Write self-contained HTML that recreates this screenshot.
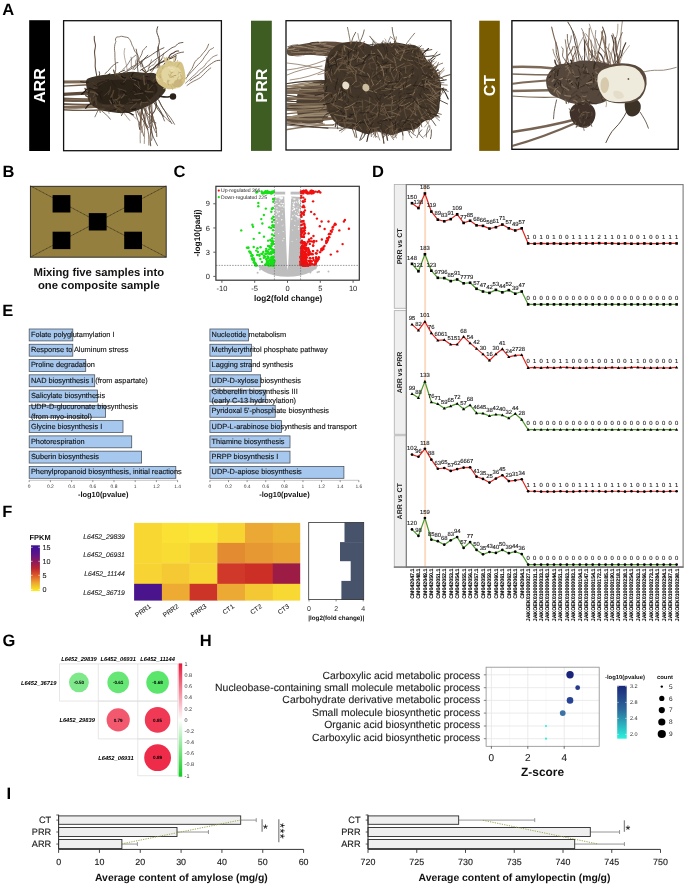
<!DOCTYPE html>
<html><head><meta charset="utf-8"><title>Figure</title>
<style>html,body{margin:0;padding:0;background:#fff;}svg{display:block;}</style></head><body>
<svg width="685" height="884" viewBox="0 0 685 884" font-family="'Liberation Sans', Arial, Helvetica, sans-serif" text-rendering="geometricPrecision">
<rect width="685" height="884" fill="#fff"/>
<text x="2.2" y="14.7" font-size="16.5" font-weight="bold">A</text>
<rect x="29.2" y="20.2" width="20.8" height="130.8" fill="#000"/>
<text x="45.4" y="85.6" font-size="16" font-weight="bold" text-anchor="middle" fill="#fff" transform="rotate(-90 45.4 85.6)">ARR</text>
<rect x="251" y="20.7" width="20.8" height="130.2" fill="#3e5d23"/>
<text x="267.2" y="85.6" font-size="16" font-weight="bold" text-anchor="middle" fill="#fff" transform="rotate(-90 267.2 85.6)">PRR</text>
<rect x="479.2" y="20.7" width="20.6" height="130.2" fill="#7a5c00"/>
<text x="495.3" y="85.6" font-size="16" font-weight="bold" text-anchor="middle" fill="#fff" transform="rotate(-90 495.3 85.6)">CT</text>
<defs><clipPath id="ca"><rect x="64" y="21" width="157" height="129"/></clipPath><clipPath id="cp"><rect x="286.5" y="21" width="164" height="128.5"/></clipPath><clipPath id="cc"><rect x="512.5" y="21" width="165" height="127.5"/></clipPath><filter id="pb" x="-5%" y="-5%" width="110%" height="110%"><feGaussianBlur stdDeviation="0.35"/></filter></defs>
<g clip-path="url(#ca)"><g filter="url(#pb)"><path d="M96.71 75.56Q95.74 70.71 95.39 68.16Q95.05 65.61 95.25 62.92Q95.45 60.23 95.08 57.73Q94.71 55.23 94.58 52.99Q94.45 50.74 95.12 48.51Q95.78 46.27 95.32 44.36Q94.86 42.46 94.55 41.14Q94.24 39.81 94.27 38.03L94.3 36.25" fill="none" stroke="#5e4a3a" stroke-width="1.06" stroke-linecap="round" stroke-linejoin="round"/>
<path d="M115.07 73.76Q116.03 68.56 115.68 65.87Q115.32 63.18 115.1 60.32Q114.89 57.47 114.91 54.9Q114.92 52.34 114.63 50.66Q114.34 48.98 114.58 46.54Q114.81 44.1 115.51 42.63Q116.2 41.17 115.69 40.84Q115.17 40.52 115.6 38.79Q116.03 37.06 117.08 36.97Q118.13 36.88 118.67 36.9Q119.22 36.92 120.17 36.47Q121.13 36.03 123.09 36.56Q125.04 37.09 126.61 37.27Q128.19 37.44 128.97 38.43Q129.75 39.42 130.46 40.78Q131.17 42.13 131.62 43.74Q132.06 45.35 132.87 46.49Q133.67 47.62 134.02 49.39Q134.36 51.15 135.94 52.54Q137.51 53.94 137.96 55.48Q138.41 57.02 138.67 58.83Q138.93 60.64 139.65 61.68Q140.36 62.71 140.69 64.84L141.02 66.97" fill="none" stroke="#6b5646" stroke-width="0.82" stroke-linecap="round" stroke-linejoin="round"/>
<path d="M157.77 67.79Q159.31 61.67 159.35 59.98Q159.4 58.28 159.29 55.64Q159.19 53 158.53 49.85Q157.87 46.71 158.77 44.79Q159.66 42.87 159.16 39.98Q158.65 37.08 157.97 35.65Q157.29 34.22 156.91 32.55Q156.52 30.89 157.09 28.83L157.66 26.77" fill="none" stroke="#4f3c2e" stroke-width="0.93" stroke-linecap="round" stroke-linejoin="round"/>
<path d="M140.17 70.49Q144.2 67.74 146.05 66.83Q147.91 65.92 149.94 64.03Q151.97 62.15 154.68 60.09Q157.4 58.03 159.02 57.09Q160.64 56.15 163.64 53.82Q166.64 51.5 167.34 50.99Q168.05 50.48 170.13 48.94Q172.21 47.39 173.56 47.08Q174.9 46.76 175.89 45.8Q176.87 44.84 177.71 43.96Q178.54 43.08 180.73 42.78L182.93 42.48" fill="none" stroke="#4f3c2e" stroke-width="0.83" stroke-linecap="round" stroke-linejoin="round"/>
<path d="M145.84 72.81Q149.98 69.37 152.42 68.5Q154.86 67.62 156.06 65.79Q157.25 63.96 159.78 62.93Q162.31 61.9 163.73 60.33Q165.15 58.76 167.99 58.13Q170.83 57.5 172.32 56.33Q173.8 55.16 176.32 53.96Q178.83 52.76 181.2 52.41L183.56 52.06" fill="none" stroke="#6b5646" stroke-width="0.92" stroke-linecap="round" stroke-linejoin="round"/>
<path d="M123.28 72.9Q127 71.13 128.85 70.18Q130.71 69.23 132.45 68.04Q134.18 66.85 136.4 64.95Q138.62 63.05 140.79 61.39Q142.96 59.73 145.58 58.44Q148.2 57.15 150.33 55.72Q152.47 54.29 155.2 52.38Q157.94 50.48 160.92 49.11L163.91 47.74" fill="none" stroke="#4f3c2e" stroke-width="0.83" stroke-linecap="round" stroke-linejoin="round"/>
<path d="M150.47 70.41Q153.92 68.16 155.15 66.6Q156.37 65.04 158.59 63.89Q160.8 62.74 162.98 61.66Q165.17 60.58 168.28 59.36Q171.39 58.15 173.82 56.96L176.25 55.76" fill="none" stroke="#4f3c2e" stroke-width="1.07" stroke-linecap="round" stroke-linejoin="round"/>
<path d="M127.14 70.18Q129.9 68.18 131.53 67.09Q133.17 65.99 135.02 65.19Q136.87 64.39 137.39 62.49Q137.92 60.59 139 58.98Q140.08 57.37 141.06 55.5Q142.03 53.62 142.27 52Q142.51 50.38 144.05 49.14Q145.58 47.89 146.07 47.11L146.56 46.32" fill="none" stroke="#6b5646" stroke-width="0.8" stroke-linecap="round" stroke-linejoin="round"/>
<path d="M105.02 73.6Q108.36 70.74 108.85 70.11Q109.34 69.48 110.83 67.68Q112.32 65.88 113.55 65.1Q114.78 64.32 115.56 63.53Q116.33 62.73 117.1 62.67L117.86 62.61" fill="none" stroke="#5e4a3a" stroke-width="0.88" stroke-linecap="round" stroke-linejoin="round"/>
<path d="M161.77 70.17Q162.97 65.94 163.81 64.97Q164.66 64.01 165.68 62.21Q166.7 60.42 167.8 58.99Q168.9 57.55 169.12 56.73Q169.34 55.9 170.44 54.66Q171.55 53.43 172.69 53.17Q173.83 52.92 174.91 51.94Q175.99 50.96 177.33 50.96L178.68 50.96" fill="none" stroke="#4f3c2e" stroke-width="1.06" stroke-linecap="round" stroke-linejoin="round"/>
<path d="M143.19 66.25Q142.8 65.09 142.15 64.07Q141.5 63.05 140.32 62.66Q139.14 62.27 138.59 61.45L138.04 60.64" fill="none" stroke="#5a4636" stroke-width="0.7" stroke-linecap="round" stroke-linejoin="round"/>
<path d="M160.99 74.97Q160 66.62 159.4 63.33Q158.8 60.04 157.9 57.12Q157 54.21 157.49 50.59L157.99 46.97" fill="none" stroke="#3e3024" stroke-width="0.7" stroke-linecap="round" stroke-linejoin="round"/>
<path d="M134.26 69.6Q138.93 64.49 140.28 63.49Q141.62 62.49 143.28 60.15Q144.95 57.82 146.41 56.54L147.87 55.26" fill="none" stroke="#3e3024" stroke-width="0.8" stroke-linecap="round" stroke-linejoin="round"/>
<path d="M122.69 69.69Q125.92 67.07 127.36 64.91Q128.8 62.74 129.82 60.92Q130.84 59.09 133.3 57.14L135.75 55.19" fill="none" stroke="#4a3a2c" stroke-width="0.64" stroke-linecap="round" stroke-linejoin="round"/>
<path d="M146.77 72.18Q148.64 70.03 148.93 67.67Q149.23 65.31 149.99 63.88Q150.74 62.46 151.1 61.11L151.46 59.77" fill="none" stroke="#5a4636" stroke-width="0.6" stroke-linecap="round" stroke-linejoin="round"/>
<path d="M138.12 72.73Q137.42 67.23 137.33 64.01Q137.24 60.79 137.19 57.5Q137.15 54.21 136.65 51.69L136.16 49.17" fill="none" stroke="#3e3024" stroke-width="0.77" stroke-linecap="round" stroke-linejoin="round"/>
<path d="M148.67 68.14Q152.01 64.91 153 64.98Q153.99 65.04 154.65 63.71Q155.31 62.39 155.97 61.5L156.63 60.6" fill="none" stroke="#4a3a2c" stroke-width="0.59" stroke-linecap="round" stroke-linejoin="round"/>
<path d="M146.26 72.02Q143.94 67.53 143.34 67.37Q142.74 67.21 142.44 66.03Q142.14 64.85 141.89 63.07L141.65 61.28" fill="none" stroke="#3e3024" stroke-width="0.78" stroke-linecap="round" stroke-linejoin="round"/>
<path d="M132.88 69.75Q133.57 66.99 134.82 66.66Q136.06 66.32 135.7 64.15Q135.34 61.97 135.75 60.93L136.16 59.9" fill="none" stroke="#7a634f" stroke-width="0.66" stroke-linecap="round" stroke-linejoin="round"/>
<path d="M156.76 67.36Q158 64.54 159.28 62.61Q160.56 60.68 161.53 59.12Q162.5 57.56 163.19 55.42L163.88 53.29" fill="none" stroke="#3e3024" stroke-width="0.54" stroke-linecap="round" stroke-linejoin="round"/>
<path d="M151.43 72.1Q154.82 67.87 155.38 66.74Q155.95 65.61 157.91 63.69Q159.86 61.76 160.83 60.32L161.8 58.89" fill="none" stroke="#3e3024" stroke-width="0.68" stroke-linecap="round" stroke-linejoin="round"/>
<path d="M127.45 72.92Q126.77 65.79 126.02 63.25Q125.27 60.71 124.52 56.91Q123.78 53.12 124.29 50.76L124.8 48.4" fill="none" stroke="#7a634f" stroke-width="0.53" stroke-linecap="round" stroke-linejoin="round"/>
<path d="M169.28 67.65Q170.48 63.58 171.83 63.19Q173.19 62.8 174.38 61.54Q175.57 60.28 175.73 58.75L175.9 57.21" fill="none" stroke="#3e3024" stroke-width="0.8" stroke-linecap="round" stroke-linejoin="round"/>
<path d="M131.36 67.17Q131.4 64.22 131.28 63.14Q131.16 62.05 131.36 60.84Q131.56 59.63 131.3 58.44L131.04 57.25" fill="none" stroke="#3e3024" stroke-width="0.52" stroke-linecap="round" stroke-linejoin="round"/>
<path d="M185.91 78.48Q189.81 73.39 191.57 71.71Q193.33 70.03 194.68 68.41Q196.03 66.79 198.32 64.6Q200.6 62.41 201.91 60.83Q203.22 59.26 204.02 57.73Q204.81 56.2 205.91 55.08Q207.01 53.97 208.31 51.74Q209.61 49.52 210.72 49.25Q211.82 48.99 212.69 48.31L213.56 47.63" fill="none" stroke="#5e4a3a" stroke-width="0.75" stroke-linecap="round" stroke-linejoin="round"/>
<path d="M185.66 83.08Q189.24 79.86 190.8 78.14Q192.36 76.41 194.12 75.25Q195.87 74.09 197.74 71.65Q199.6 69.2 201.69 68.34Q203.78 67.48 205.29 64.79Q206.81 62.1 207.68 61.76Q208.55 61.42 210.07 59.43Q211.6 57.43 213.2 56.65Q214.81 55.86 215.98 55.45L217.15 55.03" fill="none" stroke="#7a634f" stroke-width="0.74" stroke-linecap="round" stroke-linejoin="round"/>
<path d="M187.4 75.52Q190.46 70.55 191.35 69.51Q192.23 68.48 192.87 66.64Q193.51 64.8 194.31 63.1Q195.1 61.39 196.68 59.79Q198.25 58.2 199.38 57.5Q200.5 56.81 201.55 55.16Q202.6 53.52 203.77 52.33Q204.93 51.14 205.96 49.71Q206.99 48.28 207.8 46.21L208.62 44.15" fill="none" stroke="#7a634f" stroke-width="0.89" stroke-linecap="round" stroke-linejoin="round"/>
<path d="M189.91 80.77Q194.38 77.27 196.66 75.99Q198.94 74.71 200.51 72.95Q202.08 71.19 203.97 69.59Q205.86 67.99 207.71 66.39Q209.57 64.8 211.6 63.43Q213.62 62.06 215.05 61.3Q216.47 60.54 218.16 60.43L219.86 60.33" fill="none" stroke="#6b5646" stroke-width="0.9" stroke-linecap="round" stroke-linejoin="round"/>
<path d="M187.03 85.49Q191.09 82.31 193.8 81.05Q196.51 79.78 198.65 78.64Q200.8 77.5 201.95 76.24Q203.1 74.98 205.49 72.56Q207.89 70.15 209.35 69L210.81 67.86" fill="none" stroke="#6b5646" stroke-width="0.79" stroke-linecap="round" stroke-linejoin="round"/>
<path d="M146.84 106.97Q145.51 111.32 144.78 113.92Q144.05 116.51 144.5 119.38Q144.95 122.25 143.55 124.75Q142.16 127.24 141.87 129.82L141.58 132.39" fill="none" stroke="#7a634f" stroke-width="0.67" stroke-linecap="round" stroke-linejoin="round"/>
<path d="M149.58 104.28Q148.99 110.99 150.77 112.87Q152.54 114.75 152.56 116.49Q152.58 118.23 153.8 121.01Q155.02 123.79 155.58 126.2L156.13 128.62" fill="none" stroke="#6b5646" stroke-width="1.08" stroke-linecap="round" stroke-linejoin="round"/>
<path d="M151.62 100.11Q151.86 110.06 152.17 113.94Q152.48 117.81 152.1 122.16Q151.71 126.5 150.73 131.86Q149.75 137.21 150.24 141.53L150.73 145.85" fill="none" stroke="#6b5646" stroke-width="1.04" stroke-linecap="round" stroke-linejoin="round"/>
<path d="M141.09 102.61Q142.77 108.98 142.36 110.71Q141.96 112.43 141.08 114.88Q140.19 117.33 140.47 119.89Q140.75 122.45 140.16 125.82L139.57 129.19" fill="none" stroke="#6b5646" stroke-width="1.02" stroke-linecap="round" stroke-linejoin="round"/>
<path d="M141.37 104.27Q142.23 112.41 143.25 116.39Q144.26 120.36 145.71 124.14Q147.17 127.91 148.02 131.12Q148.88 134.33 148.9 139.72L148.92 145.1" fill="none" stroke="#7a634f" stroke-width="0.93" stroke-linecap="round" stroke-linejoin="round"/>
<path d="M147.76 105.11Q150.2 111.9 149.52 115.83Q148.83 119.76 149.85 123.48Q150.86 127.2 151.74 130.58Q152.62 133.95 152.11 137.16L151.59 140.37" fill="none" stroke="#4a3a2c" stroke-width="0.74" stroke-linecap="round" stroke-linejoin="round"/>
<path d="M141.58 101.02Q141.26 111.14 141.53 115.55Q141.8 119.96 141.19 123.56Q140.59 127.17 140.32 131.65Q140.06 136.14 140.18 139.5L140.29 142.86" fill="none" stroke="#6b5646" stroke-width="0.64" stroke-linecap="round" stroke-linejoin="round"/>
<path d="M144.94 108.33Q147.18 111.28 147.22 112.61Q147.27 113.93 149.42 114.93Q151.56 115.92 151.42 118.7Q151.27 121.48 153.57 122.17L155.86 122.87" fill="none" stroke="#5a4636" stroke-width="0.87" stroke-linecap="round" stroke-linejoin="round"/>
<path d="M149.72 102.46Q150.92 108.02 151.78 112.08Q152.64 116.14 153.45 118.57Q154.27 121 155.35 125.57Q156.44 130.14 156.62 133.35L156.79 136.55" fill="none" stroke="#6b5646" stroke-width="0.96" stroke-linecap="round" stroke-linejoin="round"/>
<path d="M134.36 107.3Q137.5 110.85 138.17 113.13Q138.85 115.42 140.66 117.13Q142.47 118.84 143.23 120.57Q143.99 122.3 145.87 125.82L147.75 129.35" fill="none" stroke="#5a4636" stroke-width="1" stroke-linecap="round" stroke-linejoin="round"/>
<path d="M143.75 101.25Q142.55 106.42 141.28 110.27Q140.01 114.11 140.87 116.7Q141.73 119.29 139.95 121.71Q138.17 124.13 139.07 126.71L139.97 129.3" fill="none" stroke="#4a3a2c" stroke-width="0.74" stroke-linecap="round" stroke-linejoin="round"/>
<path d="M136.65 101.87Q137.82 108.21 139.08 111.63Q140.33 115.04 140.49 119.04Q140.65 123.05 141.04 125.35Q141.42 127.65 142.57 131.89L143.72 136.13" fill="none" stroke="#7a634f" stroke-width="0.9" stroke-linecap="round" stroke-linejoin="round"/>
<path d="M140.67 103.21Q145.14 111.33 146.44 113.72Q147.74 116.11 149.04 117.68Q150.33 119.24 151.86 123.29Q153.38 127.34 154.6 130.08L155.83 132.81" fill="none" stroke="#6b5646" stroke-width="0.8" stroke-linecap="round" stroke-linejoin="round"/>
<path d="M144.03 101.2Q146.04 110.13 145.79 114.94Q145.55 119.76 145.08 123.08Q144.62 126.4 144.56 130.83Q144.5 135.26 144.39 139.39L144.28 143.52" fill="none" stroke="#7a634f" stroke-width="0.68" stroke-linecap="round" stroke-linejoin="round"/>
<path d="M156.31 105.24Q155.25 110.51 154.24 111.57Q153.24 112.63 152.11 114.81Q150.98 116.98 151.15 119.82Q151.33 122.66 150.32 123.37L149.32 124.08" fill="none" stroke="#5a4636" stroke-width="1.04" stroke-linecap="round" stroke-linejoin="round"/>
<path d="M142.21 103.33Q146.03 112.85 147.14 116.91Q148.25 120.97 149.13 124.6Q150 128.24 151.85 133.26Q153.71 138.28 155.58 141.88L157.45 145.48" fill="none" stroke="#4a3a2c" stroke-width="0.76" stroke-linecap="round" stroke-linejoin="round"/>
<path d="M130.78 104.59Q134.83 106.41 135.3 108.7Q135.77 111 136.14 113.56Q136.52 116.12 137.16 117.96Q137.8 119.8 138.71 122.49L139.62 125.18" fill="none" stroke="#5a4636" stroke-width="0.83" stroke-linecap="round" stroke-linejoin="round"/>
<path d="M139.9 101.06Q141.84 105.42 141.56 107.99Q141.27 110.55 142.94 114.1Q144.6 117.64 144.62 119.71Q144.63 121.79 146.49 124.65L148.35 127.52" fill="none" stroke="#4a3a2c" stroke-width="0.88" stroke-linecap="round" stroke-linejoin="round"/>
<path d="M150.7 100.14Q154.92 102.71 155.46 104.83Q156 106.96 157.99 109.47Q159.98 111.98 161.67 114.26L163.35 116.54" fill="none" stroke="#4a3a2c" stroke-width="0.91" stroke-linecap="round" stroke-linejoin="round"/>
<path d="M158.98 100.52Q161.45 106.6 163.4 108.97Q165.36 111.34 166.6 114.47Q167.84 117.61 169.9 120.64L171.96 123.67" fill="none" stroke="#5a4636" stroke-width="0.86" stroke-linecap="round" stroke-linejoin="round"/>
<path d="M157.34 98.09Q161.88 106.39 163.66 109.2Q165.44 112.01 167.84 114.52Q170.24 117.03 172.39 120.68L174.54 124.34" fill="none" stroke="#5a4636" stroke-width="0.74" stroke-linecap="round" stroke-linejoin="round"/>
<path d="M153.4 98.17Q155.28 103.16 157.38 105.96Q159.49 108.76 160.9 112.03Q162.31 115.3 163.39 118.11L164.48 120.91" fill="none" stroke="#4a3a2c" stroke-width="0.73" stroke-linecap="round" stroke-linejoin="round"/>
<path d="M153.95 102.95Q158.61 107.76 160.46 110.94Q162.32 114.11 164.09 116.23Q165.87 118.36 167.98 120.21L170.09 122.05" fill="none" stroke="#5a4636" stroke-width="0.65" stroke-linecap="round" stroke-linejoin="round"/>
<path d="M101.56 110.76Q106.43 114.53 108.37 116.87L110.31 119.22" fill="none" stroke="#4a3a2c" stroke-width="0.7" stroke-linecap="round" stroke-linejoin="round"/>
<path d="M100.4 105.69Q97.54 111.31 96.23 114.09L94.92 116.88" fill="none" stroke="#5a4636" stroke-width="0.7" stroke-linecap="round" stroke-linejoin="round"/>
<path d="M116.42 104.15Q118.33 109.13 119.85 111.6L121.37 114.07" fill="none" stroke="#7a634f" stroke-width="0.7" stroke-linecap="round" stroke-linejoin="round"/>
<path d="M119.59 106.76Q124.92 114.62 127.35 117.53L129.78 120.44" fill="none" stroke="#8a735f" stroke-width="0.7" stroke-linecap="round" stroke-linejoin="round"/>
<path d="M109.54 109.27Q108.53 110.56 108.81 112.01L109.09 113.47" fill="none" stroke="#8a735f" stroke-width="0.7" stroke-linecap="round" stroke-linejoin="round"/>
<path d="M125.08 105.41Q126.75 110.93 129.16 112.86L131.56 114.8" fill="none" stroke="#7a634f" stroke-width="0.7" stroke-linecap="round" stroke-linejoin="round"/>
<path d="M125.71 109.39Q131.18 113.49 133.78 116.3L136.38 119.12" fill="none" stroke="#8a735f" stroke-width="0.7" stroke-linecap="round" stroke-linejoin="round"/>
<path d="M99.23 104.32Q99.72 109.41 99.97 110.96L100.22 112.51" fill="none" stroke="#3e3024" stroke-width="0.7" stroke-linecap="round" stroke-linejoin="round"/>
<path d="M63 81.94Q83.69 81.44 105 81.8" fill="none" stroke="#7b6752" stroke-width="3" stroke-linecap="round"/>
<path d="M63 86.09Q83.86 84.58 105 84.18" fill="none" stroke="#6e5a48" stroke-width="1.4" stroke-linecap="round"/>
<path d="M63 94.32Q85.14 92.81 105 93.07" fill="none" stroke="#5e4c3c" stroke-width="3.2" stroke-linecap="round"/>
<path d="M63 98.36Q83.09 99.58 105 98.77" fill="none" stroke="#6e5a48" stroke-width="1.5" stroke-linecap="round"/>
<path d="M63 100.35Q84.41 100.97 105 100.39" fill="none" stroke="#6e5a48" stroke-width="2.6" stroke-linecap="round"/>
<path d="M63 104.06Q83.07 105.24 105 104.13" fill="none" stroke="#6e5a48" stroke-width="2" stroke-linecap="round"/>
<path d="M63 107.05Q84.95 107.87 105 105.92" fill="none" stroke="#7b6752" stroke-width="2.8" stroke-linecap="round"/>
<path d="M63 109.77Q83.5 111.1 105 109.68" fill="none" stroke="#6e5a48" stroke-width="1.4" stroke-linecap="round"/>
<path d="M86.38 86.29Q85 79.69 87.91 78.5Q90.81 77.3 96.72 75.99Q102.63 74.69 109.9 74.24Q117.17 73.79 124.59 72.53Q132.01 71.26 138.59 72.18Q145.18 73.09 150.64 72.86Q156.09 72.62 159.07 77.17Q162.06 81.72 164.74 85.28Q167.42 88.85 164.22 92.76Q161.01 96.68 157.81 99.77Q154.6 102.87 147.54 106.18Q140.47 109.5 133.47 111.48Q126.47 113.47 118.35 112.89Q110.23 112.31 104.18 111.02Q98.13 109.72 93.19 106.26Q88.25 102.79 88 97.84Q87.76 92.88 86.38 86.29Z" fill="#3e3126" />
<path d="M95.17 89.79Q94.85 82.84 101.57 81.44Q108.3 80.05 116.52 79.74Q124.74 79.43 133.59 79.47Q142.44 79.5 148.37 80.85Q154.31 82.21 156.86 86.31Q159.41 90.42 153.92 95.71Q148.43 101 141.95 102.68Q135.47 104.35 124.71 104.33Q113.94 104.32 106.59 104.25Q99.25 104.18 97.37 100.46Q95.49 96.74 95.17 89.79Z" fill="#2b2119" />
<path d="M145.04 93.27Q140.7 90.95 138.7 89.02" fill="none" stroke="#1e1712" stroke-width="1" stroke-linecap="round"/>
<path d="M147.39 103.46Q147.92 100.49 148.52 99.19" fill="none" stroke="#3a2d23" stroke-width="1.14" stroke-linecap="round"/>
<path d="M105.43 80.1Q106.9 80.94 108.69 79.49" fill="none" stroke="#261d16" stroke-width="0.74" stroke-linecap="round"/>
<path d="M119.64 89.67Q118.04 94.77 119.01 97.43" fill="none" stroke="#3a2d23" stroke-width="1.18" stroke-linecap="round"/>
<path d="M131.52 100.89Q130.11 100.31 129.14 98.56" fill="none" stroke="#3a2d23" stroke-width="1.26" stroke-linecap="round"/>
<path d="M148.02 102.61Q144.6 102.28 141.12 102.68" fill="none" stroke="#614f3d" stroke-width="0.74" stroke-linecap="round"/>
<path d="M140.63 105.24Q140.75 103.19 141.4 101.96" fill="none" stroke="#614f3d" stroke-width="1.23" stroke-linecap="round"/>
<path d="M145.94 96.03Q148.49 100.28 150.9 101.62" fill="none" stroke="#54432f" stroke-width="0.82" stroke-linecap="round"/>
<path d="M156.99 77.66Q154.89 77.88 153.24 80.65" fill="none" stroke="#54432f" stroke-width="1.21" stroke-linecap="round"/>
<path d="M134.22 83.83Q136.96 85.35 140.19 89.35" fill="none" stroke="#614f3d" stroke-width="0.93" stroke-linecap="round"/>
<path d="M111.64 111.25Q110.11 110.66 109.15 109.17" fill="none" stroke="#54432f" stroke-width="1.26" stroke-linecap="round"/>
<path d="M130.53 108.48Q132.75 106.72 136.91 102.81" fill="none" stroke="#614f3d" stroke-width="0.94" stroke-linecap="round"/>
<path d="M148.07 80.62Q147.04 81.29 145.71 83.97" fill="none" stroke="#614f3d" stroke-width="0.96" stroke-linecap="round"/>
<path d="M132.7 102.38Q130.15 101.94 126.85 103.4" fill="none" stroke="#4a3b2e" stroke-width="0.78" stroke-linecap="round"/>
<path d="M115.4 74.91Q113.79 71.05 113.54 70.08" fill="none" stroke="#614f3d" stroke-width="1.27" stroke-linecap="round"/>
<path d="M125.99 94.69Q123.53 91.63 123.45 91.22" fill="none" stroke="#1e1712" stroke-width="1.44" stroke-linecap="round"/>
<path d="M113.5 102.63Q111.36 97.93 112.1 94.3" fill="none" stroke="#4a3b2e" stroke-width="1" stroke-linecap="round"/>
<path d="M154.07 87.25Q154.42 90.79 153.75 95.52" fill="none" stroke="#3a2d23" stroke-width="0.81" stroke-linecap="round"/>
<path d="M132.82 73.27Q131.9 74.74 130.71 78.4" fill="none" stroke="#1e1712" stroke-width="1.09" stroke-linecap="round"/>
<path d="M109.74 90.07Q107.78 93.06 103.81 95.85" fill="none" stroke="#4a3b2e" stroke-width="0.96" stroke-linecap="round"/>
<path d="M115.69 106.64Q115.58 108.14 116.41 111.34" fill="none" stroke="#54432f" stroke-width="1.36" stroke-linecap="round"/>
<path d="M145.26 91.31Q149.77 92.06 152.81 91.85" fill="none" stroke="#54432f" stroke-width="1.43" stroke-linecap="round"/>
<path d="M101.73 99.57Q100.65 94.99 97.36 92.01" fill="none" stroke="#1e1712" stroke-width="0.83" stroke-linecap="round"/>
<path d="M149.56 76.79Q147.89 76.28 143.63 77.06" fill="none" stroke="#1e1712" stroke-width="0.85" stroke-linecap="round"/>
<path d="M97 88.1Q95.52 87.63 93.05 88.72" fill="none" stroke="#54432f" stroke-width="1.27" stroke-linecap="round"/>
<path d="M123.22 82.28Q125.93 81.55 126.14 78.41" fill="none" stroke="#54432f" stroke-width="0.93" stroke-linecap="round"/>
<path d="M89.16 88.17Q92.23 89.09 94.79 90.18" fill="none" stroke="#261d16" stroke-width="1.4" stroke-linecap="round"/>
<path d="M110.53 86.93Q110.54 91.13 108.22 94.48" fill="none" stroke="#4a3b2e" stroke-width="1.15" stroke-linecap="round"/>
<path d="M162.28 86.51Q159.26 84.89 154.6 82.52" fill="none" stroke="#3a2d23" stroke-width="1.09" stroke-linecap="round"/>
<path d="M134.25 74.55Q136.73 77.15 139.51 76.95" fill="none" stroke="#4a3b2e" stroke-width="0.63" stroke-linecap="round"/>
<path d="M95.14 92.28Q95.64 93.64 93.28 97.1" fill="none" stroke="#614f3d" stroke-width="0.84" stroke-linecap="round"/>
<path d="M105.17 80.8Q102.36 78.76 96.68 79.7" fill="none" stroke="#3a2d23" stroke-width="1.04" stroke-linecap="round"/>
<path d="M137.31 93.93Q136.05 93.09 132.8 89.44" fill="none" stroke="#261d16" stroke-width="0.84" stroke-linecap="round"/>
<path d="M150.06 80.32Q147.57 80.5 146.93 82.71" fill="none" stroke="#261d16" stroke-width="1.16" stroke-linecap="round"/>
<path d="M124.23 94.55Q123.37 96.38 121.02 98" fill="none" stroke="#614f3d" stroke-width="1.18" stroke-linecap="round"/>
<path d="M113.7 100.25Q118.06 99.87 120.15 96.57" fill="none" stroke="#54432f" stroke-width="1.4" stroke-linecap="round"/>
<path d="M109.43 105.96Q104.53 106.05 102.38 105.41" fill="none" stroke="#4a3b2e" stroke-width="1.38" stroke-linecap="round"/>
<path d="M88.38 82.16Q84.17 82.62 80.61 81.79" fill="none" stroke="#261d16" stroke-width="0.93" stroke-linecap="round"/>
<path d="M139.99 79.34Q141.49 76.57 142.61 76.02" fill="none" stroke="#4a3b2e" stroke-width="1.18" stroke-linecap="round"/>
<path d="M94.3 101.61Q93.16 103.94 93.83 105.55" fill="none" stroke="#261d16" stroke-width="0.81" stroke-linecap="round"/>
<path d="M132.01 109.64Q134.44 109.05 135.75 108.94" fill="none" stroke="#1e1712" stroke-width="1.2" stroke-linecap="round"/>
<path d="M115.71 99.17Q118.47 101.79 118.24 102.19" fill="none" stroke="#614f3d" stroke-width="0.86" stroke-linecap="round"/>
<path d="M93.85 85.2Q96.89 85.34 100.02 86.24" fill="none" stroke="#261d16" stroke-width="0.99" stroke-linecap="round"/>
<path d="M155.32 97.98Q155.65 100.53 156.53 105.21" fill="none" stroke="#3a2d23" stroke-width="0.95" stroke-linecap="round"/>
<path d="M140.91 93.84Q140.54 90.81 142.12 90.15" fill="none" stroke="#261d16" stroke-width="1.39" stroke-linecap="round"/>
<path d="M119.48 78.07Q121.41 75.86 122.93 75.01" fill="none" stroke="#4a3b2e" stroke-width="0.85" stroke-linecap="round"/>
<path d="M102.66 91.29Q99.8 91.68 99.63 94.69" fill="none" stroke="#261d16" stroke-width="1.2" stroke-linecap="round"/>
<path d="M95.46 103.56Q96.78 102.97 100.9 103.28" fill="none" stroke="#3a2d23" stroke-width="0.96" stroke-linecap="round"/>
<path d="M88.73 94.02Q86.2 92.53 85.01 88.4" fill="none" stroke="#614f3d" stroke-width="1.49" stroke-linecap="round"/>
<path d="M120.34 105.35Q118.61 102.35 119.71 101.34" fill="none" stroke="#54432f" stroke-width="1.21" stroke-linecap="round"/>
<path d="M129.57 74.52Q124.2 75 121.44 76.29" fill="none" stroke="#3a2d23" stroke-width="0.84" stroke-linecap="round"/>
<path d="M104.09 108.98Q101.77 109.55 99.25 109.13" fill="none" stroke="#54432f" stroke-width="1.44" stroke-linecap="round"/>
<path d="M123.53 105.6Q120.38 106.41 116.49 110.16" fill="none" stroke="#614f3d" stroke-width="0.8" stroke-linecap="round"/>
<path d="M115.85 86.77Q113.27 83.91 111.51 80.21" fill="none" stroke="#261d16" stroke-width="0.88" stroke-linecap="round"/>
<path d="M89.47 98.13Q86.7 95.89 85.66 95.57" fill="none" stroke="#54432f" stroke-width="1.27" stroke-linecap="round"/>
<path d="M128.79 99.21Q128.52 100.39 130.39 102.47" fill="none" stroke="#4a3b2e" stroke-width="0.62" stroke-linecap="round"/>
<path d="M116.78 74.09Q121.4 77.31 123.98 78.97" fill="none" stroke="#54432f" stroke-width="1.39" stroke-linecap="round"/>
<path d="M110.31 102.17Q113.57 106.36 117.25 107.78" fill="none" stroke="#614f3d" stroke-width="1.05" stroke-linecap="round"/>
<path d="M150.63 74.8Q148.49 78.35 144.06 80.23" fill="none" stroke="#3a2d23" stroke-width="1.49" stroke-linecap="round"/>
<path d="M96.15 97.39Q92.81 100.12 91.2 102.15" fill="none" stroke="#4a3b2e" stroke-width="1.37" stroke-linecap="round"/>
<path d="M135.55 92.19Q134.88 92 132.19 90.67" fill="none" stroke="#4a3b2e" stroke-width="0.99" stroke-linecap="round"/>
<path d="M122.31 105.46Q119.81 104.07 117.06 105.41" fill="none" stroke="#54432f" stroke-width="1.08" stroke-linecap="round"/>
<path d="M121.04 83.37Q122.11 83.95 124.23 84.32" fill="none" stroke="#261d16" stroke-width="1.49" stroke-linecap="round"/>
<path d="M144.52 84.52Q143.85 81.17 143.77 75.61" fill="none" stroke="#614f3d" stroke-width="1.28" stroke-linecap="round"/>
<path d="M157.58 76.44Q160.1 79.31 160.88 84.32" fill="none" stroke="#54432f" stroke-width="1.32" stroke-linecap="round"/>
<path d="M125.95 111.75Q130.36 112.63 133.5 115" fill="none" stroke="#261d16" stroke-width="1.01" stroke-linecap="round"/>
<path d="M127.98 106.62Q129.19 107.55 129.54 111.03" fill="none" stroke="#3a2d23" stroke-width="1" stroke-linecap="round"/>
<path d="M89.92 91.87Q95.19 91.98 97.63 94.7" fill="none" stroke="#614f3d" stroke-width="1.33" stroke-linecap="round"/>
<path d="M98.64 85.35Q101.74 82.83 106.51 81.58" fill="none" stroke="#4a3b2e" stroke-width="0.76" stroke-linecap="round"/>
<path d="M115.87 105.97Q111.47 104.61 109.63 100.32" fill="none" stroke="#614f3d" stroke-width="1.08" stroke-linecap="round"/>
<path d="M109.95 110.28Q114.55 109.32 116.19 109.1" fill="none" stroke="#261d16" stroke-width="1.23" stroke-linecap="round"/>
<path d="M137.98 80.34Q137.95 84.26 139.89 87.7" fill="none" stroke="#54432f" stroke-width="0.72" stroke-linecap="round"/>
<path d="M134.02 86.3Q136.09 91.24 137 94.76" fill="none" stroke="#261d16" stroke-width="1.38" stroke-linecap="round"/>
<path d="M147.12 80.01Q148.82 81.34 151.26 82" fill="none" stroke="#261d16" stroke-width="1.01" stroke-linecap="round"/>
<path d="M125.53 109.67Q122.68 112.87 121.42 115.6" fill="none" stroke="#261d16" stroke-width="0.71" stroke-linecap="round"/>
<path d="M90.41 97.93Q89.95 100.57 91.3 103.73" fill="none" stroke="#614f3d" stroke-width="1" stroke-linecap="round"/>
<path d="M89.26 88.76Q90.08 90.91 88.16 94.3" fill="none" stroke="#1e1712" stroke-width="0.61" stroke-linecap="round"/>
<path d="M134.07 72.61Q132.85 74.59 129.44 77.25" fill="none" stroke="#261d16" stroke-width="0.91" stroke-linecap="round"/>
<path d="M132.44 93.84Q134.6 95.88 139.23 98.74" fill="none" stroke="#261d16" stroke-width="0.63" stroke-linecap="round"/>
<path d="M132.4 99.89Q137.46 100.15 140.28 99.39" fill="none" stroke="#614f3d" stroke-width="1.02" stroke-linecap="round"/>
<path d="M113.66 90.59Q112.56 95.22 110.83 97.02" fill="none" stroke="#54432f" stroke-width="1.49" stroke-linecap="round"/>
<path d="M116.4 105.15Q115.78 100.93 112.16 99.32" fill="none" stroke="#4a3b2e" stroke-width="1.19" stroke-linecap="round"/>
<path d="M126.46 95.37Q122.52 94.23 118.48 95.5" fill="none" stroke="#54432f" stroke-width="0.6" stroke-linecap="round"/>
<path d="M122.85 107.36Q120.66 107.76 119.26 108.97" fill="none" stroke="#54432f" stroke-width="0.7" stroke-linecap="round"/>
<path d="M117.86 94.44Q120.42 95.33 125.42 93.22" fill="none" stroke="#3a2d23" stroke-width="0.71" stroke-linecap="round"/>
<path d="M130.57 77.19Q132.53 79.62 135.73 80.39" fill="none" stroke="#614f3d" stroke-width="1.13" stroke-linecap="round"/>
<path d="M122.24 111.59Q119.35 109.44 118.83 109.46" fill="none" stroke="#54432f" stroke-width="1.33" stroke-linecap="round"/>
<path d="M125.31 77.76Q123.8 78.35 121.59 76.17" fill="none" stroke="#1e1712" stroke-width="1.47" stroke-linecap="round"/>
<path d="M96.61 104.74Q95.22 101.21 95.9 97.5" fill="none" stroke="#54432f" stroke-width="0.96" stroke-linecap="round"/>
<path d="M124.46 108.48Q121.64 107.14 117.16 106.45" fill="none" stroke="#261d16" stroke-width="0.67" stroke-linecap="round"/>
<path d="M105.39 76.47Q107.52 75.72 109.73 74.04" fill="none" stroke="#3a2d23" stroke-width="1.45" stroke-linecap="round"/>
<path d="M130.57 92.04Q132.18 91.23 134.99 88.99" fill="none" stroke="#261d16" stroke-width="0.8" stroke-linecap="round"/>
<path d="M90.93 103.67Q87.85 104.8 85.77 108.24" fill="none" stroke="#261d16" stroke-width="1.35" stroke-linecap="round"/>
<path d="M89.06 93.11Q85.65 91.12 83.9 91.53" fill="none" stroke="#261d16" stroke-width="0.63" stroke-linecap="round"/>
<path d="M113.49 110.04Q111.13 109.28 107.37 109.27" fill="none" stroke="#3a2d23" stroke-width="1.47" stroke-linecap="round"/>
<path d="M162.79 86.63Q160.06 85.45 158.53 83.61" fill="none" stroke="#3a2d23" stroke-width="0.65" stroke-linecap="round"/>
<path d="M99.06 76.72Q100.27 73.33 99.33 71.66" fill="none" stroke="#3a2d23" stroke-width="0.84" stroke-linecap="round"/>
<path d="M149.24 89.02Q150.33 87.48 152.7 84.85" fill="none" stroke="#54432f" stroke-width="0.96" stroke-linecap="round"/>
<path d="M102.47 82.01Q103.35 81.76 106.29 82.8" fill="none" stroke="#261d16" stroke-width="0.65" stroke-linecap="round"/>
<path d="M146.61 73.92Q145.66 72.11 142.14 69.46" fill="none" stroke="#54432f" stroke-width="1.16" stroke-linecap="round"/>
<path d="M139.99 80.46Q136.13 78.81 132.39 78.16" fill="none" stroke="#1e1712" stroke-width="1.49" stroke-linecap="round"/>
<path d="M148.07 89.62Q147.94 86.8 148.13 84.35" fill="none" stroke="#54432f" stroke-width="1" stroke-linecap="round"/>
<path d="M113.19 105.27Q112.02 102.33 111.48 98.25" fill="none" stroke="#1e1712" stroke-width="1.1" stroke-linecap="round"/>
<path d="M159.63 80.45Q157.97 80.9 154.28 83.62" fill="none" stroke="#261d16" stroke-width="1.03" stroke-linecap="round"/>
<path d="M86.57 89.28Q85.33 91.71 81.51 94.18" fill="none" stroke="#1e1712" stroke-width="1.32" stroke-linecap="round"/>
<path d="M125.94 91.27Q122.89 89.5 118.21 88.78" fill="none" stroke="#54432f" stroke-width="0.91" stroke-linecap="round"/>
<path d="M97.44 85.99Q94.53 84.55 92.3 82.67" fill="none" stroke="#4a3b2e" stroke-width="0.92" stroke-linecap="round"/>
<path d="M131.87 91.22Q134.93 90.12 136.8 90.62" fill="none" stroke="#261d16" stroke-width="0.92" stroke-linecap="round"/>
<path d="M117.69 73.8Q120.4 71.19 124.58 70.11" fill="none" stroke="#614f3d" stroke-width="0.99" stroke-linecap="round"/>
<path d="M134.65 94.38Q138.69 93.7 143.01 93.1" fill="none" stroke="#614f3d" stroke-width="0.77" stroke-linecap="round"/>
<path d="M155.83 75.39Q156.19 72.29 158.1 68.86Q160 65.44 163.4 64.6Q166.79 63.76 168.12 61.87Q169.46 59.98 172.22 61.45Q174.98 62.91 177.87 61.84Q180.75 60.77 182.22 63.18Q183.68 65.6 184.57 70.19Q185.45 74.78 185.51 78.58Q185.58 82.38 182.66 84.92Q179.75 87.46 175.63 88.47Q171.5 89.47 168.15 89.13Q164.79 88.79 161.26 86.08Q157.72 83.37 156.59 80.93Q155.46 78.49 155.83 75.39Z" fill="#d5c386" />
<path d="M161.44 74.49Q161.17 70.53 164.47 67.95Q167.77 65.38 171.27 65.43Q174.77 65.48 178.2 67.87Q181.62 70.27 181.64 74.18Q181.66 78.1 178.64 80.71Q175.62 83.32 170.93 83.9Q166.25 84.47 163.98 81.46Q161.71 78.44 161.44 74.49Z" fill="#e2d5a0" />
<path d="M173.55 83.71Q173.89 80.32 177.47 79.48Q181.04 78.63 182.32 81.47Q183.59 84.3 181.13 86.28Q178.66 88.25 175.93 87.67Q173.2 87.09 173.55 83.71Z" fill="#c9b47e" />
<path d="M174.79 69.19Q173.3 70.28 170.9 71.11" fill="none" stroke="#efe4b8" stroke-width="0.73" stroke-linecap="round"/>
<path d="M166.48 81.88Q168.33 80.81 169.78 80.66" fill="none" stroke="#c2ad72" stroke-width="0.54" stroke-linecap="round"/>
<path d="M172.05 77.25Q173.35 74.81 175.83 75.36" fill="none" stroke="#b89f68" stroke-width="0.98" stroke-linecap="round"/>
<path d="M161.05 71.02Q161.67 72.48 159.59 72.95" fill="none" stroke="#c2ad72" stroke-width="0.51" stroke-linecap="round"/>
<path d="M172.7 89.48Q172.65 87.45 170.89 85.29" fill="none" stroke="#c2ad72" stroke-width="0.72" stroke-linecap="round"/>
<path d="M176.06 62.58Q176.68 61.92 174.75 58.97" fill="none" stroke="#c2ad72" stroke-width="0.71" stroke-linecap="round"/>
<path d="M170.06 62.36Q169.65 62.7 166.4 62.66" fill="none" stroke="#c2ad72" stroke-width="0.95" stroke-linecap="round"/>
<path d="M162.94 66.58Q162.89 68.91 162.59 69.01" fill="none" stroke="#c2ad72" stroke-width="0.93" stroke-linecap="round"/>
<path d="M170.18 77.72Q169.77 77.25 168.67 74.19" fill="none" stroke="#c2ad72" stroke-width="0.88" stroke-linecap="round"/>
<path d="M158.38 68.94Q157.35 70.24 156.83 73.65" fill="none" stroke="#c2ad72" stroke-width="0.84" stroke-linecap="round"/>
<path d="M171.11 77.4Q169.72 73.9 171.32 72.98" fill="none" stroke="#c2ad72" stroke-width="0.99" stroke-linecap="round"/>
<path d="M180.83 72.23Q178.6 74.35 179.28 74.84" fill="none" stroke="#efe4b8" stroke-width="0.52" stroke-linecap="round"/>
<path d="M166.46 81.69Q165.4 82.78 163.43 81.28" fill="none" stroke="#efe4b8" stroke-width="0.59" stroke-linecap="round"/>
<path d="M159.65 67.6Q156.99 67.1 155.34 68.18" fill="none" stroke="#b89f68" stroke-width="0.81" stroke-linecap="round"/>
<path d="M173.46 77.23Q171.97 75.47 171.61 76.31" fill="none" stroke="#b89f68" stroke-width="0.66" stroke-linecap="round"/>
<path d="M177.52 80.22Q176.71 79.26 178.43 76.72" fill="none" stroke="#c2ad72" stroke-width="0.72" stroke-linecap="round"/>
<path d="M156.39 76.71Q156.4 76.96 158.99 79.77" fill="none" stroke="#efe4b8" stroke-width="1" stroke-linecap="round"/>
<path d="M167.99 80.11Q167.39 83.81 168.54 85.06" fill="none" stroke="#b89f68" stroke-width="0.8" stroke-linecap="round"/>
<path d="M177.99 74.28Q178.41 72.99 178.84 72.42" fill="none" stroke="#c2ad72" stroke-width="0.71" stroke-linecap="round"/>
<path d="M159.96 74.78Q159.09 75.15 160.4 77.71" fill="none" stroke="#b89f68" stroke-width="0.66" stroke-linecap="round"/>
<path d="M176.75 67.11Q178.61 64.82 179.47 63.33" fill="none" stroke="#b89f68" stroke-width="0.56" stroke-linecap="round"/>
<path d="M163.46 88.17Q164.16 87.37 165.76 89.28" fill="none" stroke="#efe4b8" stroke-width="0.66" stroke-linecap="round"/>
<path d="M173.06 68.22Q170.68 68.82 168.65 67.6" fill="none" stroke="#efe4b8" stroke-width="0.97" stroke-linecap="round"/>
<path d="M178.58 87.73Q176.83 87.9 176.1 87.67" fill="none" stroke="#efe4b8" stroke-width="0.74" stroke-linecap="round"/>
<path d="M182.69 77.93Q181.18 78.56 179.75 81.96" fill="none" stroke="#c2ad72" stroke-width="0.97" stroke-linecap="round"/>
<path d="M178.64 72.02Q178.84 73.12 181 72.81" fill="none" stroke="#c2ad72" stroke-width="0.98" stroke-linecap="round"/>
<path d="M184.81 78.37Q185.29 77.77 186.72 79.17" fill="none" stroke="#c2ad72" stroke-width="0.67" stroke-linecap="round"/>
<path d="M181.29 76.86Q181.49 74.58 180.24 74.31" fill="none" stroke="#c2ad72" stroke-width="0.94" stroke-linecap="round"/>
<path d="M173.01 72.51Q170.87 73.33 169.74 71.67" fill="none" stroke="#c2ad72" stroke-width="0.84" stroke-linecap="round"/>
<path d="M174.28 86.73Q173.53 86.56 172.42 83.88" fill="none" stroke="#c2ad72" stroke-width="0.97" stroke-linecap="round"/>
<path d="M165.52 66Q166.09 62.19 165.85 59.02" fill="none" stroke="#d8c790" stroke-width="1.2" stroke-linecap="round"/>
<path d="M173.33 66Q173.69 60.73 174.14 57.02" fill="none" stroke="#d8c790" stroke-width="1.2" stroke-linecap="round"/>
<path d="M175.89 66Q177.16 63.45 177.69 60.25" fill="none" stroke="#d8c790" stroke-width="1.2" stroke-linecap="round"/>
<path d="M167.62 66Q167.75 62.73 167.61 61.23" fill="none" stroke="#d8c790" stroke-width="1.2" stroke-linecap="round"/>
<path d="M165.67 66Q165.37 60.71 166.5 57.31" fill="none" stroke="#d8c790" stroke-width="1.2" stroke-linecap="round"/>
<path d="M170.92 66Q168.68 62.37 168.23 58.4" fill="none" stroke="#d8c790" stroke-width="1.2" stroke-linecap="round"/>
<path d="M167.57 66Q166.46 61.19 164.82 57.97" fill="none" stroke="#d8c790" stroke-width="1.2" stroke-linecap="round"/>
<path d="M166.47 66Q165.87 60.98 163.82 57.36" fill="none" stroke="#d8c790" stroke-width="1.2" stroke-linecap="round"/>
<circle cx="173" cy="96.5" r="3.2" fill="#2a211a" />
<path d="M159.82 96.17Q166 97.43 169.07 96.81L172.15 96.19" fill="none" stroke="#2a211a" stroke-width="1.6" stroke-linecap="round" stroke-linejoin="round"/></g></g>
<g clip-path="url(#cp)"><g filter="url(#pb)"><path d="M286.67 51.78Q286.73 46.42 292.99 45.61Q299.24 44.8 308.37 43.1Q317.49 41.39 326.87 41.57Q336.24 41.75 343.43 42.66Q350.62 43.57 351.68 47.64Q352.74 51.71 346.45 54.7Q340.16 57.69 331.23 56.68Q322.3 55.68 313.31 54.98Q304.33 54.28 295.47 55.71Q286.61 57.14 286.67 51.78Z" fill="#5e4d3d" />
<path d="M306.5 44.85Q313.64 46.7 318.15 46.91" fill="none" stroke="#8a7660" stroke-width="1.02" stroke-linecap="round"/>
<path d="M326.41 45.88Q331.7 48.27 335.3 47.94" fill="none" stroke="#4a3b2f" stroke-width="0.77" stroke-linecap="round"/>
<path d="M303.86 52.38Q309.77 51.98 313.28 52.06" fill="none" stroke="#9c8870" stroke-width="0.9" stroke-linecap="round"/>
<path d="M320.14 48.14Q327.12 48.37 335.26 49.36" fill="none" stroke="#8a7660" stroke-width="0.78" stroke-linecap="round"/>
<path d="M325.31 50.15Q331.76 48.7 338.04 49.72" fill="none" stroke="#5c4a3a" stroke-width="0.81" stroke-linecap="round"/>
<path d="M314.5 48.04Q322.11 49.4 329.66 51.35" fill="none" stroke="#8a7660" stroke-width="0.88" stroke-linecap="round"/>
<path d="M310.83 44.68Q316.68 44.62 322.87 47.18" fill="none" stroke="#4a3b2f" stroke-width="1.08" stroke-linecap="round"/>
<path d="M328.71 45.02Q331.68 46.32 335.2 45.65" fill="none" stroke="#5c4a3a" stroke-width="0.63" stroke-linecap="round"/>
<path d="M293.92 52.61Q298.82 52.89 302.62 51.01" fill="none" stroke="#5c4a3a" stroke-width="1.04" stroke-linecap="round"/>
<path d="M328.46 47.31Q335.81 49.64 342.51 49.32" fill="none" stroke="#8a7660" stroke-width="0.71" stroke-linecap="round"/>
<path d="M292.42 51.44Q297.94 50.48 305.4 52.06" fill="none" stroke="#4a3b2f" stroke-width="0.81" stroke-linecap="round"/>
<path d="M302.83 54.99Q305.94 54.21 311.48 53.6" fill="none" stroke="#4a3b2f" stroke-width="0.84" stroke-linecap="round"/>
<path d="M293.76 55.62Q296.87 56.69 301.56 55.72" fill="none" stroke="#8a7660" stroke-width="0.72" stroke-linecap="round"/>
<path d="M335.75 51.53Q341.79 49.35 348.31 48.64" fill="none" stroke="#4a3b2f" stroke-width="0.67" stroke-linecap="round"/>
<path d="M323.36 44.67Q326.42 44.7 332.31 46.78" fill="none" stroke="#9c8870" stroke-width="0.63" stroke-linecap="round"/>
<path d="M318.12 42.45Q321.51 44.31 324.11 43.25" fill="none" stroke="#4a3b2f" stroke-width="0.87" stroke-linecap="round"/>
<path d="M314.37 47.33Q322.73 46.99 329.96 45.44" fill="none" stroke="#8a7660" stroke-width="0.71" stroke-linecap="round"/>
<path d="M338.97 55.4Q344.83 55.56 348.59 55.64" fill="none" stroke="#4a3b2f" stroke-width="0.76" stroke-linecap="round"/>
<path d="M320.68 47.22Q326.1 46.93 331.52 48.82" fill="none" stroke="#4a3b2f" stroke-width="0.9" stroke-linecap="round"/>
<path d="M291.12 51.99Q296.41 53.34 304.19 52.16" fill="none" stroke="#9c8870" stroke-width="0.74" stroke-linecap="round"/>
<path d="M296.09 50.37Q302.06 52.26 307.87 52.54" fill="none" stroke="#8a7660" stroke-width="0.67" stroke-linecap="round"/>
<path d="M319.44 42.77Q322.97 44.26 326.08 43.21" fill="none" stroke="#9c8870" stroke-width="0.9" stroke-linecap="round"/>
<path d="M313.19 51.34Q319.23 53.22 322.45 52.45" fill="none" stroke="#8a7660" stroke-width="1.14" stroke-linecap="round"/>
<path d="M338.85 51.78Q342.46 50.06 347.63 51" fill="none" stroke="#9c8870" stroke-width="0.78" stroke-linecap="round"/>
<path d="M287.58 46.74Q292.2 44.74 297.82 44.68" fill="none" stroke="#5c4a3a" stroke-width="0.77" stroke-linecap="round"/>
<path d="M312.01 44.1Q315.36 44.26 320.35 43.69" fill="none" stroke="#9c8870" stroke-width="1.14" stroke-linecap="round"/>
<path d="M316.64 46.2Q321.07 47.03 323.57 46.35" fill="none" stroke="#4a3b2f" stroke-width="0.87" stroke-linecap="round"/>
<path d="M302.97 45.66Q308.16 43.66 314.39 43.66" fill="none" stroke="#5c4a3a" stroke-width="0.64" stroke-linecap="round"/>
<path d="M308.42 47.71Q314.08 49.32 319.99 50.14" fill="none" stroke="#8a7660" stroke-width="0.84" stroke-linecap="round"/>
<path d="M316.29 54.79Q320.89 55.97 324.37 54.55" fill="none" stroke="#8a7660" stroke-width="0.69" stroke-linecap="round"/>
<path d="M315.92 53.67Q321.63 53.31 326.53 52.16" fill="none" stroke="#8a7660" stroke-width="1.06" stroke-linecap="round"/>
<path d="M296.66 53.82Q301.69 54.81 308.52 54.04" fill="none" stroke="#5c4a3a" stroke-width="0.87" stroke-linecap="round"/>
<path d="M333.26 53.64Q339.4 53.85 343.74 54.52" fill="none" stroke="#4a3b2f" stroke-width="1.07" stroke-linecap="round"/>
<path d="M300.88 49.95Q307.02 49.7 312.56 51.02" fill="none" stroke="#4a3b2f" stroke-width="0.81" stroke-linecap="round"/>
<path d="M338.67 47.59Q343.58 48.74 350.13 50.39" fill="none" stroke="#4a3b2f" stroke-width="1.18" stroke-linecap="round"/>
<path d="M295.12 50.26Q300.2 51.19 307.63 50.28" fill="none" stroke="#4a3b2f" stroke-width="0.84" stroke-linecap="round"/>
<path d="M292.74 49.58Q294.78 51.43 298.82 50.31" fill="none" stroke="#9c8870" stroke-width="0.69" stroke-linecap="round"/>
<path d="M348.09 49.62Q351.15 48.96 354.99 48.44" fill="none" stroke="#4a3b2f" stroke-width="1.03" stroke-linecap="round"/>
<path d="M331.87 52.03Q337.02 53.41 343.2 53.09" fill="none" stroke="#9c8870" stroke-width="0.74" stroke-linecap="round"/>
<path d="M297.86 54.88Q300.09 55.05 304.91 53.27" fill="none" stroke="#5c4a3a" stroke-width="0.98" stroke-linecap="round"/>
<path d="M308.14 48.46Q313.17 48.66 316.39 49.42" fill="none" stroke="#8a7660" stroke-width="0.94" stroke-linecap="round"/>
<path d="M326.53 46.1Q330.84 45.41 335.75 47.14" fill="none" stroke="#8a7660" stroke-width="1.01" stroke-linecap="round"/>
<path d="M321.51 44.37Q328.77 45.73 336.32 47.78" fill="none" stroke="#8a7660" stroke-width="0.82" stroke-linecap="round"/>
<path d="M287.82 49.21Q291.52 49.91 294.85 48.2" fill="none" stroke="#9c8870" stroke-width="1.2" stroke-linecap="round"/>
<path d="M293.24 48.96Q297.25 47.43 303.16 47.47" fill="none" stroke="#8a7660" stroke-width="0.61" stroke-linecap="round"/>
<path d="M293.48 45.9Q300.78 46.22 307.3 47.7" fill="none" stroke="#9c8870" stroke-width="1.04" stroke-linecap="round"/>
<path d="M310.25 43.22Q313.42 42.83 318.46 43.1" fill="none" stroke="#8a7660" stroke-width="1.09" stroke-linecap="round"/>
<path d="M337.09 53.32Q345.59 54.05 352.23 52.27" fill="none" stroke="#5c4a3a" stroke-width="0.92" stroke-linecap="round"/>
<path d="M344.36 49.18Q347.44 49.37 351.65 47.41" fill="none" stroke="#5c4a3a" stroke-width="0.67" stroke-linecap="round"/>
<path d="M309.09 43.67Q313.55 41.98 318.53 42.38" fill="none" stroke="#4a3b2f" stroke-width="1.07" stroke-linecap="round"/>
<path d="M287 63Q309.62 65.19 330 72" fill="none" stroke="#8b7762" stroke-width="0.8" stroke-linecap="round"/>
<path d="M287 75Q302.32 68.31 322 66" fill="none" stroke="#8b7762" stroke-width="0.8" stroke-linecap="round"/>
<path d="M290 80Q310.32 77.48 325 70" fill="none" stroke="#8b7762" stroke-width="0.8" stroke-linecap="round"/>
<path d="M287 70Q305.59 67.96 326 60" fill="none" stroke="#8b7762" stroke-width="0.8" stroke-linecap="round"/>
<path d="M297.91 92.79Q300.23 86.34 309.29 83.22Q318.35 80.11 323.9 80.19Q329.45 80.27 331.36 89.95Q333.27 99.64 331.27 109.39Q329.26 119.14 320.81 121.99Q312.35 124.84 305.26 123.75Q298.17 122.67 296.88 110.95Q295.59 99.24 297.91 92.79Z" fill="#4e4032" />
<path d="M286 89.21Q314.11 85.94 342.66 82.45" fill="none" stroke="#9a8870" stroke-width="1.38" stroke-linecap="round"/>
<path d="M286 89.23Q306.94 89.89 332.85 87.48" fill="none" stroke="#7a6650" stroke-width="1.18" stroke-linecap="round"/>
<path d="M286 104.37Q311.95 106.03 340.05 102" fill="none" stroke="#8c7a62" stroke-width="1.13" stroke-linecap="round"/>
<path d="M286 86.81Q301.43 83.13 321.6 80.39" fill="none" stroke="#9a8870" stroke-width="1.25" stroke-linecap="round"/>
<path d="M286 120.81Q302.71 122.69 322.45 121.35" fill="none" stroke="#5e4c3c" stroke-width="1.27" stroke-linecap="round"/>
<path d="M286 88.73Q305.29 88.96 327.39 90.83" fill="none" stroke="#4a3c30" stroke-width="1.19" stroke-linecap="round"/>
<path d="M286 90.66Q305.09 91.09 326.82 93.38" fill="none" stroke="#5e4c3c" stroke-width="1.79" stroke-linecap="round"/>
<path d="M286 98.61Q309.59 98.06 327.19 94.14" fill="none" stroke="#7a6650" stroke-width="1.39" stroke-linecap="round"/>
<path d="M286 93.17Q311.22 92.58 330.77 92.56" fill="none" stroke="#4a3c30" stroke-width="1.33" stroke-linecap="round"/>
<path d="M286 119.22Q316.75 118.75 343.89 117.75" fill="none" stroke="#5e4c3c" stroke-width="1.92" stroke-linecap="round"/>
<path d="M286 117.41Q309.17 114.87 333.46 115.43" fill="none" stroke="#9a8870" stroke-width="1.95" stroke-linecap="round"/>
<path d="M286 104.4Q309.64 103.77 332.44 104.74" fill="none" stroke="#5e4c3c" stroke-width="1.65" stroke-linecap="round"/>
<path d="M286 85.83Q313.96 87.65 336.54 86.06" fill="none" stroke="#7a6650" stroke-width="1.38" stroke-linecap="round"/>
<path d="M286 83.86Q304.38 80.53 326.23 80.62" fill="none" stroke="#4a3c30" stroke-width="1.02" stroke-linecap="round"/>
<path d="M286 106.4Q305.09 104.74 321.19 102.9" fill="none" stroke="#4a3c30" stroke-width="1.96" stroke-linecap="round"/>
<path d="M286 88.52Q313.04 83.88 339.6 84.77" fill="none" stroke="#9a8870" stroke-width="0.95" stroke-linecap="round"/>
<path d="M286 100.36Q307.27 96.59 324.74 96.45" fill="none" stroke="#7a6650" stroke-width="1.98" stroke-linecap="round"/>
<path d="M286 108.62Q308.5 104.94 333.62 104.03" fill="none" stroke="#9a8870" stroke-width="1" stroke-linecap="round"/>
<path d="M286 99.09Q303.01 96.81 321.23 97.28" fill="none" stroke="#5e4c3c" stroke-width="1.23" stroke-linecap="round"/>
<path d="M286 97.48Q308.38 99.26 325.68 99.04" fill="none" stroke="#8c7a62" stroke-width="1.55" stroke-linecap="round"/>
<path d="M286 90.08Q308.64 88.52 330.09 91.45" fill="none" stroke="#9a8870" stroke-width="1.42" stroke-linecap="round"/>
<path d="M286 129.75Q311.14 125.02 333.28 124.96" fill="none" stroke="#8c7a62" stroke-width="1.4" stroke-linecap="round"/>
<path d="M286 108.3Q309.81 109.03 334.92 104.37" fill="none" stroke="#7a6650" stroke-width="1.71" stroke-linecap="round"/>
<path d="M286 95.05Q304.73 98.53 322.72 97.93" fill="none" stroke="#5e4c3c" stroke-width="1.33" stroke-linecap="round"/>
<path d="M286 100.97Q302.22 102.59 323.9 99.69" fill="none" stroke="#4a3c30" stroke-width="1.16" stroke-linecap="round"/>
<path d="M286 109.24Q314.88 105.05 342.11 103.21" fill="none" stroke="#5e4c3c" stroke-width="1.71" stroke-linecap="round"/>
<path d="M286 106.47Q313.37 108.04 335.78 103.9" fill="none" stroke="#9a8870" stroke-width="1.64" stroke-linecap="round"/>
<path d="M286 91.82Q311.12 95.85 331.99 97.5" fill="none" stroke="#7a6650" stroke-width="1.51" stroke-linecap="round"/>
<path d="M286 123.67Q306.68 126.66 328 128.08" fill="none" stroke="#4a3c30" stroke-width="1.16" stroke-linecap="round"/>
<path d="M286 110.03Q314.68 112.24 340.02 112.14" fill="none" stroke="#8c7a62" stroke-width="1.67" stroke-linecap="round"/>
<path d="M286 103.98Q306.59 104.43 325.83 105.92" fill="none" stroke="#9a8870" stroke-width="0.84" stroke-linecap="round"/>
<path d="M286 120.66Q306.32 119.82 322.58 123.18" fill="none" stroke="#5e4c3c" stroke-width="1.42" stroke-linecap="round"/>
<path d="M286 123.28Q307.1 121.35 330.71 119.25" fill="none" stroke="#5e4c3c" stroke-width="1.34" stroke-linecap="round"/>
<path d="M286 125.05Q314.84 128.39 342.08 128.21" fill="none" stroke="#5e4c3c" stroke-width="0.85" stroke-linecap="round"/>
<path d="M286 86.59Q307.01 82.95 329.44 85.08" fill="none" stroke="#9a8870" stroke-width="1.92" stroke-linecap="round"/>
<path d="M286 103.42Q312.38 104.86 338.7 101.88" fill="none" stroke="#7a6650" stroke-width="1.3" stroke-linecap="round"/>
<path d="M286 122.76Q306 124.39 324.42 124.27" fill="none" stroke="#9a8870" stroke-width="1.44" stroke-linecap="round"/>
<path d="M286 116.65Q315.03 120.53 342.34 118.62" fill="none" stroke="#7a6650" stroke-width="1.34" stroke-linecap="round"/>
<path d="M286 108.24Q302.68 110.91 324.78 108.44" fill="none" stroke="#4a3c30" stroke-width="1.41" stroke-linecap="round"/>
<path d="M286 88.64Q307.2 87.51 334.07 84.18" fill="none" stroke="#5e4c3c" stroke-width="0.82" stroke-linecap="round"/>
<path d="M286 117.75Q305.11 120.48 321.26 118.9" fill="none" stroke="#8c7a62" stroke-width="1.81" stroke-linecap="round"/>
<path d="M286 92.24Q315.53 92.33 339.86 88.06" fill="none" stroke="#7a6650" stroke-width="1.62" stroke-linecap="round"/>
<path d="M286 110.11Q308.59 110.94 325.94 108.05" fill="none" stroke="#8c7a62" stroke-width="1.54" stroke-linecap="round"/>
<path d="M286 118.22Q307.25 112.83 328.08 113.34" fill="none" stroke="#9a8870" stroke-width="1.78" stroke-linecap="round"/>
<path d="M286 113.82Q309.98 110.78 332.49 110.56" fill="none" stroke="#7a6650" stroke-width="1.23" stroke-linecap="round"/>
<path d="M286 106.79Q310.49 105.61 335.83 104.59" fill="none" stroke="#7a6650" stroke-width="1.04" stroke-linecap="round"/>
<path d="M324.65 68.19Q325.12 60.72 328.43 54.24Q331.74 47.76 337.51 44.95Q343.29 42.15 352.53 41.61Q361.77 41.06 367.09 44.03Q372.42 47 374.37 44.89Q376.33 42.78 384.38 43.25Q392.43 43.71 394.18 42.79Q395.92 41.87 400.93 43.34Q405.95 44.81 410.56 44.71Q415.16 44.6 418.29 47.11Q421.42 49.61 424.27 55.57Q427.12 61.53 429.65 62.99Q432.19 64.45 435.83 70.72Q439.48 76.99 440.5 82.38Q441.53 87.77 440.52 95.62Q439.51 103.46 439.44 107.5Q439.38 111.53 436.18 115.51Q432.98 119.49 427.88 120.26Q422.79 121.04 420.27 125.17Q417.75 129.3 409.73 130.21Q401.71 131.12 396.55 133.72Q391.38 136.32 384.35 133.23Q377.32 130.14 372.04 132.81Q366.75 135.48 360.47 132.11Q354.2 128.73 347.67 128.42Q341.15 128.11 336.72 124.1Q332.29 120.1 330.3 115.29Q328.31 110.49 325.73 103.54Q323.14 96.59 324.19 90.48Q325.24 84.36 324.71 80.01Q324.17 75.66 324.65 68.19Z" fill="#433629" />
<path d="M410.43 48.4Q408.04 48.01 405.49 46.56" fill="none" stroke="#5e4c3a" stroke-width="0.55" stroke-linecap="round"/>
<path d="M419.01 94.08Q421.39 98.8 425.17 101.15" fill="none" stroke="#2b231c" stroke-width="1" stroke-linecap="round"/>
<path d="M382.94 86.57Q385.54 80.34 386.5 76.18" fill="none" stroke="#76624b" stroke-width="0.68" stroke-linecap="round"/>
<path d="M408.15 93.29Q412.66 94.2 415.19 92.22" fill="none" stroke="#2b231c" stroke-width="0.96" stroke-linecap="round"/>
<path d="M374.74 44.13Q369.22 44.58 365.3 45.51" fill="none" stroke="#2b231c" stroke-width="0.72" stroke-linecap="round"/>
<path d="M373.99 69.46Q370.77 68.19 368.24 67.22" fill="none" stroke="#5e4c3a" stroke-width="0.52" stroke-linecap="round"/>
<path d="M358.04 54.74Q355.32 49.88 355.49 43.31" fill="none" stroke="#2b231c" stroke-width="0.83" stroke-linecap="round"/>
<path d="M397.64 83.47Q395.03 79.5 394.39 76.59" fill="none" stroke="#3a2f25" stroke-width="0.88" stroke-linecap="round"/>
<path d="M388.04 82.45Q386.14 84.36 383.89 83.62" fill="none" stroke="#76624b" stroke-width="0.89" stroke-linecap="round"/>
<path d="M339.44 96.18Q340.31 94.54 338.51 90.32" fill="none" stroke="#2b231c" stroke-width="0.89" stroke-linecap="round"/>
<path d="M404.95 49.49Q402.32 55.2 400.17 60.55" fill="none" stroke="#857058" stroke-width="1.07" stroke-linecap="round"/>
<path d="M379.88 102.96Q379.22 99.69 381.19 95.94" fill="none" stroke="#2b231c" stroke-width="0.77" stroke-linecap="round"/>
<path d="M431.13 81.15Q433.71 75.03 437.64 69.3" fill="none" stroke="#3a2f25" stroke-width="0.59" stroke-linecap="round"/>
<path d="M389.72 117.81Q386.23 112.66 380.86 108.21" fill="none" stroke="#76624b" stroke-width="0.61" stroke-linecap="round"/>
<path d="M355.27 124.76Q355.08 130.49 356.82 137.74" fill="none" stroke="#76624b" stroke-width="1.02" stroke-linecap="round"/>
<path d="M421.21 113.11Q419.35 109.94 418.51 108.09" fill="none" stroke="#6a5743" stroke-width="0.56" stroke-linecap="round"/>
<path d="M337.57 50.55Q342.4 51.98 344.5 51.82" fill="none" stroke="#2b231c" stroke-width="0.85" stroke-linecap="round"/>
<path d="M375.87 109.35Q378.63 106.12 380.58 104.94" fill="none" stroke="#2b231c" stroke-width="0.5" stroke-linecap="round"/>
<path d="M372.48 104.52Q378.1 105.7 384.16 106.9" fill="none" stroke="#5e4c3a" stroke-width="0.82" stroke-linecap="round"/>
<path d="M340.35 66.03Q343.98 64.25 349.93 63.34" fill="none" stroke="#4a3b2d" stroke-width="0.56" stroke-linecap="round"/>
<path d="M401.34 125.19Q403.44 128.22 407.18 130.73" fill="none" stroke="#3a2f25" stroke-width="0.75" stroke-linecap="round"/>
<path d="M356.1 103.75Q357.26 103.31 360.46 102.12" fill="none" stroke="#2b231c" stroke-width="0.8" stroke-linecap="round"/>
<path d="M400.37 85.82Q395.64 88.92 390.36 93.88" fill="none" stroke="#6a5743" stroke-width="0.56" stroke-linecap="round"/>
<path d="M412.8 95.48Q414.66 92.19 415.04 89.23" fill="none" stroke="#6a5743" stroke-width="1.02" stroke-linecap="round"/>
<path d="M388.33 108.33Q384.1 109.1 379.07 109.09" fill="none" stroke="#4a3b2d" stroke-width="0.95" stroke-linecap="round"/>
<path d="M399.01 87.67Q405.08 89.57 412.18 89.29" fill="none" stroke="#2b231c" stroke-width="0.79" stroke-linecap="round"/>
<path d="M409.64 108.36Q412.1 113.27 416.85 115.36" fill="none" stroke="#6a5743" stroke-width="1.06" stroke-linecap="round"/>
<path d="M406.2 80.83Q410.54 75.33 414 72.67" fill="none" stroke="#857058" stroke-width="0.56" stroke-linecap="round"/>
<path d="M326.01 72.52Q327.07 75.54 328.22 78.54" fill="none" stroke="#6a5743" stroke-width="0.92" stroke-linecap="round"/>
<path d="M427.94 81.05Q432.75 84.51 434.58 89.95" fill="none" stroke="#3a2f25" stroke-width="0.67" stroke-linecap="round"/>
<path d="M369.79 97.78Q370.32 103.78 368.69 110.48" fill="none" stroke="#6a5743" stroke-width="0.84" stroke-linecap="round"/>
<path d="M368.57 126.69Q370.29 128.26 371.31 131.45" fill="none" stroke="#6a5743" stroke-width="0.56" stroke-linecap="round"/>
<path d="M353.73 87.91Q356.96 88.92 360.4 88.9" fill="none" stroke="#3a2f25" stroke-width="0.72" stroke-linecap="round"/>
<path d="M408.09 59.02Q407.25 61.63 406.96 63.71" fill="none" stroke="#5e4c3a" stroke-width="0.5" stroke-linecap="round"/>
<path d="M435.64 85.6Q441.33 83.98 447.25 85.08" fill="none" stroke="#76624b" stroke-width="0.78" stroke-linecap="round"/>
<path d="M425.33 62.54Q422.18 62.63 417.85 64.45" fill="none" stroke="#5e4c3a" stroke-width="1.02" stroke-linecap="round"/>
<path d="M350.91 79.48Q351.44 75.53 354.71 71.85" fill="none" stroke="#4a3b2d" stroke-width="1.04" stroke-linecap="round"/>
<path d="M325.73 70.94Q327.6 71.55 331.44 71.78" fill="none" stroke="#3a2f25" stroke-width="1.05" stroke-linecap="round"/>
<path d="M337.63 123.67Q342.17 123.11 345.95 119.88" fill="none" stroke="#4a3b2d" stroke-width="1" stroke-linecap="round"/>
<path d="M427.92 108.99Q423.1 107.68 416.35 104.47" fill="none" stroke="#2b231c" stroke-width="0.55" stroke-linecap="round"/>
<path d="M398.95 106.16Q405.58 105.59 409.83 102.54" fill="none" stroke="#857058" stroke-width="0.9" stroke-linecap="round"/>
<path d="M379.5 109.82Q385.37 114.37 391.37 117.1" fill="none" stroke="#6a5743" stroke-width="0.66" stroke-linecap="round"/>
<path d="M342.39 91.37Q337.17 93.62 332.99 95.73" fill="none" stroke="#76624b" stroke-width="1.05" stroke-linecap="round"/>
<path d="M326.11 76.95Q325.38 81.2 323.65 88.44" fill="none" stroke="#2b231c" stroke-width="0.74" stroke-linecap="round"/>
<path d="M340.64 50.19Q342.31 52.21 346.49 53" fill="none" stroke="#4a3b2d" stroke-width="0.56" stroke-linecap="round"/>
<path d="M405.47 99.03Q400.36 103.36 396.59 108.95" fill="none" stroke="#6a5743" stroke-width="1.01" stroke-linecap="round"/>
<path d="M440.02 98.57Q439.26 101.96 438.92 102.42" fill="none" stroke="#2b231c" stroke-width="0.93" stroke-linecap="round"/>
<path d="M347.25 59.86Q350.95 62.43 351.93 66.75" fill="none" stroke="#3a2f25" stroke-width="0.66" stroke-linecap="round"/>
<path d="M378.44 46Q373.58 42.53 369.78 36.25" fill="none" stroke="#6a5743" stroke-width="0.92" stroke-linecap="round"/>
<path d="M413.46 69.09Q411.91 72.24 411.86 75.94" fill="none" stroke="#2b231c" stroke-width="0.6" stroke-linecap="round"/>
<path d="M337.58 58.7Q341.84 63.25 343.75 67.21" fill="none" stroke="#2b231c" stroke-width="0.54" stroke-linecap="round"/>
<path d="M413.48 119.21Q408.59 119.37 401.08 120.99" fill="none" stroke="#6a5743" stroke-width="0.83" stroke-linecap="round"/>
<path d="M431.49 96.46Q432.03 91.41 433.28 87.74" fill="none" stroke="#5e4c3a" stroke-width="0.94" stroke-linecap="round"/>
<path d="M345.64 65.64Q347.5 67.46 351.07 67.88" fill="none" stroke="#2b231c" stroke-width="0.74" stroke-linecap="round"/>
<path d="M366.48 89.46Q370.28 90.88 376.41 92.51" fill="none" stroke="#857058" stroke-width="0.9" stroke-linecap="round"/>
<path d="M379.6 63.32Q378.46 62.78 376.41 60.21" fill="none" stroke="#76624b" stroke-width="0.96" stroke-linecap="round"/>
<path d="M417.75 61.84Q417.36 55.71 414.44 51.9" fill="none" stroke="#3a2f25" stroke-width="1.04" stroke-linecap="round"/>
<path d="M422.18 76.32Q425.47 73.27 426.81 72.7" fill="none" stroke="#857058" stroke-width="0.77" stroke-linecap="round"/>
<path d="M399.01 128.34Q395.95 130.69 394.48 131.16" fill="none" stroke="#6a5743" stroke-width="0.78" stroke-linecap="round"/>
<path d="M398.56 47.45Q395.5 49.72 391.5 51.88" fill="none" stroke="#4a3b2d" stroke-width="0.88" stroke-linecap="round"/>
<path d="M425.15 118.75Q427.71 114.5 430.79 108.7" fill="none" stroke="#3a2f25" stroke-width="0.81" stroke-linecap="round"/>
<path d="M394.21 121.99Q397.24 115.9 400.23 109.81" fill="none" stroke="#5e4c3a" stroke-width="1.04" stroke-linecap="round"/>
<path d="M360.05 97.32Q356.63 97.41 355.25 96.82" fill="none" stroke="#3a2f25" stroke-width="0.86" stroke-linecap="round"/>
<path d="M379.94 53.69Q375.5 52.81 370.35 51.52" fill="none" stroke="#4a3b2d" stroke-width="0.73" stroke-linecap="round"/>
<path d="M343.87 116.27Q344.6 121.82 345.57 127.35" fill="none" stroke="#76624b" stroke-width="0.66" stroke-linecap="round"/>
<path d="M400.07 59.86Q395.05 58.01 391.53 53.76" fill="none" stroke="#6a5743" stroke-width="0.66" stroke-linecap="round"/>
<path d="M350.37 109.42Q348.98 106.35 344.86 100.98" fill="none" stroke="#6a5743" stroke-width="0.56" stroke-linecap="round"/>
<path d="M413.92 126.38Q408.47 123.8 403.87 122.51" fill="none" stroke="#2b231c" stroke-width="0.91" stroke-linecap="round"/>
<path d="M414.99 108.32Q412.96 112.5 410.73 116.95" fill="none" stroke="#76624b" stroke-width="0.85" stroke-linecap="round"/>
<path d="M401.87 98.45Q402 100.11 405.11 102.86" fill="none" stroke="#2b231c" stroke-width="0.61" stroke-linecap="round"/>
<path d="M385.99 115.55Q387.83 112.13 388.05 109.97" fill="none" stroke="#2b231c" stroke-width="1.06" stroke-linecap="round"/>
<path d="M391.11 126.06Q392.12 120.28 391.21 113.01" fill="none" stroke="#76624b" stroke-width="0.6" stroke-linecap="round"/>
<path d="M381.46 128.91Q378.96 123.09 376.96 119.78" fill="none" stroke="#3a2f25" stroke-width="0.99" stroke-linecap="round"/>
<path d="M387.93 119.33Q384.5 118.74 382.26 120.99" fill="none" stroke="#2b231c" stroke-width="0.98" stroke-linecap="round"/>
<path d="M328.45 84.07Q334.77 83.38 339.09 79.86" fill="none" stroke="#4a3b2d" stroke-width="0.94" stroke-linecap="round"/>
<path d="M326.84 86.32Q327.12 88.9 325.14 91.76" fill="none" stroke="#2b231c" stroke-width="0.94" stroke-linecap="round"/>
<path d="M417.41 124.23Q412.43 121.95 405.77 119.92" fill="none" stroke="#2b231c" stroke-width="1.08" stroke-linecap="round"/>
<path d="M418.06 68.56Q413.7 64.8 408.83 62.72" fill="none" stroke="#6a5743" stroke-width="0.58" stroke-linecap="round"/>
<path d="M358.3 67.75Q364.25 67.99 370.01 66.31" fill="none" stroke="#4a3b2d" stroke-width="0.58" stroke-linecap="round"/>
<path d="M382.23 69.32Q381.66 66.08 382.72 60.06" fill="none" stroke="#3a2f25" stroke-width="0.64" stroke-linecap="round"/>
<path d="M409.68 66.51Q415.5 67.23 423.32 65.96" fill="none" stroke="#4a3b2d" stroke-width="0.59" stroke-linecap="round"/>
<path d="M413.16 75.83Q408.42 76.61 406.43 74.48" fill="none" stroke="#2b231c" stroke-width="0.88" stroke-linecap="round"/>
<path d="M428.47 62.52Q431.77 58.45 437.05 51.91" fill="none" stroke="#5e4c3a" stroke-width="0.85" stroke-linecap="round"/>
<path d="M342.72 79.21Q337.64 80.69 334.03 83.88" fill="none" stroke="#3a2f25" stroke-width="0.8" stroke-linecap="round"/>
<path d="M346.57 58.68Q343.96 55.26 343.43 53.12" fill="none" stroke="#3a2f25" stroke-width="0.54" stroke-linecap="round"/>
<path d="M382.16 120.57Q387.29 117.06 394.55 116.27" fill="none" stroke="#76624b" stroke-width="0.88" stroke-linecap="round"/>
<path d="M345.64 55.14Q347.94 57.07 347.92 59.59" fill="none" stroke="#6a5743" stroke-width="0.76" stroke-linecap="round"/>
<path d="M331.42 81.88Q329.99 76.1 326.65 71.5" fill="none" stroke="#76624b" stroke-width="0.87" stroke-linecap="round"/>
<path d="M356.34 81.55Q354.89 76.09 356.17 70.65" fill="none" stroke="#76624b" stroke-width="1.05" stroke-linecap="round"/>
<path d="M326.97 100.64Q324.63 107.21 319.61 111.44" fill="none" stroke="#5e4c3a" stroke-width="0.96" stroke-linecap="round"/>
<path d="M357.66 68.27Q353.55 64.03 347.12 59.84" fill="none" stroke="#4a3b2d" stroke-width="0.93" stroke-linecap="round"/>
<path d="M394.68 89.61Q389.36 89.06 384.13 88.27" fill="none" stroke="#857058" stroke-width="0.69" stroke-linecap="round"/>
<path d="M392.8 119.64Q392.98 125.94 392.32 130.28" fill="none" stroke="#5e4c3a" stroke-width="1.02" stroke-linecap="round"/>
<path d="M423.9 59.32Q429.45 62.85 434.1 66.04" fill="none" stroke="#76624b" stroke-width="0.92" stroke-linecap="round"/>
<path d="M433.54 90.55Q434.52 87.05 437.69 85.15" fill="none" stroke="#3a2f25" stroke-width="0.54" stroke-linecap="round"/>
<path d="M400.32 44.17Q405.56 45.9 408.94 49.02" fill="none" stroke="#857058" stroke-width="0.55" stroke-linecap="round"/>
<path d="M370.75 115.08Q373.2 117.43 373.22 120.7" fill="none" stroke="#2b231c" stroke-width="0.79" stroke-linecap="round"/>
<path d="M376.97 64.7Q376.53 68.2 376.29 74.19" fill="none" stroke="#6a5743" stroke-width="0.99" stroke-linecap="round"/>
<path d="M345.48 73.4Q343.87 75.09 344.9 79.77" fill="none" stroke="#3a2f25" stroke-width="0.56" stroke-linecap="round"/>
<path d="M346.77 72.78Q346.91 70.37 348.69 66.87" fill="none" stroke="#5e4c3a" stroke-width="0.5" stroke-linecap="round"/>
<path d="M418.7 104.14Q415.71 107.97 415.38 112.16" fill="none" stroke="#5e4c3a" stroke-width="0.63" stroke-linecap="round"/>
<path d="M363.6 57.98Q368.59 55.4 372.68 52.99" fill="none" stroke="#2b231c" stroke-width="0.85" stroke-linecap="round"/>
<path d="M416.29 51.93Q418.84 58.14 420.07 64.81" fill="none" stroke="#5e4c3a" stroke-width="0.85" stroke-linecap="round"/>
<path d="M440.92 82.92Q439.98 89.69 439 94.97" fill="none" stroke="#2b231c" stroke-width="0.79" stroke-linecap="round"/>
<path d="M434.32 80.95Q433.41 79.11 429.72 74.54" fill="none" stroke="#76624b" stroke-width="0.72" stroke-linecap="round"/>
<path d="M422.75 59.91Q417.54 57.34 410.62 55.68" fill="none" stroke="#76624b" stroke-width="1.03" stroke-linecap="round"/>
<path d="M420.3 82.72Q419.86 83.72 417.1 86.97" fill="none" stroke="#76624b" stroke-width="0.79" stroke-linecap="round"/>
<path d="M414.8 85.24Q417.16 81.56 418.25 75.24" fill="none" stroke="#3a2f25" stroke-width="1.02" stroke-linecap="round"/>
<path d="M423.13 65.42Q417.22 61.87 413.27 61.1" fill="none" stroke="#5e4c3a" stroke-width="0.86" stroke-linecap="round"/>
<path d="M358.49 96.73Q357.35 100.77 356.86 103.75" fill="none" stroke="#2b231c" stroke-width="0.87" stroke-linecap="round"/>
<path d="M392.92 130.85Q390.13 134.57 388.24 135.69" fill="none" stroke="#5e4c3a" stroke-width="0.92" stroke-linecap="round"/>
<path d="M431.04 109.35Q433.32 111.58 437.66 115.71" fill="none" stroke="#5e4c3a" stroke-width="0.73" stroke-linecap="round"/>
<path d="M358.82 95.6Q362.45 91.94 368.26 87.73" fill="none" stroke="#3a2f25" stroke-width="0.8" stroke-linecap="round"/>
<path d="M329.36 104.03Q324.4 100.29 321.22 98.25" fill="none" stroke="#4a3b2d" stroke-width="0.74" stroke-linecap="round"/>
<path d="M353.74 44.66Q351.12 51.3 348.39 56.84" fill="none" stroke="#3a2f25" stroke-width="0.57" stroke-linecap="round"/>
<path d="M392.47 119.68Q385.48 119.76 378.77 121.58" fill="none" stroke="#2b231c" stroke-width="1.01" stroke-linecap="round"/>
<path d="M354.7 52.76Q353.5 51.08 354.83 46.4" fill="none" stroke="#2b231c" stroke-width="0.68" stroke-linecap="round"/>
<path d="M347.75 86Q351.02 86.29 353.07 87.3" fill="none" stroke="#3a2f25" stroke-width="0.7" stroke-linecap="round"/>
<path d="M395.82 83.14Q390.45 82.31 384.71 79.9" fill="none" stroke="#76624b" stroke-width="1.09" stroke-linecap="round"/>
<path d="M388.6 97.95Q389.92 93.17 391.25 89.24" fill="none" stroke="#2b231c" stroke-width="0.74" stroke-linecap="round"/>
<path d="M401.02 94.35Q400.87 96.87 399.06 100.35" fill="none" stroke="#2b231c" stroke-width="0.57" stroke-linecap="round"/>
<path d="M327.91 61.28Q328.41 63.85 328.53 66.7" fill="none" stroke="#2b231c" stroke-width="0.92" stroke-linecap="round"/>
<path d="M327.06 83.05Q325.68 86.24 322.08 87.22" fill="none" stroke="#5e4c3a" stroke-width="0.58" stroke-linecap="round"/>
<path d="M413.43 68.65Q411.96 69.97 410.15 71.12" fill="none" stroke="#2b231c" stroke-width="0.8" stroke-linecap="round"/>
<path d="M365.76 132.27Q364.37 137.68 360.56 140.2" fill="none" stroke="#3a2f25" stroke-width="0.95" stroke-linecap="round"/>
<path d="M393.85 64.74Q394.68 60.66 396.91 56.74" fill="none" stroke="#5e4c3a" stroke-width="0.64" stroke-linecap="round"/>
<path d="M379.53 44.54Q377.73 47.94 376 48.91" fill="none" stroke="#4a3b2d" stroke-width="0.85" stroke-linecap="round"/>
<path d="M362.28 106.73Q355.5 107.2 349.24 106.84" fill="none" stroke="#857058" stroke-width="0.51" stroke-linecap="round"/>
<path d="M415.54 115.11Q414.08 108.73 415.04 103.58" fill="none" stroke="#857058" stroke-width="0.65" stroke-linecap="round"/>
<path d="M344.14 109.2Q345.59 110.4 348.63 109.16" fill="none" stroke="#857058" stroke-width="0.66" stroke-linecap="round"/>
<path d="M377.91 71.38Q378.97 72.23 381.92 70.09" fill="none" stroke="#857058" stroke-width="0.85" stroke-linecap="round"/>
<path d="M422.28 79.52Q425.17 79.57 428.93 76.67" fill="none" stroke="#857058" stroke-width="0.58" stroke-linecap="round"/>
<path d="M431.62 86.24Q429.81 87.26 426.91 90.08" fill="none" stroke="#2b231c" stroke-width="0.58" stroke-linecap="round"/>
<path d="M438 77.96Q439.9 73.83 444.31 69.96" fill="none" stroke="#5e4c3a" stroke-width="0.55" stroke-linecap="round"/>
<path d="M401.11 66.85Q400.24 70.61 398.92 75.59" fill="none" stroke="#2b231c" stroke-width="0.84" stroke-linecap="round"/>
<path d="M381.86 76.17Q379.8 72.72 377.8 70.86" fill="none" stroke="#2b231c" stroke-width="0.72" stroke-linecap="round"/>
<path d="M328.07 60.37Q330.24 55.74 334.89 52.21" fill="none" stroke="#3a2f25" stroke-width="1.1" stroke-linecap="round"/>
<path d="M380 64.73Q378.04 63.43 375.79 63.45" fill="none" stroke="#2b231c" stroke-width="0.64" stroke-linecap="round"/>
<path d="M372.25 127.86Q374.08 123.03 374.83 116.88" fill="none" stroke="#4a3b2d" stroke-width="1" stroke-linecap="round"/>
<path d="M405.66 81.97Q407.63 79.23 409.4 78.74" fill="none" stroke="#6a5743" stroke-width="0.68" stroke-linecap="round"/>
<path d="M423.86 83.15Q423.89 85.78 426.17 88.42" fill="none" stroke="#2b231c" stroke-width="1.05" stroke-linecap="round"/>
<path d="M414.34 48.52Q411.07 44.9 410.04 43.63" fill="none" stroke="#3a2f25" stroke-width="0.54" stroke-linecap="round"/>
<path d="M427.99 71.29Q422.47 75.73 418.88 80.63" fill="none" stroke="#4a3b2d" stroke-width="0.88" stroke-linecap="round"/>
<path d="M352.64 50.29Q356.09 44.69 356.87 41" fill="none" stroke="#6a5743" stroke-width="0.89" stroke-linecap="round"/>
<path d="M397.09 67.18Q393.39 66.18 392.18 63.47" fill="none" stroke="#3a2f25" stroke-width="0.69" stroke-linecap="round"/>
<path d="M398.05 106.13Q398.85 106.77 399.19 110.12" fill="none" stroke="#2b231c" stroke-width="1.04" stroke-linecap="round"/>
<path d="M373.48 59.97Q371.19 55.67 371.2 50.75" fill="none" stroke="#76624b" stroke-width="0.86" stroke-linecap="round"/>
<path d="M326.96 91.66Q321.62 94.33 314.99 95.7" fill="none" stroke="#2b231c" stroke-width="0.73" stroke-linecap="round"/>
<path d="M406.33 107.34Q406.98 105.05 409.21 103.11" fill="none" stroke="#4a3b2d" stroke-width="0.57" stroke-linecap="round"/>
<path d="M365.82 63.42Q362.1 69.09 360.72 75.59" fill="none" stroke="#5e4c3a" stroke-width="0.95" stroke-linecap="round"/>
<path d="M397.33 47.05Q401.95 46.3 409.27 47.14" fill="none" stroke="#2b231c" stroke-width="0.72" stroke-linecap="round"/>
<path d="M400.51 111.69Q399.03 106.44 399.56 103.52" fill="none" stroke="#5e4c3a" stroke-width="0.91" stroke-linecap="round"/>
<path d="M359.23 96.81Q356.92 103.4 357.23 109.36" fill="none" stroke="#4a3b2d" stroke-width="0.64" stroke-linecap="round"/>
<path d="M432.67 74.37Q435.81 69.22 438.49 62.6" fill="none" stroke="#857058" stroke-width="0.88" stroke-linecap="round"/>
<path d="M410.41 95.41Q411.62 96.37 410.27 99.61" fill="none" stroke="#3a2f25" stroke-width="0.84" stroke-linecap="round"/>
<path d="M376.79 68.15Q381.53 67.8 384.33 65.15" fill="none" stroke="#6a5743" stroke-width="0.67" stroke-linecap="round"/>
<path d="M425.44 75.15Q423.51 72.4 421.23 67.61" fill="none" stroke="#6a5743" stroke-width="0.8" stroke-linecap="round"/>
<path d="M428.52 80.87Q427.36 84.3 423.67 86.62" fill="none" stroke="#857058" stroke-width="0.94" stroke-linecap="round"/>
<path d="M379.95 113.73Q377.86 115.24 377.63 117.56" fill="none" stroke="#3a2f25" stroke-width="0.53" stroke-linecap="round"/>
<path d="M335.11 61.39Q332.99 63.08 328.1 62.41" fill="none" stroke="#2b231c" stroke-width="0.56" stroke-linecap="round"/>
<path d="M378.76 99.9Q376.51 94.68 371.98 89.54" fill="none" stroke="#2b231c" stroke-width="0.68" stroke-linecap="round"/>
<path d="M376.26 113.92Q371.36 116.45 365.02 120.24" fill="none" stroke="#2b231c" stroke-width="0.57" stroke-linecap="round"/>
<path d="M348.82 70.57Q350.7 77.64 354.37 82.64" fill="none" stroke="#4a3b2d" stroke-width="0.98" stroke-linecap="round"/>
<path d="M415.56 100.29Q409.97 105.36 405.49 108.08" fill="none" stroke="#76624b" stroke-width="1.04" stroke-linecap="round"/>
<path d="M381.52 89.06Q381.72 84.94 383.7 81.24" fill="none" stroke="#3a2f25" stroke-width="0.65" stroke-linecap="round"/>
<path d="M363.71 115.01Q366.17 112.01 367.81 109.6" fill="none" stroke="#857058" stroke-width="0.71" stroke-linecap="round"/>
<path d="M397.44 121.54Q392.65 126.13 386.42 129.26" fill="none" stroke="#76624b" stroke-width="0.79" stroke-linecap="round"/>
<path d="M393.89 119.81Q390.6 116.61 387.12 113.39" fill="none" stroke="#3a2f25" stroke-width="0.75" stroke-linecap="round"/>
<path d="M355.36 76.71Q349.41 77.08 346.14 78.08" fill="none" stroke="#5e4c3a" stroke-width="0.75" stroke-linecap="round"/>
<path d="M415.56 100.38Q419.06 99.62 424.95 98.47" fill="none" stroke="#857058" stroke-width="1.08" stroke-linecap="round"/>
<path d="M402.38 75.28Q401.78 74.19 399.43 71.37" fill="none" stroke="#857058" stroke-width="0.61" stroke-linecap="round"/>
<path d="M375.17 129.74Q381.36 132.11 384.62 134.67" fill="none" stroke="#5e4c3a" stroke-width="0.77" stroke-linecap="round"/>
<path d="M360.27 84.78Q364.51 86.37 367.61 89.22" fill="none" stroke="#4a3b2d" stroke-width="1.04" stroke-linecap="round"/>
<path d="M436.38 94.6Q437.06 91.55 439.77 90.82" fill="none" stroke="#857058" stroke-width="0.95" stroke-linecap="round"/>
<path d="M425.86 109.57Q428.71 115.12 431.31 119.56" fill="none" stroke="#857058" stroke-width="0.91" stroke-linecap="round"/>
<path d="M342.49 65.51Q339.93 68.45 335.43 71.48" fill="none" stroke="#3a2f25" stroke-width="1.05" stroke-linecap="round"/>
<path d="M367.66 60.28Q365.48 59.47 363.78 61.46" fill="none" stroke="#4a3b2d" stroke-width="0.53" stroke-linecap="round"/>
<path d="M385.14 73.1Q388.53 76.7 389.08 78.75" fill="none" stroke="#5e4c3a" stroke-width="0.87" stroke-linecap="round"/>
<path d="M438.67 92.93Q434.67 95.03 432.5 98.75" fill="none" stroke="#6a5743" stroke-width="0.69" stroke-linecap="round"/>
<path d="M390.1 71.48Q390.37 67.42 390.62 62.91" fill="none" stroke="#76624b" stroke-width="1.05" stroke-linecap="round"/>
<path d="M387 64.09Q385.54 67.65 386.75 72.66" fill="none" stroke="#2b231c" stroke-width="0.85" stroke-linecap="round"/>
<path d="M397.5 80.3Q399.2 76.34 398.21 71.8" fill="none" stroke="#76624b" stroke-width="0.59" stroke-linecap="round"/>
<path d="M411.31 60.78Q406.05 61.28 403.61 59.94" fill="none" stroke="#2b231c" stroke-width="0.69" stroke-linecap="round"/>
<path d="M395.08 122.12Q398.72 125.82 400.36 126.55" fill="none" stroke="#2b231c" stroke-width="0.69" stroke-linecap="round"/>
<path d="M356.57 56.37Q358.82 58.68 361.15 59.9" fill="none" stroke="#5e4c3a" stroke-width="0.77" stroke-linecap="round"/>
<path d="M380.77 130.34Q381.4 134.47 382.78 137.63" fill="none" stroke="#857058" stroke-width="0.73" stroke-linecap="round"/>
<path d="M382.22 130.73Q383.34 138.22 383.83 143.27" fill="none" stroke="#3a2f25" stroke-width="1.06" stroke-linecap="round"/>
<path d="M399.69 100.82Q396.41 100.18 392.13 101.72" fill="none" stroke="#2b231c" stroke-width="0.92" stroke-linecap="round"/>
<path d="M431.36 112.28Q435.33 117.8 439.48 120.66" fill="none" stroke="#76624b" stroke-width="0.73" stroke-linecap="round"/>
<path d="M430.51 90.08Q428.69 92.01 425.99 96.37" fill="none" stroke="#4a3b2d" stroke-width="0.87" stroke-linecap="round"/>
<path d="M411.71 89.48Q406.07 92.18 399.28 92.25" fill="none" stroke="#3a2f25" stroke-width="0.98" stroke-linecap="round"/>
<path d="M341.01 60.45Q337.42 56.5 335.6 51.22" fill="none" stroke="#4a3b2d" stroke-width="0.94" stroke-linecap="round"/>
<path d="M359.04 43.1Q363.08 44.62 366.47 45.66" fill="none" stroke="#5e4c3a" stroke-width="0.85" stroke-linecap="round"/>
<path d="M422.12 63.88Q423.55 59.98 422.33 55.87" fill="none" stroke="#4a3b2d" stroke-width="0.59" stroke-linecap="round"/>
<path d="M428.75 67.33Q427.79 63.05 429.38 60.92" fill="none" stroke="#2b231c" stroke-width="0.83" stroke-linecap="round"/>
<path d="M382.79 77.75Q388.64 79.22 395.02 81.38" fill="none" stroke="#5e4c3a" stroke-width="0.66" stroke-linecap="round"/>
<path d="M370.39 85.92Q365.64 83.86 363.5 80.79" fill="none" stroke="#4a3b2d" stroke-width="0.82" stroke-linecap="round"/>
<path d="M336.54 94.38Q335.61 99.15 332.84 106.19" fill="none" stroke="#857058" stroke-width="0.75" stroke-linecap="round"/>
<path d="M337 120.71Q335.77 123.91 335.1 126.28" fill="none" stroke="#6a5743" stroke-width="1.1" stroke-linecap="round"/>
<path d="M398.81 72.49Q402.14 69.35 406.75 69.18" fill="none" stroke="#2b231c" stroke-width="0.58" stroke-linecap="round"/>
<path d="M394.97 95.45Q391.83 97.15 387.87 98.67" fill="none" stroke="#857058" stroke-width="0.55" stroke-linecap="round"/>
<path d="M378.64 67.92Q382.72 65.9 387.82 61.27" fill="none" stroke="#2b231c" stroke-width="0.69" stroke-linecap="round"/>
<path d="M385.37 115.01Q381.64 115.11 379.19 113.41" fill="none" stroke="#76624b" stroke-width="0.65" stroke-linecap="round"/>
<path d="M331.86 104.14Q336.55 105.28 341.93 107.48" fill="none" stroke="#6a5743" stroke-width="1.02" stroke-linecap="round"/>
<path d="M437.79 77.78Q439.69 76.9 439.3 73.22" fill="none" stroke="#5e4c3a" stroke-width="0.99" stroke-linecap="round"/>
<path d="M425.63 80.55Q427.45 82.83 431.94 85.07" fill="none" stroke="#2b231c" stroke-width="0.99" stroke-linecap="round"/>
<path d="M342.8 105.49Q346.29 102.15 349.12 101.32" fill="none" stroke="#2b231c" stroke-width="0.58" stroke-linecap="round"/>
<path d="M330.98 109.27Q334.98 105.49 337.91 101.88" fill="none" stroke="#4a3b2d" stroke-width="1.09" stroke-linecap="round"/>
<path d="M389.12 44.22Q397.13 43.23 402.57 45.02" fill="none" stroke="#76624b" stroke-width="0.57" stroke-linecap="round"/>
<path d="M429.26 88.69Q433.06 95.28 436.7 99.29" fill="none" stroke="#6a5743" stroke-width="0.85" stroke-linecap="round"/>
<path d="M394.94 45.87Q394.63 44.87 394.46 41.4" fill="none" stroke="#5e4c3a" stroke-width="0.95" stroke-linecap="round"/>
<path d="M409.91 75.33Q407.59 78.08 403.61 77.92" fill="none" stroke="#857058" stroke-width="0.92" stroke-linecap="round"/>
<path d="M366.51 93.4Q363.17 88.81 360.02 82.09" fill="none" stroke="#5e4c3a" stroke-width="0.87" stroke-linecap="round"/>
<path d="M412.19 99.8Q415.93 103.18 420.37 108.62" fill="none" stroke="#76624b" stroke-width="0.56" stroke-linecap="round"/>
<path d="M387.27 44.12Q388.57 41.34 390.19 37.41" fill="none" stroke="#2b231c" stroke-width="0.53" stroke-linecap="round"/>
<path d="M396.05 75.55Q393.93 81.98 390.69 87" fill="none" stroke="#6a5743" stroke-width="0.54" stroke-linecap="round"/>
<path d="M391.98 103.04Q397.11 101.57 403.22 97.38" fill="none" stroke="#6a5743" stroke-width="0.92" stroke-linecap="round"/>
<path d="M408.68 114.75Q413.17 113.57 416.43 110.75" fill="none" stroke="#4a3b2d" stroke-width="0.63" stroke-linecap="round"/>
<path d="M348.8 109.59Q346.3 114.42 344.72 122.04" fill="none" stroke="#4a3b2d" stroke-width="0.74" stroke-linecap="round"/>
<path d="M394.97 48.86Q396.48 51.86 398.4 53.31" fill="none" stroke="#857058" stroke-width="1.08" stroke-linecap="round"/>
<path d="M409.15 115.64Q405.62 120.62 405.06 123.24" fill="none" stroke="#2b231c" stroke-width="0.93" stroke-linecap="round"/>
<path d="M364.79 73.22Q361.5 70.46 358.35 69.52" fill="none" stroke="#76624b" stroke-width="1.04" stroke-linecap="round"/>
<path d="M435.77 87.23Q440.9 88 446.41 89.63" fill="none" stroke="#6a5743" stroke-width="1.1" stroke-linecap="round"/>
<path d="M329.6 60.4Q333.55 56.41 338.61 52.59" fill="none" stroke="#857058" stroke-width="0.97" stroke-linecap="round"/>
<path d="M342.29 63.12Q338 67.44 334.19 73.98" fill="none" stroke="#6a5743" stroke-width="1.09" stroke-linecap="round"/>
<path d="M385.64 97.12Q384.58 96.63 383.79 93.45" fill="none" stroke="#2b231c" stroke-width="0.65" stroke-linecap="round"/>
<path d="M353.69 71.34Q350.39 71 346.97 72.69" fill="none" stroke="#76624b" stroke-width="0.8" stroke-linecap="round"/>
<path d="M406.75 107.14Q402.11 109.32 398.95 114.18" fill="none" stroke="#5e4c3a" stroke-width="0.55" stroke-linecap="round"/>
<path d="M379.95 124.12Q386.34 125.18 390.54 126.69" fill="none" stroke="#6a5743" stroke-width="0.85" stroke-linecap="round"/>
<path d="M404.61 92.5Q403.81 90.08 404.95 84.92" fill="none" stroke="#5e4c3a" stroke-width="0.57" stroke-linecap="round"/>
<path d="M344.49 117.88Q343.19 113.04 340.9 110.9" fill="none" stroke="#2b231c" stroke-width="1.06" stroke-linecap="round"/>
<path d="M425.43 99.48Q418.82 101.54 414.7 105.79" fill="none" stroke="#6a5743" stroke-width="0.94" stroke-linecap="round"/>
<path d="M344.03 45.48Q349.08 48.89 354 50.52" fill="none" stroke="#857058" stroke-width="0.93" stroke-linecap="round"/>
<path d="M388.11 69.14Q383.92 67.24 378.56 63.5" fill="none" stroke="#4a3b2d" stroke-width="0.76" stroke-linecap="round"/>
<path d="M385.01 58.43Q386.15 54.1 387.89 52.56" fill="none" stroke="#6a5743" stroke-width="1.01" stroke-linecap="round"/>
<path d="M386.53 63.55Q380.9 63.49 376.55 66.17" fill="none" stroke="#2b231c" stroke-width="0.94" stroke-linecap="round"/>
<path d="M432.77 114.38Q426.04 116.08 419.52 118.31" fill="none" stroke="#2b231c" stroke-width="0.6" stroke-linecap="round"/>
<path d="M410.79 84.45Q404.98 87.86 400.5 89.55" fill="none" stroke="#857058" stroke-width="1.1" stroke-linecap="round"/>
<path d="M345.8 93.94Q342.14 96.66 340.93 98.51" fill="none" stroke="#857058" stroke-width="0.85" stroke-linecap="round"/>
<path d="M346.16 66.99Q347.82 67.67 351.87 69.39" fill="none" stroke="#76624b" stroke-width="0.98" stroke-linecap="round"/>
<path d="M390.34 84.7Q383.39 82.8 378.12 83.12" fill="none" stroke="#5e4c3a" stroke-width="0.92" stroke-linecap="round"/>
<path d="M342.78 121.53Q338.81 117.68 336.3 116.71" fill="none" stroke="#3a2f25" stroke-width="0.71" stroke-linecap="round"/>
<path d="M333.88 85.98Q334.9 89.06 337.99 94.02" fill="none" stroke="#3a2f25" stroke-width="0.86" stroke-linecap="round"/>
<path d="M337.64 85.2Q338.09 80.58 336.43 74.54" fill="none" stroke="#3a2f25" stroke-width="0.62" stroke-linecap="round"/>
<path d="M378.1 89.72Q379.37 89.41 382.47 90.25" fill="none" stroke="#2b231c" stroke-width="0.54" stroke-linecap="round"/>
<path d="M436.79 94.93Q433.02 89.2 428.9 84.7" fill="none" stroke="#857058" stroke-width="1.01" stroke-linecap="round"/>
<path d="M396.28 44.75Q399.21 47.98 401.39 48.95" fill="none" stroke="#6a5743" stroke-width="0.89" stroke-linecap="round"/>
<path d="M423.09 102.84Q426.11 107.03 429.4 109.5" fill="none" stroke="#3a2f25" stroke-width="0.81" stroke-linecap="round"/>
<path d="M361.57 83.73Q365.59 86.17 370.67 86.18" fill="none" stroke="#5e4c3a" stroke-width="0.56" stroke-linecap="round"/>
<path d="M396.64 70.4Q396.48 63.26 393.7 57.48" fill="none" stroke="#857058" stroke-width="1.01" stroke-linecap="round"/>
<path d="M344.1 88.94Q339.37 85.27 333.34 80.8" fill="none" stroke="#3a2f25" stroke-width="0.89" stroke-linecap="round"/>
<path d="M399.93 81.57Q399.42 77.91 399.58 73.09" fill="none" stroke="#2b231c" stroke-width="0.87" stroke-linecap="round"/>
<path d="M328.67 93.91Q322.77 97.92 319.57 101.7" fill="none" stroke="#857058" stroke-width="0.94" stroke-linecap="round"/>
<path d="M411.56 97.04Q405.56 99.41 399.16 99.34" fill="none" stroke="#2b231c" stroke-width="0.99" stroke-linecap="round"/>
<path d="M436.63 85.9Q435.03 88.78 435.27 91.74" fill="none" stroke="#5e4c3a" stroke-width="0.51" stroke-linecap="round"/>
<path d="M383.43 83.37Q384.48 86.42 388.13 87.87" fill="none" stroke="#2b231c" stroke-width="0.67" stroke-linecap="round"/>
<path d="M422.7 56.17Q427.66 56.98 433.46 55.71" fill="none" stroke="#3a2f25" stroke-width="0.96" stroke-linecap="round"/>
<path d="M422.67 109.5Q426.84 115.51 431.21 119.72" fill="none" stroke="#6a5743" stroke-width="0.75" stroke-linecap="round"/>
<path d="M328.86 70.59Q324.84 73.98 317.88 74.67" fill="none" stroke="#857058" stroke-width="0.71" stroke-linecap="round"/>
<path d="M397.51 108.01Q397.97 106.85 398.86 102.97" fill="none" stroke="#5e4c3a" stroke-width="1.01" stroke-linecap="round"/>
<path d="M404.87 88.38Q406.28 84.25 407.33 77.51" fill="none" stroke="#2b231c" stroke-width="0.93" stroke-linecap="round"/>
<path d="M331.37 93.22Q326.13 92.9 318.16 90.46" fill="none" stroke="#6a5743" stroke-width="0.93" stroke-linecap="round"/>
<path d="M422.43 66.54Q420.55 65.2 418.75 64.01" fill="none" stroke="#2b231c" stroke-width="0.72" stroke-linecap="round"/>
<path d="M343.26 63.57Q348.74 59.85 353.46 58.47" fill="none" stroke="#857058" stroke-width="0.62" stroke-linecap="round"/>
<path d="M397.22 47.27Q399.41 50.18 403.05 52.81" fill="none" stroke="#3a2f25" stroke-width="0.56" stroke-linecap="round"/>
<path d="M404.95 64.85Q405.51 70.16 406.29 73.75" fill="none" stroke="#5e4c3a" stroke-width="0.74" stroke-linecap="round"/>
<path d="M352.99 123.82Q355.49 123.03 359.28 122.66" fill="none" stroke="#2b231c" stroke-width="1.06" stroke-linecap="round"/>
<path d="M366.29 129.27Q369.22 130.5 371.19 132.78" fill="none" stroke="#5e4c3a" stroke-width="0.69" stroke-linecap="round"/>
<path d="M416.96 97.93Q419.18 104.33 418.94 108.29" fill="none" stroke="#857058" stroke-width="0.69" stroke-linecap="round"/>
<path d="M421.59 67.35Q426.31 63.55 433.94 61.19" fill="none" stroke="#76624b" stroke-width="0.69" stroke-linecap="round"/>
<path d="M393.46 124.31Q396.06 122 401.04 119.98" fill="none" stroke="#2b231c" stroke-width="0.78" stroke-linecap="round"/>
<path d="M360.13 42.67Q358.37 39.21 357.82 33.52" fill="none" stroke="#4a3b2d" stroke-width="0.51" stroke-linecap="round"/>
<path d="M388.43 120.54Q385.05 114.33 382.19 108.3" fill="none" stroke="#5e4c3a" stroke-width="0.85" stroke-linecap="round"/>
<path d="M436.89 91.08Q437.38 92.66 438.85 96.84" fill="none" stroke="#5e4c3a" stroke-width="0.62" stroke-linecap="round"/>
<path d="M402.73 75.8Q403.52 78.88 401.73 80.04" fill="none" stroke="#2b231c" stroke-width="0.55" stroke-linecap="round"/>
<path d="M351.89 91.52Q348.99 90.97 348.39 88.53" fill="none" stroke="#3a2f25" stroke-width="0.57" stroke-linecap="round"/>
<path d="M363.16 120.84Q360.31 124.83 355.63 126.64" fill="none" stroke="#2b231c" stroke-width="0.88" stroke-linecap="round"/>
<path d="M386.09 67.3Q380.48 62.93 375.64 59.03" fill="none" stroke="#4a3b2d" stroke-width="0.95" stroke-linecap="round"/>
<path d="M387.45 54.38Q387.17 48.81 385.67 44.63" fill="none" stroke="#2b231c" stroke-width="0.93" stroke-linecap="round"/>
<path d="M349.11 63.4Q352.44 67.67 356.64 72.01" fill="none" stroke="#76624b" stroke-width="0.94" stroke-linecap="round"/>
<path d="M378.7 115.75Q375.51 112.95 369.69 111.79" fill="none" stroke="#5e4c3a" stroke-width="1.06" stroke-linecap="round"/>
<path d="M348.02 68.87Q347.06 64.82 344.13 60.2" fill="none" stroke="#6a5743" stroke-width="0.96" stroke-linecap="round"/>
<path d="M360.03 79.2Q358 75.59 357.88 72.57" fill="none" stroke="#4a3b2d" stroke-width="0.78" stroke-linecap="round"/>
<path d="M381.15 131.28Q382.15 127.25 381.48 122.6" fill="none" stroke="#3a2f25" stroke-width="1.06" stroke-linecap="round"/>
<path d="M334.37 63.49Q335.27 64.19 336.82 66.69" fill="none" stroke="#2b231c" stroke-width="0.75" stroke-linecap="round"/>
<path d="M417.22 89.49Q415.33 87.56 413.63 87.01" fill="none" stroke="#6a5743" stroke-width="0.63" stroke-linecap="round"/>
<path d="M373.34 84.34Q371.28 87.47 371.03 88.04" fill="none" stroke="#76624b" stroke-width="0.87" stroke-linecap="round"/>
<path d="M345.94 117.78Q341.59 119.98 335.26 121.91" fill="none" stroke="#76624b" stroke-width="0.51" stroke-linecap="round"/>
<path d="M387.14 126.13Q380.97 123.36 377.32 122.56" fill="none" stroke="#2b231c" stroke-width="0.77" stroke-linecap="round"/>
<path d="M343.05 71.69Q349.11 74.2 353.68 77.36" fill="none" stroke="#3a2f25" stroke-width="1.02" stroke-linecap="round"/>
<path d="M413.68 89.3Q413.45 84.33 416.06 81.28" fill="none" stroke="#2b231c" stroke-width="0.75" stroke-linecap="round"/>
<path d="M431.73 116.92Q428.9 122.01 424.55 127.07" fill="none" stroke="#857058" stroke-width="0.6" stroke-linecap="round"/>
<path d="M378.81 58.35Q376.19 56.55 375.99 54.56" fill="none" stroke="#6a5743" stroke-width="0.84" stroke-linecap="round"/>
<path d="M336.07 101.36Q329.17 103.69 323.12 104.77" fill="none" stroke="#2b231c" stroke-width="0.99" stroke-linecap="round"/>
<path d="M416.8 48.44Q410.45 49.15 403.13 49.8" fill="none" stroke="#5e4c3a" stroke-width="0.75" stroke-linecap="round"/>
<path d="M341.53 58.78Q342.53 53.79 342.27 49" fill="none" stroke="#5e4c3a" stroke-width="0.94" stroke-linecap="round"/>
<path d="M394.25 124.92Q391.65 121.03 389.75 119.24" fill="none" stroke="#2b231c" stroke-width="0.82" stroke-linecap="round"/>
<path d="M348.28 50.91Q348.55 56.53 348.76 64.61" fill="none" stroke="#2b231c" stroke-width="1.05" stroke-linecap="round"/>
<path d="M381.61 90.62Q384.7 91.06 390.73 89.02" fill="none" stroke="#76624b" stroke-width="0.61" stroke-linecap="round"/>
<path d="M430.04 113.03Q423.31 109.76 418.18 108.99" fill="none" stroke="#4a3b2d" stroke-width="0.9" stroke-linecap="round"/>
<path d="M348.59 91.92Q348.68 95.71 348.21 102.36" fill="none" stroke="#2b231c" stroke-width="0.51" stroke-linecap="round"/>
<path d="M345.79 54.05Q342.7 58.31 341.16 64.33" fill="none" stroke="#5e4c3a" stroke-width="0.91" stroke-linecap="round"/>
<path d="M419.91 50.67Q425.87 51.4 431.83 49.45" fill="none" stroke="#76624b" stroke-width="1.05" stroke-linecap="round"/>
<path d="M400.57 106.94Q403.35 107.99 405.5 107.83" fill="none" stroke="#3a2f25" stroke-width="1.07" stroke-linecap="round"/>
<path d="M395.21 72.62Q397.77 74.43 400.14 73.65" fill="none" stroke="#4a3b2d" stroke-width="0.91" stroke-linecap="round"/>
<path d="M387.65 45.74Q384.88 46.13 379.34 46.22" fill="none" stroke="#3a2f25" stroke-width="0.94" stroke-linecap="round"/>
<path d="M378.25 75.37Q380.69 81.1 381.27 88.75" fill="none" stroke="#5e4c3a" stroke-width="0.5" stroke-linecap="round"/>
<path d="M395.56 56.67Q394.96 54.4 392.23 52.89" fill="none" stroke="#2b231c" stroke-width="0.51" stroke-linecap="round"/>
<path d="M390.34 93.36Q387.39 97.08 384.58 97.8" fill="none" stroke="#857058" stroke-width="0.67" stroke-linecap="round"/>
<path d="M384.47 75.05Q386.84 74.69 390.13 74.82" fill="none" stroke="#3a2f25" stroke-width="1.08" stroke-linecap="round"/>
<path d="M358.04 51.92Q357.76 54.87 358.02 56.77" fill="none" stroke="#857058" stroke-width="0.99" stroke-linecap="round"/>
<path d="M393.43 67.7Q388.69 67.01 381.51 67.14" fill="none" stroke="#76624b" stroke-width="0.96" stroke-linecap="round"/>
<path d="M331.26 55.59Q335.99 55.7 341.96 58.03" fill="none" stroke="#2b231c" stroke-width="0.76" stroke-linecap="round"/>
<path d="M372.64 55.22Q370.61 57.31 368.09 60.2" fill="none" stroke="#4a3b2d" stroke-width="0.91" stroke-linecap="round"/>
<path d="M362.02 130.01Q360.9 129.02 359.55 126.77" fill="none" stroke="#76624b" stroke-width="0.86" stroke-linecap="round"/>
<path d="M352.38 124.77Q354.56 125.99 358.65 125.59" fill="none" stroke="#2b231c" stroke-width="0.93" stroke-linecap="round"/>
<path d="M364.68 64.24Q363.49 68.18 359.87 73.7" fill="none" stroke="#6a5743" stroke-width="0.98" stroke-linecap="round"/>
<path d="M357 101.3Q359.67 100.76 362.35 101.83" fill="none" stroke="#76624b" stroke-width="0.57" stroke-linecap="round"/>
<path d="M409.47 104.59Q413.09 108.45 414.4 110.74" fill="none" stroke="#3a2f25" stroke-width="1" stroke-linecap="round"/>
<path d="M414.9 92.21Q412.39 94.79 410.09 94.45" fill="none" stroke="#857058" stroke-width="0.94" stroke-linecap="round"/>
<path d="M379.95 83.81Q376.59 78.4 374.96 73.32" fill="none" stroke="#2b231c" stroke-width="0.59" stroke-linecap="round"/>
<path d="M396.32 66.12Q392.93 68.26 391.71 71" fill="none" stroke="#2b231c" stroke-width="0.76" stroke-linecap="round"/>
<path d="M377.35 118.6Q376.27 113.94 377.97 111.61" fill="none" stroke="#76624b" stroke-width="0.9" stroke-linecap="round"/>
<path d="M389.91 63.31Q392.76 63.67 394.84 61.16" fill="none" stroke="#4a3b2d" stroke-width="0.94" stroke-linecap="round"/>
<path d="M424.2 90.31Q423.74 86.45 422.57 80.56" fill="none" stroke="#2b231c" stroke-width="1.04" stroke-linecap="round"/>
<path d="M329.68 69.6Q330.66 63.72 329.62 57.82" fill="none" stroke="#5e4c3a" stroke-width="0.84" stroke-linecap="round"/>
<path d="M430.84 70.71Q431.03 67.09 430.92 62.98" fill="none" stroke="#2b231c" stroke-width="0.79" stroke-linecap="round"/>
<path d="M390.76 85.98Q385.49 84.21 379.91 84.14" fill="none" stroke="#4a3b2d" stroke-width="0.51" stroke-linecap="round"/>
<path d="M376.57 119.73Q380.04 118.41 382.22 118.03" fill="none" stroke="#4a3b2d" stroke-width="0.85" stroke-linecap="round"/>
<path d="M358.53 99.04Q354.39 98.59 349.03 100.8" fill="none" stroke="#4a3b2d" stroke-width="0.67" stroke-linecap="round"/>
<path d="M341.93 122.09Q338.89 121.99 333.23 124.59" fill="none" stroke="#2b231c" stroke-width="0.54" stroke-linecap="round"/>
<path d="M400.88 82.63Q403.5 90.57 403.87 95.7" fill="none" stroke="#6a5743" stroke-width="0.66" stroke-linecap="round"/>
<path d="M374.79 53.2Q372.86 54.47 369.28 53.92" fill="none" stroke="#76624b" stroke-width="1.09" stroke-linecap="round"/>
<path d="M432.52 73.84Q433.69 78.64 437.62 81.18" fill="none" stroke="#2b231c" stroke-width="0.79" stroke-linecap="round"/>
<path d="M413.61 68.3Q411.73 62.28 409.78 59.22" fill="none" stroke="#3a2f25" stroke-width="0.54" stroke-linecap="round"/>
<path d="M424.71 85.4Q426.37 83.64 425.21 79.68" fill="none" stroke="#2b231c" stroke-width="1.06" stroke-linecap="round"/>
<path d="M339.76 109.56Q334.83 105.52 330.51 103.02" fill="none" stroke="#6a5743" stroke-width="1.05" stroke-linecap="round"/>
<path d="M398.52 109.77Q399.07 106.49 397.48 102.82" fill="none" stroke="#2b231c" stroke-width="0.57" stroke-linecap="round"/>
<path d="M402.87 77.03Q399.52 81.62 394.11 87.58" fill="none" stroke="#5e4c3a" stroke-width="1.04" stroke-linecap="round"/>
<path d="M352.71 70.31Q349.69 73.64 346.65 74.4" fill="none" stroke="#5e4c3a" stroke-width="1" stroke-linecap="round"/>
<path d="M430.09 93.85Q431.68 96.08 430.59 100.67" fill="none" stroke="#5e4c3a" stroke-width="0.7" stroke-linecap="round"/>
<path d="M351.29 124Q346.19 122.58 339.22 122.62" fill="none" stroke="#6a5743" stroke-width="0.92" stroke-linecap="round"/>
<path d="M381.16 79.98Q379.67 81.25 376.35 84.91" fill="none" stroke="#857058" stroke-width="0.88" stroke-linecap="round"/>
<path d="M337.24 119.36Q336.44 122.34 335.48 126.9" fill="none" stroke="#4a3b2d" stroke-width="0.84" stroke-linecap="round"/>
<path d="M351.2 107.18Q349.02 105.14 345.58 105.51" fill="none" stroke="#2b231c" stroke-width="0.67" stroke-linecap="round"/>
<path d="M339.29 62.97Q342.83 62.53 345.15 64.1" fill="none" stroke="#6a5743" stroke-width="1.09" stroke-linecap="round"/>
<path d="M353.3 49.18Q348.11 52.86 344.78 59.1" fill="none" stroke="#2b231c" stroke-width="0.95" stroke-linecap="round"/>
<path d="M346.4 122.48Q349.64 122.35 355.8 123.63" fill="none" stroke="#6a5743" stroke-width="1.04" stroke-linecap="round"/>
<path d="M328.38 100.03Q330.72 98.07 332.01 97.73" fill="none" stroke="#6a5743" stroke-width="0.85" stroke-linecap="round"/>
<path d="M392.09 103.76Q393.2 100.1 391.52 95.7" fill="none" stroke="#76624b" stroke-width="1.05" stroke-linecap="round"/>
<path d="M331.46 69.81Q330.69 72.38 332.02 75.11" fill="none" stroke="#857058" stroke-width="0.86" stroke-linecap="round"/>
<path d="M365.98 109.79Q366.35 116.23 366.71 120.3" fill="none" stroke="#5e4c3a" stroke-width="1.09" stroke-linecap="round"/>
<path d="M421.5 107.7Q416.76 103.13 413.62 98.16" fill="none" stroke="#2b231c" stroke-width="0.84" stroke-linecap="round"/>
<path d="M399.07 92.24Q399.53 96.75 399.27 103.74" fill="none" stroke="#2b231c" stroke-width="0.59" stroke-linecap="round"/>
<path d="M376.63 61.28Q376.35 56.8 376.74 54.32" fill="none" stroke="#2b231c" stroke-width="0.75" stroke-linecap="round"/>
<path d="M400.01 85.72Q405.76 82.96 410.77 79.09" fill="none" stroke="#6a5743" stroke-width="0.54" stroke-linecap="round"/>
<path d="M379.72 98.67Q376.71 97.37 372.94 98.92" fill="none" stroke="#2b231c" stroke-width="0.51" stroke-linecap="round"/>
<path d="M391.24 72.76Q391.91 75.27 394.18 79.52" fill="none" stroke="#76624b" stroke-width="0.79" stroke-linecap="round"/>
<path d="M345.69 94.6Q345.98 96.59 344.84 99.5" fill="none" stroke="#2b231c" stroke-width="0.64" stroke-linecap="round"/>
<path d="M366.01 56.46Q368.06 55.4 370.91 52.51" fill="none" stroke="#4a3b2d" stroke-width="1.03" stroke-linecap="round"/>
<path d="M372.7 87.31Q370.34 87.65 365.99 86.59" fill="none" stroke="#3a2f25" stroke-width="0.7" stroke-linecap="round"/>
<path d="M363.69 46.05Q363.67 48.82 362.78 50.5" fill="none" stroke="#2b231c" stroke-width="0.67" stroke-linecap="round"/>
<path d="M432.2 77.18Q434.51 72.59 434.1 70.69" fill="none" stroke="#857058" stroke-width="0.71" stroke-linecap="round"/>
<path d="M385.37 105.09Q390.83 104.39 395.56 104.84" fill="none" stroke="#6a5743" stroke-width="0.86" stroke-linecap="round"/>
<path d="M339.43 60.79Q344.2 61.8 351.79 59.93" fill="none" stroke="#5e4c3a" stroke-width="0.68" stroke-linecap="round"/>
<path d="M407.08 60.16Q410.75 61.08 414.2 60.62" fill="none" stroke="#76624b" stroke-width="0.9" stroke-linecap="round"/>
<path d="M394.65 77.4Q397.44 73.47 397.95 71.11" fill="none" stroke="#6a5743" stroke-width="0.63" stroke-linecap="round"/>
<path d="M345.46 113.81Q342.11 112.59 338.28 109.38" fill="none" stroke="#2b231c" stroke-width="0.93" stroke-linecap="round"/>
<path d="M420.05 85.67Q425.76 83.46 431.08 84.01" fill="none" stroke="#857058" stroke-width="0.94" stroke-linecap="round"/>
<path d="M438.45 94.78Q433.97 92.92 431.13 90.68" fill="none" stroke="#76624b" stroke-width="0.55" stroke-linecap="round"/>
<path d="M365.77 55.47Q365.68 57.63 362.6 57.94" fill="none" stroke="#857058" stroke-width="0.99" stroke-linecap="round"/>
<path d="M424.84 81.72Q422.06 88.17 419.92 94.69" fill="none" stroke="#3a2f25" stroke-width="1.07" stroke-linecap="round"/>
<path d="M392.11 85.46Q393.71 89.72 392.35 92.11" fill="none" stroke="#2b231c" stroke-width="0.67" stroke-linecap="round"/>
<path d="M379.71 94.45Q386.18 95.92 392.71 95.76" fill="none" stroke="#2b231c" stroke-width="0.5" stroke-linecap="round"/>
<path d="M435.54 78.32Q435.4 79.83 432.91 83.87" fill="none" stroke="#5e4c3a" stroke-width="0.81" stroke-linecap="round"/>
<path d="M436.27 105.68Q430.7 101.54 427.42 99.33" fill="none" stroke="#76624b" stroke-width="1.08" stroke-linecap="round"/>
<path d="M381.47 55.82Q378.77 55.5 378.09 58.08" fill="none" stroke="#2b231c" stroke-width="0.5" stroke-linecap="round"/>
<path d="M397.9 128.96Q404.26 128.58 411.26 128.56" fill="none" stroke="#2b231c" stroke-width="0.61" stroke-linecap="round"/>
<path d="M349.53 60.29Q354.43 58.35 360.91 58.28" fill="none" stroke="#6a5743" stroke-width="0.79" stroke-linecap="round"/>
<path d="M394.35 124.8Q397.68 123.11 398.7 120.98" fill="none" stroke="#76624b" stroke-width="0.62" stroke-linecap="round"/>
<path d="M397.57 130.1Q401.1 129.18 404.5 129.18" fill="none" stroke="#2b231c" stroke-width="0.56" stroke-linecap="round"/>
<path d="M341.05 86.42Q343.11 91.13 343.17 97.79" fill="none" stroke="#2b231c" stroke-width="0.96" stroke-linecap="round"/>
<path d="M417.33 124.79Q423.21 120.41 427.29 118.95" fill="none" stroke="#2b231c" stroke-width="0.9" stroke-linecap="round"/>
<path d="M377.45 115.68Q371.77 118.62 365.16 119.9" fill="none" stroke="#5e4c3a" stroke-width="0.79" stroke-linecap="round"/>
<path d="M347.93 56.17Q341.07 55.97 336.78 53.4" fill="none" stroke="#6a5743" stroke-width="0.61" stroke-linecap="round"/>
<path d="M390.38 118.53Q391.27 116.91 392.61 113.57" fill="none" stroke="#76624b" stroke-width="0.69" stroke-linecap="round"/>
<path d="M358.61 106.47Q354.61 105.2 350 106.91" fill="none" stroke="#3a2f25" stroke-width="0.95" stroke-linecap="round"/>
<path d="M363.95 48.85Q364.62 47.37 364.44 43.91" fill="none" stroke="#4a3b2d" stroke-width="1.05" stroke-linecap="round"/>
<path d="M389.84 54.63Q389.43 49.47 390.3 42.1" fill="none" stroke="#4a3b2d" stroke-width="1" stroke-linecap="round"/>
<path d="M368.25 125.01Q371.89 119.91 375.92 117.43" fill="none" stroke="#6a5743" stroke-width="0.62" stroke-linecap="round"/>
<path d="M354.23 74.58Q351.24 71.28 348.44 65.3" fill="none" stroke="#76624b" stroke-width="0.71" stroke-linecap="round"/>
<path d="M371.63 77.18Q371.55 74.69 374.02 70.49" fill="none" stroke="#5e4c3a" stroke-width="0.8" stroke-linecap="round"/>
<path d="M342.05 81.29Q343.81 81.1 345.71 78.1" fill="none" stroke="#6a5743" stroke-width="0.84" stroke-linecap="round"/>
<path d="M343.96 118.66Q344.75 120.51 348.54 122.28" fill="none" stroke="#5e4c3a" stroke-width="1.01" stroke-linecap="round"/>
<path d="M376.9 55.08Q374.08 56.25 368.87 59.28" fill="none" stroke="#6a5743" stroke-width="1" stroke-linecap="round"/>
<path d="M358.47 118.91Q360.02 121.32 358.76 125.29" fill="none" stroke="#4a3b2d" stroke-width="0.52" stroke-linecap="round"/>
<path d="M395.16 122.02Q395.15 126.94 396.48 130.24" fill="none" stroke="#2b231c" stroke-width="1" stroke-linecap="round"/>
<path d="M413.93 46.62Q413.57 50.28 414.63 51.32" fill="none" stroke="#2b231c" stroke-width="0.59" stroke-linecap="round"/>
<path d="M415.47 48.62Q417.61 46.1 419.38 45.79" fill="none" stroke="#857058" stroke-width="0.54" stroke-linecap="round"/>
<path d="M426.63 76.97Q424.97 82.06 424.95 87.8" fill="none" stroke="#76624b" stroke-width="1" stroke-linecap="round"/>
<path d="M369.5 105.13Q372.66 106.29 378.1 104.48" fill="none" stroke="#4a3b2d" stroke-width="0.92" stroke-linecap="round"/>
<path d="M357.03 112.45Q358.55 111.46 359.87 109.31" fill="none" stroke="#76624b" stroke-width="0.56" stroke-linecap="round"/>
<path d="M411.14 66.81Q407.75 70.65 406.91 76.25" fill="none" stroke="#4a3b2d" stroke-width="1.05" stroke-linecap="round"/>
<path d="M421.76 95.99Q423.34 101.57 426.57 106.76" fill="none" stroke="#6a5743" stroke-width="0.6" stroke-linecap="round"/>
<path d="M434.2 69.28Q433.87 69.45 430.77 72.44" fill="none" stroke="#2b231c" stroke-width="0.83" stroke-linecap="round"/>
<path d="M413.51 56.14Q414.35 53.84 415.9 52.29" fill="none" stroke="#4a3b2d" stroke-width="0.54" stroke-linecap="round"/>
<path d="M409.54 77.14Q410.66 75.05 411.58 73.54" fill="none" stroke="#857058" stroke-width="0.69" stroke-linecap="round"/>
<path d="M373.65 84.98Q370.71 78.11 367.65 73.55" fill="none" stroke="#857058" stroke-width="0.95" stroke-linecap="round"/>
<path d="M344.91 46.37Q344.03 48.45 345.14 51.08" fill="none" stroke="#857058" stroke-width="1.04" stroke-linecap="round"/>
<path d="M402.08 126.26Q407.11 123.33 412.68 119.2" fill="none" stroke="#5e4c3a" stroke-width="0.69" stroke-linecap="round"/>
<path d="M404.68 82.24Q401.32 85.21 397.16 88.17" fill="none" stroke="#76624b" stroke-width="0.99" stroke-linecap="round"/>
<path d="M427.28 112.13Q433.39 114.98 438.35 115.99" fill="none" stroke="#2b231c" stroke-width="0.96" stroke-linecap="round"/>
<path d="M335.43 64.26Q331.18 65.65 327.61 67.28" fill="none" stroke="#2b231c" stroke-width="1.01" stroke-linecap="round"/>
<path d="M355.39 54.89Q359.23 59.62 365.63 61.78" fill="none" stroke="#857058" stroke-width="0.59" stroke-linecap="round"/>
<path d="M438.2 81.37Q436.36 82.77 432.31 84.86" fill="none" stroke="#5e4c3a" stroke-width="0.63" stroke-linecap="round"/>
<path d="M412.53 50.96Q410.33 51.46 406.18 53.68" fill="none" stroke="#2b231c" stroke-width="0.5" stroke-linecap="round"/>
<path d="M369.19 86.47Q368.79 81.2 369.09 78.42" fill="none" stroke="#5e4c3a" stroke-width="0.92" stroke-linecap="round"/>
<path d="M365.6 85.29Q365.5 80.7 367.29 77.23" fill="none" stroke="#4a3b2d" stroke-width="0.79" stroke-linecap="round"/>
<path d="M368.15 87.41Q364.46 88.66 363.73 88.17" fill="none" stroke="#2b231c" stroke-width="0.93" stroke-linecap="round"/>
<path d="M377.69 67.91Q375.15 63.54 372.48 57.56" fill="none" stroke="#6a5743" stroke-width="0.7" stroke-linecap="round"/>
<path d="M392.91 44.64Q387.28 44.44 384.32 42.13" fill="none" stroke="#2b231c" stroke-width="0.52" stroke-linecap="round"/>
<path d="M334.3 76.53Q329.21 71.43 325.79 68.07" fill="none" stroke="#2b231c" stroke-width="0.6" stroke-linecap="round"/>
<path d="M405.89 67.14Q405.47 70.81 405.57 72.73" fill="none" stroke="#6a5743" stroke-width="0.8" stroke-linecap="round"/>
<path d="M381.38 69.53Q377.01 72.3 371.49 77.69" fill="none" stroke="#5e4c3a" stroke-width="0.9" stroke-linecap="round"/>
<path d="M329.21 102.56Q327.86 102.3 324.49 101.83" fill="none" stroke="#5e4c3a" stroke-width="0.96" stroke-linecap="round"/>
<path d="M359.44 61.17Q362.85 61.5 364.01 60.72" fill="none" stroke="#76624b" stroke-width="0.74" stroke-linecap="round"/>
<path d="M416.48 126.25Q414.81 128.8 413.61 131.96" fill="none" stroke="#6a5743" stroke-width="0.79" stroke-linecap="round"/>
<path d="M428.1 60.84Q432.79 56.65 439.99 54.18" fill="none" stroke="#3a2f25" stroke-width="0.89" stroke-linecap="round"/>
<path d="M388.7 65.44Q392.48 64.06 398.95 63.16" fill="none" stroke="#4a3b2d" stroke-width="0.98" stroke-linecap="round"/>
<path d="M404.77 107.95Q406.91 109.18 409.41 109.34" fill="none" stroke="#6a5743" stroke-width="0.72" stroke-linecap="round"/>
<path d="M412.29 64.58Q406.28 65.72 400.75 67.65" fill="none" stroke="#6a5743" stroke-width="0.8" stroke-linecap="round"/>
<path d="M376.31 76.88Q377.35 78.76 381.07 79.55" fill="none" stroke="#3a2f25" stroke-width="1.1" stroke-linecap="round"/>
<path d="M365.44 59.39Q367.51 55.57 366.82 54.73" fill="none" stroke="#5e4c3a" stroke-width="1.01" stroke-linecap="round"/>
<path d="M369.48 62.93Q369.95 67.07 371.01 71.87" fill="none" stroke="#6a5743" stroke-width="0.56" stroke-linecap="round"/>
<path d="M394.25 87.21Q397.23 87.69 400.69 87.21" fill="none" stroke="#76624b" stroke-width="0.97" stroke-linecap="round"/>
<path d="M402.12 126.55Q401.28 130.57 402.88 135.2" fill="none" stroke="#2b231c" stroke-width="0.84" stroke-linecap="round"/>
<path d="M330.98 65.69Q332.44 70.21 333.26 72.96" fill="none" stroke="#2b231c" stroke-width="0.79" stroke-linecap="round"/>
<path d="M423.75 80.23Q428.93 78.05 434.25 73.42" fill="none" stroke="#2b231c" stroke-width="0.65" stroke-linecap="round"/>
<path d="M370.21 123.27Q368.23 121.25 367.77 118.14" fill="none" stroke="#76624b" stroke-width="0.66" stroke-linecap="round"/>
<path d="M411.85 122.07Q410.16 117.54 407.33 114.23" fill="none" stroke="#4a3b2d" stroke-width="0.81" stroke-linecap="round"/>
<path d="M353.35 128.63Q355.66 125 360.17 120.79" fill="none" stroke="#76624b" stroke-width="0.79" stroke-linecap="round"/>
<path d="M396.98 88.19Q401.32 85.71 403.38 84.35" fill="none" stroke="#5e4c3a" stroke-width="0.82" stroke-linecap="round"/>
<path d="M356.84 57.59Q353.95 56.8 352.44 54.1" fill="none" stroke="#76624b" stroke-width="0.95" stroke-linecap="round"/>
<path d="M349.79 113.95Q352.56 115.4 354.81 114.23" fill="none" stroke="#2b231c" stroke-width="1.01" stroke-linecap="round"/>
<path d="M362.78 111.44Q362.96 106.92 362.34 100.06" fill="none" stroke="#6a5743" stroke-width="0.68" stroke-linecap="round"/>
<path d="M383.16 103.28Q380.65 105.56 380.31 109.53" fill="none" stroke="#6a5743" stroke-width="1.02" stroke-linecap="round"/>
<path d="M347.28 67.27Q353.92 66.3 359.64 68.32" fill="none" stroke="#76624b" stroke-width="0.67" stroke-linecap="round"/>
<path d="M359.89 77.05Q362.23 80.34 366.72 84.12" fill="none" stroke="#6a5743" stroke-width="0.67" stroke-linecap="round"/>
<path d="M336.83 94.36Q340.54 90.89 345.85 85.04" fill="none" stroke="#3a2f25" stroke-width="1.1" stroke-linecap="round"/>
<path d="M346.71 107.84Q350.55 106.89 355.94 106.67" fill="none" stroke="#5e4c3a" stroke-width="0.51" stroke-linecap="round"/>
<path d="M330.66 94.12Q334.28 95.66 336.5 98.96" fill="none" stroke="#3a2f25" stroke-width="0.68" stroke-linecap="round"/>
<path d="M429.63 98.42Q432.59 96.67 437.17 92.54" fill="none" stroke="#857058" stroke-width="0.74" stroke-linecap="round"/>
<path d="M397.41 49.46Q396.36 52.31 395.57 54.6" fill="none" stroke="#857058" stroke-width="0.64" stroke-linecap="round"/>
<path d="M336.31 62.14Q338.71 67.4 339.18 71.3" fill="none" stroke="#6a5743" stroke-width="1.02" stroke-linecap="round"/>
<path d="M439.37 97.68Q442.37 93.93 443.68 87.5" fill="none" stroke="#2b231c" stroke-width="0.51" stroke-linecap="round"/>
<path d="M431.86 105.05Q428.2 103.64 426.03 103.26" fill="none" stroke="#5e4c3a" stroke-width="0.61" stroke-linecap="round"/>
<path d="M410.17 48.21Q415.63 49.39 423.61 49.01" fill="none" stroke="#5e4c3a" stroke-width="0.88" stroke-linecap="round"/>
<path d="M352.52 106.14Q354.13 110.99 355.41 116.96" fill="none" stroke="#857058" stroke-width="0.8" stroke-linecap="round"/>
<path d="M332.7 62.13Q329.76 61.59 326.85 63.71" fill="none" stroke="#76624b" stroke-width="0.65" stroke-linecap="round"/>
<path d="M331.21 71.15Q328.08 65.2 327.19 59.84" fill="none" stroke="#2b231c" stroke-width="1.04" stroke-linecap="round"/>
<path d="M342.06 90.02Q347.38 93.36 353.29 97.32" fill="none" stroke="#2b231c" stroke-width="0.79" stroke-linecap="round"/>
<path d="M401.98 77.53Q397.79 77.78 396.32 80.08" fill="none" stroke="#3a2f25" stroke-width="0.97" stroke-linecap="round"/>
<path d="M426.85 67.07Q430.13 61.12 435.14 58" fill="none" stroke="#4a3b2d" stroke-width="0.89" stroke-linecap="round"/>
<path d="M341.56 119.88Q345.83 118.32 350.49 115.87" fill="none" stroke="#2b231c" stroke-width="0.99" stroke-linecap="round"/>
<path d="M417.66 120.98Q421.21 117.74 427.48 114.93" fill="none" stroke="#76624b" stroke-width="0.55" stroke-linecap="round"/>
<path d="M431.49 96.42Q427.76 97.98 421.86 98.89" fill="none" stroke="#2b231c" stroke-width="0.74" stroke-linecap="round"/>
<path d="M410.92 124.32Q411.9 128.21 412.75 130.81" fill="none" stroke="#4a3b2d" stroke-width="1.04" stroke-linecap="round"/>
<path d="M391.85 115.21Q389.42 115.59 387.06 114.91" fill="none" stroke="#2b231c" stroke-width="0.92" stroke-linecap="round"/>
<path d="M429.12 93.71Q426.13 99.5 423.98 103.4" fill="none" stroke="#4a3b2d" stroke-width="0.99" stroke-linecap="round"/>
<path d="M380.69 45.42Q375 42.54 372.21 39.07" fill="none" stroke="#4a3b2d" stroke-width="0.52" stroke-linecap="round"/>
<path d="M332.24 63.96Q335.66 62.32 337.58 63.58" fill="none" stroke="#6a5743" stroke-width="0.69" stroke-linecap="round"/>
<path d="M348.39 70.06Q342.63 69.39 336.25 69.26" fill="none" stroke="#6a5743" stroke-width="1.03" stroke-linecap="round"/>
<path d="M399.37 110.35Q398.53 105.03 396.23 100.45" fill="none" stroke="#3a2f25" stroke-width="0.63" stroke-linecap="round"/>
<path d="M413.94 107.71Q417.4 105.64 421.06 103.69" fill="none" stroke="#6a5743" stroke-width="0.77" stroke-linecap="round"/>
<path d="M353.13 113.79Q349.4 116.59 347.26 121.26" fill="none" stroke="#2b231c" stroke-width="0.95" stroke-linecap="round"/>
<path d="M358.45 46.84Q362.5 44.15 364.45 41.66" fill="none" stroke="#857058" stroke-width="1.02" stroke-linecap="round"/>
<path d="M441.85 88.54Q441.84 91.7 443.35 93.05" fill="none" stroke="#76624b" stroke-width="0.94" stroke-linecap="round"/>
<path d="M343.43 116.12Q349.06 118.61 353.64 119.6" fill="none" stroke="#5e4c3a" stroke-width="0.73" stroke-linecap="round"/>
<path d="M432.4 81.53Q438.09 81.44 446.27 79.73" fill="none" stroke="#3a2f25" stroke-width="1.02" stroke-linecap="round"/>
<path d="M403.34 85.17Q404.47 91.13 403.94 95.17" fill="none" stroke="#2b231c" stroke-width="0.95" stroke-linecap="round"/>
<path d="M392.81 67.76Q393.65 62.04 393.34 57.9" fill="none" stroke="#4a3b2d" stroke-width="0.5" stroke-linecap="round"/>
<path d="M368.71 104.47Q370.95 103.16 372.64 103.66" fill="none" stroke="#2b231c" stroke-width="0.96" stroke-linecap="round"/>
<path d="M357.47 61.84Q357.74 58.99 357.08 57.27" fill="none" stroke="#76624b" stroke-width="0.62" stroke-linecap="round"/>
<path d="M380.28 55.92Q375.5 54.14 368.55 54.77" fill="none" stroke="#2b231c" stroke-width="0.96" stroke-linecap="round"/>
<path d="M400.19 106.56Q396.18 109.66 391.22 112.25" fill="none" stroke="#2b231c" stroke-width="1.07" stroke-linecap="round"/>
<path d="M336.99 111.28Q332.7 110.32 327.63 111.38" fill="none" stroke="#3a2f25" stroke-width="0.92" stroke-linecap="round"/>
<path d="M366.77 108.01Q361.96 110.4 358.67 114.2" fill="none" stroke="#3a2f25" stroke-width="0.95" stroke-linecap="round"/>
<path d="M393.07 62Q388.57 59.3 385.31 56.42" fill="none" stroke="#6a5743" stroke-width="1.08" stroke-linecap="round"/>
<path d="M339.99 88.22Q339.4 90.2 338.31 94.3" fill="none" stroke="#76624b" stroke-width="0.93" stroke-linecap="round"/>
<path d="M329.39 112.62Q325.32 114.32 323.69 116.6" fill="none" stroke="#2b231c" stroke-width="0.78" stroke-linecap="round"/>
<path d="M383.33 58.92Q381.8 54.12 377.62 49.73" fill="none" stroke="#857058" stroke-width="1.09" stroke-linecap="round"/>
<path d="M348.54 73.89Q344.44 77.2 343.13 79.45" fill="none" stroke="#5e4c3a" stroke-width="0.5" stroke-linecap="round"/>
<path d="M330.77 65.66Q327.43 61.71 326.06 57.33" fill="none" stroke="#2b231c" stroke-width="0.73" stroke-linecap="round"/>
<path d="M330.44 63.71Q335.85 59.5 342.47 57.72" fill="none" stroke="#857058" stroke-width="0.81" stroke-linecap="round"/>
<path d="M406.02 58.29Q407.53 61.89 408.43 64.25" fill="none" stroke="#4a3b2d" stroke-width="0.82" stroke-linecap="round"/>
<path d="M428.12 89.25Q423.69 86.09 419.21 85.51" fill="none" stroke="#2b231c" stroke-width="0.87" stroke-linecap="round"/>
<path d="M396.48 42.08Q392.95 38.58 390.44 36.53" fill="none" stroke="#857058" stroke-width="0.75" stroke-linecap="round"/>
<path d="M383.77 108.55Q380.87 111.71 376.41 113.9" fill="none" stroke="#76624b" stroke-width="0.62" stroke-linecap="round"/>
<path d="M339.68 122.96Q335.86 118.64 331.55 113.04" fill="none" stroke="#4a3b2d" stroke-width="0.84" stroke-linecap="round"/>
<path d="M411.48 116.14Q417.57 117.55 422.3 121.29" fill="none" stroke="#3a2f25" stroke-width="0.65" stroke-linecap="round"/>
<path d="M355.66 81.16Q354.68 82.68 351.62 85.36" fill="none" stroke="#857058" stroke-width="0.71" stroke-linecap="round"/>
<path d="M339.01 110.53Q335.83 113.28 329.86 113.5" fill="none" stroke="#6a5743" stroke-width="0.99" stroke-linecap="round"/>
<path d="M384.66 72.16Q379.54 70.31 371.94 70.78" fill="none" stroke="#3a2f25" stroke-width="1" stroke-linecap="round"/>
<path d="M366.64 79.47Q371.42 80 378.92 81.57" fill="none" stroke="#5e4c3a" stroke-width="0.63" stroke-linecap="round"/>
<path d="M397.8 51.29Q404.22 49.77 409.76 50.73" fill="none" stroke="#76624b" stroke-width="0.92" stroke-linecap="round"/>
<path d="M329.32 97.5Q330.33 102.5 331.42 107.9" fill="none" stroke="#4a3b2d" stroke-width="0.8" stroke-linecap="round"/>
<path d="M419.1 59Q420.69 56.67 419.8 52.87" fill="none" stroke="#6a5743" stroke-width="0.8" stroke-linecap="round"/>
<path d="M410.45 55.7Q413.55 60.95 418.11 66.32" fill="none" stroke="#3a2f25" stroke-width="1.09" stroke-linecap="round"/>
<path d="M375.32 81.08Q379.2 83.08 383.23 83.34" fill="none" stroke="#4a3b2d" stroke-width="0.75" stroke-linecap="round"/>
<path d="M394.08 84.23Q388.07 83.52 383.1 85.38" fill="none" stroke="#6a5743" stroke-width="0.62" stroke-linecap="round"/>
<path d="M381 67.39Q387.42 65.23 390.96 64.45" fill="none" stroke="#857058" stroke-width="0.68" stroke-linecap="round"/>
<path d="M405.66 50.9Q409.76 50.61 414.47 50.09" fill="none" stroke="#2b231c" stroke-width="1.09" stroke-linecap="round"/>
<path d="M368.34 121.8Q362.92 122.33 359 122.84" fill="none" stroke="#2b231c" stroke-width="1.05" stroke-linecap="round"/>
<path d="M346.44 116.48Q341.95 116.23 334.66 114.47" fill="none" stroke="#857058" stroke-width="0.8" stroke-linecap="round"/>
<path d="M431.36 77.21Q435.28 81.1 440.41 82.41" fill="none" stroke="#857058" stroke-width="0.98" stroke-linecap="round"/>
<path d="M398.96 124.73Q395.65 121.52 394.86 120.59" fill="none" stroke="#2b231c" stroke-width="0.51" stroke-linecap="round"/>
<path d="M411.29 67.76Q409.56 72.4 407.62 78.38" fill="none" stroke="#4a3b2d" stroke-width="0.66" stroke-linecap="round"/>
<path d="M333.91 118.32Q336.36 121.1 339.22 122.35" fill="none" stroke="#6a5743" stroke-width="0.62" stroke-linecap="round"/>
<path d="M355.01 87.7Q351.11 84.62 348.86 83.21" fill="none" stroke="#2b231c" stroke-width="0.77" stroke-linecap="round"/>
<path d="M377.96 110.01Q377.55 108.48 377.67 104.34" fill="none" stroke="#76624b" stroke-width="0.53" stroke-linecap="round"/>
<path d="M336.29 59.32Q336.98 53.94 340.19 48.93" fill="none" stroke="#2b231c" stroke-width="0.89" stroke-linecap="round"/>
<path d="M404.24 45.64Q399.35 44.38 394.77 43.93" fill="none" stroke="#5e4c3a" stroke-width="0.86" stroke-linecap="round"/>
<path d="M421.6 115.14Q422.58 115.03 425.45 111.98" fill="none" stroke="#76624b" stroke-width="0.52" stroke-linecap="round"/>
<path d="M334.28 116.68Q337.82 122.1 338.86 124.73" fill="none" stroke="#76624b" stroke-width="0.89" stroke-linecap="round"/>
<path d="M383.79 75.96Q383.39 69.08 380.25 65.04" fill="none" stroke="#857058" stroke-width="1.08" stroke-linecap="round"/>
<path d="M394.62 128.74Q396.75 130.05 399.65 130.47" fill="none" stroke="#3a2f25" stroke-width="0.83" stroke-linecap="round"/>
<path d="M369.2 123.04Q365.43 118.6 363.48 113.51" fill="none" stroke="#3a2f25" stroke-width="0.6" stroke-linecap="round"/>
<path d="M439.14 103.49Q438.55 100.05 436.89 94.29" fill="none" stroke="#6a5743" stroke-width="0.6" stroke-linecap="round"/>
<path d="M334.44 57.54Q336.43 62.05 337.16 66.59" fill="none" stroke="#2b231c" stroke-width="1.05" stroke-linecap="round"/>
<path d="M348.93 126.18Q345.53 127.75 339.43 130.78" fill="none" stroke="#4a3b2d" stroke-width="0.98" stroke-linecap="round"/>
<path d="M438.26 79.09Q444.54 75.43 450.54 74.4" fill="none" stroke="#6a5743" stroke-width="1.04" stroke-linecap="round"/>
<path d="M368.78 112.66Q365.16 112.83 359.71 112.95" fill="none" stroke="#2b231c" stroke-width="0.86" stroke-linecap="round"/>
<path d="M393.57 105.7Q387.88 105.21 381.27 106.27" fill="none" stroke="#76624b" stroke-width="0.66" stroke-linecap="round"/>
<path d="M392.68 111.75Q390.61 110.3 391.41 106.8" fill="none" stroke="#76624b" stroke-width="0.61" stroke-linecap="round"/>
<path d="M356.48 121.69Q356.18 117.21 356.19 110.94" fill="none" stroke="#6a5743" stroke-width="0.66" stroke-linecap="round"/>
<path d="M388.14 99.55Q395.06 99.21 401.66 98.97" fill="none" stroke="#4a3b2d" stroke-width="0.92" stroke-linecap="round"/>
<path d="M338.52 99.28Q340.88 99.63 342.6 100.17" fill="none" stroke="#76624b" stroke-width="1.02" stroke-linecap="round"/>
<path d="M430.69 68.49Q432.35 67.73 435.51 67.2" fill="none" stroke="#857058" stroke-width="1.08" stroke-linecap="round"/>
<path d="M344.7 107.93Q350.17 106.55 354.99 102.93" fill="none" stroke="#857058" stroke-width="0.96" stroke-linecap="round"/>
<path d="M337.52 121.72Q336.82 125.14 337.73 128.79" fill="none" stroke="#2b231c" stroke-width="0.64" stroke-linecap="round"/>
<path d="M435.17 97.61Q431.99 94.72 427.07 94.48" fill="none" stroke="#76624b" stroke-width="0.97" stroke-linecap="round"/>
<path d="M405.98 79.08Q412.02 79.36 415.18 76.97" fill="none" stroke="#3a2f25" stroke-width="0.97" stroke-linecap="round"/>
<path d="M416.92 105.93Q420.53 113.03 422.96 117.69" fill="none" stroke="#76624b" stroke-width="0.8" stroke-linecap="round"/>
<path d="M419.07 56Q415.49 53.49 414.71 53.37" fill="none" stroke="#6a5743" stroke-width="0.63" stroke-linecap="round"/>
<path d="M329.34 95.86Q323.19 99.36 318.79 102.48" fill="none" stroke="#3a2f25" stroke-width="0.5" stroke-linecap="round"/>
<path d="M373.75 127.04Q367.57 125.81 363.27 122.92" fill="none" stroke="#2b231c" stroke-width="0.66" stroke-linecap="round"/>
<path d="M380.28 106.48Q379.42 114.37 377.15 119.34" fill="none" stroke="#2b231c" stroke-width="0.79" stroke-linecap="round"/>
<path d="M370.78 112.11Q375.97 105.73 379.06 101.39" fill="none" stroke="#6a5743" stroke-width="0.91" stroke-linecap="round"/>
<path d="M333.12 79.5Q334.68 79.44 338.49 81.01" fill="none" stroke="#5e4c3a" stroke-width="0.76" stroke-linecap="round"/>
<path d="M370.78 51.29Q372.29 46.81 373.25 41.51" fill="none" stroke="#3a2f25" stroke-width="0.68" stroke-linecap="round"/>
<path d="M333.76 102.86Q335.35 98 336.78 94.27" fill="none" stroke="#5e4c3a" stroke-width="0.69" stroke-linecap="round"/>
<path d="M388.85 121.77Q394.04 119.55 400.98 115.52" fill="none" stroke="#3a2f25" stroke-width="0.58" stroke-linecap="round"/>
<path d="M350.97 92.93Q349.92 88.76 349.46 83.61" fill="none" stroke="#6a5743" stroke-width="0.89" stroke-linecap="round"/>
<path d="M408.14 51.34Q402.35 54.13 396.65 55.88" fill="none" stroke="#5e4c3a" stroke-width="0.9" stroke-linecap="round"/>
<path d="M373.96 90.68Q379.21 88.26 385.03 84.61" fill="none" stroke="#6a5743" stroke-width="0.92" stroke-linecap="round"/>
<path d="M426.17 66.01Q423.78 66.06 422.34 64.02" fill="none" stroke="#76624b" stroke-width="0.62" stroke-linecap="round"/>
<path d="M350.01 80.76Q347.72 85.71 343.37 88.87" fill="none" stroke="#4a3b2d" stroke-width="0.85" stroke-linecap="round"/>
<path d="M405.81 59.8Q401.88 56.94 400.92 56.41" fill="none" stroke="#6a5743" stroke-width="1.03" stroke-linecap="round"/>
<path d="M339.87 66.33Q344.58 61.34 350.07 57.98" fill="none" stroke="#5e4c3a" stroke-width="0.83" stroke-linecap="round"/>
<path d="M334.29 56.88Q336.36 53.37 337.27 51.1" fill="none" stroke="#76624b" stroke-width="1.02" stroke-linecap="round"/>
<path d="M370.55 129.5Q368.03 134.16 366.87 141.47" fill="none" stroke="#2b231c" stroke-width="1.08" stroke-linecap="round"/>
<path d="M379.15 130.75Q381.6 131.52 385 134.33" fill="none" stroke="#4a3b2d" stroke-width="0.82" stroke-linecap="round"/>
<path d="M394.52 56.82Q390 62.13 385.89 65.28" fill="none" stroke="#5e4c3a" stroke-width="0.58" stroke-linecap="round"/>
<path d="M408.23 53.32Q410.53 53.67 412.29 54.41" fill="none" stroke="#4a3b2d" stroke-width="0.61" stroke-linecap="round"/>
<path d="M351.14 124.84Q347.05 127.42 341.11 132.41" fill="none" stroke="#76624b" stroke-width="0.53" stroke-linecap="round"/>
<path d="M357.27 113.61Q353.89 112.96 349.15 110.35" fill="none" stroke="#4a3b2d" stroke-width="0.72" stroke-linecap="round"/>
<path d="M381.55 42.31Q385.06 47.72 385.75 53.91" fill="none" stroke="#2b231c" stroke-width="0.5" stroke-linecap="round"/>
<path d="M412.17 93.18Q408.34 94.63 406.14 93.28" fill="none" stroke="#2b231c" stroke-width="0.7" stroke-linecap="round"/>
<path d="M338.91 56.73Q334.81 60.3 328.7 64.54" fill="none" stroke="#3a2f25" stroke-width="0.79" stroke-linecap="round"/>
<path d="M332.43 106.89Q332.44 104.88 330.38 102.51" fill="none" stroke="#4a3b2d" stroke-width="0.57" stroke-linecap="round"/>
<path d="M423.85 86.88Q430.28 88.29 434.95 90.49" fill="none" stroke="#6a5743" stroke-width="0.68" stroke-linecap="round"/>
<path d="M359.13 47.86Q353.56 47.85 349.38 49.25" fill="none" stroke="#4a3b2d" stroke-width="0.94" stroke-linecap="round"/>
<path d="M414.87 99.19Q414.06 99.63 412.69 102.9" fill="none" stroke="#2b231c" stroke-width="0.99" stroke-linecap="round"/>
<path d="M398.43 81.85Q393.88 82.09 387.01 83.02" fill="none" stroke="#2b231c" stroke-width="1.02" stroke-linecap="round"/>
<path d="M406.88 95.71Q402.03 100.24 397.15 104.09" fill="none" stroke="#6a5743" stroke-width="0.75" stroke-linecap="round"/>
<path d="M375.79 105.38Q371.71 102.95 364.86 100.1" fill="none" stroke="#76624b" stroke-width="0.59" stroke-linecap="round"/>
<path d="M396.12 108.77Q393.06 111.64 387.29 111.74" fill="none" stroke="#6a5743" stroke-width="1.08" stroke-linecap="round"/>
<path d="M436.35 98.41Q433.23 100.14 432.11 98.9" fill="none" stroke="#857058" stroke-width="0.75" stroke-linecap="round"/>
<path d="M432.24 81.07Q427.37 79.24 424.45 78.9" fill="none" stroke="#6a5743" stroke-width="0.55" stroke-linecap="round"/>
<path d="M424.03 87.14Q418.11 85.23 413 85.53" fill="none" stroke="#2b231c" stroke-width="0.93" stroke-linecap="round"/>
<path d="M442.19 88.28Q445.63 92.47 448.26 99.02" fill="none" stroke="#2b231c" stroke-width="1.01" stroke-linecap="round"/>
<path d="M335.23 89.29Q335.73 84.63 337.66 78.87" fill="none" stroke="#2b231c" stroke-width="1.05" stroke-linecap="round"/>
<path d="M398.93 124.45Q401.37 120.51 402.44 117.56" fill="none" stroke="#3a2f25" stroke-width="0.94" stroke-linecap="round"/>
<path d="M415 49.73Q415.23 54.19 413.66 60.16" fill="none" stroke="#3a2f25" stroke-width="0.88" stroke-linecap="round"/>
<path d="M419.74 110.36Q415.97 109.11 410.88 107.44" fill="none" stroke="#5e4c3a" stroke-width="0.81" stroke-linecap="round"/>
<path d="M349.88 66.54Q350.14 62.07 352.76 55.38" fill="none" stroke="#857058" stroke-width="0.6" stroke-linecap="round"/>
<path d="M331.09 94.31Q331.29 97.82 334.14 100.03" fill="none" stroke="#2b231c" stroke-width="0.94" stroke-linecap="round"/>
<path d="M381.85 61.46Q387.75 63.53 393.94 64.14" fill="none" stroke="#2b231c" stroke-width="0.67" stroke-linecap="round"/>
<path d="M420.48 94.83Q422.75 94.53 424.98 92.37" fill="none" stroke="#3a2f25" stroke-width="0.98" stroke-linecap="round"/>
<path d="M391.4 80.68Q387.72 84.89 383.6 89.34" fill="none" stroke="#2b231c" stroke-width="0.73" stroke-linecap="round"/>
<path d="M405.04 121.82Q401.67 127.14 400.01 130.58" fill="none" stroke="#2b231c" stroke-width="0.83" stroke-linecap="round"/>
<path d="M354.43 66.21Q360.23 63.81 364.2 63.56" fill="none" stroke="#2b231c" stroke-width="0.77" stroke-linecap="round"/>
<path d="M377.66 102.87Q374.94 100.8 373.52 98.16" fill="none" stroke="#76624b" stroke-width="0.59" stroke-linecap="round"/>
<path d="M433.86 69.74Q434.44 74.84 436.56 77.5" fill="none" stroke="#6a5743" stroke-width="0.83" stroke-linecap="round"/>
<path d="M348.73 98.16Q347.57 91.21 346.74 87.21" fill="none" stroke="#5e4c3a" stroke-width="0.77" stroke-linecap="round"/>
<path d="M335.4 56.77Q339.22 52.8 340.4 46.57" fill="none" stroke="#4a3b2d" stroke-width="0.83" stroke-linecap="round"/>
<path d="M372.11 128.39Q374.72 128.47 378.93 127.17" fill="none" stroke="#6a5743" stroke-width="1.1" stroke-linecap="round"/>
<path d="M436.38 73.62Q440.63 77.04 443.89 80.04" fill="none" stroke="#2b231c" stroke-width="0.53" stroke-linecap="round"/>
<path d="M362.59 63.7Q365.37 57.61 369.78 53.96" fill="none" stroke="#2b231c" stroke-width="1.08" stroke-linecap="round"/>
<path d="M401.8 108.15Q407.51 104.32 410.34 102.96" fill="none" stroke="#3a2f25" stroke-width="0.76" stroke-linecap="round"/>
<path d="M399.81 115.22Q394.82 113.1 391.53 112.27" fill="none" stroke="#76624b" stroke-width="1.04" stroke-linecap="round"/>
<path d="M368.74 108.48Q370.94 112.61 372.48 114.46" fill="none" stroke="#5e4c3a" stroke-width="0.55" stroke-linecap="round"/>
<path d="M330.01 101.71Q333.44 98.29 335.58 93.93" fill="none" stroke="#76624b" stroke-width="0.71" stroke-linecap="round"/>
<path d="M431.36 114.8Q434.48 116.89 439.63 117.22" fill="none" stroke="#6a5743" stroke-width="0.8" stroke-linecap="round"/>
<path d="M344.75 104.6Q342.62 103.29 339.58 100.9" fill="none" stroke="#3a2f25" stroke-width="0.57" stroke-linecap="round"/>
<path d="M354.45 60.49Q357.17 58.86 358.83 55.03" fill="none" stroke="#2b231c" stroke-width="0.81" stroke-linecap="round"/>
<path d="M369.24 128.91Q371.27 124.27 373.11 122.43" fill="none" stroke="#2b231c" stroke-width="0.89" stroke-linecap="round"/>
<path d="M338.18 109.43Q332.81 111.65 326.43 114.15" fill="none" stroke="#3a2f25" stroke-width="0.53" stroke-linecap="round"/>
<path d="M365.94 107.76Q367.56 106.14 369.75 106.49" fill="none" stroke="#5e4c3a" stroke-width="1.07" stroke-linecap="round"/>
<path d="M382.13 57.14Q380.11 55.96 378.7 53.54" fill="none" stroke="#4a3b2d" stroke-width="0.87" stroke-linecap="round"/>
<path d="M431.61 91.46Q430.44 88.36 431.1 85.43" fill="none" stroke="#4a3b2d" stroke-width="0.93" stroke-linecap="round"/>
<path d="M412.68 100.68Q420.1 99.94 426.31 98.2" fill="none" stroke="#3a2f25" stroke-width="0.72" stroke-linecap="round"/>
<path d="M388.78 116.27Q385.38 111.79 384.28 107.17" fill="none" stroke="#76624b" stroke-width="0.81" stroke-linecap="round"/>
<path d="M423.93 93.22Q427.88 98.23 434.25 101.96" fill="none" stroke="#76624b" stroke-width="0.96" stroke-linecap="round"/>
<path d="M440.59 87.55Q434.02 86.1 428.42 82.2" fill="none" stroke="#857058" stroke-width="0.89" stroke-linecap="round"/>
<path d="M346.54 118.84Q351.21 119.76 353.02 118.26" fill="none" stroke="#857058" stroke-width="0.72" stroke-linecap="round"/>
<path d="M434.59 79.66Q429.04 76.33 422.21 73.76" fill="none" stroke="#2b231c" stroke-width="0.89" stroke-linecap="round"/>
<path d="M419.42 57.95Q424.16 51.8 428.56 48.5" fill="none" stroke="#2b231c" stroke-width="1.08" stroke-linecap="round"/>
<path d="M405.89 88.3Q403.69 93.17 399.56 95.23" fill="none" stroke="#4a3b2d" stroke-width="0.93" stroke-linecap="round"/>
<path d="M396.39 68.8Q395.57 62.61 393.9 57.65" fill="none" stroke="#5e4c3a" stroke-width="0.52" stroke-linecap="round"/>
<path d="M413.89 56.12Q407.19 55.56 400.58 53.83" fill="none" stroke="#4a3b2d" stroke-width="0.65" stroke-linecap="round"/>
<path d="M436.53 80.11Q435.78 82.52 432.65 85.84" fill="none" stroke="#5e4c3a" stroke-width="1" stroke-linecap="round"/>
<path d="M350.96 43.71Q352.6 36.8 355.62 32.31" fill="none" stroke="#76624b" stroke-width="0.97" stroke-linecap="round"/>
<path d="M382.18 79.99Q383.76 80.96 388.21 80.99" fill="none" stroke="#3a2f25" stroke-width="0.65" stroke-linecap="round"/>
<path d="M338.56 113.44Q334.27 111.89 327.01 110.07" fill="none" stroke="#3a2f25" stroke-width="0.81" stroke-linecap="round"/>
<path d="M404.29 63.31Q397.24 66.55 393.12 70.53" fill="none" stroke="#76624b" stroke-width="0.87" stroke-linecap="round"/>
<path d="M326.84 81.65Q323.79 82.07 320.24 84.56" fill="none" stroke="#3a2f25" stroke-width="0.74" stroke-linecap="round"/>
<path d="M376.25 119.83Q381.79 123.68 388 125.45" fill="none" stroke="#4a3b2d" stroke-width="0.61" stroke-linecap="round"/>
<path d="M364.28 54.07Q361.66 50.17 358.1 44.87" fill="none" stroke="#5e4c3a" stroke-width="0.81" stroke-linecap="round"/>
<path d="M360.06 85.67Q357.62 87.22 353.68 86.94" fill="none" stroke="#76624b" stroke-width="0.52" stroke-linecap="round"/>
<path d="M364.24 119.33Q366.38 125.05 369.79 130.08" fill="none" stroke="#857058" stroke-width="0.73" stroke-linecap="round"/>
<path d="M399.43 51.33Q404.48 48.19 408.78 44.72" fill="none" stroke="#5e4c3a" stroke-width="1.07" stroke-linecap="round"/>
<path d="M342.87 118.11Q345.02 123.38 344.35 127.14" fill="none" stroke="#6a5743" stroke-width="0.59" stroke-linecap="round"/>
<path d="M406.56 118.07Q404.34 113.03 404 105.27" fill="none" stroke="#5e4c3a" stroke-width="1.06" stroke-linecap="round"/>
<path d="M427.37 115.51Q432.59 119.81 435.78 125.48" fill="none" stroke="#4a3b2d" stroke-width="0.85" stroke-linecap="round"/>
<path d="M437.59 99.17Q443.79 102.22 447.55 103.96" fill="none" stroke="#4a3b2d" stroke-width="0.89" stroke-linecap="round"/>
<path d="M345.81 110.44Q346.41 114.33 345.97 119.01" fill="none" stroke="#857058" stroke-width="0.73" stroke-linecap="round"/>
<path d="M394.49 67.68Q396.6 69.23 400.71 69.73" fill="none" stroke="#4a3b2d" stroke-width="0.73" stroke-linecap="round"/>
<path d="M379.54 73.57Q375.48 74.68 372.62 78.27" fill="none" stroke="#2b231c" stroke-width="0.53" stroke-linecap="round"/>
<path d="M352.41 100.62Q348.38 97.09 343.32 93.52" fill="none" stroke="#5e4c3a" stroke-width="0.57" stroke-linecap="round"/>
<path d="M369.95 80.77Q371.82 73.94 370.95 68.92" fill="none" stroke="#3a2f25" stroke-width="0.86" stroke-linecap="round"/>
<path d="M344.27 110.42Q341.48 114.05 338.7 115.58" fill="none" stroke="#4a3b2d" stroke-width="0.71" stroke-linecap="round"/>
<path d="M367.78 64.48Q369.83 62.36 373.94 62.4" fill="none" stroke="#5e4c3a" stroke-width="0.86" stroke-linecap="round"/>
<path d="M379.21 103.03Q373.13 97.92 368.59 95.27" fill="none" stroke="#2b231c" stroke-width="0.56" stroke-linecap="round"/>
<path d="M359.59 113.78Q361.36 116.12 360.33 118.53" fill="none" stroke="#4a3b2d" stroke-width="0.69" stroke-linecap="round"/>
<path d="M384.26 72.28Q385.7 69.39 389.87 67.29" fill="none" stroke="#2b231c" stroke-width="0.67" stroke-linecap="round"/>
<path d="M356.15 94.41Q359.25 95.64 365.04 99.06" fill="none" stroke="#3a2f25" stroke-width="0.7" stroke-linecap="round"/>
<path d="M368.35 76.97Q362.99 76.35 356.68 74.59" fill="none" stroke="#2b231c" stroke-width="0.86" stroke-linecap="round"/>
<path d="M343.72 45.66Q342.14 50.84 342.75 53.74" fill="none" stroke="#6a5743" stroke-width="0.82" stroke-linecap="round"/>
<path d="M402.05 127.69Q403.51 133.04 402.9 139.79" fill="none" stroke="#6a5743" stroke-width="0.57" stroke-linecap="round"/>
<path d="M432.3 72.05Q437.63 69.07 439.38 71.08" fill="none" stroke="#3b3027" stroke-width="0.67" stroke-linecap="round"/>
<path d="M434 75.86Q434.84 75.94 441.24 70.98" fill="none" stroke="#5a4837" stroke-width="0.71" stroke-linecap="round"/>
<path d="M435.42 95.41Q437.78 91.76 441.08 93.47" fill="none" stroke="#3b3027" stroke-width="0.54" stroke-linecap="round"/>
<path d="M417.73 56.07Q417.07 57.24 417.82 53" fill="none" stroke="#5a4837" stroke-width="0.68" stroke-linecap="round"/>
<path d="M434.47 98.82Q438.57 104.15 437.66 103.72" fill="none" stroke="#5a4837" stroke-width="0.8" stroke-linecap="round"/>
<path d="M385.46 129.78Q386.4 133.69 387.25 140.17" fill="none" stroke="#6e5a44" stroke-width="0.73" stroke-linecap="round"/>
<path d="M414.79 54.23Q415.38 50.82 421.3 45.68" fill="none" stroke="#3b3027" stroke-width="0.77" stroke-linecap="round"/>
<path d="M431.91 71.32Q433.62 71.85 439.85 73.05" fill="none" stroke="#7c6850" stroke-width="0.69" stroke-linecap="round"/>
<path d="M385.12 46.21Q387.28 40.39 384.91 38.72" fill="none" stroke="#6e5a44" stroke-width="0.51" stroke-linecap="round"/>
<path d="M374.81 129.15Q373.9 134.03 375.68 137.7" fill="none" stroke="#7c6850" stroke-width="0.65" stroke-linecap="round"/>
<path d="M410.06 51.77Q413.2 49.61 410.89 45.95" fill="none" stroke="#5a4837" stroke-width="0.79" stroke-linecap="round"/>
<path d="M434.71 77.94Q439.32 77.17 442.87 78.72" fill="none" stroke="#5a4837" stroke-width="0.65" stroke-linecap="round"/>
<path d="M413.35 122.58Q417.04 126.71 417.25 128.64" fill="none" stroke="#5a4837" stroke-width="0.55" stroke-linecap="round"/>
<path d="M430.12 68.36Q435.24 62.64 436.22 61.99" fill="none" stroke="#6e5a44" stroke-width="0.75" stroke-linecap="round"/>
<path d="M435.06 96.87Q437.31 95.72 441.19 94.72" fill="none" stroke="#7c6850" stroke-width="0.82" stroke-linecap="round"/>
<path d="M414.12 122.16Q418.37 122.52 417.53 123.53" fill="none" stroke="#6e5a44" stroke-width="0.77" stroke-linecap="round"/>
<path d="M412.29 52.85Q411.95 49.69 414.26 49.82" fill="none" stroke="#7c6850" stroke-width="0.8" stroke-linecap="round"/>
<path d="M429.16 109.03Q433.59 113.05 441.27 114.43" fill="none" stroke="#5a4837" stroke-width="0.78" stroke-linecap="round"/>
<path d="M436.24 88.98Q442.76 88.24 448.16 91.31" fill="none" stroke="#3b3027" stroke-width="0.72" stroke-linecap="round"/>
<path d="M391.87 46.68Q388.53 44.23 389.61 42.73" fill="none" stroke="#6e5a44" stroke-width="0.86" stroke-linecap="round"/>
<path d="M425.42 62.52Q427.15 59.41 426.75 60.2" fill="none" stroke="#5a4837" stroke-width="0.83" stroke-linecap="round"/>
<path d="M432.06 71.61Q434.56 70.29 436.89 66.58" fill="none" stroke="#5a4837" stroke-width="0.88" stroke-linecap="round"/>
<path d="M401.87 127.28Q403.2 127.47 401.1 129.1" fill="none" stroke="#6e5a44" stroke-width="0.52" stroke-linecap="round"/>
<path d="M426.9 64.14Q431.57 63.81 431.74 60.54" fill="none" stroke="#3b3027" stroke-width="0.78" stroke-linecap="round"/>
<path d="M418.68 119.26Q421.85 124.68 421.89 126.74" fill="none" stroke="#6e5a44" stroke-width="0.89" stroke-linecap="round"/>
<path d="M433.38 74.35Q441.16 73.66 443.81 67.95" fill="none" stroke="#6e5a44" stroke-width="0.71" stroke-linecap="round"/>
<path d="M384.54 129.8Q387.26 135.11 387.71 140.35" fill="none" stroke="#3b3027" stroke-width="0.9" stroke-linecap="round"/>
<path d="M391.77 129.34Q394.3 133.41 393.85 133.57" fill="none" stroke="#7c6850" stroke-width="0.82" stroke-linecap="round"/>
<path d="M393.95 46.96Q396.2 44.21 394.55 42.15" fill="none" stroke="#3b3027" stroke-width="0.83" stroke-linecap="round"/>
<path d="M372.43 128.76Q370.28 133.5 368.38 135.93" fill="none" stroke="#6e5a44" stroke-width="0.51" stroke-linecap="round"/>
<path d="M411.14 123.72Q412.44 125.48 413.26 133.22" fill="none" stroke="#7c6850" stroke-width="0.81" stroke-linecap="round"/>
<path d="M430.82 69.44Q439.43 63.78 442.62 63.14" fill="none" stroke="#5a4837" stroke-width="0.69" stroke-linecap="round"/>
<path d="M423.03 60.21Q423.09 56.04 425.63 53.24" fill="none" stroke="#5a4837" stroke-width="0.52" stroke-linecap="round"/>
<path d="M390.03 129.52Q389.57 131.15 386.68 135.71" fill="none" stroke="#6e5a44" stroke-width="0.68" stroke-linecap="round"/>
<path d="M391.34 129.39Q391.36 133.15 394.12 136.07" fill="none" stroke="#5a4837" stroke-width="0.71" stroke-linecap="round"/>
<path d="M427.57 64.92Q430.96 62.65 428.52 62.93" fill="none" stroke="#5a4837" stroke-width="0.57" stroke-linecap="round"/>
<path d="M427.22 64.51Q427.79 65.4 431.88 63.01" fill="none" stroke="#5a4837" stroke-width="0.89" stroke-linecap="round"/>
<path d="M386.94 46.27Q386.35 44.27 385.66 43.13" fill="none" stroke="#5a4837" stroke-width="0.72" stroke-linecap="round"/>
<path d="M436.15 85.42Q438.87 81.91 439.8 83.58" fill="none" stroke="#6e5a44" stroke-width="0.62" stroke-linecap="round"/>
<path d="M369.14 128.07Q369.55 129.48 368.52 127.55" fill="none" stroke="#5a4837" stroke-width="0.78" stroke-linecap="round"/>
<path d="M433.14 102.21Q434.51 103.29 437.52 101.6" fill="none" stroke="#3b3027" stroke-width="0.65" stroke-linecap="round"/>
<path d="M408.87 51.24Q413.66 50.25 412.93 44.97" fill="none" stroke="#5a4837" stroke-width="0.56" stroke-linecap="round"/>
<path d="M363.63 126.49Q362.74 134.84 359.8 140.21" fill="none" stroke="#3b3027" stroke-width="0.8" stroke-linecap="round"/>
<path d="M422.61 59.84Q425.65 55.62 423.26 53.34" fill="none" stroke="#7c6850" stroke-width="0.83" stroke-linecap="round"/>
<path d="M436.02 84.11Q439.46 81.71 443.94 82.56" fill="none" stroke="#3b3027" stroke-width="0.54" stroke-linecap="round"/>
<path d="M421.31 117.26Q426.3 120.5 428.68 124.38" fill="none" stroke="#7c6850" stroke-width="0.72" stroke-linecap="round"/>
<path d="M396.93 128.5Q394.35 134.88 396.26 137.95" fill="none" stroke="#7c6850" stroke-width="0.79" stroke-linecap="round"/>
<path d="M389.12 129.6Q389.77 136.35 393.51 139.78" fill="none" stroke="#5a4837" stroke-width="0.69" stroke-linecap="round"/>
<path d="M373.04 128.87Q375.73 133.41 372.45 134.92" fill="none" stroke="#3b3027" stroke-width="0.54" stroke-linecap="round"/>
<path d="M376.11 129.32Q376.7 134.83 373.53 137.09" fill="none" stroke="#5a4837" stroke-width="0.65" stroke-linecap="round"/>
<path d="M421.12 117.42Q424.43 118.27 428.7 123.17" fill="none" stroke="#7c6850" stroke-width="0.69" stroke-linecap="round"/>
<path d="M418.55 56.64Q418.95 55.99 422.59 55.93" fill="none" stroke="#6e5a44" stroke-width="0.82" stroke-linecap="round"/>
<path d="M435.99 92.14Q438.71 93.24 442.04 90.07" fill="none" stroke="#6e5a44" stroke-width="0.68" stroke-linecap="round"/>
<path d="M431.61 105.21Q431.68 105.22 436.21 111.03" fill="none" stroke="#7c6850" stroke-width="0.72" stroke-linecap="round"/>
<path d="M427.75 65.15Q433.07 64.42 433.81 66.29" fill="none" stroke="#6e5a44" stroke-width="0.71" stroke-linecap="round"/>
<path d="M435.05 79.08Q438.25 77.53 439.69 77.42" fill="none" stroke="#3b3027" stroke-width="0.81" stroke-linecap="round"/>
<path d="M359.01 124.71Q354.47 128.56 353.46 127.99" fill="none" stroke="#7c6850" stroke-width="0.81" stroke-linecap="round"/>
<path d="M435.04 79.06Q437.91 80.91 438.87 78.37" fill="none" stroke="#7c6850" stroke-width="0.63" stroke-linecap="round"/>
<path d="M431.14 106.03Q433.01 107.42 435.53 110.25" fill="none" stroke="#7c6850" stroke-width="0.5" stroke-linecap="round"/>
<path d="M367.32 127.61Q367.6 128.33 368.12 132.82" fill="none" stroke="#5a4837" stroke-width="0.76" stroke-linecap="round"/>
<path d="M424.79 61.88Q424.88 61.77 428.85 59.22" fill="none" stroke="#6e5a44" stroke-width="0.61" stroke-linecap="round"/>
<path d="M435.14 79.42Q436.6 78.52 439.09 75.69" fill="none" stroke="#5a4837" stroke-width="0.73" stroke-linecap="round"/>
<path d="M404.2 126.55Q402.25 129.29 404.18 129.39" fill="none" stroke="#5a4837" stroke-width="0.58" stroke-linecap="round"/>
<path d="M433.13 73.77Q435.47 73.62 438.13 69.76" fill="none" stroke="#3b3027" stroke-width="0.61" stroke-linecap="round"/>
<path d="M422.68 116.1Q426.26 118.02 428.16 119.01" fill="none" stroke="#5a4837" stroke-width="0.88" stroke-linecap="round"/>
<path d="M391.88 46.68Q397 40.1 396.37 36.85" fill="none" stroke="#6e5a44" stroke-width="0.7" stroke-linecap="round"/>
<path d="M380.91 129.73Q383.82 136.83 384.04 143.26" fill="none" stroke="#7c6850" stroke-width="0.54" stroke-linecap="round"/>
<path d="M385.4 46.21Q381.23 46.09 383.04 40.83" fill="none" stroke="#3b3027" stroke-width="0.76" stroke-linecap="round"/>
<path d="M429.23 108.92Q428.66 109.69 433.81 113.2" fill="none" stroke="#6e5a44" stroke-width="0.71" stroke-linecap="round"/>
<path d="M420.96 58.46Q421.23 55.43 422.07 51.02" fill="none" stroke="#6e5a44" stroke-width="0.54" stroke-linecap="round"/>
<path d="M350.61 44.13Q349.65 37.94 348.58 32.66L347.5 27.39" fill="none" stroke="#6e5a44" stroke-width="0.8" stroke-linecap="round" stroke-linejoin="round"/>
<path d="M359.03 43.96Q362.72 36.24 363.47 33.08L364.21 29.93" fill="none" stroke="#5a4837" stroke-width="0.8" stroke-linecap="round" stroke-linejoin="round"/>
<path d="M395.86 42.62Q392.93 34.69 392.54 31.07L392.16 27.45" fill="none" stroke="#5a4837" stroke-width="0.8" stroke-linecap="round" stroke-linejoin="round"/>
<path d="M404.76 45.94Q410.29 38.45 412.47 35.83L414.64 33.21" fill="none" stroke="#6e5a44" stroke-width="0.8" stroke-linecap="round" stroke-linejoin="round"/>
<path d="M419.37 127.17Q417.53 132.53 420.32 135.2L423.11 137.87" fill="none" stroke="#5e4c3a" stroke-width="0.81" stroke-linecap="round" stroke-linejoin="round"/>
<path d="M431.35 129.85Q431.52 134.54 430.99 136.61L430.46 138.67" fill="none" stroke="#4a3b2d" stroke-width="0.82" stroke-linecap="round" stroke-linejoin="round"/>
<path d="M429.81 125.64Q431.44 128.49 427.74 132.45L424.05 136.42" fill="none" stroke="#3a2f25" stroke-width="0.62" stroke-linecap="round" stroke-linejoin="round"/>
<path d="M405.81 123.34Q405.53 126.58 407.48 129.69L409.43 132.8" fill="none" stroke="#3a2f25" stroke-width="0.66" stroke-linecap="round" stroke-linejoin="round"/>
<path d="M372.82 124.11Q371 130.89 371.16 133.75L371.33 136.61" fill="none" stroke="#4a3b2d" stroke-width="0.66" stroke-linecap="round" stroke-linejoin="round"/>
<path d="M370.16 127.03Q372.39 130.72 373.15 132.53L373.91 134.33" fill="none" stroke="#5e4c3a" stroke-width="0.72" stroke-linecap="round" stroke-linejoin="round"/>
<path d="M376.2 129.03Q377.55 133.57 378.64 136.83L379.73 140.09" fill="none" stroke="#5e4c3a" stroke-width="0.59" stroke-linecap="round" stroke-linejoin="round"/>
<path d="M397.48 128.2Q398.61 132.44 396.61 134.95L394.62 137.46" fill="none" stroke="#5e4c3a" stroke-width="0.73" stroke-linecap="round" stroke-linejoin="round"/>
<path d="M376.67 128.11Q374.51 135.51 375.92 136.21L377.33 136.9" fill="none" stroke="#5e4c3a" stroke-width="0.74" stroke-linecap="round" stroke-linejoin="round"/>
<path d="M409.36 131.31Q408.12 133.05 409.99 135.45L411.86 137.85" fill="none" stroke="#4a3b2d" stroke-width="0.65" stroke-linecap="round" stroke-linejoin="round"/>
<path d="M350.77 125.5Q353.44 131.09 354.32 134.15L355.2 137.2" fill="none" stroke="#4a3b2d" stroke-width="0.81" stroke-linecap="round" stroke-linejoin="round"/>
<path d="M409.14 126.64Q409.02 131.42 412.3 133.51L415.57 135.6" fill="none" stroke="#3a2f25" stroke-width="0.6" stroke-linecap="round" stroke-linejoin="round"/>
<path d="M421.64 129.89Q418.1 133.95 417.52 135.75L416.95 137.55" fill="none" stroke="#4a3b2d" stroke-width="0.77" stroke-linecap="round" stroke-linejoin="round"/>
<path d="M392.23 126.22Q389.18 129.93 391.35 133.95L393.52 137.97" fill="none" stroke="#5e4c3a" stroke-width="0.76" stroke-linecap="round" stroke-linejoin="round"/>
<path d="M359.96 124.53Q361.71 128.52 363.58 131.62L365.45 134.71" fill="none" stroke="#4a3b2d" stroke-width="0.55" stroke-linecap="round" stroke-linejoin="round"/>
<path d="M428.5 125.67Q426.78 129.5 426.58 133.25L426.38 137" fill="none" stroke="#4a3b2d" stroke-width="0.61" stroke-linecap="round" stroke-linejoin="round"/>
<path d="M387.04 126.72Q390.92 130.25 387.04 133.73L383.16 137.21" fill="none" stroke="#3a2f25" stroke-width="0.82" stroke-linecap="round" stroke-linejoin="round"/>
<path d="M380.76 127.4Q382.85 132.01 383.88 133.04L384.9 134.08" fill="none" stroke="#3a2f25" stroke-width="0.56" stroke-linecap="round" stroke-linejoin="round"/>
<path d="M342.38 83.98Q342.91 81.84 344.9 81.54Q346.89 81.23 348.39 83.06Q349.89 84.88 348.95 87.31Q348 89.73 346.02 89.49Q344.05 89.25 342.95 87.68Q341.85 86.11 342.38 83.98Z" fill="#e8dfca" />
<path d="M362.5 86.27Q363.19 83.81 365.66 83.87Q368.13 83.94 369.19 86.52Q370.26 89.09 368.2 90.69Q366.15 92.29 363.97 90.51Q361.8 88.74 362.5 86.27Z" fill="#cbbd9e" /></g></g>
<g clip-path="url(#cc)"><g filter="url(#pb)"><path d="M596.66 69.74Q596.73 59.45 597.96 54.06Q599.19 48.68 600.47 43.6Q601.75 38.53 602.3 34.51L602.86 30.49" fill="none" stroke="#7a6450" stroke-width="1.19" stroke-linecap="round" stroke-linejoin="round"/>
<path d="M615.91 70.01Q616.81 61.66 619.35 58.85Q621.88 56.04 621.81 53.84Q621.74 51.65 623.75 47.23L625.76 42.82" fill="none" stroke="#4a3a2e" stroke-width="1.16" stroke-linecap="round" stroke-linejoin="round"/>
<path d="M579.59 65.03Q578.48 53.19 576.73 48.3Q574.99 43.41 574.01 37.01Q573.02 30.62 570.47 26.41L567.91 22.2" fill="none" stroke="#4a3a2e" stroke-width="0.93" stroke-linecap="round" stroke-linejoin="round"/>
<path d="M560.1 65.65Q558.27 63.11 556.88 60.01Q555.49 56.92 554.75 55.46Q554.01 54 553.47 51.62L552.92 49.24" fill="none" stroke="#8a735e" stroke-width="0.87" stroke-linecap="round" stroke-linejoin="round"/>
<path d="M615.21 63.31Q615.03 56.37 614.15 53.05Q613.27 49.73 613.72 46.85Q614.17 43.98 613.01 39.68L611.85 35.38" fill="none" stroke="#4a3a2e" stroke-width="1.12" stroke-linecap="round" stroke-linejoin="round"/>
<path d="M619.53 65.48Q619.18 59.02 618.69 57.23Q618.2 55.44 616.69 52.51Q615.18 49.58 615.62 45.34L616.07 41.11" fill="none" stroke="#8a735e" stroke-width="0.83" stroke-linecap="round" stroke-linejoin="round"/>
<path d="M606.08 66.34Q603.81 62.35 603.55 60.92Q603.3 59.49 602.41 57.24Q601.52 55 599.83 53.45L598.15 51.91" fill="none" stroke="#4a3a2e" stroke-width="1.16" stroke-linecap="round" stroke-linejoin="round"/>
<path d="M596.74 66.17Q592.65 57.74 590.89 53.23Q589.13 48.72 587.13 42.34Q585.13 35.97 583.37 32.26L581.61 28.55" fill="none" stroke="#5e4a3a" stroke-width="0.64" stroke-linecap="round" stroke-linejoin="round"/>
<path d="M587.8 68.49Q589.59 59.38 588.66 53.43Q587.72 47.47 588.3 43.65Q588.88 39.82 589.09 33.98L589.31 28.13" fill="none" stroke="#7a6450" stroke-width="1.01" stroke-linecap="round" stroke-linejoin="round"/>
<path d="M578 65.13Q576.52 58.99 576.25 56.58Q575.98 54.18 575.55 52.16Q575.11 50.13 574.89 48.27L574.67 46.41" fill="none" stroke="#5e4a3a" stroke-width="0.8" stroke-linecap="round" stroke-linejoin="round"/>
<path d="M592.65 65.6Q594.96 56.36 594.99 52.58Q595.01 48.8 595.03 43.76Q595.06 38.71 595.4 34.58L595.74 30.45" fill="none" stroke="#5e4a3a" stroke-width="0.61" stroke-linecap="round" stroke-linejoin="round"/>
<path d="M575.46 71.13Q574.58 62.27 572.8 57.64Q571.01 53 569.26 47.68Q567.51 42.36 567.43 38.4L567.35 34.44" fill="none" stroke="#5e4a3a" stroke-width="0.81" stroke-linecap="round" stroke-linejoin="round"/>
<path d="M607.98 67.08Q611.17 56.3 612.16 50.89Q613.15 45.49 615.37 40.04Q617.59 34.6 617.74 29.39L617.89 24.18" fill="none" stroke="#8a735e" stroke-width="0.71" stroke-linecap="round" stroke-linejoin="round"/>
<path d="M618.76 69.31Q618.77 59.89 617.13 55.82Q615.5 51.75 616.04 48.13Q616.59 44.51 614.73 39.12L612.87 33.74" fill="none" stroke="#5e4a3a" stroke-width="0.82" stroke-linecap="round" stroke-linejoin="round"/>
<path d="M609.1 70.17Q608.15 59.91 606.51 53.68Q604.88 47.44 605.68 42.31Q606.48 37.18 604.53 32.15L602.58 27.12" fill="none" stroke="#5e4a3a" stroke-width="1.08" stroke-linecap="round" stroke-linejoin="round"/>
<path d="M569.6 70.75Q569.78 65.67 568.37 60.8Q566.96 55.93 566.76 52.79Q566.56 49.65 565.91 44.72L565.25 39.8" fill="none" stroke="#7a6450" stroke-width="0.85" stroke-linecap="round" stroke-linejoin="round"/>
<path d="M618.4 63.02Q617.72 58.05 617.01 55.19Q616.29 52.32 616.23 48.69Q616.17 45.05 615.79 41.27L615.42 37.5" fill="none" stroke="#4a3a2e" stroke-width="0.81" stroke-linecap="round" stroke-linejoin="round"/>
<path d="M600.99 64.11Q597.49 54.77 597 49.88Q596.5 44.99 594.61 39.79Q592.71 34.59 591.03 29.33L589.35 24.08" fill="none" stroke="#7a6450" stroke-width="0.62" stroke-linecap="round" stroke-linejoin="round"/>
<path d="M565.43 60.8Q563.32 57.6 562.75 56.6Q562.19 55.6 562.88 52.27Q563.58 48.94 562.56 48.02L561.53 47.1" fill="none" stroke="#5e4a3a" stroke-width="0.76" stroke-linecap="round" stroke-linejoin="round"/>
<path d="M583.39 63.62Q580.73 57.05 579.15 53.38Q577.56 49.72 577.3 45.26Q577.03 40.8 574.96 35.9L572.9 30.99" fill="none" stroke="#5e4a3a" stroke-width="0.79" stroke-linecap="round" stroke-linejoin="round"/>
<path d="M598.76 63.69Q595.55 58.79 593.03 55.47Q590.5 52.15 588.89 49.03Q587.28 45.91 585.8 42.86L584.32 39.81" fill="none" stroke="#7a6450" stroke-width="1.01" stroke-linecap="round" stroke-linejoin="round"/>
<path d="M571.43 66.08Q572.59 61.25 572.55 59.55Q572.51 57.85 573.45 55.99Q574.39 54.13 575.04 52.51L575.69 50.89" fill="none" stroke="#5e4a3a" stroke-width="0.94" stroke-linecap="round" stroke-linejoin="round"/>
<path d="M618.25 66.67Q620.38 61.38 621.19 58.72Q622 56.07 623.17 54.24Q624.33 52.41 626.87 49L629.41 45.6" fill="none" stroke="#8a735e" stroke-width="0.62" stroke-linecap="round" stroke-linejoin="round"/>
<path d="M610.37 68.15Q611.09 63.87 610.3 60.51Q609.51 57.15 608.89 52.92Q608.26 48.7 608.76 46.28L609.26 43.87" fill="none" stroke="#7a6450" stroke-width="0.72" stroke-linecap="round" stroke-linejoin="round"/>
<path d="M591.63 67.77Q587.95 60.99 586.71 55.56Q585.47 50.13 584.91 45.78Q584.36 41.43 583.67 36.93L582.98 32.43" fill="none" stroke="#5e4a3a" stroke-width="0.64" stroke-linecap="round" stroke-linejoin="round"/>
<path d="M619.83 68.21Q619.28 56.97 620.1 50.95Q620.92 44.93 620.78 39.63Q620.65 34.32 621.51 27.79L622.38 21.27" fill="none" stroke="#8a735e" stroke-width="0.8" stroke-linecap="round" stroke-linejoin="round"/>
<path d="M605.58 70.51Q603.16 61.47 604.25 57.71Q605.33 53.94 605.1 49.91Q604.88 45.88 604.25 41.05L603.61 36.23" fill="none" stroke="#8a735e" stroke-width="0.84" stroke-linecap="round" stroke-linejoin="round"/>
<path d="M610.17 70.61Q612.52 65.66 614.46 63.96Q616.39 62.26 617.57 59.69Q618.74 57.12 619.68 53.73L620.63 50.34" fill="none" stroke="#4a3a2e" stroke-width="0.8" stroke-linecap="round" stroke-linejoin="round"/>
<path d="M593.07 64.26Q591.45 57.09 591.59 53.92Q591.73 50.74 591.58 48.37Q591.43 46 591.11 43.05L590.79 40.1" fill="none" stroke="#7a6450" stroke-width="0.92" stroke-linecap="round" stroke-linejoin="round"/>
<path d="M560.26 71.19Q560.95 65.09 558.66 59.89Q556.38 54.69 556.26 52.34Q556.13 50 556 46.09L555.86 42.19" fill="none" stroke="#4a3a2e" stroke-width="0.84" stroke-linecap="round" stroke-linejoin="round"/>
<path d="M564.66 64.88Q567.2 56.5 566.93 52.68Q566.65 48.86 568.63 45.7Q570.61 42.53 570.94 39.17L571.28 35.81" fill="none" stroke="#4a3a2e" stroke-width="0.61" stroke-linecap="round" stroke-linejoin="round"/>
<path d="M615.65 69.77Q608.37 62.72 607.31 58.04Q606.24 53.37 602.61 49.99Q598.98 46.62 597.6 42.69L596.22 38.77" fill="none" stroke="#5e4a3a" stroke-width="0.75" stroke-linecap="round" stroke-linejoin="round"/>
<path d="M563.49 65.69Q567.12 62.12 567.19 58.68Q567.26 55.23 569.18 53.63Q571.09 52.02 572.12 49.2L573.15 46.38" fill="none" stroke="#7a6450" stroke-width="1.05" stroke-linecap="round" stroke-linejoin="round"/>
<path d="M584.12 69.71Q584.07 61.89 584.55 58.49Q585.03 55.09 584.66 51.81Q584.29 48.52 584.59 44.67L584.89 40.82" fill="none" stroke="#4a3a2e" stroke-width="1.06" stroke-linecap="round" stroke-linejoin="round"/>
<path d="M588.72 69.12Q588.52 62.7 589.49 60.95Q590.46 59.2 591.57 57.29Q592.68 55.38 592.48 52.74L592.28 50.09" fill="none" stroke="#4a3a2e" stroke-width="0.77" stroke-linecap="round" stroke-linejoin="round"/>
<path d="M601.34 64.43Q599.28 57.38 596.24 52.48Q593.2 47.59 592.28 44.52Q591.36 41.44 588.56 37.55L585.77 33.65" fill="none" stroke="#8a735e" stroke-width="0.77" stroke-linecap="round" stroke-linejoin="round"/>
<path d="M579.62 65.63Q579.24 61.8 580.9 60.3Q582.57 58.8 582.14 58.17Q581.72 57.54 582.19 56.84L582.66 56.14" fill="none" stroke="#7a6450" stroke-width="0.61" stroke-linecap="round" stroke-linejoin="round"/>
<path d="M571 70.98Q572.26 62.45 574.76 57.89Q577.27 53.32 577.88 49.6Q578.49 45.88 580.77 41.58L583.05 37.28" fill="none" stroke="#7a6450" stroke-width="0.63" stroke-linecap="round" stroke-linejoin="round"/>
<path d="M603.42 70.66Q602.19 65.86 600.54 64.22Q598.9 62.57 597.7 60.39Q596.5 58.2 595.54 54.65L594.58 51.1" fill="none" stroke="#7a6450" stroke-width="1" stroke-linecap="round" stroke-linejoin="round"/>
<path d="M607.46 63.24Q601.15 62.1 599.17 60.36Q597.19 58.62 595.14 57.73Q593.1 56.85 591.2 55.34L589.3 53.83" fill="none" stroke="#5e4a3a" stroke-width="0.71" stroke-linecap="round" stroke-linejoin="round"/>
<path d="M610.01 67.66Q605.57 58 605.57 53.55Q605.58 49.1 604.31 44.83Q603.05 40.56 602.19 36.12L601.34 31.69" fill="none" stroke="#8a735e" stroke-width="0.92" stroke-linecap="round" stroke-linejoin="round"/>
<path d="M613.46 62.76Q616.07 54.66 616.68 51.32Q617.3 47.98 618.16 44.19Q619.03 40.4 620.63 36.48L622.22 32.56" fill="none" stroke="#5e4a3a" stroke-width="0.84" stroke-linecap="round" stroke-linejoin="round"/>
<path d="M562.41 69.1Q558.85 58.26 558.4 53.46Q557.96 48.65 556.1 43.44Q554.24 38.23 552.95 32.67L551.67 27.11" fill="none" stroke="#7a6450" stroke-width="1.11" stroke-linecap="round" stroke-linejoin="round"/>
<path d="M616.42 71.66Q612.38 60.26 611.72 56.66Q611.06 53.07 608.11 49.65Q605.15 46.23 603.89 41.9L602.63 37.56" fill="none" stroke="#8a735e" stroke-width="0.95" stroke-linecap="round" stroke-linejoin="round"/>
<path d="M511 67Q533.81 66.05 560 69" fill="none" stroke="#7d6b58" stroke-width="2.6" stroke-linecap="round"/>
<path d="M511 74Q537.05 74.96 560 75" fill="none" stroke="#7d6b58" stroke-width="1.6" stroke-linecap="round"/>
<path d="M511 84Q533.06 80.91 560 80" fill="none" stroke="#7d6b58" stroke-width="2" stroke-linecap="round"/>
<path d="M511 91Q537.63 90.2 560 90" fill="none" stroke="#7d6b58" stroke-width="2.6" stroke-linecap="round"/>
<path d="M511 96Q536.85 97.97 560 97" fill="none" stroke="#7d6b58" stroke-width="1.2" stroke-linecap="round"/>
<path d="M581 118Q547.99 126.86 512 132" fill="none" stroke="#766452" stroke-width="2.6" stroke-linecap="round"/>
<path d="M578 122Q541.9 137.95 512 146" fill="none" stroke="#766452" stroke-width="2.2" stroke-linecap="round"/>
<path d="M640.79 72.54Q651.76 69.84 657.59 70.3Q663.42 70.77 669.81 69.09L676.21 67.42" fill="none" stroke="#7d6b58" stroke-width="0.8" stroke-linecap="round" stroke-linejoin="round"/>
<path d="M626.76 111.7Q620.74 122.68 616.08 126.96Q611.41 131.25 608.67 136.92L605.93 142.6" fill="none" stroke="#4a3a2e" stroke-width="0.9" stroke-linecap="round" stroke-linejoin="round"/>
<path d="M640.32 112.38Q645.32 120.15 646.86 124.18L648.4 128.21" fill="none" stroke="#4a3a2e" stroke-width="0.8" stroke-linecap="round" stroke-linejoin="round"/>
<path d="M556.59 99.94Q554.18 109.86 553.86 114.34L553.55 118.82" fill="none" stroke="#4a3a2e" stroke-width="0.8" stroke-linecap="round" stroke-linejoin="round"/>
<path d="M595.79 90.48Q592.36 99.65 589.05 104.29Q585.73 108.93 584.76 112.53L583.78 116.12" fill="none" stroke="#4a3a2e" stroke-width="0.8" stroke-linecap="round" stroke-linejoin="round"/>
<path d="M547.16 75.75Q549.18 71.79 552.7 67.91Q556.23 64.02 561.96 63.89Q567.7 63.75 574.83 61.97Q581.97 60.19 589.03 60.75Q596.1 61.31 603.67 62.7Q611.25 64.09 615.27 67.66Q619.3 71.23 618.9 78.46Q618.51 85.68 614.38 91.84Q610.25 98 605.96 100.89Q601.68 103.78 593.56 104.32Q585.44 104.86 578.69 104.48Q571.93 104.09 565.96 101.27Q560 98.44 554.25 96.18Q548.5 93.91 546.82 86.81Q545.13 79.71 547.16 75.75Z" fill="#54463a" />
<path d="M568.65 75.37Q568.58 73.05 568.53 72.75" fill="none" stroke="#6a5848" stroke-width="1.46" stroke-linecap="round"/>
<path d="M570.26 72.95Q569.62 70.4 567.2 67.63" fill="none" stroke="#7c6a56" stroke-width="1.49" stroke-linecap="round"/>
<path d="M556.91 86.28Q559.19 87.33 561.02 86.6" fill="none" stroke="#4a3c30" stroke-width="1.17" stroke-linecap="round"/>
<path d="M559.16 97.2Q557.91 94.66 556.26 91.88" fill="none" stroke="#7c6a56" stroke-width="1.19" stroke-linecap="round"/>
<path d="M565.15 100.08Q566.73 101.52 566.36 103.23" fill="none" stroke="#7c6a56" stroke-width="1.47" stroke-linecap="round"/>
<path d="M614.33 76.53Q613.74 77.17 615.69 80.27" fill="none" stroke="#7c6a56" stroke-width="0.81" stroke-linecap="round"/>
<path d="M587.41 82.97Q590.5 80.69 591.48 79.41" fill="none" stroke="#30261e" stroke-width="1.13" stroke-linecap="round"/>
<path d="M595.1 77.79Q596.85 82.07 596.13 83.79" fill="none" stroke="#6a5848" stroke-width="0.66" stroke-linecap="round"/>
<path d="M617.09 75.12Q614.57 74.57 612.26 74.97" fill="none" stroke="#6a5848" stroke-width="1.17" stroke-linecap="round"/>
<path d="M574.47 87.37Q572.52 85.97 570.74 87.22" fill="none" stroke="#8a7762" stroke-width="0.71" stroke-linecap="round"/>
<path d="M590.53 89.13Q592.05 88.68 593.46 87.88" fill="none" stroke="#30261e" stroke-width="0.83" stroke-linecap="round"/>
<path d="M601.24 93.88Q601.56 95.88 602.78 96.11" fill="none" stroke="#30261e" stroke-width="1.22" stroke-linecap="round"/>
<path d="M550.51 73.9Q549.94 77.54 548.67 80.56" fill="none" stroke="#6a5848" stroke-width="1.28" stroke-linecap="round"/>
<path d="M561.8 84.35Q563.07 88.45 565.78 89.99" fill="none" stroke="#7c6a56" stroke-width="1.09" stroke-linecap="round"/>
<path d="M605.47 92.77Q605.46 91.47 605.84 88.19" fill="none" stroke="#8a7762" stroke-width="1.16" stroke-linecap="round"/>
<path d="M595.85 71.84Q595.61 72.71 597.29 73.47" fill="none" stroke="#8a7762" stroke-width="1.17" stroke-linecap="round"/>
<path d="M550.09 87.25Q550.23 86.65 548.37 86.1" fill="none" stroke="#8a7762" stroke-width="0.94" stroke-linecap="round"/>
<path d="M593.2 69.65Q594.59 70.09 598.01 67.92" fill="none" stroke="#6a5848" stroke-width="1.3" stroke-linecap="round"/>
<path d="M558.97 84.79Q559.5 84.14 557.86 82.41" fill="none" stroke="#30261e" stroke-width="1.12" stroke-linecap="round"/>
<path d="M605.34 66.77Q604.97 66.92 603.72 68.38" fill="none" stroke="#4a3c30" stroke-width="1.32" stroke-linecap="round"/>
<path d="M565.77 91.36Q567.19 93.95 567.08 96.75" fill="none" stroke="#4a3c30" stroke-width="0.71" stroke-linecap="round"/>
<path d="M551.61 71.53Q554.46 71.14 555.23 68.67" fill="none" stroke="#30261e" stroke-width="0.78" stroke-linecap="round"/>
<path d="M576.91 99.37Q574.9 101.83 575.62 105.53" fill="none" stroke="#4a3c30" stroke-width="1.04" stroke-linecap="round"/>
<path d="M564.67 95.22Q566.79 96.26 570.47 96.05" fill="none" stroke="#8a7762" stroke-width="1.23" stroke-linecap="round"/>
<path d="M593.3 78.3Q594.72 79.32 593.42 82.76" fill="none" stroke="#3e3229" stroke-width="1.25" stroke-linecap="round"/>
<path d="M586.29 98.45Q588.08 101.41 589.87 103.48" fill="none" stroke="#6a5848" stroke-width="0.91" stroke-linecap="round"/>
<path d="M599.57 67.41Q598.75 67.14 596.36 63.93" fill="none" stroke="#4a3c30" stroke-width="0.86" stroke-linecap="round"/>
<path d="M578.69 76.52Q574.86 77.58 573.48 76.06" fill="none" stroke="#7c6a56" stroke-width="0.81" stroke-linecap="round"/>
<path d="M579.74 70.31Q581.63 67.8 580.58 68.14" fill="none" stroke="#6a5848" stroke-width="0.67" stroke-linecap="round"/>
<path d="M589.72 100.17Q587.62 101.41 587.61 100.4" fill="none" stroke="#7c6a56" stroke-width="0.78" stroke-linecap="round"/>
<path d="M565.32 66.94Q568.44 65.73 569.89 63.55" fill="none" stroke="#7c6a56" stroke-width="1.3" stroke-linecap="round"/>
<path d="M554.57 73.38Q552.77 71.32 553.56 70.99" fill="none" stroke="#7c6a56" stroke-width="0.98" stroke-linecap="round"/>
<path d="M558.23 70.09Q557.58 73.71 557.45 75.46" fill="none" stroke="#30261e" stroke-width="1.17" stroke-linecap="round"/>
<path d="M586.76 98.91Q586.59 99.15 584.81 100.36" fill="none" stroke="#3e3229" stroke-width="0.96" stroke-linecap="round"/>
<path d="M616.01 76.65Q618.08 75.83 621.54 75.42" fill="none" stroke="#3e3229" stroke-width="0.84" stroke-linecap="round"/>
<path d="M570.81 66.46Q569.12 65.55 566.96 62.28" fill="none" stroke="#3e3229" stroke-width="1.32" stroke-linecap="round"/>
<path d="M601.19 89.77Q601.89 88.99 604.59 88.79" fill="none" stroke="#6a5848" stroke-width="0.63" stroke-linecap="round"/>
<path d="M612.61 75.15Q612.64 73.47 612.79 69.83" fill="none" stroke="#7c6a56" stroke-width="1.38" stroke-linecap="round"/>
<path d="M579.56 87.01Q579.88 86.56 583.1 86.07" fill="none" stroke="#30261e" stroke-width="0.73" stroke-linecap="round"/>
<path d="M570.84 89.6Q570.37 89.24 568.35 86.93" fill="none" stroke="#4a3c30" stroke-width="1.11" stroke-linecap="round"/>
<path d="M588.37 87.21Q589.43 85.29 589.67 84.03" fill="none" stroke="#6a5848" stroke-width="1.22" stroke-linecap="round"/>
<path d="M592.89 73.02Q592.01 74.84 591.42 75.23" fill="none" stroke="#30261e" stroke-width="0.91" stroke-linecap="round"/>
<path d="M586.39 83.62Q590.57 81.7 592.1 82.08" fill="none" stroke="#8a7762" stroke-width="1.38" stroke-linecap="round"/>
<path d="M587.77 102.9Q586.72 104.82 586.46 108.18" fill="none" stroke="#3e3229" stroke-width="0.95" stroke-linecap="round"/>
<path d="M550.73 75.74Q550.65 76.79 549.11 77.85" fill="none" stroke="#30261e" stroke-width="1.19" stroke-linecap="round"/>
<path d="M592.52 89.25Q594.29 88.07 598.23 89.78" fill="none" stroke="#30261e" stroke-width="0.99" stroke-linecap="round"/>
<path d="M559.99 68.2Q556.66 70.07 556.12 71.83" fill="none" stroke="#3e3229" stroke-width="0.92" stroke-linecap="round"/>
<path d="M578.43 69.15Q579.98 72.99 580.36 75.09" fill="none" stroke="#3e3229" stroke-width="1.11" stroke-linecap="round"/>
<path d="M571.34 71.36Q572.37 74.29 573.87 74.56" fill="none" stroke="#3e3229" stroke-width="0.98" stroke-linecap="round"/>
<path d="M582 67.89Q584.02 67.51 583.89 64.36" fill="none" stroke="#30261e" stroke-width="0.68" stroke-linecap="round"/>
<path d="M589.64 102.79Q588.92 102.35 586 100.55" fill="none" stroke="#30261e" stroke-width="0.73" stroke-linecap="round"/>
<path d="M606.03 100.42Q607.11 104.6 606.13 106.77" fill="none" stroke="#8a7762" stroke-width="0.63" stroke-linecap="round"/>
<path d="M569.32 79.03Q569.72 83.01 572.47 84.69" fill="none" stroke="#30261e" stroke-width="1" stroke-linecap="round"/>
<path d="M583.85 71.02Q582.64 71.36 581.3 72.85" fill="none" stroke="#4a3c30" stroke-width="0.85" stroke-linecap="round"/>
<path d="M617.35 77.12Q618.13 76.75 621.22 77.11" fill="none" stroke="#6a5848" stroke-width="1.18" stroke-linecap="round"/>
<path d="M585.83 66.81Q585.21 68.45 583.89 70.68" fill="none" stroke="#3e3229" stroke-width="1.36" stroke-linecap="round"/>
<path d="M606.94 90.6Q607.34 87.27 606.83 86.58" fill="none" stroke="#6a5848" stroke-width="1.31" stroke-linecap="round"/>
<path d="M568.87 67.11Q566.53 69.66 565.62 70.09" fill="none" stroke="#8a7762" stroke-width="0.73" stroke-linecap="round"/>
<path d="M581.59 90.02Q581.14 91.41 581.02 93.28" fill="none" stroke="#6a5848" stroke-width="0.75" stroke-linecap="round"/>
<path d="M609.42 91.56Q610.54 90.03 613.44 91.17" fill="none" stroke="#30261e" stroke-width="1.2" stroke-linecap="round"/>
<path d="M589.92 101.88Q591.87 104.06 596.24 103.96" fill="none" stroke="#30261e" stroke-width="0.71" stroke-linecap="round"/>
<path d="M602.78 100.76Q603.21 99.87 601.61 97.78" fill="none" stroke="#30261e" stroke-width="0.67" stroke-linecap="round"/>
<path d="M569.49 89Q567.04 88.23 565.79 89.7" fill="none" stroke="#4a3c30" stroke-width="1.01" stroke-linecap="round"/>
<path d="M589.32 102.32Q588.31 104.94 588.71 104.94" fill="none" stroke="#30261e" stroke-width="1.07" stroke-linecap="round"/>
<path d="M550.61 86.52Q551.66 88.58 555.33 89.05" fill="none" stroke="#6a5848" stroke-width="1.48" stroke-linecap="round"/>
<path d="M589.67 72.48Q588.3 74.4 587.51 76.6" fill="none" stroke="#6a5848" stroke-width="0.63" stroke-linecap="round"/>
<path d="M571.83 94.8Q574.06 92.52 577.01 91.09" fill="none" stroke="#4a3c30" stroke-width="1.12" stroke-linecap="round"/>
<path d="M601.75 94.06Q603.68 95.06 605 93.95" fill="none" stroke="#3e3229" stroke-width="0.65" stroke-linecap="round"/>
<path d="M591.49 85.54Q588.35 86.16 588.19 85.15" fill="none" stroke="#4a3c30" stroke-width="1.45" stroke-linecap="round"/>
<path d="M556.52 72.28Q555.43 69.62 556.74 69.41" fill="none" stroke="#4a3c30" stroke-width="1.38" stroke-linecap="round"/>
<path d="M573.65 72.47Q571.73 73.49 571.54 72.02" fill="none" stroke="#7c6a56" stroke-width="0.94" stroke-linecap="round"/>
<path d="M562.21 88.93Q564.32 88.1 566.25 86.27" fill="none" stroke="#4a3c30" stroke-width="1.41" stroke-linecap="round"/>
<path d="M570.03 78.91Q568.89 80.15 566.07 79.7" fill="none" stroke="#7c6a56" stroke-width="1.22" stroke-linecap="round"/>
<path d="M571 87.67Q568.38 87.45 564.98 90.18" fill="none" stroke="#4a3c30" stroke-width="1.07" stroke-linecap="round"/>
<path d="M557.12 90.66Q557.72 91.1 560.18 93.67" fill="none" stroke="#8a7762" stroke-width="1.49" stroke-linecap="round"/>
<path d="M612.46 92.37Q610.11 88.9 610.74 87.62" fill="none" stroke="#8a7762" stroke-width="0.95" stroke-linecap="round"/>
<path d="M556.43 87.48Q558.47 87.17 562.34 87.74" fill="none" stroke="#30261e" stroke-width="0.65" stroke-linecap="round"/>
<path d="M570.64 89.6Q569.5 87.21 566.47 85.08" fill="none" stroke="#4a3c30" stroke-width="0.81" stroke-linecap="round"/>
<path d="M602.69 98.57Q605.16 97.71 608.51 99.13" fill="none" stroke="#7c6a56" stroke-width="0.85" stroke-linecap="round"/>
<path d="M556.37 88.57Q554.26 90.02 553.97 91.99" fill="none" stroke="#8a7762" stroke-width="1.18" stroke-linecap="round"/>
<path d="M604.23 95.24Q606.74 93.95 607.78 91.93" fill="none" stroke="#4a3c30" stroke-width="0.9" stroke-linecap="round"/>
<path d="M582.33 96.09Q584.84 97.38 586.29 95.94" fill="none" stroke="#7c6a56" stroke-width="1.19" stroke-linecap="round"/>
<path d="M591.15 77.2Q591.95 77.61 593.75 75.12" fill="none" stroke="#30261e" stroke-width="1.16" stroke-linecap="round"/>
<path d="M602.95 74.7Q601.96 74.37 600.91 74.73" fill="none" stroke="#6a5848" stroke-width="1.1" stroke-linecap="round"/>
<path d="M597.52 95.83Q598.69 93.1 601.44 90.96" fill="none" stroke="#4a3c30" stroke-width="0.85" stroke-linecap="round"/>
<path d="M585.65 84.13Q587.02 84.17 588.35 86.18" fill="none" stroke="#3e3229" stroke-width="1" stroke-linecap="round"/>
<path d="M572.29 81.23Q570.57 82.63 569.58 83.66" fill="none" stroke="#7c6a56" stroke-width="1.27" stroke-linecap="round"/>
<path d="M572.6 69.99Q573.08 72.97 574.25 74.22" fill="none" stroke="#7c6a56" stroke-width="0.9" stroke-linecap="round"/>
<path d="M581.95 101.63Q584.02 101.46 584.27 100.5" fill="none" stroke="#8a7762" stroke-width="1.08" stroke-linecap="round"/>
<path d="M552.07 81.41Q554.75 79.33 555 77.97" fill="none" stroke="#8a7762" stroke-width="1.47" stroke-linecap="round"/>
<path d="M587.53 73.47Q587.82 72.16 586.76 68.56" fill="none" stroke="#7c6a56" stroke-width="0.95" stroke-linecap="round"/>
<path d="M573.74 100.32Q575.01 100.28 576.96 101.9" fill="none" stroke="#7c6a56" stroke-width="1.49" stroke-linecap="round"/>
<path d="M579.64 79.44Q578.31 82.04 579.9 82.36" fill="none" stroke="#4a3c30" stroke-width="0.85" stroke-linecap="round"/>
<path d="M560.42 87.09Q560.25 86.01 557.37 87.52" fill="none" stroke="#7c6a56" stroke-width="0.91" stroke-linecap="round"/>
<path d="M569.9 99.26Q570.63 97.51 574.3 96.66" fill="none" stroke="#3e3229" stroke-width="0.84" stroke-linecap="round"/>
<path d="M562.81 78.38Q565.87 78.2 567.43 75.72" fill="none" stroke="#4a3c30" stroke-width="0.89" stroke-linecap="round"/>
<path d="M593.95 68.99Q593.52 66.96 595.13 62.93" fill="none" stroke="#30261e" stroke-width="1.35" stroke-linecap="round"/>
<path d="M576.25 95.04Q578.28 96.92 581.75 98.31" fill="none" stroke="#3e3229" stroke-width="1.22" stroke-linecap="round"/>
<path d="M580.87 96.62Q582.3 99.71 582.78 100.43" fill="none" stroke="#6a5848" stroke-width="1.15" stroke-linecap="round"/>
<path d="M583.18 85.59Q581.83 85.14 577.96 87.52" fill="none" stroke="#7c6a56" stroke-width="0.83" stroke-linecap="round"/>
<path d="M606.11 73.67Q602.77 72.17 602.12 72.18" fill="none" stroke="#7c6a56" stroke-width="0.93" stroke-linecap="round"/>
<path d="M557.31 79.37Q561.08 79.78 562.48 78.25" fill="none" stroke="#8a7762" stroke-width="1.14" stroke-linecap="round"/>
<path d="M577.18 78.07Q576.55 79.65 576.9 80.56" fill="none" stroke="#3e3229" stroke-width="1.23" stroke-linecap="round"/>
<path d="M589.05 73.99Q585.74 72.59 584.95 73.27" fill="none" stroke="#30261e" stroke-width="1.19" stroke-linecap="round"/>
<path d="M567.31 79.76Q566.86 80.43 567.76 81.99" fill="none" stroke="#3e3229" stroke-width="0.98" stroke-linecap="round"/>
<path d="M577.88 95.19Q578.8 95.74 578.5 98.73" fill="none" stroke="#4a3c30" stroke-width="1" stroke-linecap="round"/>
<path d="M583.98 77.79Q583.92 76.58 586.15 75.07" fill="none" stroke="#4a3c30" stroke-width="1.38" stroke-linecap="round"/>
<path d="M575.41 82.79Q577.38 85.22 577.36 86.8" fill="none" stroke="#30261e" stroke-width="0.86" stroke-linecap="round"/>
<path d="M602.49 88.85Q601.74 89.27 599.35 90.8" fill="none" stroke="#7c6a56" stroke-width="1.29" stroke-linecap="round"/>
<path d="M587.51 92.09Q583.88 93.31 581.13 92.51" fill="none" stroke="#4a3c30" stroke-width="1.48" stroke-linecap="round"/>
<path d="M555.81 83.91Q553.81 84.95 554.49 85.91" fill="none" stroke="#30261e" stroke-width="1.31" stroke-linecap="round"/>
<path d="M568.76 90.18Q567.42 89.28 563.59 86.87" fill="none" stroke="#7c6a56" stroke-width="1.39" stroke-linecap="round"/>
<path d="M583.2 73.12Q584.58 71.52 586.02 71.97" fill="none" stroke="#3e3229" stroke-width="1.39" stroke-linecap="round"/>
<path d="M598.78 77.62Q598.97 78.87 597.07 81.31" fill="none" stroke="#8a7762" stroke-width="1.44" stroke-linecap="round"/>
<path d="M609.67 82.29Q610.69 84.37 614.33 85.26" fill="none" stroke="#3e3229" stroke-width="1.39" stroke-linecap="round"/>
<path d="M603.16 72.04Q604.95 71.58 605.29 71.67" fill="none" stroke="#7c6a56" stroke-width="1.45" stroke-linecap="round"/>
<path d="M571.53 63.2Q571.76 60.47 570.65 60.31" fill="none" stroke="#3e3229" stroke-width="1.45" stroke-linecap="round"/>
<path d="M595.88 78.08Q596.58 80.37 595.41 80.72" fill="none" stroke="#7c6a56" stroke-width="1.34" stroke-linecap="round"/>
<path d="M611.03 88.77Q615.07 86.52 617 85.5" fill="none" stroke="#8a7762" stroke-width="0.92" stroke-linecap="round"/>
<path d="M560.62 81.59Q560.46 84.27 560.63 85.56" fill="none" stroke="#30261e" stroke-width="0.92" stroke-linecap="round"/>
<path d="M554.6 78.59Q556.83 78.31 560.23 80.98" fill="none" stroke="#3e3229" stroke-width="1.11" stroke-linecap="round"/>
<path d="M607.14 94.37Q608.82 92.01 609.34 88.63" fill="none" stroke="#8a7762" stroke-width="0.95" stroke-linecap="round"/>
<path d="M562.11 93.25Q562.22 90.36 564.09 88.63" fill="none" stroke="#3e3229" stroke-width="0.84" stroke-linecap="round"/>
<path d="M572.17 97.56Q569.32 99.64 568.5 102.96" fill="none" stroke="#4a3c30" stroke-width="0.9" stroke-linecap="round"/>
<path d="M581.37 80.22Q581.24 80.21 578.57 77.37" fill="none" stroke="#3e3229" stroke-width="0.82" stroke-linecap="round"/>
<path d="M584.46 85.36Q583.4 85.36 580.41 86.96" fill="none" stroke="#3e3229" stroke-width="1.05" stroke-linecap="round"/>
<path d="M555.42 82.37Q556.54 82.31 557.61 79.56" fill="none" stroke="#3e3229" stroke-width="1.22" stroke-linecap="round"/>
<path d="M594.19 64.3Q595.58 61.93 594.37 60.89" fill="none" stroke="#3e3229" stroke-width="0.87" stroke-linecap="round"/>
<path d="M593.08 77.63Q591.61 75.55 591.53 74.57" fill="none" stroke="#6a5848" stroke-width="0.76" stroke-linecap="round"/>
<path d="M557.54 66.02Q555.47 64.6 554.81 60.28" fill="none" stroke="#4a3c30" stroke-width="1.4" stroke-linecap="round"/>
<path d="M554.83 77.71Q554.27 73.75 555.82 71.72" fill="none" stroke="#3e3229" stroke-width="1.32" stroke-linecap="round"/>
<path d="M567.39 74.93Q566.75 75.61 567.1 77.78" fill="none" stroke="#6a5848" stroke-width="0.99" stroke-linecap="round"/>
<path d="M583.46 104.15Q583.53 102.28 581.34 103.2" fill="none" stroke="#30261e" stroke-width="0.68" stroke-linecap="round"/>
<path d="M579 77.61Q577.17 78.61 576.08 78.63" fill="none" stroke="#30261e" stroke-width="1.01" stroke-linecap="round"/>
<path d="M579.59 67.21Q578.87 65.95 575.42 64.96" fill="none" stroke="#3e3229" stroke-width="1.18" stroke-linecap="round"/>
<path d="M616.71 84.38Q614.47 86.53 611.83 85.68" fill="none" stroke="#8a7762" stroke-width="0.89" stroke-linecap="round"/>
<path d="M578.79 82.49Q578.24 87 577.99 88.57" fill="none" stroke="#30261e" stroke-width="1.23" stroke-linecap="round"/>
<path d="M602.41 78.82Q600.62 80.74 596.51 79.7" fill="none" stroke="#3e3229" stroke-width="1.05" stroke-linecap="round"/>
<path d="M596.81 85.51Q595.54 89.39 592.82 90.31" fill="none" stroke="#3e3229" stroke-width="0.8" stroke-linecap="round"/>
<path d="M583.85 68.16Q584.42 70.32 583.47 70.58" fill="none" stroke="#7c6a56" stroke-width="0.87" stroke-linecap="round"/>
<path d="M570.59 109.24Q572.34 104.82 577.91 103.07Q583.49 101.32 588.55 103.5Q593.6 105.68 595 110.43Q596.41 115.19 593.95 120.48Q591.5 125.78 587.03 127.2Q582.56 128.62 577.85 126.35Q573.14 124.08 570.99 118.86Q568.84 113.65 570.59 109.24Z" fill="#3f332a" />
<path d="M583.91 112.19Q580.8 112.74 580.51 115.59" fill="none" stroke="#6e5c4a" stroke-width="0.88" stroke-linecap="round"/>
<path d="M586.18 118.35Q587.6 116.63 587.16 113.87" fill="none" stroke="#6e5c4a" stroke-width="0.69" stroke-linecap="round"/>
<path d="M578.82 117.02Q580.72 115.96 581.58 116.9" fill="none" stroke="#6e5c4a" stroke-width="0.67" stroke-linecap="round"/>
<path d="M583.57 123.95Q585.12 123.74 584.77 121.83" fill="none" stroke="#5e4d3e" stroke-width="0.97" stroke-linecap="round"/>
<path d="M570.2 112.28Q570.96 110.48 569.42 108.68" fill="none" stroke="#2e251e" stroke-width="0.72" stroke-linecap="round"/>
<path d="M591.81 115.47Q592.71 112.36 591.77 112.03" fill="none" stroke="#5e4d3e" stroke-width="0.79" stroke-linecap="round"/>
<path d="M576.9 104.7Q575.71 103.37 573.77 101.28" fill="none" stroke="#5e4d3e" stroke-width="1.11" stroke-linecap="round"/>
<path d="M585.93 112.56Q586.12 112.85 589.27 112.51" fill="none" stroke="#6e5c4a" stroke-width="1.03" stroke-linecap="round"/>
<path d="M590.74 123.34Q591.29 126.2 591.91 126.29" fill="none" stroke="#6e5c4a" stroke-width="1.08" stroke-linecap="round"/>
<path d="M581.2 122.41Q579.69 121.82 579.8 118.97" fill="none" stroke="#5e4d3e" stroke-width="1.02" stroke-linecap="round"/>
<path d="M583.43 117.04Q583.96 119.36 583.4 119.33" fill="none" stroke="#2e251e" stroke-width="0.66" stroke-linecap="round"/>
<path d="M589.86 105.67Q589.92 104.28 587.75 102.99" fill="none" stroke="#5e4d3e" stroke-width="0.85" stroke-linecap="round"/>
<path d="M581.91 104.04Q583.34 105.32 584.26 103.64" fill="none" stroke="#5e4d3e" stroke-width="1.03" stroke-linecap="round"/>
<path d="M589.87 117.72Q587.35 119.22 587.02 117.83" fill="none" stroke="#2e251e" stroke-width="0.93" stroke-linecap="round"/>
<path d="M579.52 112.29Q577.94 111.97 578.75 109.22" fill="none" stroke="#6e5c4a" stroke-width="0.98" stroke-linecap="round"/>
<path d="M575.55 123.34Q575.37 120.46 573.54 119.5" fill="none" stroke="#5e4d3e" stroke-width="0.72" stroke-linecap="round"/>
<path d="M571.28 110.99Q573.39 110.67 574.04 109.05" fill="none" stroke="#6e5c4a" stroke-width="1.11" stroke-linecap="round"/>
<path d="M575.26 124.72Q575.57 123.39 575.84 122.23" fill="none" stroke="#6e5c4a" stroke-width="0.91" stroke-linecap="round"/>
<path d="M578.46 125.43Q577.89 124.98 576.14 127.02" fill="none" stroke="#6e5c4a" stroke-width="1.17" stroke-linecap="round"/>
<path d="M582.22 115.16Q583.73 114.44 584.13 114.52" fill="none" stroke="#6e5c4a" stroke-width="1.04" stroke-linecap="round"/>
<path d="M578.62 104.41Q579.87 103.68 582.17 105.18" fill="none" stroke="#2e251e" stroke-width="0.67" stroke-linecap="round"/>
<path d="M583.71 111.24Q581.72 111.93 581.52 112.03" fill="none" stroke="#2e251e" stroke-width="0.95" stroke-linecap="round"/>
<path d="M582.79 111.99Q584.7 112.79 586.22 111.57" fill="none" stroke="#6e5c4a" stroke-width="0.85" stroke-linecap="round"/>
<path d="M582.7 125.9Q583.89 128.33 584.19 130.56" fill="none" stroke="#5e4d3e" stroke-width="0.68" stroke-linecap="round"/>
<path d="M587.88 126.02Q586.09 127.59 584.75 126.77" fill="none" stroke="#6e5c4a" stroke-width="1.16" stroke-linecap="round"/>
<path d="M624.78 106.72Q624.12 100.16 629.27 98.78Q634.42 97.41 637.96 100.46Q641.5 103.51 640.66 108.56Q639.81 113.61 635.73 115.59Q631.64 117.57 628.55 115.42Q625.45 113.27 624.78 106.72Z" fill="#3c3128" />
<path d="M598.16 77.15Q598.91 70.43 603.4 67.54Q607.89 64.66 614.7 63.72Q621.51 62.79 628.74 63.74Q635.98 64.69 640.63 68.29Q645.29 71.89 646.35 77.77Q647.42 83.65 645.22 89.94Q643.03 96.22 638.98 99.29Q634.93 102.36 628.33 103.04Q621.74 103.72 614.71 102.93Q607.67 102.15 603.97 98.84Q600.27 95.54 598.84 89.71Q597.41 83.88 598.16 77.15Z" fill="#5a4a3c" />
<path d="M597.68 76.09Q598.55 71.77 604.05 69.3Q609.56 66.84 616.35 66Q623.14 65.15 629.38 66.15Q635.61 67.16 639.33 71.61Q643.06 76.06 644.24 81.21Q645.43 86.36 643 91.2Q640.58 96.04 635.82 98.72Q631.06 101.4 624.31 101.87Q617.56 102.34 611.63 101.39Q605.69 100.44 602.52 95.67Q599.36 90.9 598.08 85.66Q596.8 80.42 597.68 76.09Z" fill="#eeeadc" />
<path d="M600.51 86.32Q600.12 80.41 603.06 78.12Q606 75.83 607.96 79.67Q609.93 83.51 608.36 88.55Q606.79 93.6 603.84 92.91Q600.9 92.23 600.51 86.32Z" fill="#cdbb95" opacity="0.7"/>
<path d="M613.58 94.75Q612.11 90.05 617.01 90.75Q621.91 91.44 623.48 94.84Q625.05 98.25 620.06 98.85Q615.06 99.44 613.58 94.75Z" fill="#ddd4bc" opacity="0.6"/>
<circle cx="628.4" cy="79" r="0.9" fill="#6a5a4a" /></g></g>
<rect x="63.6" y="20.7" width="157.8" height="130" fill="none" stroke="#111" stroke-width="1.3"/>
<rect x="286" y="20.7" width="165" height="129.3" fill="none" stroke="#111" stroke-width="1.3"/>
<rect x="511.9" y="20.7" width="166.3" height="128.6" fill="none" stroke="#111" stroke-width="1.4"/>
<text x="2.6" y="177" font-size="16.5" font-weight="bold">B</text>
<rect x="30.4" y="186.3" width="135.8" height="70.9" fill="#947f3f" stroke="#222" stroke-width="0.9"/>
<line x1="30.4" y1="185.9" x2="98" y2="221.7" stroke="#2a2418" stroke-width="0.75" stroke-dasharray="1.1 0.5"/>
<line x1="166.2" y1="185.9" x2="98" y2="221.7" stroke="#2a2418" stroke-width="0.75" stroke-dasharray="1.1 0.5"/>
<line x1="30.4" y1="257.1" x2="98" y2="221.7" stroke="#2a2418" stroke-width="0.75" stroke-dasharray="1.1 0.5"/>
<line x1="166.2" y1="257.1" x2="98" y2="221.7" stroke="#2a2418" stroke-width="0.75" stroke-dasharray="1.1 0.5"/>
<rect x="52.6" y="195.1" width="17.8" height="17.4" fill="#000"/>
<rect x="52.6" y="231.7" width="17.8" height="17.4" fill="#000"/>
<rect x="88.8" y="213.1" width="17.8" height="17.4" fill="#000"/>
<rect x="124.2" y="195.1" width="17.8" height="17.4" fill="#000"/>
<rect x="124.2" y="231.7" width="17.8" height="17.4" fill="#000"/>
<text x="98.8" y="275.7" font-size="11.3" font-weight="bold" text-anchor="middle" fill="#111">Mixing five samples into</text>
<text x="98.8" y="288.8" font-size="11.3" font-weight="bold" text-anchor="middle" fill="#111">one composite sample</text>
<text x="173.4" y="176.7" font-size="16.5" font-weight="bold">C</text>
<defs><clipPath id="vc"><rect x="216" y="186.5" width="143" height="93.5"/></clipPath></defs>
<g clip-path="url(#vc)">
<polygon points="257.5,265.3 286.9,265.3 287.55,270.3 288.3,265.3 318.5,265.3 316,268.5 312,271.5 306,274 300.5,275.6 294,276.5 287.5,276.8 281,276.5 274.5,275.6 268,273.5 263,271 259.5,268.2" fill="#bdbdbd" />
<polygon points="274.8,197 284.3,196.5 287.3,270.5 274.8,270.5" fill="#bdbdbd" />
<polygon points="291.2,196.5 300.8,197 300.8,270.5 288,270.5" fill="#bdbdbd" />
<rect x="274.8" y="191.7" width="10.4" height="2.8" fill="#bdbdbd"/>
<rect x="290.6" y="191.7" width="10.2" height="2.8" fill="#bdbdbd"/>
<circle cx="298.59" cy="229.01" r="0.77" fill="#fff" opacity="0.85"/>
<circle cx="298.1" cy="216.82" r="0.87" fill="#fff" opacity="0.85"/>
<circle cx="297.57" cy="212.34" r="0.52" fill="#fff" opacity="0.85"/>
<circle cx="282.35" cy="198.04" r="0.86" fill="#fff" opacity="0.85"/>
<circle cx="294.26" cy="214.3" r="0.47" fill="#fff" opacity="0.85"/>
<circle cx="278.6" cy="233.45" r="0.5" fill="#fff" opacity="0.85"/>
<circle cx="280.78" cy="197.41" r="0.89" fill="#fff" opacity="0.85"/>
<circle cx="296.87" cy="208.23" r="0.67" fill="#fff" opacity="0.85"/>
<circle cx="292.11" cy="241.54" r="0.5" fill="#fff" opacity="0.85"/>
<circle cx="298.55" cy="214.1" r="0.85" fill="#fff" opacity="0.85"/>
<circle cx="282.82" cy="240.7" r="0.58" fill="#fff" opacity="0.85"/>
<circle cx="279.57" cy="201.03" r="0.55" fill="#fff" opacity="0.85"/>
<circle cx="275.58" cy="204.15" r="0.55" fill="#fff" opacity="0.85"/>
<circle cx="295.55" cy="211.7" r="0.64" fill="#fff" opacity="0.85"/>
<circle cx="283.24" cy="224.92" r="0.43" fill="#fff" opacity="0.85"/>
<circle cx="299.39" cy="200.31" r="0.41" fill="#fff" opacity="0.85"/>
<circle cx="293.87" cy="198.93" r="0.79" fill="#fff" opacity="0.85"/>
<circle cx="279.93" cy="197.32" r="0.88" fill="#fff" opacity="0.85"/>
<circle cx="280.31" cy="198.49" r="0.87" fill="#fff" opacity="0.85"/>
<circle cx="283.94" cy="238.45" r="0.58" fill="#fff" opacity="0.85"/>
<circle cx="293.84" cy="205.5" r="0.8" fill="#fff" opacity="0.85"/>
<circle cx="296.56" cy="239.32" r="0.45" fill="#fff" opacity="0.85"/>
<circle cx="283.85" cy="206.92" r="0.71" fill="#fff" opacity="0.85"/>
<circle cx="297.99" cy="218.9" r="0.67" fill="#fff" opacity="0.85"/>
<circle cx="283.16" cy="231.53" r="0.56" fill="#fff" opacity="0.85"/>
<circle cx="279.85" cy="206.01" r="0.74" fill="#fff" opacity="0.85"/>
<circle cx="299.92" cy="201.82" r="0.48" fill="#fff" opacity="0.85"/>
<circle cx="276.69" cy="219.15" r="0.6" fill="#fff" opacity="0.85"/>
<circle cx="281.31" cy="198.86" r="0.7" fill="#fff" opacity="0.85"/>
<circle cx="295.74" cy="215.11" r="0.43" fill="#fff" opacity="0.85"/>
<circle cx="297.94" cy="202.18" r="0.42" fill="#fff" opacity="0.85"/>
<circle cx="293.43" cy="205.09" r="0.87" fill="#fff" opacity="0.85"/>
<circle cx="279.16" cy="205.44" r="0.63" fill="#fff" opacity="0.85"/>
<circle cx="299.98" cy="209.46" r="0.83" fill="#fff" opacity="0.85"/>
<circle cx="299.41" cy="216.95" r="0.76" fill="#fff" opacity="0.85"/>
<circle cx="282.63" cy="205.34" r="0.59" fill="#fff" opacity="0.85"/>
<circle cx="299.72" cy="202.76" r="0.88" fill="#fff" opacity="0.85"/>
<circle cx="277.68" cy="197.07" r="0.54" fill="#fff" opacity="0.85"/>
<circle cx="294.66" cy="208.46" r="0.79" fill="#fff" opacity="0.85"/>
<circle cx="294.49" cy="209.62" r="0.75" fill="#fff" opacity="0.85"/>
<circle cx="291.77" cy="198.04" r="0.75" fill="#fff" opacity="0.85"/>
<circle cx="282.38" cy="214.08" r="0.64" fill="#fff" opacity="0.85"/>
<circle cx="294.36" cy="202.45" r="0.87" fill="#fff" opacity="0.85"/>
<circle cx="281.64" cy="198.65" r="0.74" fill="#fff" opacity="0.85"/>
<circle cx="295.04" cy="220.74" r="0.57" fill="#fff" opacity="0.85"/>
<circle cx="296.15" cy="215.8" r="0.89" fill="#fff" opacity="0.85"/>
<circle cx="298.93" cy="217.05" r="0.66" fill="#fff" opacity="0.85"/>
<circle cx="298.47" cy="226.62" r="0.64" fill="#fff" opacity="0.85"/>
<circle cx="292.44" cy="202.52" r="0.49" fill="#fff" opacity="0.85"/>
<circle cx="294.62" cy="225.62" r="0.69" fill="#fff" opacity="0.85"/>
<circle cx="291.81" cy="219.11" r="0.79" fill="#fff" opacity="0.85"/>
<circle cx="293.15" cy="207.47" r="0.62" fill="#fff" opacity="0.85"/>
<circle cx="280.87" cy="206.95" r="0.42" fill="#fff" opacity="0.85"/>
<circle cx="281.04" cy="206.08" r="0.56" fill="#fff" opacity="0.85"/>
<circle cx="279.95" cy="200.22" r="0.5" fill="#fff" opacity="0.85"/>
<circle cx="276.37" cy="214.19" r="0.71" fill="#fff" opacity="0.85"/>
<circle cx="281.33" cy="197.54" r="0.6" fill="#fff" opacity="0.85"/>
<circle cx="282.32" cy="197.37" r="0.61" fill="#fff" opacity="0.85"/>
<circle cx="278.32" cy="205.52" r="0.42" fill="#fff" opacity="0.85"/>
<circle cx="277.82" cy="212.73" r="0.69" fill="#fff" opacity="0.85"/>
<circle cx="298.98" cy="201.59" r="0.81" fill="#fff" opacity="0.85"/>
<circle cx="278.98" cy="216.1" r="0.88" fill="#fff" opacity="0.85"/>
<circle cx="299.22" cy="210.15" r="0.7" fill="#fff" opacity="0.85"/>
<circle cx="278.14" cy="197.49" r="0.68" fill="#fff" opacity="0.85"/>
<circle cx="297.34" cy="216.61" r="0.59" fill="#fff" opacity="0.85"/>
<circle cx="299.33" cy="211.78" r="0.59" fill="#fff" opacity="0.85"/>
<circle cx="299.05" cy="217.76" r="0.53" fill="#fff" opacity="0.85"/>
<circle cx="299.53" cy="209.5" r="0.65" fill="#fff" opacity="0.85"/>
<circle cx="282.52" cy="206.08" r="0.71" fill="#fff" opacity="0.85"/>
<circle cx="282.68" cy="203.67" r="0.41" fill="#fff" opacity="0.85"/>
<circle cx="282.21" cy="225.85" r="0.52" fill="#fff" opacity="0.85"/>
<circle cx="282.06" cy="209.43" r="0.48" fill="#fff" opacity="0.85"/>
<circle cx="299.73" cy="203.6" r="0.64" fill="#fff" opacity="0.85"/>
<circle cx="294.13" cy="206.02" r="0.55" fill="#fff" opacity="0.85"/>
<circle cx="276.39" cy="197.3" r="0.86" fill="#fff" opacity="0.85"/>
<circle cx="297.25" cy="216.85" r="0.67" fill="#fff" opacity="0.85"/>
<circle cx="275.86" cy="200.37" r="0.69" fill="#fff" opacity="0.85"/>
<circle cx="292.85" cy="215.72" r="0.72" fill="#fff" opacity="0.85"/>
<circle cx="296.37" cy="201.98" r="0.82" fill="#fff" opacity="0.85"/>
<circle cx="277.12" cy="211.25" r="0.82" fill="#fff" opacity="0.85"/>
<circle cx="292.52" cy="210.49" r="0.79" fill="#fff" opacity="0.85"/>
<circle cx="297.81" cy="203.06" r="0.47" fill="#fff" opacity="0.85"/>
<circle cx="283.6" cy="203.41" r="0.48" fill="#fff" opacity="0.85"/>
<circle cx="281.14" cy="203.27" r="0.81" fill="#fff" opacity="0.85"/>
<circle cx="294.9" cy="199.12" r="0.76" fill="#fff" opacity="0.85"/>
<circle cx="299.48" cy="200.51" r="0.9" fill="#fff" opacity="0.85"/>
<circle cx="292.68" cy="229.96" r="0.51" fill="#fff" opacity="0.85"/>
<circle cx="298.83" cy="199.26" r="0.55" fill="#fff" opacity="0.85"/>
<circle cx="297.99" cy="206.41" r="0.47" fill="#fff" opacity="0.85"/>
<circle cx="276.57" cy="210.67" r="0.44" fill="#fff" opacity="0.85"/>
<circle cx="276.91" cy="208.05" r="0.69" fill="#fff" opacity="0.85"/>
<circle cx="293.69" cy="203.98" r="0.62" fill="#fff" opacity="0.85"/>
<circle cx="283.21" cy="203.69" r="0.7" fill="#fff" opacity="0.85"/>
<circle cx="276.87" cy="203.56" r="0.75" fill="#fff" opacity="0.85"/>
<circle cx="279.2" cy="211.5" r="0.86" fill="#fff" opacity="0.85"/>
<circle cx="281.73" cy="219.72" r="0.78" fill="#fff" opacity="0.85"/>
<circle cx="293.55" cy="209.22" r="0.73" fill="#fff" opacity="0.85"/>
<circle cx="277.59" cy="222.69" r="0.73" fill="#fff" opacity="0.85"/>
<circle cx="257.6" cy="272.7" r="1" fill="#bdbdbd" />
<circle cx="310.4" cy="272.4" r="1" fill="#bdbdbd" />
<circle cx="317.5" cy="272.3" r="1" fill="#bdbdbd" />
<circle cx="319" cy="271.8" r="1" fill="#bdbdbd" />
<circle cx="328.5" cy="271.5" r="1" fill="#bdbdbd" />
<circle cx="315.5" cy="268.5" r="1" fill="#bdbdbd" />
<circle cx="260" cy="269.5" r="1" fill="#bdbdbd" />
<circle cx="262.44" cy="193.1" r="1.2" fill="#17e017" />
<circle cx="268.94" cy="192.79" r="1.2" fill="#17e017" />
<circle cx="272.59" cy="192.12" r="1.2" fill="#17e017" />
<circle cx="265.44" cy="191.26" r="1.2" fill="#17e017" />
<circle cx="261.64" cy="191.45" r="1.2" fill="#17e017" />
<circle cx="261.95" cy="193.03" r="1.2" fill="#17e017" />
<circle cx="273.56" cy="191.57" r="1.2" fill="#17e017" />
<circle cx="264.14" cy="193.12" r="1.2" fill="#17e017" />
<circle cx="273.83" cy="191.62" r="1.2" fill="#17e017" />
<circle cx="271.86" cy="193.06" r="1.2" fill="#17e017" />
<circle cx="269.33" cy="192.47" r="1.2" fill="#17e017" />
<circle cx="264.3" cy="192.53" r="1.2" fill="#17e017" />
<circle cx="269.19" cy="192.48" r="1.2" fill="#17e017" />
<circle cx="266.25" cy="193.07" r="1.2" fill="#17e017" />
<circle cx="272" cy="191.66" r="1.2" fill="#17e017" />
<circle cx="271.66" cy="192.25" r="1.2" fill="#17e017" />
<circle cx="272.27" cy="192.02" r="1.2" fill="#17e017" />
<circle cx="268.92" cy="191.87" r="1.2" fill="#17e017" />
<circle cx="270.83" cy="192.36" r="1.2" fill="#17e017" />
<circle cx="262.51" cy="193.35" r="1.2" fill="#17e017" />
<circle cx="263.88" cy="193.33" r="1.2" fill="#17e017" />
<circle cx="272.75" cy="192.12" r="1.2" fill="#17e017" />
<circle cx="271.09" cy="193.44" r="1.2" fill="#17e017" />
<circle cx="267.34" cy="191" r="1.2" fill="#17e017" />
<circle cx="269.27" cy="192.26" r="1.2" fill="#17e017" />
<circle cx="267.28" cy="193.17" r="1.2" fill="#17e017" />
<circle cx="263.26" cy="193" r="1.2" fill="#17e017" />
<circle cx="266.1" cy="192.38" r="1.2" fill="#17e017" />
<circle cx="272.64" cy="193.02" r="1.2" fill="#17e017" />
<circle cx="264.54" cy="192.68" r="1.2" fill="#17e017" />
<circle cx="257.32" cy="192.07" r="1.2" fill="#17e017" />
<circle cx="256.34" cy="192.47" r="1.2" fill="#17e017" />
<circle cx="254.57" cy="263.06" r="1.2" fill="#17e017" />
<circle cx="251.33" cy="255.77" r="1.2" fill="#17e017" />
<circle cx="253.76" cy="258.33" r="1.2" fill="#17e017" />
<circle cx="250.33" cy="252.04" r="1.2" fill="#17e017" />
<circle cx="255.56" cy="263.81" r="1.2" fill="#17e017" />
<circle cx="250.73" cy="253.29" r="1.2" fill="#17e017" />
<circle cx="253.81" cy="262.31" r="1.2" fill="#17e017" />
<circle cx="255.49" cy="263.48" r="1.2" fill="#17e017" />
<circle cx="252.82" cy="258.78" r="1.2" fill="#17e017" />
<circle cx="254.2" cy="259.94" r="1.2" fill="#17e017" />
<circle cx="254.48" cy="262.32" r="1.2" fill="#17e017" />
<circle cx="248.24" cy="247.72" r="1.2" fill="#17e017" />
<circle cx="246.92" cy="247.65" r="1.2" fill="#17e017" />
<circle cx="249.3" cy="251.46" r="1.2" fill="#17e017" />
<circle cx="252.25" cy="255.14" r="1.2" fill="#17e017" />
<circle cx="252.6" cy="259.69" r="1.2" fill="#17e017" />
<circle cx="248.37" cy="247.71" r="1.2" fill="#17e017" />
<circle cx="255.46" cy="265.44" r="1.2" fill="#17e017" />
<circle cx="252.13" cy="258.48" r="1.2" fill="#17e017" />
<circle cx="252.43" cy="258.61" r="1.2" fill="#17e017" />
<circle cx="256.75" cy="265.54" r="1.2" fill="#17e017" />
<circle cx="251.68" cy="255.89" r="1.2" fill="#17e017" />
<circle cx="255.3" cy="264.75" r="1.2" fill="#17e017" />
<circle cx="252.2" cy="255.14" r="1.2" fill="#17e017" />
<circle cx="273.74" cy="250.86" r="1.2" fill="#17e017" />
<circle cx="271.15" cy="228.02" r="1.2" fill="#17e017" />
<circle cx="272.6" cy="225.79" r="1.2" fill="#17e017" />
<circle cx="272.26" cy="222.02" r="1.2" fill="#17e017" />
<circle cx="273.34" cy="201.81" r="1.2" fill="#17e017" />
<circle cx="272.05" cy="234.38" r="1.2" fill="#17e017" />
<circle cx="273.65" cy="250.18" r="1.2" fill="#17e017" />
<circle cx="271.46" cy="244.02" r="1.2" fill="#17e017" />
<circle cx="271.37" cy="211.68" r="1.2" fill="#17e017" />
<circle cx="273.63" cy="243.94" r="1.2" fill="#17e017" />
<circle cx="271.5" cy="260.15" r="1.2" fill="#17e017" />
<circle cx="271.85" cy="259.99" r="1.2" fill="#17e017" />
<circle cx="272.42" cy="225.4" r="1.2" fill="#17e017" />
<circle cx="271.86" cy="261.6" r="1.2" fill="#17e017" />
<circle cx="273.26" cy="262.54" r="1.2" fill="#17e017" />
<circle cx="271.72" cy="245.83" r="1.2" fill="#17e017" />
<circle cx="272.25" cy="258.99" r="1.2" fill="#17e017" />
<circle cx="272.4" cy="243.87" r="1.2" fill="#17e017" />
<circle cx="273.42" cy="226.87" r="1.2" fill="#17e017" />
<circle cx="273.86" cy="219.99" r="1.2" fill="#17e017" />
<circle cx="273.44" cy="225.56" r="1.2" fill="#17e017" />
<circle cx="272.46" cy="208.56" r="1.2" fill="#17e017" />
<circle cx="273.12" cy="198.88" r="1.2" fill="#17e017" />
<circle cx="273.34" cy="216.68" r="1.2" fill="#17e017" />
<circle cx="271.93" cy="208.89" r="1.2" fill="#17e017" />
<circle cx="272.28" cy="256.76" r="1.2" fill="#17e017" />
<circle cx="271.3" cy="254.02" r="1.2" fill="#17e017" />
<circle cx="271.91" cy="218.45" r="1.2" fill="#17e017" />
<circle cx="271.98" cy="261.45" r="1.2" fill="#17e017" />
<circle cx="273.45" cy="226.79" r="1.2" fill="#17e017" />
<circle cx="271.18" cy="262.35" r="1.2" fill="#17e017" />
<circle cx="271.5" cy="240.83" r="1.2" fill="#17e017" />
<circle cx="273.75" cy="199.27" r="1.2" fill="#17e017" />
<circle cx="272.99" cy="249.68" r="1.2" fill="#17e017" />
<circle cx="272.42" cy="240.46" r="1.2" fill="#17e017" />
<circle cx="272.12" cy="265.04" r="1.2" fill="#17e017" />
<circle cx="272.9" cy="207.85" r="1.2" fill="#17e017" />
<circle cx="273.34" cy="259.22" r="1.2" fill="#17e017" />
<circle cx="273.15" cy="257.98" r="1.2" fill="#17e017" />
<circle cx="270.5" cy="252.94" r="1.2" fill="#17e017" />
<circle cx="263.99" cy="236.65" r="1.2" fill="#17e017" />
<circle cx="271.88" cy="264.59" r="1.2" fill="#17e017" />
<circle cx="270.33" cy="240.05" r="1.2" fill="#17e017" />
<circle cx="270.56" cy="259.94" r="1.2" fill="#17e017" />
<circle cx="256.32" cy="250.6" r="1.2" fill="#17e017" />
<circle cx="273.66" cy="256.4" r="1.2" fill="#17e017" />
<circle cx="270.81" cy="248.25" r="1.2" fill="#17e017" />
<circle cx="268.74" cy="265.56" r="1.2" fill="#17e017" />
<circle cx="260.37" cy="259.01" r="1.2" fill="#17e017" />
<circle cx="272.79" cy="260.68" r="1.2" fill="#17e017" />
<circle cx="272.91" cy="262.51" r="1.2" fill="#17e017" />
<circle cx="271.48" cy="257.24" r="1.2" fill="#17e017" />
<circle cx="272.57" cy="251.32" r="1.2" fill="#17e017" />
<circle cx="272.51" cy="261.36" r="1.2" fill="#17e017" />
<circle cx="262.35" cy="223.51" r="1.2" fill="#17e017" />
<circle cx="268.06" cy="246.02" r="1.2" fill="#17e017" />
<circle cx="273.37" cy="260.53" r="1.2" fill="#17e017" />
<circle cx="269.96" cy="247.22" r="1.2" fill="#17e017" />
<circle cx="273.16" cy="265.51" r="1.2" fill="#17e017" />
<circle cx="266.08" cy="264.82" r="1.2" fill="#17e017" />
<circle cx="272.92" cy="241.73" r="1.2" fill="#17e017" />
<circle cx="271.81" cy="249.18" r="1.2" fill="#17e017" />
<circle cx="261.33" cy="253.86" r="1.2" fill="#17e017" />
<circle cx="263.81" cy="255.67" r="1.2" fill="#17e017" />
<circle cx="274.31" cy="260.95" r="1.2" fill="#17e017" />
<circle cx="268.58" cy="258.39" r="1.2" fill="#17e017" />
<circle cx="271.15" cy="263.77" r="1.2" fill="#17e017" />
<circle cx="274.2" cy="261.91" r="1.2" fill="#17e017" />
<circle cx="271.21" cy="261.98" r="1.2" fill="#17e017" />
<circle cx="266.41" cy="259.13" r="1.2" fill="#17e017" />
<circle cx="257.48" cy="248.18" r="1.2" fill="#17e017" />
<circle cx="267.1" cy="253.53" r="1.2" fill="#17e017" />
<circle cx="263.87" cy="257.84" r="1.2" fill="#17e017" />
<circle cx="268.47" cy="261.18" r="1.2" fill="#17e017" />
<circle cx="269.53" cy="253.97" r="1.2" fill="#17e017" />
<circle cx="273.85" cy="262.4" r="1.2" fill="#17e017" />
<circle cx="271.49" cy="264.95" r="1.2" fill="#17e017" />
<circle cx="265.03" cy="256.8" r="1.2" fill="#17e017" />
<circle cx="271.98" cy="252.76" r="1.2" fill="#17e017" />
<circle cx="272.27" cy="238.13" r="1.2" fill="#17e017" />
<circle cx="273.89" cy="252.7" r="1.2" fill="#17e017" />
<circle cx="267.11" cy="251.22" r="1.2" fill="#17e017" />
<circle cx="259.46" cy="232.92" r="1.2" fill="#17e017" />
<circle cx="262.43" cy="253.7" r="1.2" fill="#17e017" />
<circle cx="268.19" cy="251.83" r="1.2" fill="#17e017" />
<circle cx="269.61" cy="263.45" r="1.2" fill="#17e017" />
<circle cx="272.59" cy="242.15" r="1.2" fill="#17e017" />
<circle cx="269.23" cy="227.35" r="1.2" fill="#17e017" />
<circle cx="274.36" cy="260.66" r="1.2" fill="#17e017" />
<circle cx="273.09" cy="260.72" r="1.2" fill="#17e017" />
<circle cx="259.31" cy="254.8" r="1.2" fill="#17e017" />
<circle cx="268.14" cy="240.63" r="1.2" fill="#17e017" />
<circle cx="273.62" cy="260.78" r="1.2" fill="#17e017" />
<circle cx="269.09" cy="253.66" r="1.2" fill="#17e017" />
<circle cx="271.31" cy="252.73" r="1.2" fill="#17e017" />
<circle cx="272.81" cy="243.06" r="1.2" fill="#17e017" />
<circle cx="272.34" cy="262.08" r="1.2" fill="#17e017" />
<circle cx="259.45" cy="255.7" r="1.2" fill="#17e017" />
<circle cx="267.81" cy="263.99" r="1.2" fill="#17e017" />
<circle cx="272.71" cy="250.65" r="1.2" fill="#17e017" />
<circle cx="268.91" cy="265.23" r="1.2" fill="#17e017" />
<circle cx="260.55" cy="247.3" r="1.2" fill="#17e017" />
<circle cx="270.84" cy="252.25" r="1.2" fill="#17e017" />
<circle cx="269.44" cy="260.1" r="1.2" fill="#17e017" />
<circle cx="272.02" cy="241.24" r="1.2" fill="#17e017" />
<circle cx="268.28" cy="262.45" r="1.2" fill="#17e017" />
<circle cx="273.02" cy="230.26" r="1.2" fill="#17e017" />
<circle cx="273.57" cy="265.58" r="1.2" fill="#17e017" />
<circle cx="268.31" cy="257.23" r="1.2" fill="#17e017" />
<circle cx="273" cy="263.78" r="1.2" fill="#17e017" />
<circle cx="267.56" cy="256.44" r="1.2" fill="#17e017" />
<circle cx="265.82" cy="253.61" r="1.2" fill="#17e017" />
<circle cx="270.03" cy="265.24" r="1.2" fill="#17e017" />
<circle cx="253.71" cy="247.03" r="1.2" fill="#17e017" />
<circle cx="261.92" cy="261.89" r="1.2" fill="#17e017" />
<circle cx="257.24" cy="255.04" r="1.2" fill="#17e017" />
<circle cx="266.55" cy="263.18" r="1.2" fill="#17e017" />
<circle cx="270.13" cy="246.64" r="1.2" fill="#17e017" />
<circle cx="272.97" cy="264.79" r="1.2" fill="#17e017" />
<circle cx="273.74" cy="264.12" r="1.2" fill="#17e017" />
<circle cx="268.11" cy="264.18" r="1.2" fill="#17e017" />
<circle cx="265.07" cy="264.75" r="1.2" fill="#17e017" />
<circle cx="263.26" cy="251.93" r="1.2" fill="#17e017" />
<circle cx="266.19" cy="248.83" r="1.2" fill="#17e017" />
<circle cx="253.75" cy="238.86" r="1.2" fill="#17e017" />
<circle cx="252.37" cy="255.62" r="1.2" fill="#17e017" />
<circle cx="273.67" cy="264.76" r="1.2" fill="#17e017" />
<circle cx="272.86" cy="265.21" r="1.2" fill="#17e017" />
<circle cx="270.35" cy="260.99" r="1.2" fill="#17e017" />
<circle cx="265.47" cy="253.94" r="1.2" fill="#17e017" />
<circle cx="270.99" cy="264.99" r="1.2" fill="#17e017" />
<circle cx="271.29" cy="257.68" r="1.2" fill="#17e017" />
<circle cx="268.42" cy="264.6" r="1.2" fill="#17e017" />
<circle cx="266.83" cy="260.99" r="1.2" fill="#17e017" />
<circle cx="273.89" cy="235.48" r="1.2" fill="#17e017" />
<circle cx="266" cy="250.95" r="1.2" fill="#17e017" />
<circle cx="273.56" cy="262.23" r="1.2" fill="#17e017" />
<circle cx="271.51" cy="259.07" r="1.2" fill="#17e017" />
<circle cx="257.94" cy="251.88" r="1.2" fill="#17e017" />
<circle cx="272.13" cy="260.86" r="1.2" fill="#17e017" />
<circle cx="266.55" cy="258.66" r="1.2" fill="#17e017" />
<circle cx="268.76" cy="249.59" r="1.2" fill="#17e017" />
<circle cx="271.68" cy="262.23" r="1.2" fill="#17e017" />
<circle cx="269.58" cy="246.14" r="1.2" fill="#17e017" />
<circle cx="270.8" cy="265.37" r="1.2" fill="#17e017" />
<circle cx="267.18" cy="263.06" r="1.2" fill="#17e017" />
<circle cx="272.31" cy="265.11" r="1.2" fill="#17e017" />
<circle cx="270.12" cy="264.85" r="1.2" fill="#17e017" />
<circle cx="241.25" cy="230.4" r="1.2" fill="#17e017" />
<circle cx="252.4" cy="224.75" r="1.2" fill="#17e017" />
<circle cx="253.06" cy="226.77" r="1.2" fill="#17e017" />
<circle cx="258.31" cy="202.96" r="1.2" fill="#17e017" />
<circle cx="258.31" cy="206.19" r="1.2" fill="#17e017" />
<circle cx="261.26" cy="219.1" r="1.2" fill="#17e017" />
<circle cx="263.88" cy="215.07" r="1.2" fill="#17e017" />
<circle cx="265.85" cy="208.61" r="1.2" fill="#17e017" />
<circle cx="313.54" cy="191.96" r="1.2" fill="#f01010" />
<circle cx="305.81" cy="190.88" r="1.2" fill="#f01010" />
<circle cx="302" cy="192.46" r="1.2" fill="#f01010" />
<circle cx="311.29" cy="193.43" r="1.2" fill="#f01010" />
<circle cx="310.71" cy="192.45" r="1.2" fill="#f01010" />
<circle cx="301.03" cy="192.75" r="1.2" fill="#f01010" />
<circle cx="306.74" cy="192.39" r="1.2" fill="#f01010" />
<circle cx="307.5" cy="193.29" r="1.2" fill="#f01010" />
<circle cx="303.64" cy="190.77" r="1.2" fill="#f01010" />
<circle cx="306.54" cy="192.15" r="1.2" fill="#f01010" />
<circle cx="301.92" cy="192.67" r="1.2" fill="#f01010" />
<circle cx="313.16" cy="191.56" r="1.2" fill="#f01010" />
<circle cx="307.38" cy="193.29" r="1.2" fill="#f01010" />
<circle cx="305.89" cy="191.3" r="1.2" fill="#f01010" />
<circle cx="306.43" cy="191.81" r="1.2" fill="#f01010" />
<circle cx="312.48" cy="191.67" r="1.2" fill="#f01010" />
<circle cx="309.03" cy="193.34" r="1.2" fill="#f01010" />
<circle cx="301.12" cy="191.33" r="1.2" fill="#f01010" />
<circle cx="306.16" cy="191.04" r="1.2" fill="#f01010" />
<circle cx="311.49" cy="190.93" r="1.2" fill="#f01010" />
<circle cx="305.71" cy="190.7" r="1.2" fill="#f01010" />
<circle cx="310.59" cy="190.99" r="1.2" fill="#f01010" />
<circle cx="302.73" cy="191.3" r="1.2" fill="#f01010" />
<circle cx="306.27" cy="190.77" r="1.2" fill="#f01010" />
<circle cx="313.66" cy="192.85" r="1.2" fill="#f01010" />
<circle cx="306.26" cy="192.7" r="1.2" fill="#f01010" />
<circle cx="306.89" cy="192.65" r="1.2" fill="#f01010" />
<circle cx="309.43" cy="193.1" r="1.2" fill="#f01010" />
<circle cx="303" cy="192.18" r="1.2" fill="#f01010" />
<circle cx="301.77" cy="192.39" r="1.2" fill="#f01010" />
<circle cx="312.41" cy="191.01" r="1.2" fill="#f01010" />
<circle cx="303.36" cy="193.39" r="1.2" fill="#f01010" />
<circle cx="311.52" cy="190.8" r="1.2" fill="#f01010" />
<circle cx="308.56" cy="193.07" r="1.2" fill="#f01010" />
<circle cx="303.87" cy="190.92" r="1.2" fill="#f01010" />
<circle cx="312.93" cy="193.36" r="1.2" fill="#f01010" />
<circle cx="303.21" cy="192.26" r="1.2" fill="#f01010" />
<circle cx="304.26" cy="191.37" r="1.2" fill="#f01010" />
<circle cx="305.64" cy="191.31" r="1.2" fill="#f01010" />
<circle cx="302.78" cy="192.02" r="1.2" fill="#f01010" />
<circle cx="313.42" cy="191.51" r="1.2" fill="#f01010" />
<circle cx="301.98" cy="193.14" r="1.2" fill="#f01010" />
<circle cx="309.13" cy="192.41" r="1.2" fill="#f01010" />
<circle cx="305.58" cy="192.13" r="1.2" fill="#f01010" />
<circle cx="315.71" cy="191.66" r="1.2" fill="#f01010" />
<circle cx="317.68" cy="192.07" r="1.2" fill="#f01010" />
<circle cx="320.3" cy="192.47" r="1.2" fill="#f01010" />
<circle cx="318.99" cy="191.26" r="1.2" fill="#f01010" />
<circle cx="327.72" cy="240.6" r="1.2" fill="#f01010" />
<circle cx="326.33" cy="240.68" r="1.2" fill="#f01010" />
<circle cx="329.65" cy="233.67" r="1.2" fill="#f01010" />
<circle cx="328.9" cy="234.32" r="1.2" fill="#f01010" />
<circle cx="323.47" cy="247.11" r="1.2" fill="#f01010" />
<circle cx="330.86" cy="230.96" r="1.2" fill="#f01010" />
<circle cx="315.04" cy="264.16" r="1.2" fill="#f01010" />
<circle cx="314.54" cy="264.73" r="1.2" fill="#f01010" />
<circle cx="329.24" cy="237.19" r="1.2" fill="#f01010" />
<circle cx="326.21" cy="241.73" r="1.2" fill="#f01010" />
<circle cx="335.72" cy="224.43" r="1.2" fill="#f01010" />
<circle cx="318.68" cy="258.99" r="1.2" fill="#f01010" />
<circle cx="324.48" cy="245.94" r="1.2" fill="#f01010" />
<circle cx="323.48" cy="248.93" r="1.2" fill="#f01010" />
<circle cx="326.86" cy="242.07" r="1.2" fill="#f01010" />
<circle cx="321.98" cy="250.15" r="1.2" fill="#f01010" />
<circle cx="318.81" cy="257.24" r="1.2" fill="#f01010" />
<circle cx="316.05" cy="262.32" r="1.2" fill="#f01010" />
<circle cx="334.97" cy="223.69" r="1.2" fill="#f01010" />
<circle cx="331.74" cy="231.74" r="1.2" fill="#f01010" />
<circle cx="332.54" cy="229.55" r="1.2" fill="#f01010" />
<circle cx="327.61" cy="238.5" r="1.2" fill="#f01010" />
<circle cx="333.27" cy="226.66" r="1.2" fill="#f01010" />
<circle cx="317.66" cy="258.58" r="1.2" fill="#f01010" />
<circle cx="330.51" cy="234.07" r="1.2" fill="#f01010" />
<circle cx="315.84" cy="263.7" r="1.2" fill="#f01010" />
<circle cx="332.53" cy="227.39" r="1.2" fill="#f01010" />
<circle cx="317.29" cy="260.28" r="1.2" fill="#f01010" />
<circle cx="327.21" cy="238.13" r="1.2" fill="#f01010" />
<circle cx="316.11" cy="260.44" r="1.2" fill="#f01010" />
<circle cx="315.72" cy="261.6" r="1.2" fill="#f01010" />
<circle cx="329.06" cy="236.89" r="1.2" fill="#f01010" />
<circle cx="316.12" cy="262" r="1.2" fill="#f01010" />
<circle cx="317.41" cy="260.71" r="1.2" fill="#f01010" />
<circle cx="320.08" cy="252.13" r="1.2" fill="#f01010" />
<circle cx="326.19" cy="243.12" r="1.2" fill="#f01010" />
<circle cx="317.31" cy="259.18" r="1.2" fill="#f01010" />
<circle cx="334.43" cy="224.9" r="1.2" fill="#f01010" />
<circle cx="321.37" cy="250.3" r="1.2" fill="#f01010" />
<circle cx="328.09" cy="238.96" r="1.2" fill="#f01010" />
<circle cx="301.43" cy="231.42" r="1.2" fill="#f01010" />
<circle cx="303.84" cy="234.51" r="1.2" fill="#f01010" />
<circle cx="303.34" cy="201.87" r="1.2" fill="#f01010" />
<circle cx="301.45" cy="247.1" r="1.2" fill="#f01010" />
<circle cx="302.99" cy="228.27" r="1.2" fill="#f01010" />
<circle cx="304.77" cy="226.92" r="1.2" fill="#f01010" />
<circle cx="303.73" cy="236.45" r="1.2" fill="#f01010" />
<circle cx="304.26" cy="207.22" r="1.2" fill="#f01010" />
<circle cx="302.11" cy="258.34" r="1.2" fill="#f01010" />
<circle cx="301.96" cy="240.8" r="1.2" fill="#f01010" />
<circle cx="304.73" cy="247.33" r="1.2" fill="#f01010" />
<circle cx="303.58" cy="220.93" r="1.2" fill="#f01010" />
<circle cx="305.02" cy="257.73" r="1.2" fill="#f01010" />
<circle cx="304.2" cy="242.29" r="1.2" fill="#f01010" />
<circle cx="301.27" cy="221.53" r="1.2" fill="#f01010" />
<circle cx="304.53" cy="225.01" r="1.2" fill="#f01010" />
<circle cx="301.04" cy="197.66" r="1.2" fill="#f01010" />
<circle cx="302.51" cy="221.23" r="1.2" fill="#f01010" />
<circle cx="304" cy="247.61" r="1.2" fill="#f01010" />
<circle cx="302.61" cy="242.79" r="1.2" fill="#f01010" />
<circle cx="301.24" cy="261.39" r="1.2" fill="#f01010" />
<circle cx="303.97" cy="237.09" r="1.2" fill="#f01010" />
<circle cx="304.64" cy="261.51" r="1.2" fill="#f01010" />
<circle cx="302.14" cy="253.26" r="1.2" fill="#f01010" />
<circle cx="304.96" cy="210.41" r="1.2" fill="#f01010" />
<circle cx="304.76" cy="230.36" r="1.2" fill="#f01010" />
<circle cx="301.27" cy="236.69" r="1.2" fill="#f01010" />
<circle cx="301.81" cy="264.02" r="1.2" fill="#f01010" />
<circle cx="303.3" cy="245.55" r="1.2" fill="#f01010" />
<circle cx="301.29" cy="229.99" r="1.2" fill="#f01010" />
<circle cx="304.92" cy="199.49" r="1.2" fill="#f01010" />
<circle cx="302.87" cy="258.69" r="1.2" fill="#f01010" />
<circle cx="304.2" cy="257.85" r="1.2" fill="#f01010" />
<circle cx="303.18" cy="260.03" r="1.2" fill="#f01010" />
<circle cx="305.16" cy="227.8" r="1.2" fill="#f01010" />
<circle cx="302.74" cy="246.8" r="1.2" fill="#f01010" />
<circle cx="303.24" cy="197.6" r="1.2" fill="#f01010" />
<circle cx="302.7" cy="251.22" r="1.2" fill="#f01010" />
<circle cx="303.08" cy="201.44" r="1.2" fill="#f01010" />
<circle cx="302.49" cy="221.41" r="1.2" fill="#f01010" />
<circle cx="304.85" cy="243.04" r="1.2" fill="#f01010" />
<circle cx="304.38" cy="228.77" r="1.2" fill="#f01010" />
<circle cx="301.43" cy="262.15" r="1.2" fill="#f01010" />
<circle cx="304.94" cy="233.19" r="1.2" fill="#f01010" />
<circle cx="302.76" cy="201.49" r="1.2" fill="#f01010" />
<circle cx="303.34" cy="230.79" r="1.2" fill="#f01010" />
<circle cx="302.07" cy="213.66" r="1.2" fill="#f01010" />
<circle cx="301.94" cy="232.87" r="1.2" fill="#f01010" />
<circle cx="304.15" cy="223.44" r="1.2" fill="#f01010" />
<circle cx="301.41" cy="251.68" r="1.2" fill="#f01010" />
<circle cx="303.87" cy="214.73" r="1.2" fill="#f01010" />
<circle cx="301.27" cy="195.87" r="1.2" fill="#f01010" />
<circle cx="301.4" cy="254.13" r="1.2" fill="#f01010" />
<circle cx="301.21" cy="234.57" r="1.2" fill="#f01010" />
<circle cx="303.54" cy="205.72" r="1.2" fill="#f01010" />
<circle cx="301.53" cy="216.85" r="1.2" fill="#f01010" />
<circle cx="301.28" cy="225.16" r="1.2" fill="#f01010" />
<circle cx="301.92" cy="240.9" r="1.2" fill="#f01010" />
<circle cx="301.05" cy="215.32" r="1.2" fill="#f01010" />
<circle cx="301.35" cy="212.26" r="1.2" fill="#f01010" />
<circle cx="302.3" cy="224.37" r="1.2" fill="#f01010" />
<circle cx="303.63" cy="231.6" r="1.2" fill="#f01010" />
<circle cx="304.66" cy="201.36" r="1.2" fill="#f01010" />
<circle cx="302.06" cy="242.47" r="1.2" fill="#f01010" />
<circle cx="304.67" cy="256.58" r="1.2" fill="#f01010" />
<circle cx="302.66" cy="236.8" r="1.2" fill="#f01010" />
<circle cx="305.11" cy="256.91" r="1.2" fill="#f01010" />
<circle cx="303.7" cy="212.76" r="1.2" fill="#f01010" />
<circle cx="304.02" cy="265.84" r="1.2" fill="#f01010" />
<circle cx="304.96" cy="243.97" r="1.2" fill="#f01010" />
<circle cx="309.85" cy="241.15" r="1.2" fill="#f01010" />
<circle cx="316.12" cy="258.86" r="1.2" fill="#f01010" />
<circle cx="304.16" cy="251.37" r="1.2" fill="#f01010" />
<circle cx="306.62" cy="248.91" r="1.2" fill="#f01010" />
<circle cx="308.75" cy="249.86" r="1.2" fill="#f01010" />
<circle cx="302.1" cy="245.38" r="1.2" fill="#f01010" />
<circle cx="300.63" cy="257.1" r="1.2" fill="#f01010" />
<circle cx="313.21" cy="245.71" r="1.2" fill="#f01010" />
<circle cx="301" cy="242.48" r="1.2" fill="#f01010" />
<circle cx="306.17" cy="256.02" r="1.2" fill="#f01010" />
<circle cx="302.55" cy="264.27" r="1.2" fill="#f01010" />
<circle cx="316.95" cy="218.61" r="1.2" fill="#f01010" />
<circle cx="315.69" cy="262.4" r="1.2" fill="#f01010" />
<circle cx="304.76" cy="252.32" r="1.2" fill="#f01010" />
<circle cx="302.84" cy="252.55" r="1.2" fill="#f01010" />
<circle cx="300.71" cy="261.78" r="1.2" fill="#f01010" />
<circle cx="308.05" cy="252.11" r="1.2" fill="#f01010" />
<circle cx="306.6" cy="248.35" r="1.2" fill="#f01010" />
<circle cx="303.74" cy="258.54" r="1.2" fill="#f01010" />
<circle cx="304.6" cy="248.75" r="1.2" fill="#f01010" />
<circle cx="312.71" cy="254.18" r="1.2" fill="#f01010" />
<circle cx="310.5" cy="258.32" r="1.2" fill="#f01010" />
<circle cx="303.19" cy="265.09" r="1.2" fill="#f01010" />
<circle cx="301.98" cy="242.2" r="1.2" fill="#f01010" />
<circle cx="300.74" cy="265.15" r="1.2" fill="#f01010" />
<circle cx="301.58" cy="247.15" r="1.2" fill="#f01010" />
<circle cx="305.54" cy="258" r="1.2" fill="#f01010" />
<circle cx="306.14" cy="244.94" r="1.2" fill="#f01010" />
<circle cx="300.83" cy="256.38" r="1.2" fill="#f01010" />
<circle cx="313.06" cy="245.43" r="1.2" fill="#f01010" />
<circle cx="315.98" cy="253.3" r="1.2" fill="#f01010" />
<circle cx="311.36" cy="253.62" r="1.2" fill="#f01010" />
<circle cx="308.81" cy="241.33" r="1.2" fill="#f01010" />
<circle cx="302.54" cy="207.05" r="1.2" fill="#f01010" />
<circle cx="304.16" cy="265.03" r="1.2" fill="#f01010" />
<circle cx="304.55" cy="264.55" r="1.2" fill="#f01010" />
<circle cx="302.74" cy="264.7" r="1.2" fill="#f01010" />
<circle cx="305.39" cy="265.87" r="1.2" fill="#f01010" />
<circle cx="311.75" cy="261.3" r="1.2" fill="#f01010" />
<circle cx="302.17" cy="259.55" r="1.2" fill="#f01010" />
<circle cx="319.8" cy="226.32" r="1.2" fill="#f01010" />
<circle cx="302.71" cy="250.82" r="1.2" fill="#f01010" />
<circle cx="305.73" cy="259.26" r="1.2" fill="#f01010" />
<circle cx="300.85" cy="259.12" r="1.2" fill="#f01010" />
<circle cx="313.07" cy="258.06" r="1.2" fill="#f01010" />
<circle cx="317.4" cy="250.64" r="1.2" fill="#f01010" />
<circle cx="312.89" cy="251.08" r="1.2" fill="#f01010" />
<circle cx="321.86" cy="239.49" r="1.2" fill="#f01010" />
<circle cx="305.21" cy="245.57" r="1.2" fill="#f01010" />
<circle cx="309.78" cy="251.99" r="1.2" fill="#f01010" />
<circle cx="311.28" cy="238.24" r="1.2" fill="#f01010" />
<circle cx="302.42" cy="258.34" r="1.2" fill="#f01010" />
<circle cx="303.08" cy="260.79" r="1.2" fill="#f01010" />
<circle cx="313.13" cy="251.12" r="1.2" fill="#f01010" />
<circle cx="307.12" cy="263.15" r="1.2" fill="#f01010" />
<circle cx="304.5" cy="242.22" r="1.2" fill="#f01010" />
<circle cx="308.55" cy="264.62" r="1.2" fill="#f01010" />
<circle cx="301.94" cy="260.1" r="1.2" fill="#f01010" />
<circle cx="300.68" cy="261.52" r="1.2" fill="#f01010" />
<circle cx="305.34" cy="263.83" r="1.2" fill="#f01010" />
<circle cx="300.67" cy="264.48" r="1.2" fill="#f01010" />
<circle cx="303.99" cy="242.72" r="1.2" fill="#f01010" />
<circle cx="301.33" cy="232.56" r="1.2" fill="#f01010" />
<circle cx="300.68" cy="263.8" r="1.2" fill="#f01010" />
<circle cx="308.47" cy="265.13" r="1.2" fill="#f01010" />
<circle cx="306.16" cy="247.64" r="1.2" fill="#f01010" />
<circle cx="305.74" cy="244.91" r="1.2" fill="#f01010" />
<circle cx="308.61" cy="233.5" r="1.2" fill="#f01010" />
<circle cx="302.22" cy="255.97" r="1.2" fill="#f01010" />
<circle cx="305.57" cy="258.73" r="1.2" fill="#f01010" />
<circle cx="302.84" cy="243.57" r="1.2" fill="#f01010" />
<circle cx="315.08" cy="261.4" r="1.2" fill="#f01010" />
<circle cx="307.19" cy="264.96" r="1.2" fill="#f01010" />
<circle cx="309.95" cy="262.71" r="1.2" fill="#f01010" />
<circle cx="301.46" cy="254.26" r="1.2" fill="#f01010" />
<circle cx="305.08" cy="248.99" r="1.2" fill="#f01010" />
<circle cx="303.78" cy="246.43" r="1.2" fill="#f01010" />
<circle cx="301.74" cy="251.29" r="1.2" fill="#f01010" />
<circle cx="301.35" cy="256.46" r="1.2" fill="#f01010" />
<circle cx="300.97" cy="252.85" r="1.2" fill="#f01010" />
<circle cx="306.03" cy="256.62" r="1.2" fill="#f01010" />
<circle cx="302.02" cy="258.35" r="1.2" fill="#f01010" />
<circle cx="305.71" cy="261.7" r="1.2" fill="#f01010" />
<circle cx="310.19" cy="264.96" r="1.2" fill="#f01010" />
<circle cx="303.54" cy="262.31" r="1.2" fill="#f01010" />
<circle cx="303.69" cy="264.68" r="1.2" fill="#f01010" />
<circle cx="303.56" cy="231.36" r="1.2" fill="#f01010" />
<circle cx="304.24" cy="264.61" r="1.2" fill="#f01010" />
<circle cx="301.4" cy="228.45" r="1.2" fill="#f01010" />
<circle cx="302.62" cy="260.5" r="1.2" fill="#f01010" />
<circle cx="305.9" cy="251.12" r="1.2" fill="#f01010" />
<circle cx="310.5" cy="260.77" r="1.2" fill="#f01010" />
<circle cx="302.83" cy="265.14" r="1.2" fill="#f01010" />
<circle cx="303.24" cy="261.57" r="1.2" fill="#f01010" />
<circle cx="306.57" cy="243.62" r="1.2" fill="#f01010" />
<circle cx="306.65" cy="260.41" r="1.2" fill="#f01010" />
<circle cx="307.81" cy="241.77" r="1.2" fill="#f01010" />
<circle cx="309.74" cy="258.16" r="1.2" fill="#f01010" />
<circle cx="305.05" cy="253.58" r="1.2" fill="#f01010" />
<circle cx="301.82" cy="258.73" r="1.2" fill="#f01010" />
<circle cx="304.5" cy="261.19" r="1.2" fill="#f01010" />
<circle cx="308.23" cy="253.97" r="1.2" fill="#f01010" />
<circle cx="305.66" cy="263.42" r="1.2" fill="#f01010" />
<circle cx="300.98" cy="248.81" r="1.2" fill="#f01010" />
<circle cx="312.63" cy="264.42" r="1.2" fill="#f01010" />
<circle cx="301.22" cy="235.48" r="1.2" fill="#f01010" />
<circle cx="309.02" cy="264.81" r="1.2" fill="#f01010" />
<circle cx="309.73" cy="261.59" r="1.2" fill="#f01010" />
<circle cx="305.82" cy="265.46" r="1.2" fill="#f01010" />
<circle cx="304.06" cy="263.63" r="1.2" fill="#f01010" />
<circle cx="306.7" cy="250.64" r="1.2" fill="#f01010" />
<circle cx="316.34" cy="241.12" r="1.2" fill="#f01010" />
<circle cx="316.66" cy="253.44" r="1.2" fill="#f01010" />
<circle cx="306.11" cy="263.39" r="1.2" fill="#f01010" />
<circle cx="308.98" cy="260.94" r="1.2" fill="#f01010" />
<circle cx="313.68" cy="259.93" r="1.2" fill="#f01010" />
<circle cx="324.64" cy="228.96" r="1.2" fill="#f01010" />
<circle cx="317.2" cy="259.52" r="1.2" fill="#f01010" />
<circle cx="312.36" cy="264.11" r="1.2" fill="#f01010" />
<circle cx="305.84" cy="249.13" r="1.2" fill="#f01010" />
<circle cx="302.24" cy="261.71" r="1.2" fill="#f01010" />
<circle cx="303.13" cy="259.27" r="1.2" fill="#f01010" />
<circle cx="305.52" cy="253.43" r="1.2" fill="#f01010" />
<circle cx="305.79" cy="253.63" r="1.2" fill="#f01010" />
<circle cx="300.93" cy="261.55" r="1.2" fill="#f01010" />
<circle cx="309.79" cy="243.89" r="1.2" fill="#f01010" />
<circle cx="306.52" cy="262.3" r="1.2" fill="#f01010" />
<circle cx="306.59" cy="254.68" r="1.2" fill="#f01010" />
<circle cx="313.48" cy="236.06" r="1.2" fill="#f01010" />
<circle cx="304.15" cy="261.18" r="1.2" fill="#f01010" />
<circle cx="302.13" cy="253.69" r="1.2" fill="#f01010" />
<circle cx="301.02" cy="230.78" r="1.2" fill="#f01010" />
<circle cx="303.34" cy="256.97" r="1.2" fill="#f01010" />
<circle cx="301.02" cy="256.27" r="1.2" fill="#f01010" />
<circle cx="302.75" cy="245.88" r="1.2" fill="#f01010" />
<circle cx="300.9" cy="258.05" r="1.2" fill="#f01010" />
<circle cx="302.44" cy="264.23" r="1.2" fill="#f01010" />
<circle cx="303.81" cy="212.28" r="1.2" fill="#f01010" />
<circle cx="301.2" cy="262.23" r="1.2" fill="#f01010" />
<circle cx="322.2" cy="248.51" r="1.2" fill="#f01010" />
<circle cx="313.64" cy="242.59" r="1.2" fill="#f01010" />
<circle cx="302.2" cy="262.11" r="1.2" fill="#f01010" />
<circle cx="301.2" cy="261.85" r="1.2" fill="#f01010" />
<circle cx="311.47" cy="263.42" r="1.2" fill="#f01010" />
<circle cx="300.71" cy="257.19" r="1.2" fill="#f01010" />
<circle cx="311.77" cy="241.33" r="1.2" fill="#f01010" />
<circle cx="321.32" cy="248.93" r="1.2" fill="#f01010" />
<circle cx="304.74" cy="255.39" r="1.2" fill="#f01010" />
<circle cx="303.45" cy="254.92" r="1.2" fill="#f01010" />
<circle cx="303.19" cy="265.43" r="1.2" fill="#f01010" />
<circle cx="301.71" cy="258.01" r="1.2" fill="#f01010" />
<circle cx="303.04" cy="264.82" r="1.2" fill="#f01010" />
<circle cx="316.09" cy="257.29" r="1.2" fill="#f01010" />
<circle cx="308.27" cy="248.3" r="1.2" fill="#f01010" />
<circle cx="304.87" cy="260.89" r="1.2" fill="#f01010" />
<circle cx="309.2" cy="260.98" r="1.2" fill="#f01010" />
<circle cx="313.95" cy="240.97" r="1.2" fill="#f01010" />
<circle cx="302" cy="261.39" r="1.2" fill="#f01010" />
<circle cx="308.11" cy="265.79" r="1.2" fill="#f01010" />
<circle cx="300.67" cy="262.57" r="1.2" fill="#f01010" />
<circle cx="302.83" cy="261.27" r="1.2" fill="#f01010" />
<circle cx="309.93" cy="262.94" r="1.2" fill="#f01010" />
<circle cx="303.44" cy="254.57" r="1.2" fill="#f01010" />
<circle cx="302.59" cy="248.97" r="1.2" fill="#f01010" />
<circle cx="301.7" cy="233.09" r="1.2" fill="#f01010" />
<circle cx="311.03" cy="254.33" r="1.2" fill="#f01010" />
<circle cx="306.32" cy="248.89" r="1.2" fill="#f01010" />
<circle cx="309.08" cy="239.41" r="1.2" fill="#f01010" />
<circle cx="301.32" cy="250.75" r="1.2" fill="#f01010" />
<circle cx="305.97" cy="263.24" r="1.2" fill="#f01010" />
<circle cx="301.47" cy="255.73" r="1.2" fill="#f01010" />
<circle cx="304.25" cy="248.43" r="1.2" fill="#f01010" />
<circle cx="306.91" cy="257.59" r="1.2" fill="#f01010" />
<circle cx="303.69" cy="242.34" r="1.2" fill="#f01010" />
<circle cx="308.55" cy="255.32" r="1.2" fill="#f01010" />
<circle cx="303.81" cy="252.15" r="1.2" fill="#f01010" />
<circle cx="306.04" cy="261.68" r="1.2" fill="#f01010" />
<circle cx="309.44" cy="254.04" r="1.2" fill="#f01010" />
<circle cx="305.66" cy="264.05" r="1.2" fill="#f01010" />
<circle cx="302.47" cy="255.3" r="1.2" fill="#f01010" />
<circle cx="306.51" cy="265.64" r="1.2" fill="#f01010" />
<circle cx="300.89" cy="261.4" r="1.2" fill="#f01010" />
<circle cx="302.12" cy="261.85" r="1.2" fill="#f01010" />
<circle cx="304.32" cy="264.84" r="1.2" fill="#f01010" />
<circle cx="308.98" cy="250.58" r="1.2" fill="#f01010" />
<circle cx="302.84" cy="265.64" r="1.2" fill="#f01010" />
<circle cx="303.16" cy="258.37" r="1.2" fill="#f01010" />
<circle cx="306.28" cy="257.46" r="1.2" fill="#f01010" />
<circle cx="310" cy="263.82" r="1.2" fill="#f01010" />
<circle cx="306.15" cy="249.43" r="1.2" fill="#f01010" />
<circle cx="348.9" cy="228.79" r="1.2" fill="#f01010" />
<circle cx="343.92" cy="221.52" r="1.2" fill="#f01010" />
<circle cx="344.9" cy="219.91" r="1.2" fill="#f01010" />
<circle cx="328.5" cy="221.52" r="1.2" fill="#f01010" />
<circle cx="339.32" cy="230.4" r="1.2" fill="#f01010" />
<circle cx="342.6" cy="244.12" r="1.2" fill="#f01010" />
<circle cx="337.36" cy="251.38" r="1.2" fill="#f01010" />
<circle cx="330.8" cy="254.61" r="1.2" fill="#f01010" />
<circle cx="321.61" cy="221.52" r="1.2" fill="#f01010" />
<circle cx="314.4" cy="214.26" r="1.2" fill="#f01010" />
<circle cx="311.12" cy="211.84" r="1.2" fill="#f01010" />
<circle cx="313.08" cy="201.35" r="1.2" fill="#f01010" />
</g>
<line x1="216" y1="265.4" x2="359" y2="265.4" stroke="#555" stroke-width="0.6" stroke-dasharray="1.5 1.2"/>
<line x1="274.4" y1="186.5" x2="274.4" y2="280" stroke="#666" stroke-width="0.6" stroke-dasharray="1.5 1.2"/>
<line x1="300.6" y1="186.5" x2="300.6" y2="280" stroke="#666" stroke-width="0.6" stroke-dasharray="1.5 1.2"/>
<rect x="215.9" y="186.3" width="143.4" height="93.9" fill="none" stroke="#333" stroke-width="1.2"/>
<circle cx="218.8" cy="190.6" r="1.1" fill="#f01010" />
<circle cx="218.8" cy="197.2" r="1.1" fill="#17e017" />
<text x="221.1" y="192.4" font-size="5.1" fill="#222">Up-regulated 366</text>
<text x="221.1" y="199" font-size="5.1" fill="#222">Down-regulated 225</text>
<line x1="213.3" y1="276.4" x2="215.5" y2="276.4" stroke="#333" stroke-width="0.8" />
<text x="210" y="279.1" font-size="7.5" text-anchor="end" fill="#222">0</text>
<line x1="213.3" y1="252.19" x2="215.5" y2="252.19" stroke="#333" stroke-width="0.8" />
<text x="210" y="254.89" font-size="7.5" text-anchor="end" fill="#222">3</text>
<line x1="213.3" y1="227.98" x2="215.5" y2="227.98" stroke="#333" stroke-width="0.8" />
<text x="210" y="230.68" font-size="7.5" text-anchor="end" fill="#222">6</text>
<line x1="213.3" y1="203.77" x2="215.5" y2="203.77" stroke="#333" stroke-width="0.8" />
<text x="210" y="206.47" font-size="7.5" text-anchor="end" fill="#222">9</text>
<line x1="221.9" y1="280.6" x2="221.9" y2="282.8" stroke="#333" stroke-width="0.8" />
<text x="221.9" y="290.8" font-size="7.5" text-anchor="middle" fill="#222">-10</text>
<line x1="254.7" y1="280.6" x2="254.7" y2="282.8" stroke="#333" stroke-width="0.8" />
<text x="254.7" y="290.8" font-size="7.5" text-anchor="middle" fill="#222">-5</text>
<line x1="287.5" y1="280.6" x2="287.5" y2="282.8" stroke="#333" stroke-width="0.8" />
<text x="287.5" y="290.8" font-size="7.5" text-anchor="middle" fill="#222">0</text>
<line x1="320.3" y1="280.6" x2="320.3" y2="282.8" stroke="#333" stroke-width="0.8" />
<text x="320.3" y="290.8" font-size="7.5" text-anchor="middle" fill="#222">5</text>
<line x1="353.1" y1="280.6" x2="353.1" y2="282.8" stroke="#333" stroke-width="0.8" />
<text x="353.1" y="290.8" font-size="7.5" text-anchor="middle" fill="#222">10</text>
<text x="199.6" y="233" font-size="8.3" font-weight="bold" text-anchor="middle" fill="#111" transform="rotate(-90 199.6 233)">-log10(padj)</text>
<text x="288.2" y="301" font-size="8.2" font-weight="bold" text-anchor="middle" fill="#111">log2(fold change)</text>
<text x="372" y="176.8" font-size="16.5" font-weight="bold">D</text>
<rect x="424.2" y="184.6" width="1.9" height="382.2" fill="#fbd9c2"/>
<rect x="394.3" y="184.5" width="12" height="123.8" fill="#efefef" stroke="#b5b5b5" stroke-width="0.9"/>
<text x="402.4" y="246.4" font-size="7" font-weight="bold" text-anchor="middle" fill="#1a1a1a" transform="rotate(-90 402.4 246.4)">PRR vs CT</text>
<polyline points="412,203.2 418.45,208.06 424.91,193.48 431.36,211.57 437.82,219.67 444.27,221.29 450.72,219.13 457.18,214.27 463.63,222.91 470.09,220.75 476.54,225.34 482.99,225.88 489.45,228.58 495.9,227.23 502.36,224.53 508.81,228.31 515.26,230.47 521.72,228.31 528.17,243.43 534.63,243.7 541.08,243.43 547.53,243.7 553.99,243.43 560.44,243.7 566.9,243.7 573.35,243.43 579.8,243.43 586.26,243.43 592.71,243.43 599.17,243.16 605.62,243.43 612.07,243.43 618.53,243.7 624.98,243.43 631.44,243.7 637.89,243.7 644.34,243.43 650.8,243.7 657.25,243.7 663.71,243.43 670.16,243.43 676.61,243.43" fill="none" stroke="#e3241f" stroke-width="1.2" stroke-linejoin="round"/>
<rect x="410.7" y="201.9" width="2.6" height="2.6" fill="#000"/>
<rect x="417.15" y="206.76" width="2.6" height="2.6" fill="#000"/>
<rect x="423.61" y="192.18" width="2.6" height="2.6" fill="#000"/>
<rect x="430.06" y="210.27" width="2.6" height="2.6" fill="#000"/>
<rect x="436.52" y="218.37" width="2.6" height="2.6" fill="#000"/>
<rect x="442.97" y="219.99" width="2.6" height="2.6" fill="#000"/>
<rect x="449.42" y="217.83" width="2.6" height="2.6" fill="#000"/>
<rect x="455.88" y="212.97" width="2.6" height="2.6" fill="#000"/>
<rect x="462.33" y="221.61" width="2.6" height="2.6" fill="#000"/>
<rect x="468.79" y="219.45" width="2.6" height="2.6" fill="#000"/>
<rect x="475.24" y="224.04" width="2.6" height="2.6" fill="#000"/>
<rect x="481.69" y="224.58" width="2.6" height="2.6" fill="#000"/>
<rect x="488.15" y="227.28" width="2.6" height="2.6" fill="#000"/>
<rect x="494.6" y="225.93" width="2.6" height="2.6" fill="#000"/>
<rect x="501.06" y="223.23" width="2.6" height="2.6" fill="#000"/>
<rect x="507.51" y="227.01" width="2.6" height="2.6" fill="#000"/>
<rect x="513.96" y="229.17" width="2.6" height="2.6" fill="#000"/>
<rect x="520.42" y="227.01" width="2.6" height="2.6" fill="#000"/>
<rect x="526.87" y="242.13" width="2.6" height="2.6" fill="#000"/>
<rect x="533.33" y="242.4" width="2.6" height="2.6" fill="#000"/>
<rect x="539.78" y="242.13" width="2.6" height="2.6" fill="#000"/>
<rect x="546.23" y="242.4" width="2.6" height="2.6" fill="#000"/>
<rect x="552.69" y="242.13" width="2.6" height="2.6" fill="#000"/>
<rect x="559.14" y="242.4" width="2.6" height="2.6" fill="#000"/>
<rect x="565.6" y="242.4" width="2.6" height="2.6" fill="#000"/>
<rect x="572.05" y="242.13" width="2.6" height="2.6" fill="#000"/>
<rect x="578.5" y="242.13" width="2.6" height="2.6" fill="#000"/>
<rect x="584.96" y="242.13" width="2.6" height="2.6" fill="#000"/>
<rect x="591.41" y="242.13" width="2.6" height="2.6" fill="#000"/>
<rect x="597.87" y="241.86" width="2.6" height="2.6" fill="#000"/>
<rect x="604.32" y="242.13" width="2.6" height="2.6" fill="#000"/>
<rect x="610.77" y="242.13" width="2.6" height="2.6" fill="#000"/>
<rect x="617.23" y="242.4" width="2.6" height="2.6" fill="#000"/>
<rect x="623.68" y="242.13" width="2.6" height="2.6" fill="#000"/>
<rect x="630.14" y="242.4" width="2.6" height="2.6" fill="#000"/>
<rect x="636.59" y="242.4" width="2.6" height="2.6" fill="#000"/>
<rect x="643.04" y="242.13" width="2.6" height="2.6" fill="#000"/>
<rect x="649.5" y="242.4" width="2.6" height="2.6" fill="#000"/>
<rect x="655.95" y="242.4" width="2.6" height="2.6" fill="#000"/>
<rect x="662.41" y="242.13" width="2.6" height="2.6" fill="#000"/>
<rect x="668.86" y="242.13" width="2.6" height="2.6" fill="#000"/>
<rect x="675.31" y="242.13" width="2.6" height="2.6" fill="#000"/>
<text x="412" y="199" font-size="5.9" text-anchor="middle" fill="#1a1a1a" stroke="#1a1a1a" stroke-width="0.12">150</text>
<text x="418.45" y="203.86" font-size="5.9" text-anchor="middle" fill="#1a1a1a" stroke="#1a1a1a" stroke-width="0.12">138</text>
<text x="424.91" y="189.28" font-size="5.9" text-anchor="middle" fill="#1a1a1a" stroke="#1a1a1a" stroke-width="0.12">186</text>
<text x="431.36" y="207.37" font-size="5.9" text-anchor="middle" fill="#1a1a1a" stroke="#1a1a1a" stroke-width="0.12">119</text>
<text x="437.82" y="215.47" font-size="5.9" text-anchor="middle" fill="#1a1a1a" stroke="#1a1a1a" stroke-width="0.12">89</text>
<text x="444.27" y="217.09" font-size="5.9" text-anchor="middle" fill="#1a1a1a" stroke="#1a1a1a" stroke-width="0.12">83</text>
<text x="450.72" y="214.93" font-size="5.9" text-anchor="middle" fill="#1a1a1a" stroke="#1a1a1a" stroke-width="0.12">91</text>
<text x="457.18" y="210.07" font-size="5.9" text-anchor="middle" fill="#1a1a1a" stroke="#1a1a1a" stroke-width="0.12">109</text>
<text x="463.63" y="218.71" font-size="5.9" text-anchor="middle" fill="#1a1a1a" stroke="#1a1a1a" stroke-width="0.12">77</text>
<text x="470.09" y="216.55" font-size="5.9" text-anchor="middle" fill="#1a1a1a" stroke="#1a1a1a" stroke-width="0.12">85</text>
<text x="476.54" y="221.14" font-size="5.9" text-anchor="middle" fill="#1a1a1a" stroke="#1a1a1a" stroke-width="0.12">68</text>
<text x="482.99" y="221.68" font-size="5.9" text-anchor="middle" fill="#1a1a1a" stroke="#1a1a1a" stroke-width="0.12">66</text>
<text x="489.45" y="224.38" font-size="5.9" text-anchor="middle" fill="#1a1a1a" stroke="#1a1a1a" stroke-width="0.12">56</text>
<text x="495.9" y="223.03" font-size="5.9" text-anchor="middle" fill="#1a1a1a" stroke="#1a1a1a" stroke-width="0.12">61</text>
<text x="502.36" y="220.33" font-size="5.9" text-anchor="middle" fill="#1a1a1a" stroke="#1a1a1a" stroke-width="0.12">71</text>
<text x="508.81" y="224.11" font-size="5.9" text-anchor="middle" fill="#1a1a1a" stroke="#1a1a1a" stroke-width="0.12">57</text>
<text x="515.26" y="226.27" font-size="5.9" text-anchor="middle" fill="#1a1a1a" stroke="#1a1a1a" stroke-width="0.12">49</text>
<text x="521.72" y="224.11" font-size="5.9" text-anchor="middle" fill="#1a1a1a" stroke="#1a1a1a" stroke-width="0.12">57</text>
<text x="528.17" y="238.83" font-size="5.9" text-anchor="middle" fill="#1a1a1a" stroke="#1a1a1a" stroke-width="0.12">1</text>
<text x="534.63" y="239.1" font-size="5.9" text-anchor="middle" fill="#1a1a1a" stroke="#1a1a1a" stroke-width="0.12">0</text>
<text x="541.08" y="238.83" font-size="5.9" text-anchor="middle" fill="#1a1a1a" stroke="#1a1a1a" stroke-width="0.12">1</text>
<text x="547.53" y="239.1" font-size="5.9" text-anchor="middle" fill="#1a1a1a" stroke="#1a1a1a" stroke-width="0.12">0</text>
<text x="553.99" y="238.83" font-size="5.9" text-anchor="middle" fill="#1a1a1a" stroke="#1a1a1a" stroke-width="0.12">1</text>
<text x="560.44" y="239.1" font-size="5.9" text-anchor="middle" fill="#1a1a1a" stroke="#1a1a1a" stroke-width="0.12">0</text>
<text x="566.9" y="239.1" font-size="5.9" text-anchor="middle" fill="#1a1a1a" stroke="#1a1a1a" stroke-width="0.12">0</text>
<text x="573.35" y="238.83" font-size="5.9" text-anchor="middle" fill="#1a1a1a" stroke="#1a1a1a" stroke-width="0.12">1</text>
<text x="579.8" y="238.83" font-size="5.9" text-anchor="middle" fill="#1a1a1a" stroke="#1a1a1a" stroke-width="0.12">1</text>
<text x="586.26" y="238.83" font-size="5.9" text-anchor="middle" fill="#1a1a1a" stroke="#1a1a1a" stroke-width="0.12">1</text>
<text x="592.71" y="238.83" font-size="5.9" text-anchor="middle" fill="#1a1a1a" stroke="#1a1a1a" stroke-width="0.12">1</text>
<text x="599.17" y="238.56" font-size="5.9" text-anchor="middle" fill="#1a1a1a" stroke="#1a1a1a" stroke-width="0.12">2</text>
<text x="605.62" y="238.83" font-size="5.9" text-anchor="middle" fill="#1a1a1a" stroke="#1a1a1a" stroke-width="0.12">1</text>
<text x="612.07" y="238.83" font-size="5.9" text-anchor="middle" fill="#1a1a1a" stroke="#1a1a1a" stroke-width="0.12">1</text>
<text x="618.53" y="239.1" font-size="5.9" text-anchor="middle" fill="#1a1a1a" stroke="#1a1a1a" stroke-width="0.12">0</text>
<text x="624.98" y="238.83" font-size="5.9" text-anchor="middle" fill="#1a1a1a" stroke="#1a1a1a" stroke-width="0.12">1</text>
<text x="631.44" y="239.1" font-size="5.9" text-anchor="middle" fill="#1a1a1a" stroke="#1a1a1a" stroke-width="0.12">0</text>
<text x="637.89" y="239.1" font-size="5.9" text-anchor="middle" fill="#1a1a1a" stroke="#1a1a1a" stroke-width="0.12">0</text>
<text x="644.34" y="238.83" font-size="5.9" text-anchor="middle" fill="#1a1a1a" stroke="#1a1a1a" stroke-width="0.12">1</text>
<text x="650.8" y="239.1" font-size="5.9" text-anchor="middle" fill="#1a1a1a" stroke="#1a1a1a" stroke-width="0.12">0</text>
<text x="657.25" y="239.1" font-size="5.9" text-anchor="middle" fill="#1a1a1a" stroke="#1a1a1a" stroke-width="0.12">0</text>
<text x="663.71" y="238.83" font-size="5.9" text-anchor="middle" fill="#1a1a1a" stroke="#1a1a1a" stroke-width="0.12">1</text>
<text x="670.16" y="238.83" font-size="5.9" text-anchor="middle" fill="#1a1a1a" stroke="#1a1a1a" stroke-width="0.12">1</text>
<text x="676.61" y="238.83" font-size="5.9" text-anchor="middle" fill="#1a1a1a" stroke="#1a1a1a" stroke-width="0.12">1</text>
<polyline points="412,263.85 418.45,271.25 424.91,254.26 431.36,270.7 437.82,277.82 444.27,278.1 450.72,281.11 457.18,279.47 463.63,283.3 470.09,282.75 476.54,288.78 482.99,291.52 489.45,292.89 495.9,289.88 502.36,292.34 508.81,290.15 515.26,293.71 521.72,291.52 528.17,304.4 534.63,304.4 541.08,304.4 547.53,304.4 553.99,304.4 560.44,304.4 566.9,304.4 573.35,304.4 579.8,304.4 586.26,304.4 592.71,304.4 599.17,304.4 605.62,304.4 612.07,304.4 618.53,304.4 624.98,304.4 631.44,304.4 637.89,304.4 644.34,304.4 650.8,304.4 657.25,304.4 663.71,304.4 670.16,304.4 676.61,304.4" fill="none" stroke="#4f9a2c" stroke-width="1.2" stroke-linejoin="round"/>
<rect x="410.7" y="262.55" width="2.6" height="2.6" fill="#000"/>
<rect x="417.15" y="269.95" width="2.6" height="2.6" fill="#000"/>
<rect x="423.61" y="252.96" width="2.6" height="2.6" fill="#000"/>
<rect x="430.06" y="269.4" width="2.6" height="2.6" fill="#000"/>
<rect x="436.52" y="276.52" width="2.6" height="2.6" fill="#000"/>
<rect x="442.97" y="276.8" width="2.6" height="2.6" fill="#000"/>
<rect x="449.42" y="279.81" width="2.6" height="2.6" fill="#000"/>
<rect x="455.88" y="278.17" width="2.6" height="2.6" fill="#000"/>
<rect x="462.33" y="282" width="2.6" height="2.6" fill="#000"/>
<rect x="468.79" y="281.45" width="2.6" height="2.6" fill="#000"/>
<rect x="475.24" y="287.48" width="2.6" height="2.6" fill="#000"/>
<rect x="481.69" y="290.22" width="2.6" height="2.6" fill="#000"/>
<rect x="488.15" y="291.59" width="2.6" height="2.6" fill="#000"/>
<rect x="494.6" y="288.58" width="2.6" height="2.6" fill="#000"/>
<rect x="501.06" y="291.04" width="2.6" height="2.6" fill="#000"/>
<rect x="507.51" y="288.85" width="2.6" height="2.6" fill="#000"/>
<rect x="513.96" y="292.41" width="2.6" height="2.6" fill="#000"/>
<rect x="520.42" y="290.22" width="2.6" height="2.6" fill="#000"/>
<rect x="526.87" y="303.1" width="2.6" height="2.6" fill="#000"/>
<rect x="533.33" y="303.1" width="2.6" height="2.6" fill="#000"/>
<rect x="539.78" y="303.1" width="2.6" height="2.6" fill="#000"/>
<rect x="546.23" y="303.1" width="2.6" height="2.6" fill="#000"/>
<rect x="552.69" y="303.1" width="2.6" height="2.6" fill="#000"/>
<rect x="559.14" y="303.1" width="2.6" height="2.6" fill="#000"/>
<rect x="565.6" y="303.1" width="2.6" height="2.6" fill="#000"/>
<rect x="572.05" y="303.1" width="2.6" height="2.6" fill="#000"/>
<rect x="578.5" y="303.1" width="2.6" height="2.6" fill="#000"/>
<rect x="584.96" y="303.1" width="2.6" height="2.6" fill="#000"/>
<rect x="591.41" y="303.1" width="2.6" height="2.6" fill="#000"/>
<rect x="597.87" y="303.1" width="2.6" height="2.6" fill="#000"/>
<rect x="604.32" y="303.1" width="2.6" height="2.6" fill="#000"/>
<rect x="610.77" y="303.1" width="2.6" height="2.6" fill="#000"/>
<rect x="617.23" y="303.1" width="2.6" height="2.6" fill="#000"/>
<rect x="623.68" y="303.1" width="2.6" height="2.6" fill="#000"/>
<rect x="630.14" y="303.1" width="2.6" height="2.6" fill="#000"/>
<rect x="636.59" y="303.1" width="2.6" height="2.6" fill="#000"/>
<rect x="643.04" y="303.1" width="2.6" height="2.6" fill="#000"/>
<rect x="649.5" y="303.1" width="2.6" height="2.6" fill="#000"/>
<rect x="655.95" y="303.1" width="2.6" height="2.6" fill="#000"/>
<rect x="662.41" y="303.1" width="2.6" height="2.6" fill="#000"/>
<rect x="668.86" y="303.1" width="2.6" height="2.6" fill="#000"/>
<rect x="675.31" y="303.1" width="2.6" height="2.6" fill="#000"/>
<text x="412" y="259.65" font-size="5.9" text-anchor="middle" fill="#1a1a1a" stroke="#1a1a1a" stroke-width="0.12">148</text>
<text x="418.45" y="267.05" font-size="5.9" text-anchor="middle" fill="#1a1a1a" stroke="#1a1a1a" stroke-width="0.12">121</text>
<text x="424.91" y="250.06" font-size="5.9" text-anchor="middle" fill="#1a1a1a" stroke="#1a1a1a" stroke-width="0.12">183</text>
<text x="431.36" y="266.5" font-size="5.9" text-anchor="middle" fill="#1a1a1a" stroke="#1a1a1a" stroke-width="0.12">123</text>
<text x="437.82" y="273.62" font-size="5.9" text-anchor="middle" fill="#1a1a1a" stroke="#1a1a1a" stroke-width="0.12">97</text>
<text x="444.27" y="273.9" font-size="5.9" text-anchor="middle" fill="#1a1a1a" stroke="#1a1a1a" stroke-width="0.12">96</text>
<text x="450.72" y="276.91" font-size="5.9" text-anchor="middle" fill="#1a1a1a" stroke="#1a1a1a" stroke-width="0.12">85</text>
<text x="457.18" y="275.27" font-size="5.9" text-anchor="middle" fill="#1a1a1a" stroke="#1a1a1a" stroke-width="0.12">91</text>
<text x="463.63" y="279.1" font-size="5.9" text-anchor="middle" fill="#1a1a1a" stroke="#1a1a1a" stroke-width="0.12">77</text>
<text x="470.09" y="278.55" font-size="5.9" text-anchor="middle" fill="#1a1a1a" stroke="#1a1a1a" stroke-width="0.12">79</text>
<text x="476.54" y="284.58" font-size="5.9" text-anchor="middle" fill="#1a1a1a" stroke="#1a1a1a" stroke-width="0.12">57</text>
<text x="482.99" y="287.32" font-size="5.9" text-anchor="middle" fill="#1a1a1a" stroke="#1a1a1a" stroke-width="0.12">47</text>
<text x="489.45" y="288.69" font-size="5.9" text-anchor="middle" fill="#1a1a1a" stroke="#1a1a1a" stroke-width="0.12">42</text>
<text x="495.9" y="285.68" font-size="5.9" text-anchor="middle" fill="#1a1a1a" stroke="#1a1a1a" stroke-width="0.12">53</text>
<text x="502.36" y="288.14" font-size="5.9" text-anchor="middle" fill="#1a1a1a" stroke="#1a1a1a" stroke-width="0.12">44</text>
<text x="508.81" y="285.95" font-size="5.9" text-anchor="middle" fill="#1a1a1a" stroke="#1a1a1a" stroke-width="0.12">52</text>
<text x="515.26" y="289.51" font-size="5.9" text-anchor="middle" fill="#1a1a1a" stroke="#1a1a1a" stroke-width="0.12">39</text>
<text x="521.72" y="287.32" font-size="5.9" text-anchor="middle" fill="#1a1a1a" stroke="#1a1a1a" stroke-width="0.12">47</text>
<text x="528.17" y="299.8" font-size="5.9" text-anchor="middle" fill="#1a1a1a" stroke="#1a1a1a" stroke-width="0.12">0</text>
<text x="534.63" y="299.8" font-size="5.9" text-anchor="middle" fill="#1a1a1a" stroke="#1a1a1a" stroke-width="0.12">0</text>
<text x="541.08" y="299.8" font-size="5.9" text-anchor="middle" fill="#1a1a1a" stroke="#1a1a1a" stroke-width="0.12">0</text>
<text x="547.53" y="299.8" font-size="5.9" text-anchor="middle" fill="#1a1a1a" stroke="#1a1a1a" stroke-width="0.12">0</text>
<text x="553.99" y="299.8" font-size="5.9" text-anchor="middle" fill="#1a1a1a" stroke="#1a1a1a" stroke-width="0.12">0</text>
<text x="560.44" y="299.8" font-size="5.9" text-anchor="middle" fill="#1a1a1a" stroke="#1a1a1a" stroke-width="0.12">0</text>
<text x="566.9" y="299.8" font-size="5.9" text-anchor="middle" fill="#1a1a1a" stroke="#1a1a1a" stroke-width="0.12">0</text>
<text x="573.35" y="299.8" font-size="5.9" text-anchor="middle" fill="#1a1a1a" stroke="#1a1a1a" stroke-width="0.12">0</text>
<text x="579.8" y="299.8" font-size="5.9" text-anchor="middle" fill="#1a1a1a" stroke="#1a1a1a" stroke-width="0.12">0</text>
<text x="586.26" y="299.8" font-size="5.9" text-anchor="middle" fill="#1a1a1a" stroke="#1a1a1a" stroke-width="0.12">0</text>
<text x="592.71" y="299.8" font-size="5.9" text-anchor="middle" fill="#1a1a1a" stroke="#1a1a1a" stroke-width="0.12">0</text>
<text x="599.17" y="299.8" font-size="5.9" text-anchor="middle" fill="#1a1a1a" stroke="#1a1a1a" stroke-width="0.12">0</text>
<text x="605.62" y="299.8" font-size="5.9" text-anchor="middle" fill="#1a1a1a" stroke="#1a1a1a" stroke-width="0.12">0</text>
<text x="612.07" y="299.8" font-size="5.9" text-anchor="middle" fill="#1a1a1a" stroke="#1a1a1a" stroke-width="0.12">0</text>
<text x="618.53" y="299.8" font-size="5.9" text-anchor="middle" fill="#1a1a1a" stroke="#1a1a1a" stroke-width="0.12">0</text>
<text x="624.98" y="299.8" font-size="5.9" text-anchor="middle" fill="#1a1a1a" stroke="#1a1a1a" stroke-width="0.12">0</text>
<text x="631.44" y="299.8" font-size="5.9" text-anchor="middle" fill="#1a1a1a" stroke="#1a1a1a" stroke-width="0.12">0</text>
<text x="637.89" y="299.8" font-size="5.9" text-anchor="middle" fill="#1a1a1a" stroke="#1a1a1a" stroke-width="0.12">0</text>
<text x="644.34" y="299.8" font-size="5.9" text-anchor="middle" fill="#1a1a1a" stroke="#1a1a1a" stroke-width="0.12">0</text>
<text x="650.8" y="299.8" font-size="5.9" text-anchor="middle" fill="#1a1a1a" stroke="#1a1a1a" stroke-width="0.12">0</text>
<text x="657.25" y="299.8" font-size="5.9" text-anchor="middle" fill="#1a1a1a" stroke="#1a1a1a" stroke-width="0.12">0</text>
<text x="663.71" y="299.8" font-size="5.9" text-anchor="middle" fill="#1a1a1a" stroke="#1a1a1a" stroke-width="0.12">0</text>
<text x="670.16" y="299.8" font-size="5.9" text-anchor="middle" fill="#1a1a1a" stroke="#1a1a1a" stroke-width="0.12">0</text>
<text x="676.61" y="299.8" font-size="5.9" text-anchor="middle" fill="#1a1a1a" stroke="#1a1a1a" stroke-width="0.12">0</text>
<rect x="394.3" y="310.6" width="12" height="123.7" fill="#efefef" stroke="#b5b5b5" stroke-width="0.9"/>
<text x="402.4" y="372.45" font-size="7" font-weight="bold" text-anchor="middle" fill="#1a1a1a" transform="rotate(-90 402.4 372.45)">ARR vs PRR</text>
<polyline points="412,324.38 418.45,330.33 424.91,321.64 431.36,333.07 437.82,340.38 444.27,339.92 450.72,344.49 457.18,344.49 463.63,336.72 470.09,343.12 476.54,348.61 482.99,354.09 489.45,360.49 495.9,354.09 502.36,349.06 508.81,356.83 515.26,355.46 521.72,355 528.17,367.8 534.63,367.34 541.08,367.8 547.53,367.34 553.99,367.8 560.44,367.34 566.9,367.34 573.35,367.8 579.8,367.8 586.26,367.8 592.71,367.34 599.17,367.8 605.62,367.8 612.07,367.34 618.53,367.8 624.98,367.8 631.44,367.34 637.89,367.34 644.34,367.8 650.8,367.8 657.25,367.8 663.71,367.8 670.16,367.8 676.61,367.34" fill="none" stroke="#e3241f" stroke-width="1.2" stroke-linejoin="round"/>
<polygon points="412,322.69 410.4,325.49 413.6,325.49" fill="#000" />
<polygon points="418.45,328.63 416.85,331.43 420.05,331.43" fill="#000" />
<polygon points="424.91,319.94 423.31,322.74 426.51,322.74" fill="#000" />
<polygon points="431.36,331.37 429.76,334.17 432.96,334.17" fill="#000" />
<polygon points="437.82,338.68 436.22,341.48 439.42,341.48" fill="#000" />
<polygon points="444.27,338.22 442.67,341.02 445.87,341.02" fill="#000" />
<polygon points="450.72,342.79 449.12,345.59 452.32,345.59" fill="#000" />
<polygon points="457.18,342.79 455.58,345.59 458.78,345.59" fill="#000" />
<polygon points="463.63,335.02 462.03,337.82 465.23,337.82" fill="#000" />
<polygon points="470.09,341.42 468.49,344.22 471.69,344.22" fill="#000" />
<polygon points="476.54,346.91 474.94,349.71 478.14,349.71" fill="#000" />
<polygon points="482.99,352.39 481.39,355.19 484.59,355.19" fill="#000" />
<polygon points="489.45,358.79 487.85,361.59 491.05,361.59" fill="#000" />
<polygon points="495.9,352.39 494.3,355.19 497.5,355.19" fill="#000" />
<polygon points="502.36,347.36 500.76,350.16 503.96,350.16" fill="#000" />
<polygon points="508.81,355.13 507.21,357.93 510.41,357.93" fill="#000" />
<polygon points="515.26,353.76 513.66,356.56 516.86,356.56" fill="#000" />
<polygon points="521.72,353.3 520.12,356.1 523.32,356.1" fill="#000" />
<polygon points="528.17,366.1 526.57,368.9 529.77,368.9" fill="#000" />
<polygon points="534.63,365.64 533.03,368.44 536.23,368.44" fill="#000" />
<polygon points="541.08,366.1 539.48,368.9 542.68,368.9" fill="#000" />
<polygon points="547.53,365.64 545.93,368.44 549.13,368.44" fill="#000" />
<polygon points="553.99,366.1 552.39,368.9 555.59,368.9" fill="#000" />
<polygon points="560.44,365.64 558.84,368.44 562.04,368.44" fill="#000" />
<polygon points="566.9,365.64 565.3,368.44 568.5,368.44" fill="#000" />
<polygon points="573.35,366.1 571.75,368.9 574.95,368.9" fill="#000" />
<polygon points="579.8,366.1 578.2,368.9 581.4,368.9" fill="#000" />
<polygon points="586.26,366.1 584.66,368.9 587.86,368.9" fill="#000" />
<polygon points="592.71,365.64 591.11,368.44 594.31,368.44" fill="#000" />
<polygon points="599.17,366.1 597.57,368.9 600.77,368.9" fill="#000" />
<polygon points="605.62,366.1 604.02,368.9 607.22,368.9" fill="#000" />
<polygon points="612.07,365.64 610.47,368.44 613.67,368.44" fill="#000" />
<polygon points="618.53,366.1 616.93,368.9 620.13,368.9" fill="#000" />
<polygon points="624.98,366.1 623.38,368.9 626.58,368.9" fill="#000" />
<polygon points="631.44,365.64 629.84,368.44 633.04,368.44" fill="#000" />
<polygon points="637.89,365.64 636.29,368.44 639.49,368.44" fill="#000" />
<polygon points="644.34,366.1 642.74,368.9 645.94,368.9" fill="#000" />
<polygon points="650.8,366.1 649.2,368.9 652.4,368.9" fill="#000" />
<polygon points="657.25,366.1 655.65,368.9 658.85,368.9" fill="#000" />
<polygon points="663.71,366.1 662.11,368.9 665.31,368.9" fill="#000" />
<polygon points="670.16,366.1 668.56,368.9 671.76,368.9" fill="#000" />
<polygon points="676.61,365.64 675.01,368.44 678.21,368.44" fill="#000" />
<text x="412" y="320.19" font-size="5.9" text-anchor="middle" fill="#1a1a1a" stroke="#1a1a1a" stroke-width="0.12">95</text>
<text x="418.45" y="326.13" font-size="5.9" text-anchor="middle" fill="#1a1a1a" stroke="#1a1a1a" stroke-width="0.12">82</text>
<text x="424.91" y="317.44" font-size="5.9" text-anchor="middle" fill="#1a1a1a" stroke="#1a1a1a" stroke-width="0.12">101</text>
<text x="431.36" y="328.87" font-size="5.9" text-anchor="middle" fill="#1a1a1a" stroke="#1a1a1a" stroke-width="0.12">76</text>
<text x="437.82" y="336.18" font-size="5.9" text-anchor="middle" fill="#1a1a1a" stroke="#1a1a1a" stroke-width="0.12">60</text>
<text x="444.27" y="335.72" font-size="5.9" text-anchor="middle" fill="#1a1a1a" stroke="#1a1a1a" stroke-width="0.12">61</text>
<text x="450.72" y="340.29" font-size="5.9" text-anchor="middle" fill="#1a1a1a" stroke="#1a1a1a" stroke-width="0.12">51</text>
<text x="457.18" y="340.29" font-size="5.9" text-anchor="middle" fill="#1a1a1a" stroke="#1a1a1a" stroke-width="0.12">51</text>
<text x="463.63" y="332.52" font-size="5.9" text-anchor="middle" fill="#1a1a1a" stroke="#1a1a1a" stroke-width="0.12">68</text>
<text x="470.09" y="338.92" font-size="5.9" text-anchor="middle" fill="#1a1a1a" stroke="#1a1a1a" stroke-width="0.12">54</text>
<text x="476.54" y="344.41" font-size="5.9" text-anchor="middle" fill="#1a1a1a" stroke="#1a1a1a" stroke-width="0.12">42</text>
<text x="482.99" y="349.89" font-size="5.9" text-anchor="middle" fill="#1a1a1a" stroke="#1a1a1a" stroke-width="0.12">30</text>
<text x="489.45" y="356.29" font-size="5.9" text-anchor="middle" fill="#1a1a1a" stroke="#1a1a1a" stroke-width="0.12">16</text>
<text x="495.9" y="349.89" font-size="5.9" text-anchor="middle" fill="#1a1a1a" stroke="#1a1a1a" stroke-width="0.12">30</text>
<text x="502.36" y="344.86" font-size="5.9" text-anchor="middle" fill="#1a1a1a" stroke="#1a1a1a" stroke-width="0.12">41</text>
<text x="508.81" y="352.63" font-size="5.9" text-anchor="middle" fill="#1a1a1a" stroke="#1a1a1a" stroke-width="0.12">24</text>
<text x="515.26" y="351.26" font-size="5.9" text-anchor="middle" fill="#1a1a1a" stroke="#1a1a1a" stroke-width="0.12">27</text>
<text x="521.72" y="350.8" font-size="5.9" text-anchor="middle" fill="#1a1a1a" stroke="#1a1a1a" stroke-width="0.12">28</text>
<text x="528.17" y="363.2" font-size="5.9" text-anchor="middle" fill="#1a1a1a" stroke="#1a1a1a" stroke-width="0.12">0</text>
<text x="534.63" y="362.74" font-size="5.9" text-anchor="middle" fill="#1a1a1a" stroke="#1a1a1a" stroke-width="0.12">1</text>
<text x="541.08" y="363.2" font-size="5.9" text-anchor="middle" fill="#1a1a1a" stroke="#1a1a1a" stroke-width="0.12">0</text>
<text x="547.53" y="362.74" font-size="5.9" text-anchor="middle" fill="#1a1a1a" stroke="#1a1a1a" stroke-width="0.12">1</text>
<text x="553.99" y="363.2" font-size="5.9" text-anchor="middle" fill="#1a1a1a" stroke="#1a1a1a" stroke-width="0.12">0</text>
<text x="560.44" y="362.74" font-size="5.9" text-anchor="middle" fill="#1a1a1a" stroke="#1a1a1a" stroke-width="0.12">1</text>
<text x="566.9" y="362.74" font-size="5.9" text-anchor="middle" fill="#1a1a1a" stroke="#1a1a1a" stroke-width="0.12">1</text>
<text x="573.35" y="363.2" font-size="5.9" text-anchor="middle" fill="#1a1a1a" stroke="#1a1a1a" stroke-width="0.12">0</text>
<text x="579.8" y="363.2" font-size="5.9" text-anchor="middle" fill="#1a1a1a" stroke="#1a1a1a" stroke-width="0.12">0</text>
<text x="586.26" y="363.2" font-size="5.9" text-anchor="middle" fill="#1a1a1a" stroke="#1a1a1a" stroke-width="0.12">0</text>
<text x="592.71" y="362.74" font-size="5.9" text-anchor="middle" fill="#1a1a1a" stroke="#1a1a1a" stroke-width="0.12">1</text>
<text x="599.17" y="363.2" font-size="5.9" text-anchor="middle" fill="#1a1a1a" stroke="#1a1a1a" stroke-width="0.12">0</text>
<text x="605.62" y="363.2" font-size="5.9" text-anchor="middle" fill="#1a1a1a" stroke="#1a1a1a" stroke-width="0.12">0</text>
<text x="612.07" y="362.74" font-size="5.9" text-anchor="middle" fill="#1a1a1a" stroke="#1a1a1a" stroke-width="0.12">1</text>
<text x="618.53" y="363.2" font-size="5.9" text-anchor="middle" fill="#1a1a1a" stroke="#1a1a1a" stroke-width="0.12">0</text>
<text x="624.98" y="363.2" font-size="5.9" text-anchor="middle" fill="#1a1a1a" stroke="#1a1a1a" stroke-width="0.12">0</text>
<text x="631.44" y="362.74" font-size="5.9" text-anchor="middle" fill="#1a1a1a" stroke="#1a1a1a" stroke-width="0.12">1</text>
<text x="637.89" y="362.74" font-size="5.9" text-anchor="middle" fill="#1a1a1a" stroke="#1a1a1a" stroke-width="0.12">1</text>
<text x="644.34" y="363.2" font-size="5.9" text-anchor="middle" fill="#1a1a1a" stroke="#1a1a1a" stroke-width="0.12">0</text>
<text x="650.8" y="363.2" font-size="5.9" text-anchor="middle" fill="#1a1a1a" stroke="#1a1a1a" stroke-width="0.12">0</text>
<text x="657.25" y="363.2" font-size="5.9" text-anchor="middle" fill="#1a1a1a" stroke="#1a1a1a" stroke-width="0.12">0</text>
<text x="663.71" y="363.2" font-size="5.9" text-anchor="middle" fill="#1a1a1a" stroke="#1a1a1a" stroke-width="0.12">0</text>
<text x="670.16" y="363.2" font-size="5.9" text-anchor="middle" fill="#1a1a1a" stroke="#1a1a1a" stroke-width="0.12">0</text>
<text x="676.61" y="362.74" font-size="5.9" text-anchor="middle" fill="#1a1a1a" stroke="#1a1a1a" stroke-width="0.12">1</text>
<polyline points="412,393.86 418.45,397.84 424.91,381.55 431.36,402.19 437.82,404 444.27,408.34 450.72,406.17 457.18,403.64 463.63,409.07 470.09,405.08 476.54,413.05 482.99,413.41 489.45,415.94 495.9,414.5 502.36,415.22 508.81,418.12 515.26,413.77 521.72,419.56 528.17,429.7 534.63,429.7 541.08,429.7 547.53,429.7 553.99,429.7 560.44,429.7 566.9,429.7 573.35,429.7 579.8,429.7 586.26,429.7 592.71,429.7 599.17,429.7 605.62,429.7 612.07,429.7 618.53,429.7 624.98,429.7 631.44,429.7 637.89,429.7 644.34,429.7 650.8,429.7 657.25,429.7 663.71,429.7 670.16,429.7 676.61,429.7" fill="none" stroke="#4f9a2c" stroke-width="1.2" stroke-linejoin="round"/>
<polygon points="412,392.16 410.4,394.96 413.6,394.96" fill="#000" />
<polygon points="418.45,396.14 416.85,398.94 420.05,398.94" fill="#000" />
<polygon points="424.91,379.85 423.31,382.65 426.51,382.65" fill="#000" />
<polygon points="431.36,400.49 429.76,403.29 432.96,403.29" fill="#000" />
<polygon points="437.82,402.3 436.22,405.1 439.42,405.1" fill="#000" />
<polygon points="444.27,406.64 442.67,409.44 445.87,409.44" fill="#000" />
<polygon points="450.72,404.47 449.12,407.27 452.32,407.27" fill="#000" />
<polygon points="457.18,401.94 455.58,404.74 458.78,404.74" fill="#000" />
<polygon points="463.63,407.37 462.03,410.17 465.23,410.17" fill="#000" />
<polygon points="470.09,403.38 468.49,406.18 471.69,406.18" fill="#000" />
<polygon points="476.54,411.35 474.94,414.15 478.14,414.15" fill="#000" />
<polygon points="482.99,411.71 481.39,414.51 484.59,414.51" fill="#000" />
<polygon points="489.45,414.24 487.85,417.04 491.05,417.04" fill="#000" />
<polygon points="495.9,412.8 494.3,415.6 497.5,415.6" fill="#000" />
<polygon points="502.36,413.52 500.76,416.32 503.96,416.32" fill="#000" />
<polygon points="508.81,416.42 507.21,419.22 510.41,419.22" fill="#000" />
<polygon points="515.26,412.07 513.66,414.87 516.86,414.87" fill="#000" />
<polygon points="521.72,417.86 520.12,420.66 523.32,420.66" fill="#000" />
<polygon points="528.17,428 526.57,430.8 529.77,430.8" fill="#000" />
<polygon points="534.63,428 533.03,430.8 536.23,430.8" fill="#000" />
<polygon points="541.08,428 539.48,430.8 542.68,430.8" fill="#000" />
<polygon points="547.53,428 545.93,430.8 549.13,430.8" fill="#000" />
<polygon points="553.99,428 552.39,430.8 555.59,430.8" fill="#000" />
<polygon points="560.44,428 558.84,430.8 562.04,430.8" fill="#000" />
<polygon points="566.9,428 565.3,430.8 568.5,430.8" fill="#000" />
<polygon points="573.35,428 571.75,430.8 574.95,430.8" fill="#000" />
<polygon points="579.8,428 578.2,430.8 581.4,430.8" fill="#000" />
<polygon points="586.26,428 584.66,430.8 587.86,430.8" fill="#000" />
<polygon points="592.71,428 591.11,430.8 594.31,430.8" fill="#000" />
<polygon points="599.17,428 597.57,430.8 600.77,430.8" fill="#000" />
<polygon points="605.62,428 604.02,430.8 607.22,430.8" fill="#000" />
<polygon points="612.07,428 610.47,430.8 613.67,430.8" fill="#000" />
<polygon points="618.53,428 616.93,430.8 620.13,430.8" fill="#000" />
<polygon points="624.98,428 623.38,430.8 626.58,430.8" fill="#000" />
<polygon points="631.44,428 629.84,430.8 633.04,430.8" fill="#000" />
<polygon points="637.89,428 636.29,430.8 639.49,430.8" fill="#000" />
<polygon points="644.34,428 642.74,430.8 645.94,430.8" fill="#000" />
<polygon points="650.8,428 649.2,430.8 652.4,430.8" fill="#000" />
<polygon points="657.25,428 655.65,430.8 658.85,430.8" fill="#000" />
<polygon points="663.71,428 662.11,430.8 665.31,430.8" fill="#000" />
<polygon points="670.16,428 668.56,430.8 671.76,430.8" fill="#000" />
<polygon points="676.61,428 675.01,430.8 678.21,430.8" fill="#000" />
<text x="412" y="389.66" font-size="5.9" text-anchor="middle" fill="#1a1a1a" stroke="#1a1a1a" stroke-width="0.12">99</text>
<text x="418.45" y="393.64" font-size="5.9" text-anchor="middle" fill="#1a1a1a" stroke="#1a1a1a" stroke-width="0.12">88</text>
<text x="424.91" y="377.35" font-size="5.9" text-anchor="middle" fill="#1a1a1a" stroke="#1a1a1a" stroke-width="0.12">133</text>
<text x="431.36" y="397.99" font-size="5.9" text-anchor="middle" fill="#1a1a1a" stroke="#1a1a1a" stroke-width="0.12">76</text>
<text x="437.82" y="399.8" font-size="5.9" text-anchor="middle" fill="#1a1a1a" stroke="#1a1a1a" stroke-width="0.12">71</text>
<text x="444.27" y="404.14" font-size="5.9" text-anchor="middle" fill="#1a1a1a" stroke="#1a1a1a" stroke-width="0.12">59</text>
<text x="450.72" y="401.97" font-size="5.9" text-anchor="middle" fill="#1a1a1a" stroke="#1a1a1a" stroke-width="0.12">65</text>
<text x="457.18" y="399.44" font-size="5.9" text-anchor="middle" fill="#1a1a1a" stroke="#1a1a1a" stroke-width="0.12">72</text>
<text x="463.63" y="404.87" font-size="5.9" text-anchor="middle" fill="#1a1a1a" stroke="#1a1a1a" stroke-width="0.12">57</text>
<text x="470.09" y="400.88" font-size="5.9" text-anchor="middle" fill="#1a1a1a" stroke="#1a1a1a" stroke-width="0.12">68</text>
<text x="476.54" y="408.85" font-size="5.9" text-anchor="middle" fill="#1a1a1a" stroke="#1a1a1a" stroke-width="0.12">46</text>
<text x="482.99" y="409.21" font-size="5.9" text-anchor="middle" fill="#1a1a1a" stroke="#1a1a1a" stroke-width="0.12">45</text>
<text x="489.45" y="411.74" font-size="5.9" text-anchor="middle" fill="#1a1a1a" stroke="#1a1a1a" stroke-width="0.12">38</text>
<text x="495.9" y="410.3" font-size="5.9" text-anchor="middle" fill="#1a1a1a" stroke="#1a1a1a" stroke-width="0.12">42</text>
<text x="502.36" y="411.02" font-size="5.9" text-anchor="middle" fill="#1a1a1a" stroke="#1a1a1a" stroke-width="0.12">40</text>
<text x="508.81" y="413.92" font-size="5.9" text-anchor="middle" fill="#1a1a1a" stroke="#1a1a1a" stroke-width="0.12">32</text>
<text x="515.26" y="409.57" font-size="5.9" text-anchor="middle" fill="#1a1a1a" stroke="#1a1a1a" stroke-width="0.12">44</text>
<text x="521.72" y="415.36" font-size="5.9" text-anchor="middle" fill="#1a1a1a" stroke="#1a1a1a" stroke-width="0.12">28</text>
<text x="528.17" y="425.1" font-size="5.9" text-anchor="middle" fill="#1a1a1a" stroke="#1a1a1a" stroke-width="0.12">0</text>
<text x="534.63" y="425.1" font-size="5.9" text-anchor="middle" fill="#1a1a1a" stroke="#1a1a1a" stroke-width="0.12">0</text>
<text x="541.08" y="425.1" font-size="5.9" text-anchor="middle" fill="#1a1a1a" stroke="#1a1a1a" stroke-width="0.12">0</text>
<text x="547.53" y="425.1" font-size="5.9" text-anchor="middle" fill="#1a1a1a" stroke="#1a1a1a" stroke-width="0.12">0</text>
<text x="553.99" y="425.1" font-size="5.9" text-anchor="middle" fill="#1a1a1a" stroke="#1a1a1a" stroke-width="0.12">0</text>
<text x="560.44" y="425.1" font-size="5.9" text-anchor="middle" fill="#1a1a1a" stroke="#1a1a1a" stroke-width="0.12">0</text>
<text x="566.9" y="425.1" font-size="5.9" text-anchor="middle" fill="#1a1a1a" stroke="#1a1a1a" stroke-width="0.12">0</text>
<text x="573.35" y="425.1" font-size="5.9" text-anchor="middle" fill="#1a1a1a" stroke="#1a1a1a" stroke-width="0.12">0</text>
<text x="579.8" y="425.1" font-size="5.9" text-anchor="middle" fill="#1a1a1a" stroke="#1a1a1a" stroke-width="0.12">0</text>
<text x="586.26" y="425.1" font-size="5.9" text-anchor="middle" fill="#1a1a1a" stroke="#1a1a1a" stroke-width="0.12">0</text>
<text x="592.71" y="425.1" font-size="5.9" text-anchor="middle" fill="#1a1a1a" stroke="#1a1a1a" stroke-width="0.12">0</text>
<text x="599.17" y="425.1" font-size="5.9" text-anchor="middle" fill="#1a1a1a" stroke="#1a1a1a" stroke-width="0.12">0</text>
<text x="605.62" y="425.1" font-size="5.9" text-anchor="middle" fill="#1a1a1a" stroke="#1a1a1a" stroke-width="0.12">0</text>
<text x="612.07" y="425.1" font-size="5.9" text-anchor="middle" fill="#1a1a1a" stroke="#1a1a1a" stroke-width="0.12">0</text>
<text x="618.53" y="425.1" font-size="5.9" text-anchor="middle" fill="#1a1a1a" stroke="#1a1a1a" stroke-width="0.12">0</text>
<text x="624.98" y="425.1" font-size="5.9" text-anchor="middle" fill="#1a1a1a" stroke="#1a1a1a" stroke-width="0.12">0</text>
<text x="631.44" y="425.1" font-size="5.9" text-anchor="middle" fill="#1a1a1a" stroke="#1a1a1a" stroke-width="0.12">0</text>
<text x="637.89" y="425.1" font-size="5.9" text-anchor="middle" fill="#1a1a1a" stroke="#1a1a1a" stroke-width="0.12">0</text>
<text x="644.34" y="425.1" font-size="5.9" text-anchor="middle" fill="#1a1a1a" stroke="#1a1a1a" stroke-width="0.12">0</text>
<text x="650.8" y="425.1" font-size="5.9" text-anchor="middle" fill="#1a1a1a" stroke="#1a1a1a" stroke-width="0.12">0</text>
<text x="657.25" y="425.1" font-size="5.9" text-anchor="middle" fill="#1a1a1a" stroke="#1a1a1a" stroke-width="0.12">0</text>
<text x="663.71" y="425.1" font-size="5.9" text-anchor="middle" fill="#1a1a1a" stroke="#1a1a1a" stroke-width="0.12">0</text>
<text x="670.16" y="425.1" font-size="5.9" text-anchor="middle" fill="#1a1a1a" stroke="#1a1a1a" stroke-width="0.12">0</text>
<text x="676.61" y="425.1" font-size="5.9" text-anchor="middle" fill="#1a1a1a" stroke="#1a1a1a" stroke-width="0.12">0</text>
<rect x="394.3" y="435.7" width="12" height="131.2" fill="#efefef" stroke="#b5b5b5" stroke-width="0.9"/>
<text x="402.4" y="501.3" font-size="7" font-weight="bold" text-anchor="middle" fill="#1a1a1a" transform="rotate(-90 402.4 501.3)">ARR vs CT</text>
<polyline points="412,454.57 418.45,456.75 424.91,448.77 431.36,459.66 437.82,468.73 444.27,468 450.72,470.91 457.18,469.09 463.63,467.64 470.09,467.28 476.54,476.72 482.99,478.9 489.45,482.53 495.9,478.53 502.36,475.27 508.81,481.07 515.26,480.35 521.72,479.26 528.17,491.24 534.63,491.24 541.08,491.6 547.53,491.6 553.99,491.6 560.44,491.24 566.9,491.6 573.35,491.6 579.8,491.24 586.26,491.24 592.71,491.24 599.17,491.24 605.62,491.6 612.07,491.24 618.53,491.24 624.98,491.6 631.44,491.24 637.89,491.6 644.34,491.6 650.8,491.24 657.25,491.24 663.71,491.6 670.16,491.24 676.61,491.24" fill="none" stroke="#e3241f" stroke-width="1.2" stroke-linejoin="round"/>
<circle cx="412" cy="454.57" r="1.35" fill="#000" />
<circle cx="418.45" cy="456.75" r="1.35" fill="#000" />
<circle cx="424.91" cy="448.77" r="1.35" fill="#000" />
<circle cx="431.36" cy="459.66" r="1.35" fill="#000" />
<circle cx="437.82" cy="468.73" r="1.35" fill="#000" />
<circle cx="444.27" cy="468" r="1.35" fill="#000" />
<circle cx="450.72" cy="470.91" r="1.35" fill="#000" />
<circle cx="457.18" cy="469.09" r="1.35" fill="#000" />
<circle cx="463.63" cy="467.64" r="1.35" fill="#000" />
<circle cx="470.09" cy="467.28" r="1.35" fill="#000" />
<circle cx="476.54" cy="476.72" r="1.35" fill="#000" />
<circle cx="482.99" cy="478.9" r="1.35" fill="#000" />
<circle cx="489.45" cy="482.53" r="1.35" fill="#000" />
<circle cx="495.9" cy="478.53" r="1.35" fill="#000" />
<circle cx="502.36" cy="475.27" r="1.35" fill="#000" />
<circle cx="508.81" cy="481.07" r="1.35" fill="#000" />
<circle cx="515.26" cy="480.35" r="1.35" fill="#000" />
<circle cx="521.72" cy="479.26" r="1.35" fill="#000" />
<circle cx="528.17" cy="491.24" r="1.35" fill="#000" />
<circle cx="534.63" cy="491.24" r="1.35" fill="#000" />
<circle cx="541.08" cy="491.6" r="1.35" fill="#000" />
<circle cx="547.53" cy="491.6" r="1.35" fill="#000" />
<circle cx="553.99" cy="491.6" r="1.35" fill="#000" />
<circle cx="560.44" cy="491.24" r="1.35" fill="#000" />
<circle cx="566.9" cy="491.6" r="1.35" fill="#000" />
<circle cx="573.35" cy="491.6" r="1.35" fill="#000" />
<circle cx="579.8" cy="491.24" r="1.35" fill="#000" />
<circle cx="586.26" cy="491.24" r="1.35" fill="#000" />
<circle cx="592.71" cy="491.24" r="1.35" fill="#000" />
<circle cx="599.17" cy="491.24" r="1.35" fill="#000" />
<circle cx="605.62" cy="491.6" r="1.35" fill="#000" />
<circle cx="612.07" cy="491.24" r="1.35" fill="#000" />
<circle cx="618.53" cy="491.24" r="1.35" fill="#000" />
<circle cx="624.98" cy="491.6" r="1.35" fill="#000" />
<circle cx="631.44" cy="491.24" r="1.35" fill="#000" />
<circle cx="637.89" cy="491.6" r="1.35" fill="#000" />
<circle cx="644.34" cy="491.6" r="1.35" fill="#000" />
<circle cx="650.8" cy="491.24" r="1.35" fill="#000" />
<circle cx="657.25" cy="491.24" r="1.35" fill="#000" />
<circle cx="663.71" cy="491.6" r="1.35" fill="#000" />
<circle cx="670.16" cy="491.24" r="1.35" fill="#000" />
<circle cx="676.61" cy="491.24" r="1.35" fill="#000" />
<text x="412" y="450.37" font-size="5.9" text-anchor="middle" fill="#1a1a1a" stroke="#1a1a1a" stroke-width="0.12">102</text>
<text x="418.45" y="452.55" font-size="5.9" text-anchor="middle" fill="#1a1a1a" stroke="#1a1a1a" stroke-width="0.12">96</text>
<text x="424.91" y="444.57" font-size="5.9" text-anchor="middle" fill="#1a1a1a" stroke="#1a1a1a" stroke-width="0.12">118</text>
<text x="431.36" y="455.46" font-size="5.9" text-anchor="middle" fill="#1a1a1a" stroke="#1a1a1a" stroke-width="0.12">88</text>
<text x="437.82" y="464.53" font-size="5.9" text-anchor="middle" fill="#1a1a1a" stroke="#1a1a1a" stroke-width="0.12">63</text>
<text x="444.27" y="463.81" font-size="5.9" text-anchor="middle" fill="#1a1a1a" stroke="#1a1a1a" stroke-width="0.12">65</text>
<text x="450.72" y="466.71" font-size="5.9" text-anchor="middle" fill="#1a1a1a" stroke="#1a1a1a" stroke-width="0.12">57</text>
<text x="457.18" y="464.89" font-size="5.9" text-anchor="middle" fill="#1a1a1a" stroke="#1a1a1a" stroke-width="0.12">62</text>
<text x="463.63" y="463.44" font-size="5.9" text-anchor="middle" fill="#1a1a1a" stroke="#1a1a1a" stroke-width="0.12">66</text>
<text x="470.09" y="463.08" font-size="5.9" text-anchor="middle" fill="#1a1a1a" stroke="#1a1a1a" stroke-width="0.12">67</text>
<text x="476.54" y="472.52" font-size="5.9" text-anchor="middle" fill="#1a1a1a" stroke="#1a1a1a" stroke-width="0.12">41</text>
<text x="482.99" y="474.7" font-size="5.9" text-anchor="middle" fill="#1a1a1a" stroke="#1a1a1a" stroke-width="0.12">35</text>
<text x="489.45" y="478.33" font-size="5.9" text-anchor="middle" fill="#1a1a1a" stroke="#1a1a1a" stroke-width="0.12">25</text>
<text x="495.9" y="474.33" font-size="5.9" text-anchor="middle" fill="#1a1a1a" stroke="#1a1a1a" stroke-width="0.12">36</text>
<text x="502.36" y="471.07" font-size="5.9" text-anchor="middle" fill="#1a1a1a" stroke="#1a1a1a" stroke-width="0.12">45</text>
<text x="508.81" y="476.87" font-size="5.9" text-anchor="middle" fill="#1a1a1a" stroke="#1a1a1a" stroke-width="0.12">29</text>
<text x="515.26" y="476.15" font-size="5.9" text-anchor="middle" fill="#1a1a1a" stroke="#1a1a1a" stroke-width="0.12">31</text>
<text x="521.72" y="475.06" font-size="5.9" text-anchor="middle" fill="#1a1a1a" stroke="#1a1a1a" stroke-width="0.12">34</text>
<text x="528.17" y="486.64" font-size="5.9" text-anchor="middle" fill="#1a1a1a" stroke="#1a1a1a" stroke-width="0.12">1</text>
<text x="534.63" y="486.64" font-size="5.9" text-anchor="middle" fill="#1a1a1a" stroke="#1a1a1a" stroke-width="0.12">1</text>
<text x="541.08" y="487" font-size="5.9" text-anchor="middle" fill="#1a1a1a" stroke="#1a1a1a" stroke-width="0.12">0</text>
<text x="547.53" y="487" font-size="5.9" text-anchor="middle" fill="#1a1a1a" stroke="#1a1a1a" stroke-width="0.12">0</text>
<text x="553.99" y="487" font-size="5.9" text-anchor="middle" fill="#1a1a1a" stroke="#1a1a1a" stroke-width="0.12">0</text>
<text x="560.44" y="486.64" font-size="5.9" text-anchor="middle" fill="#1a1a1a" stroke="#1a1a1a" stroke-width="0.12">1</text>
<text x="566.9" y="487" font-size="5.9" text-anchor="middle" fill="#1a1a1a" stroke="#1a1a1a" stroke-width="0.12">0</text>
<text x="573.35" y="487" font-size="5.9" text-anchor="middle" fill="#1a1a1a" stroke="#1a1a1a" stroke-width="0.12">0</text>
<text x="579.8" y="486.64" font-size="5.9" text-anchor="middle" fill="#1a1a1a" stroke="#1a1a1a" stroke-width="0.12">1</text>
<text x="586.26" y="486.64" font-size="5.9" text-anchor="middle" fill="#1a1a1a" stroke="#1a1a1a" stroke-width="0.12">1</text>
<text x="592.71" y="486.64" font-size="5.9" text-anchor="middle" fill="#1a1a1a" stroke="#1a1a1a" stroke-width="0.12">1</text>
<text x="599.17" y="486.64" font-size="5.9" text-anchor="middle" fill="#1a1a1a" stroke="#1a1a1a" stroke-width="0.12">1</text>
<text x="605.62" y="487" font-size="5.9" text-anchor="middle" fill="#1a1a1a" stroke="#1a1a1a" stroke-width="0.12">0</text>
<text x="612.07" y="486.64" font-size="5.9" text-anchor="middle" fill="#1a1a1a" stroke="#1a1a1a" stroke-width="0.12">1</text>
<text x="618.53" y="486.64" font-size="5.9" text-anchor="middle" fill="#1a1a1a" stroke="#1a1a1a" stroke-width="0.12">1</text>
<text x="624.98" y="487" font-size="5.9" text-anchor="middle" fill="#1a1a1a" stroke="#1a1a1a" stroke-width="0.12">0</text>
<text x="631.44" y="486.64" font-size="5.9" text-anchor="middle" fill="#1a1a1a" stroke="#1a1a1a" stroke-width="0.12">1</text>
<text x="637.89" y="487" font-size="5.9" text-anchor="middle" fill="#1a1a1a" stroke="#1a1a1a" stroke-width="0.12">0</text>
<text x="644.34" y="487" font-size="5.9" text-anchor="middle" fill="#1a1a1a" stroke="#1a1a1a" stroke-width="0.12">0</text>
<text x="650.8" y="486.64" font-size="5.9" text-anchor="middle" fill="#1a1a1a" stroke="#1a1a1a" stroke-width="0.12">1</text>
<text x="657.25" y="486.64" font-size="5.9" text-anchor="middle" fill="#1a1a1a" stroke="#1a1a1a" stroke-width="0.12">1</text>
<text x="663.71" y="487" font-size="5.9" text-anchor="middle" fill="#1a1a1a" stroke="#1a1a1a" stroke-width="0.12">0</text>
<text x="670.16" y="486.64" font-size="5.9" text-anchor="middle" fill="#1a1a1a" stroke="#1a1a1a" stroke-width="0.12">1</text>
<text x="676.61" y="486.64" font-size="5.9" text-anchor="middle" fill="#1a1a1a" stroke="#1a1a1a" stroke-width="0.12">1</text>
<polyline points="412,529.44 418.45,535.89 424.91,518.01 431.36,539.7 437.82,541.16 444.27,544.68 450.72,540.28 457.18,537.06 463.63,547.9 470.09,542.04 476.54,549.95 482.99,554.35 489.45,552 495.9,552.88 502.36,549.95 508.81,553.17 515.26,551.71 521.72,554.05 528.17,564.6 534.63,564.6 541.08,564.6 547.53,564.6 553.99,564.6 560.44,564.6 566.9,564.6 573.35,564.6 579.8,564.6 586.26,564.6 592.71,564.6 599.17,564.6 605.62,564.6 612.07,564.6 618.53,564.6 624.98,564.6 631.44,564.6 637.89,564.6 644.34,564.6 650.8,564.6 657.25,564.6 663.71,564.6 670.16,564.6 676.61,564.6" fill="none" stroke="#4f9a2c" stroke-width="1.2" stroke-linejoin="round"/>
<circle cx="412" cy="529.44" r="1.35" fill="#000" />
<circle cx="418.45" cy="535.89" r="1.35" fill="#000" />
<circle cx="424.91" cy="518.01" r="1.35" fill="#000" />
<circle cx="431.36" cy="539.7" r="1.35" fill="#000" />
<circle cx="437.82" cy="541.16" r="1.35" fill="#000" />
<circle cx="444.27" cy="544.68" r="1.35" fill="#000" />
<circle cx="450.72" cy="540.28" r="1.35" fill="#000" />
<circle cx="457.18" cy="537.06" r="1.35" fill="#000" />
<circle cx="463.63" cy="547.9" r="1.35" fill="#000" />
<circle cx="470.09" cy="542.04" r="1.35" fill="#000" />
<circle cx="476.54" cy="549.95" r="1.35" fill="#000" />
<circle cx="482.99" cy="554.35" r="1.35" fill="#000" />
<circle cx="489.45" cy="552" r="1.35" fill="#000" />
<circle cx="495.9" cy="552.88" r="1.35" fill="#000" />
<circle cx="502.36" cy="549.95" r="1.35" fill="#000" />
<circle cx="508.81" cy="553.17" r="1.35" fill="#000" />
<circle cx="515.26" cy="551.71" r="1.35" fill="#000" />
<circle cx="521.72" cy="554.05" r="1.35" fill="#000" />
<circle cx="528.17" cy="564.6" r="1.35" fill="#000" />
<circle cx="534.63" cy="564.6" r="1.35" fill="#000" />
<circle cx="541.08" cy="564.6" r="1.35" fill="#000" />
<circle cx="547.53" cy="564.6" r="1.35" fill="#000" />
<circle cx="553.99" cy="564.6" r="1.35" fill="#000" />
<circle cx="560.44" cy="564.6" r="1.35" fill="#000" />
<circle cx="566.9" cy="564.6" r="1.35" fill="#000" />
<circle cx="573.35" cy="564.6" r="1.35" fill="#000" />
<circle cx="579.8" cy="564.6" r="1.35" fill="#000" />
<circle cx="586.26" cy="564.6" r="1.35" fill="#000" />
<circle cx="592.71" cy="564.6" r="1.35" fill="#000" />
<circle cx="599.17" cy="564.6" r="1.35" fill="#000" />
<circle cx="605.62" cy="564.6" r="1.35" fill="#000" />
<circle cx="612.07" cy="564.6" r="1.35" fill="#000" />
<circle cx="618.53" cy="564.6" r="1.35" fill="#000" />
<circle cx="624.98" cy="564.6" r="1.35" fill="#000" />
<circle cx="631.44" cy="564.6" r="1.35" fill="#000" />
<circle cx="637.89" cy="564.6" r="1.35" fill="#000" />
<circle cx="644.34" cy="564.6" r="1.35" fill="#000" />
<circle cx="650.8" cy="564.6" r="1.35" fill="#000" />
<circle cx="657.25" cy="564.6" r="1.35" fill="#000" />
<circle cx="663.71" cy="564.6" r="1.35" fill="#000" />
<circle cx="670.16" cy="564.6" r="1.35" fill="#000" />
<circle cx="676.61" cy="564.6" r="1.35" fill="#000" />
<text x="412" y="525.24" font-size="5.9" text-anchor="middle" fill="#1a1a1a" stroke="#1a1a1a" stroke-width="0.12">120</text>
<text x="418.45" y="531.69" font-size="5.9" text-anchor="middle" fill="#1a1a1a" stroke="#1a1a1a" stroke-width="0.12">98</text>
<text x="424.91" y="513.81" font-size="5.9" text-anchor="middle" fill="#1a1a1a" stroke="#1a1a1a" stroke-width="0.12">159</text>
<text x="431.36" y="535.5" font-size="5.9" text-anchor="middle" fill="#1a1a1a" stroke="#1a1a1a" stroke-width="0.12">85</text>
<text x="437.82" y="536.96" font-size="5.9" text-anchor="middle" fill="#1a1a1a" stroke="#1a1a1a" stroke-width="0.12">80</text>
<text x="444.27" y="540.48" font-size="5.9" text-anchor="middle" fill="#1a1a1a" stroke="#1a1a1a" stroke-width="0.12">68</text>
<text x="450.72" y="536.08" font-size="5.9" text-anchor="middle" fill="#1a1a1a" stroke="#1a1a1a" stroke-width="0.12">83</text>
<text x="457.18" y="532.86" font-size="5.9" text-anchor="middle" fill="#1a1a1a" stroke="#1a1a1a" stroke-width="0.12">94</text>
<text x="463.63" y="543.7" font-size="5.9" text-anchor="middle" fill="#1a1a1a" stroke="#1a1a1a" stroke-width="0.12">57</text>
<text x="470.09" y="537.84" font-size="5.9" text-anchor="middle" fill="#1a1a1a" stroke="#1a1a1a" stroke-width="0.12">77</text>
<text x="476.54" y="545.75" font-size="5.9" text-anchor="middle" fill="#1a1a1a" stroke="#1a1a1a" stroke-width="0.12">50</text>
<text x="482.99" y="550.14" font-size="5.9" text-anchor="middle" fill="#1a1a1a" stroke="#1a1a1a" stroke-width="0.12">35</text>
<text x="489.45" y="547.8" font-size="5.9" text-anchor="middle" fill="#1a1a1a" stroke="#1a1a1a" stroke-width="0.12">43</text>
<text x="495.9" y="548.68" font-size="5.9" text-anchor="middle" fill="#1a1a1a" stroke="#1a1a1a" stroke-width="0.12">40</text>
<text x="502.36" y="545.75" font-size="5.9" text-anchor="middle" fill="#1a1a1a" stroke="#1a1a1a" stroke-width="0.12">50</text>
<text x="508.81" y="548.97" font-size="5.9" text-anchor="middle" fill="#1a1a1a" stroke="#1a1a1a" stroke-width="0.12">39</text>
<text x="515.26" y="547.51" font-size="5.9" text-anchor="middle" fill="#1a1a1a" stroke="#1a1a1a" stroke-width="0.12">44</text>
<text x="521.72" y="549.85" font-size="5.9" text-anchor="middle" fill="#1a1a1a" stroke="#1a1a1a" stroke-width="0.12">36</text>
<text x="528.17" y="560" font-size="5.9" text-anchor="middle" fill="#1a1a1a" stroke="#1a1a1a" stroke-width="0.12">0</text>
<text x="534.63" y="560" font-size="5.9" text-anchor="middle" fill="#1a1a1a" stroke="#1a1a1a" stroke-width="0.12">0</text>
<text x="541.08" y="560" font-size="5.9" text-anchor="middle" fill="#1a1a1a" stroke="#1a1a1a" stroke-width="0.12">0</text>
<text x="547.53" y="560" font-size="5.9" text-anchor="middle" fill="#1a1a1a" stroke="#1a1a1a" stroke-width="0.12">0</text>
<text x="553.99" y="560" font-size="5.9" text-anchor="middle" fill="#1a1a1a" stroke="#1a1a1a" stroke-width="0.12">0</text>
<text x="560.44" y="560" font-size="5.9" text-anchor="middle" fill="#1a1a1a" stroke="#1a1a1a" stroke-width="0.12">0</text>
<text x="566.9" y="560" font-size="5.9" text-anchor="middle" fill="#1a1a1a" stroke="#1a1a1a" stroke-width="0.12">0</text>
<text x="573.35" y="560" font-size="5.9" text-anchor="middle" fill="#1a1a1a" stroke="#1a1a1a" stroke-width="0.12">0</text>
<text x="579.8" y="560" font-size="5.9" text-anchor="middle" fill="#1a1a1a" stroke="#1a1a1a" stroke-width="0.12">0</text>
<text x="586.26" y="560" font-size="5.9" text-anchor="middle" fill="#1a1a1a" stroke="#1a1a1a" stroke-width="0.12">0</text>
<text x="592.71" y="560" font-size="5.9" text-anchor="middle" fill="#1a1a1a" stroke="#1a1a1a" stroke-width="0.12">0</text>
<text x="599.17" y="560" font-size="5.9" text-anchor="middle" fill="#1a1a1a" stroke="#1a1a1a" stroke-width="0.12">0</text>
<text x="605.62" y="560" font-size="5.9" text-anchor="middle" fill="#1a1a1a" stroke="#1a1a1a" stroke-width="0.12">0</text>
<text x="612.07" y="560" font-size="5.9" text-anchor="middle" fill="#1a1a1a" stroke="#1a1a1a" stroke-width="0.12">0</text>
<text x="618.53" y="560" font-size="5.9" text-anchor="middle" fill="#1a1a1a" stroke="#1a1a1a" stroke-width="0.12">0</text>
<text x="624.98" y="560" font-size="5.9" text-anchor="middle" fill="#1a1a1a" stroke="#1a1a1a" stroke-width="0.12">0</text>
<text x="631.44" y="560" font-size="5.9" text-anchor="middle" fill="#1a1a1a" stroke="#1a1a1a" stroke-width="0.12">0</text>
<text x="637.89" y="560" font-size="5.9" text-anchor="middle" fill="#1a1a1a" stroke="#1a1a1a" stroke-width="0.12">0</text>
<text x="644.34" y="560" font-size="5.9" text-anchor="middle" fill="#1a1a1a" stroke="#1a1a1a" stroke-width="0.12">0</text>
<text x="650.8" y="560" font-size="5.9" text-anchor="middle" fill="#1a1a1a" stroke="#1a1a1a" stroke-width="0.12">0</text>
<text x="657.25" y="560" font-size="5.9" text-anchor="middle" fill="#1a1a1a" stroke="#1a1a1a" stroke-width="0.12">0</text>
<text x="663.71" y="560" font-size="5.9" text-anchor="middle" fill="#1a1a1a" stroke="#1a1a1a" stroke-width="0.12">0</text>
<text x="670.16" y="560" font-size="5.9" text-anchor="middle" fill="#1a1a1a" stroke="#1a1a1a" stroke-width="0.12">0</text>
<text x="676.61" y="560" font-size="5.9" text-anchor="middle" fill="#1a1a1a" stroke="#1a1a1a" stroke-width="0.12">0</text>
<rect x="406.3" y="184.6" width="276.8" height="382.4" fill="none" stroke="#7a7a7a" stroke-width="1.1"/>
<line x1="393.8" y1="567.2" x2="683.6" y2="567.2" stroke="#6a6a6a" stroke-width="1.2" />
<text x="413.9" y="568.6" font-size="5.25" font-weight="bold" text-anchor="end" fill="#000" transform="rotate(-90 413.9 568.6)" stroke="#000" stroke-width="0.1">CM042047.1</text>
<text x="420.35" y="568.6" font-size="5.25" font-weight="bold" text-anchor="end" fill="#000" transform="rotate(-90 420.35 568.6)" stroke="#000" stroke-width="0.1">CM042048.1</text>
<text x="426.81" y="568.6" font-size="5.25" font-weight="bold" text-anchor="end" fill="#000" transform="rotate(-90 426.81 568.6)" stroke="#000" stroke-width="0.1">CM042049.1</text>
<text x="433.26" y="568.6" font-size="5.25" font-weight="bold" text-anchor="end" fill="#000" transform="rotate(-90 433.26 568.6)" stroke="#000" stroke-width="0.1">CM042050.1</text>
<text x="439.72" y="568.6" font-size="5.25" font-weight="bold" text-anchor="end" fill="#000" transform="rotate(-90 439.72 568.6)" stroke="#000" stroke-width="0.1">CM042051.1</text>
<text x="446.17" y="568.6" font-size="5.25" font-weight="bold" text-anchor="end" fill="#000" transform="rotate(-90 446.17 568.6)" stroke="#000" stroke-width="0.1">CM042052.1</text>
<text x="452.62" y="568.6" font-size="5.25" font-weight="bold" text-anchor="end" fill="#000" transform="rotate(-90 452.62 568.6)" stroke="#000" stroke-width="0.1">CM042053.1</text>
<text x="459.08" y="568.6" font-size="5.25" font-weight="bold" text-anchor="end" fill="#000" transform="rotate(-90 459.08 568.6)" stroke="#000" stroke-width="0.1">CM042054.1</text>
<text x="465.53" y="568.6" font-size="5.25" font-weight="bold" text-anchor="end" fill="#000" transform="rotate(-90 465.53 568.6)" stroke="#000" stroke-width="0.1">CM042055.1</text>
<text x="471.99" y="568.6" font-size="5.25" font-weight="bold" text-anchor="end" fill="#000" transform="rotate(-90 471.99 568.6)" stroke="#000" stroke-width="0.1">CM042056.1</text>
<text x="478.44" y="568.6" font-size="5.25" font-weight="bold" text-anchor="end" fill="#000" transform="rotate(-90 478.44 568.6)" stroke="#000" stroke-width="0.1">CM042057.1</text>
<text x="484.89" y="568.6" font-size="5.25" font-weight="bold" text-anchor="end" fill="#000" transform="rotate(-90 484.89 568.6)" stroke="#000" stroke-width="0.1">CM042058.1</text>
<text x="491.35" y="568.6" font-size="5.25" font-weight="bold" text-anchor="end" fill="#000" transform="rotate(-90 491.35 568.6)" stroke="#000" stroke-width="0.1">CM042059.1</text>
<text x="497.8" y="568.6" font-size="5.25" font-weight="bold" text-anchor="end" fill="#000" transform="rotate(-90 497.8 568.6)" stroke="#000" stroke-width="0.1">CM042060.1</text>
<text x="504.26" y="568.6" font-size="5.25" font-weight="bold" text-anchor="end" fill="#000" transform="rotate(-90 504.26 568.6)" stroke="#000" stroke-width="0.1">CM042061.1</text>
<text x="510.71" y="568.6" font-size="5.25" font-weight="bold" text-anchor="end" fill="#000" transform="rotate(-90 510.71 568.6)" stroke="#000" stroke-width="0.1">CM042062.1</text>
<text x="517.16" y="568.6" font-size="5.25" font-weight="bold" text-anchor="end" fill="#000" transform="rotate(-90 517.16 568.6)" stroke="#000" stroke-width="0.1">CM042063.1</text>
<text x="523.62" y="568.6" font-size="5.25" font-weight="bold" text-anchor="end" fill="#000" transform="rotate(-90 523.62 568.6)" stroke="#000" stroke-width="0.1">CM042064.1</text>
<text x="530.07" y="568.6" font-size="5.25" font-weight="bold" text-anchor="end" fill="#000" transform="rotate(-90 530.07 568.6)" stroke="#000" stroke-width="0.1">JAKOEK010000027.1</text>
<text x="536.53" y="568.6" font-size="5.25" font-weight="bold" text-anchor="end" fill="#000" transform="rotate(-90 536.53 568.6)" stroke="#000" stroke-width="0.1">JAKOEK010000031.1</text>
<text x="542.98" y="568.6" font-size="5.25" font-weight="bold" text-anchor="end" fill="#000" transform="rotate(-90 542.98 568.6)" stroke="#000" stroke-width="0.1">JAKOEK010000033.1</text>
<text x="549.43" y="568.6" font-size="5.25" font-weight="bold" text-anchor="end" fill="#000" transform="rotate(-90 549.43 568.6)" stroke="#000" stroke-width="0.1">JAKOEK010000043.1</text>
<text x="555.89" y="568.6" font-size="5.25" font-weight="bold" text-anchor="end" fill="#000" transform="rotate(-90 555.89 568.6)" stroke="#000" stroke-width="0.1">JAKOEK010000044.1</text>
<text x="562.34" y="568.6" font-size="5.25" font-weight="bold" text-anchor="end" fill="#000" transform="rotate(-90 562.34 568.6)" stroke="#000" stroke-width="0.1">JAKOEK010000051.1</text>
<text x="568.8" y="568.6" font-size="5.25" font-weight="bold" text-anchor="end" fill="#000" transform="rotate(-90 568.8 568.6)" stroke="#000" stroke-width="0.1">JAKOEK010000063.1</text>
<text x="575.25" y="568.6" font-size="5.25" font-weight="bold" text-anchor="end" fill="#000" transform="rotate(-90 575.25 568.6)" stroke="#000" stroke-width="0.1">JAKOEK010000083.1</text>
<text x="581.7" y="568.6" font-size="5.25" font-weight="bold" text-anchor="end" fill="#000" transform="rotate(-90 581.7 568.6)" stroke="#000" stroke-width="0.1">JAKOEK010000104.1</text>
<text x="588.16" y="568.6" font-size="5.25" font-weight="bold" text-anchor="end" fill="#000" transform="rotate(-90 588.16 568.6)" stroke="#000" stroke-width="0.1">JAKOEK010000147.1</text>
<text x="594.61" y="568.6" font-size="5.25" font-weight="bold" text-anchor="end" fill="#000" transform="rotate(-90 594.61 568.6)" stroke="#000" stroke-width="0.1">JAKOEK010000154.1</text>
<text x="601.07" y="568.6" font-size="5.25" font-weight="bold" text-anchor="end" fill="#000" transform="rotate(-90 601.07 568.6)" stroke="#000" stroke-width="0.1">JAKOEK010000172.1</text>
<text x="607.52" y="568.6" font-size="5.25" font-weight="bold" text-anchor="end" fill="#000" transform="rotate(-90 607.52 568.6)" stroke="#000" stroke-width="0.1">JAKOEK010000185.1</text>
<text x="613.97" y="568.6" font-size="5.25" font-weight="bold" text-anchor="end" fill="#000" transform="rotate(-90 613.97 568.6)" stroke="#000" stroke-width="0.1">JAKOEK010000190.1</text>
<text x="620.43" y="568.6" font-size="5.25" font-weight="bold" text-anchor="end" fill="#000" transform="rotate(-90 620.43 568.6)" stroke="#000" stroke-width="0.1">JAKOEK010000218.1</text>
<text x="626.88" y="568.6" font-size="5.25" font-weight="bold" text-anchor="end" fill="#000" transform="rotate(-90 626.88 568.6)" stroke="#000" stroke-width="0.1">JAKOEK010000238.1</text>
<text x="633.34" y="568.6" font-size="5.25" font-weight="bold" text-anchor="end" fill="#000" transform="rotate(-90 633.34 568.6)" stroke="#000" stroke-width="0.1">JAKOEK010000254.1</text>
<text x="639.79" y="568.6" font-size="5.25" font-weight="bold" text-anchor="end" fill="#000" transform="rotate(-90 639.79 568.6)" stroke="#000" stroke-width="0.1">JAKOEK010000263.1</text>
<text x="646.24" y="568.6" font-size="5.25" font-weight="bold" text-anchor="end" fill="#000" transform="rotate(-90 646.24 568.6)" stroke="#000" stroke-width="0.1">JAKOEK010000266.1</text>
<text x="652.7" y="568.6" font-size="5.25" font-weight="bold" text-anchor="end" fill="#000" transform="rotate(-90 652.7 568.6)" stroke="#000" stroke-width="0.1">JAKOEK010000273.1</text>
<text x="659.15" y="568.6" font-size="5.25" font-weight="bold" text-anchor="end" fill="#000" transform="rotate(-90 659.15 568.6)" stroke="#000" stroke-width="0.1">JAKOEK010000284.1</text>
<text x="665.61" y="568.6" font-size="5.25" font-weight="bold" text-anchor="end" fill="#000" transform="rotate(-90 665.61 568.6)" stroke="#000" stroke-width="0.1">JAKOEK010000294.1</text>
<text x="672.06" y="568.6" font-size="5.25" font-weight="bold" text-anchor="end" fill="#000" transform="rotate(-90 672.06 568.6)" stroke="#000" stroke-width="0.1">JAKOEK010000297.1</text>
<text x="678.51" y="568.6" font-size="5.25" font-weight="bold" text-anchor="end" fill="#000" transform="rotate(-90 678.51 568.6)" stroke="#000" stroke-width="0.1">JAKOEK010000298.1</text>
<text x="2.2" y="316.1" font-size="16.5" font-weight="bold">E</text>
<rect x="29.2" y="329" width="43.6" height="11.9" fill="#a6c8ee" stroke="#4e5660" stroke-width="0.8"/>
<text x="30.9" y="336.9" font-size="7.38" fill="#111" stroke="#111" stroke-width="0.12">Folate polyglutamylation I</text>
<rect x="29.2" y="344.27" width="43.6" height="11.9" fill="#a6c8ee" stroke="#4e5660" stroke-width="0.8"/>
<text x="30.9" y="352.17" font-size="7.38" fill="#111" stroke="#111" stroke-width="0.12">Response to Aluminum stress</text>
<rect x="29.2" y="359.54" width="56.5" height="11.9" fill="#a6c8ee" stroke="#4e5660" stroke-width="0.8"/>
<text x="30.9" y="367.44" font-size="7.38" fill="#111" stroke="#111" stroke-width="0.12">Proline degradation</text>
<rect x="29.2" y="374.81" width="65.5" height="11.9" fill="#a6c8ee" stroke="#4e5660" stroke-width="0.8"/>
<text x="30.9" y="382.71" font-size="7.38" fill="#111" stroke="#111" stroke-width="0.12">NAD biosynthesis I (from aspartate)</text>
<rect x="29.2" y="390.08" width="68.2" height="11.9" fill="#a6c8ee" stroke="#4e5660" stroke-width="0.8"/>
<text x="30.9" y="397.98" font-size="7.38" fill="#111" stroke="#111" stroke-width="0.12">Salicylate biosynthesis</text>
<rect x="29.2" y="405.35" width="76.4" height="11.9" fill="#a6c8ee" stroke="#4e5660" stroke-width="0.8"/>
<text x="30.9" y="409.25" font-size="7.38" fill="#111" stroke="#111" stroke-width="0.12">UDP-D-glucuronate biosynthesis</text>
<text x="30.9" y="418.65" font-size="7.38" fill="#111" stroke="#111" stroke-width="0.12">(from myo-inositol)</text>
<rect x="29.2" y="420.62" width="93.8" height="11.9" fill="#a6c8ee" stroke="#4e5660" stroke-width="0.8"/>
<text x="30.9" y="428.52" font-size="7.38" fill="#111" stroke="#111" stroke-width="0.12">Glycine biosynthesis I</text>
<rect x="29.2" y="435.89" width="102.5" height="11.9" fill="#a6c8ee" stroke="#4e5660" stroke-width="0.8"/>
<text x="30.9" y="443.79" font-size="7.38" fill="#111" stroke="#111" stroke-width="0.12">Photorespiration</text>
<rect x="29.2" y="451.16" width="112.4" height="11.9" fill="#a6c8ee" stroke="#4e5660" stroke-width="0.8"/>
<text x="30.9" y="459.06" font-size="7.38" fill="#111" stroke="#111" stroke-width="0.12">Suberin biosynthesis</text>
<rect x="29.2" y="466.43" width="146.6" height="11.9" fill="#a6c8ee" stroke="#4e5660" stroke-width="0.8"/>
<text x="30.9" y="474.33" font-size="7.38" fill="#111" stroke="#111" stroke-width="0.12">Phenylpropanoid biosynthesis, initial reactions</text>
<line x1="29.2" y1="480.3" x2="177.6" y2="480.3" stroke="#b8b8b8" stroke-width="0.8" />
<line x1="29.2" y1="480.3" x2="29.2" y2="482.1" stroke="#444" stroke-width="0.6" />
<text x="29.2" y="487.6" font-size="4.9" text-anchor="middle" fill="#333">0</text>
<line x1="50.4" y1="480.3" x2="50.4" y2="482.1" stroke="#444" stroke-width="0.6" />
<text x="50.4" y="487.6" font-size="4.9" text-anchor="middle" fill="#333">0.2</text>
<line x1="71.6" y1="480.3" x2="71.6" y2="482.1" stroke="#444" stroke-width="0.6" />
<text x="71.6" y="487.6" font-size="4.9" text-anchor="middle" fill="#333">0.4</text>
<line x1="92.8" y1="480.3" x2="92.8" y2="482.1" stroke="#444" stroke-width="0.6" />
<text x="92.8" y="487.6" font-size="4.9" text-anchor="middle" fill="#333">0.6</text>
<line x1="114" y1="480.3" x2="114" y2="482.1" stroke="#444" stroke-width="0.6" />
<text x="114" y="487.6" font-size="4.9" text-anchor="middle" fill="#333">0.8</text>
<line x1="135.2" y1="480.3" x2="135.2" y2="482.1" stroke="#444" stroke-width="0.6" />
<text x="135.2" y="487.6" font-size="4.9" text-anchor="middle" fill="#333">1</text>
<line x1="156.4" y1="480.3" x2="156.4" y2="482.1" stroke="#444" stroke-width="0.6" />
<text x="156.4" y="487.6" font-size="4.9" text-anchor="middle" fill="#333">1.2</text>
<line x1="177.6" y1="480.3" x2="177.6" y2="482.1" stroke="#444" stroke-width="0.6" />
<text x="177.6" y="487.6" font-size="4.9" text-anchor="middle" fill="#333">1.4</text>
<text x="103.2" y="497.4" font-size="7.45" font-weight="bold" text-anchor="middle" fill="#111">-log10(pvalue)</text>
<rect x="209.9" y="329" width="38.7" height="11.9" fill="#a6c8ee" stroke="#4e5660" stroke-width="0.8"/>
<text x="211.6" y="336.9" font-size="7.38" fill="#111" stroke="#111" stroke-width="0.12">Nucleotide metabolism</text>
<rect x="209.9" y="344.27" width="41.5" height="11.9" fill="#a6c8ee" stroke="#4e5660" stroke-width="0.8"/>
<text x="211.6" y="352.17" font-size="7.38" fill="#111" stroke="#111" stroke-width="0.12">Methylerythritol phosphate pathway</text>
<rect x="209.9" y="359.54" width="41.7" height="11.9" fill="#a6c8ee" stroke="#4e5660" stroke-width="0.8"/>
<text x="211.6" y="367.44" font-size="7.38" fill="#111" stroke="#111" stroke-width="0.12">Lagging strand synthesis</text>
<rect x="209.9" y="374.81" width="50.7" height="11.9" fill="#a6c8ee" stroke="#4e5660" stroke-width="0.8"/>
<text x="211.6" y="382.71" font-size="7.38" fill="#111" stroke="#111" stroke-width="0.12">UDP-D-xylose biosynthesis</text>
<rect x="209.9" y="390.08" width="55.9" height="11.9" fill="#a6c8ee" stroke="#4e5660" stroke-width="0.8"/>
<text x="211.6" y="393.98" font-size="7.38" fill="#111" stroke="#111" stroke-width="0.12">Gibberellin biosynthesis III</text>
<text x="211.6" y="403.38" font-size="7.38" fill="#111" stroke="#111" stroke-width="0.12">(early C-13 hydroxylation)</text>
<rect x="209.9" y="405.35" width="65.3" height="11.9" fill="#a6c8ee" stroke="#4e5660" stroke-width="0.8"/>
<text x="211.6" y="413.25" font-size="7.38" fill="#111" stroke="#111" stroke-width="0.12">Pyridoxal 5'-phosphate biosynthesis</text>
<rect x="209.9" y="420.62" width="71.5" height="11.9" fill="#a6c8ee" stroke="#4e5660" stroke-width="0.8"/>
<text x="211.6" y="428.52" font-size="7.38" fill="#111" stroke="#111" stroke-width="0.12">UDP-L-arabinose biosynthesis and transport</text>
<rect x="209.9" y="435.89" width="80.1" height="11.9" fill="#a6c8ee" stroke="#4e5660" stroke-width="0.8"/>
<text x="211.6" y="443.79" font-size="7.38" fill="#111" stroke="#111" stroke-width="0.12">Thiamine biosynthesis</text>
<rect x="209.9" y="451.16" width="80.1" height="11.9" fill="#a6c8ee" stroke="#4e5660" stroke-width="0.8"/>
<text x="211.6" y="459.06" font-size="7.38" fill="#111" stroke="#111" stroke-width="0.12">PRPP biosynthesis I</text>
<rect x="209.9" y="466.43" width="134" height="11.9" fill="#a6c8ee" stroke="#4e5660" stroke-width="0.8"/>
<text x="211.6" y="474.33" font-size="7.38" fill="#111" stroke="#111" stroke-width="0.12">UDP-D-apiose biosynthesis</text>
<line x1="209.9" y1="480.3" x2="358.8" y2="480.3" stroke="#b8b8b8" stroke-width="0.8" />
<line x1="209.9" y1="480.3" x2="209.9" y2="482.1" stroke="#444" stroke-width="0.6" />
<text x="209.9" y="487.6" font-size="4.9" text-anchor="middle" fill="#333">0</text>
<line x1="228.51" y1="480.3" x2="228.51" y2="482.1" stroke="#444" stroke-width="0.6" />
<text x="228.51" y="487.6" font-size="4.9" text-anchor="middle" fill="#333">0.2</text>
<line x1="247.12" y1="480.3" x2="247.12" y2="482.1" stroke="#444" stroke-width="0.6" />
<text x="247.12" y="487.6" font-size="4.9" text-anchor="middle" fill="#333">0.4</text>
<line x1="265.74" y1="480.3" x2="265.74" y2="482.1" stroke="#444" stroke-width="0.6" />
<text x="265.74" y="487.6" font-size="4.9" text-anchor="middle" fill="#333">0.6</text>
<line x1="284.35" y1="480.3" x2="284.35" y2="482.1" stroke="#444" stroke-width="0.6" />
<text x="284.35" y="487.6" font-size="4.9" text-anchor="middle" fill="#333">0.8</text>
<line x1="302.96" y1="480.3" x2="302.96" y2="482.1" stroke="#444" stroke-width="0.6" />
<text x="302.96" y="487.6" font-size="4.9" text-anchor="middle" fill="#333">1</text>
<line x1="321.57" y1="480.3" x2="321.57" y2="482.1" stroke="#444" stroke-width="0.6" />
<text x="321.57" y="487.6" font-size="4.9" text-anchor="middle" fill="#333">1.2</text>
<line x1="340.18" y1="480.3" x2="340.18" y2="482.1" stroke="#444" stroke-width="0.6" />
<text x="340.18" y="487.6" font-size="4.9" text-anchor="middle" fill="#333">1.4</text>
<line x1="358.8" y1="480.3" x2="358.8" y2="482.1" stroke="#444" stroke-width="0.6" />
<text x="358.8" y="487.6" font-size="4.9" text-anchor="middle" fill="#333">1.6</text>
<text x="284.4" y="497.4" font-size="7.45" font-weight="bold" text-anchor="middle" fill="#111">-log10(pvalue)</text>
<text x="2.2" y="516.8" font-size="16.5" font-weight="bold">F</text>
<rect x="134.1" y="522.9" width="28.1" height="20.3" fill="#f8d733"/>
<rect x="161.9" y="522.9" width="28" height="20.3" fill="#fae134"/>
<rect x="189.6" y="522.9" width="28" height="20.3" fill="#fbe535"/>
<rect x="217.3" y="522.9" width="28" height="20.3" fill="#f8d433"/>
<rect x="245" y="522.9" width="28.1" height="20.3" fill="#eba834"/>
<rect x="272.8" y="522.9" width="27.4" height="20.3" fill="#edb434"/>
<rect x="134.1" y="542.9" width="28.1" height="20.7" fill="#f8d733"/>
<rect x="161.9" y="542.9" width="28" height="20.7" fill="#f9dc33"/>
<rect x="189.6" y="542.9" width="28" height="20.7" fill="#f6cf33"/>
<rect x="217.3" y="542.9" width="28" height="20.7" fill="#e38b31"/>
<rect x="245" y="542.9" width="28.1" height="20.7" fill="#e69832"/>
<rect x="272.8" y="542.9" width="27.4" height="20.7" fill="#e9a133"/>
<rect x="134.1" y="563.3" width="28.1" height="20.8" fill="#f7d333"/>
<rect x="161.9" y="563.3" width="28" height="20.8" fill="#f4c934"/>
<rect x="189.6" y="563.3" width="28" height="20.8" fill="#f7d533"/>
<rect x="217.3" y="563.3" width="28" height="20.8" fill="#d0392a"/>
<rect x="245" y="563.3" width="28.1" height="20.8" fill="#cc2f26"/>
<rect x="272.8" y="563.3" width="27.4" height="20.8" fill="#9d1c45"/>
<rect x="134.1" y="583.8" width="28.1" height="16.8" fill="#4a148d"/>
<rect x="161.9" y="583.8" width="28" height="16.8" fill="#eeab34"/>
<rect x="189.6" y="583.8" width="28" height="16.8" fill="#cc3427"/>
<rect x="217.3" y="583.8" width="28" height="16.8" fill="#ecaa34"/>
<rect x="245" y="583.8" width="28.1" height="16.8" fill="#f4c734"/>
<rect x="272.8" y="583.8" width="27.4" height="16.8" fill="#f8d833"/>
<text x="124.8" y="538.8" font-size="6.8" text-anchor="end" fill="#222" font-style="italic" stroke="#222" stroke-width="0.1">L6452_29839</text>
<text x="124.8" y="557.3" font-size="6.8" text-anchor="end" fill="#222" font-style="italic" stroke="#222" stroke-width="0.1">L6452_06931</text>
<text x="124.8" y="575.9" font-size="6.8" text-anchor="end" fill="#222" font-style="italic" stroke="#222" stroke-width="0.1">L6452_11144</text>
<text x="124.8" y="594.7" font-size="6.8" text-anchor="end" fill="#222" font-style="italic" stroke="#222" stroke-width="0.1">L6452_36719</text>
<text x="151.5" y="607.5" font-size="6.6" text-anchor="end" fill="#222" transform="rotate(-35 151.5 607.5)" stroke="#222" stroke-width="0.08">PRR1</text>
<text x="179.25" y="607.5" font-size="6.6" text-anchor="end" fill="#222" transform="rotate(-35 179.25 607.5)" stroke="#222" stroke-width="0.08">PRR2</text>
<text x="206.95" y="607.5" font-size="6.6" text-anchor="end" fill="#222" transform="rotate(-35 206.95 607.5)" stroke="#222" stroke-width="0.08">PRR3</text>
<text x="234.65" y="607.5" font-size="6.6" text-anchor="end" fill="#222" transform="rotate(-35 234.65 607.5)" stroke="#222" stroke-width="0.08">CT1</text>
<text x="262.4" y="607.5" font-size="6.6" text-anchor="end" fill="#222" transform="rotate(-35 262.4 607.5)" stroke="#222" stroke-width="0.08">CT2</text>
<text x="289.85" y="607.5" font-size="6.6" text-anchor="end" fill="#222" transform="rotate(-35 289.85 607.5)" stroke="#222" stroke-width="0.08">CT3</text>
<text x="29.6" y="540.2" font-size="7.4" font-weight="bold" fill="#111">FPKM</text>
<defs><linearGradient id="fp" x1="0" y1="0" x2="0" y2="1"><stop offset="0" stop-color="#3a0f98"/><stop offset="0.2" stop-color="#5e1589"/><stop offset="0.35" stop-color="#8a1a5c"/><stop offset="0.5" stop-color="#b82432"/><stop offset="0.66" stop-color="#df5a28"/><stop offset="0.82" stop-color="#eea630"/><stop offset="1" stop-color="#fbee1e"/></linearGradient></defs>
<rect x="31" y="545.3" width="8.9" height="45.7" fill="url(#fp)"/>
<line x1="31" y1="547.3" x2="32.6" y2="547.3" stroke="#fff" stroke-width="0.6" />
<line x1="38.3" y1="547.3" x2="39.9" y2="547.3" stroke="#fff" stroke-width="0.6" />
<text x="42.4" y="549.9" font-size="7.2" fill="#222" stroke="#222" stroke-width="0.08">15</text>
<line x1="31" y1="561.3" x2="32.6" y2="561.3" stroke="#fff" stroke-width="0.6" />
<line x1="38.3" y1="561.3" x2="39.9" y2="561.3" stroke="#fff" stroke-width="0.6" />
<text x="42.4" y="563.9" font-size="7.2" fill="#222" stroke="#222" stroke-width="0.08">10</text>
<line x1="31" y1="575.3" x2="32.6" y2="575.3" stroke="#fff" stroke-width="0.6" />
<line x1="38.3" y1="575.3" x2="39.9" y2="575.3" stroke="#fff" stroke-width="0.6" />
<text x="42.4" y="577.9" font-size="7.2" fill="#222" stroke="#222" stroke-width="0.08">5</text>
<line x1="31" y1="589.5" x2="32.6" y2="589.5" stroke="#fff" stroke-width="0.6" />
<line x1="38.3" y1="589.5" x2="39.9" y2="589.5" stroke="#fff" stroke-width="0.6" />
<text x="42.4" y="592.1" font-size="7.2" fill="#222" stroke="#222" stroke-width="0.08">0</text>
<rect x="308.7" y="522.4" width="55" height="77.2" fill="#fff"/>
<rect x="344.5" y="522.4" width="19.2" height="19.9" fill="#46536b"/>
<rect x="340" y="542.1" width="23.7" height="19.1" fill="#46536b"/>
<rect x="350.7" y="561" width="13" height="20.1" fill="#46536b"/>
<rect x="341.4" y="580.9" width="22.3" height="18.9" fill="#46536b"/>
<rect x="308.7" y="522.4" width="55" height="77.2" fill="none" stroke="#333" stroke-width="0.8"/>
<line x1="309" y1="599.6" x2="309" y2="601.4" stroke="#333" stroke-width="0.6" />
<text x="309" y="610.9" font-size="7" text-anchor="middle" fill="#333">0</text>
<line x1="336.1" y1="599.6" x2="336.1" y2="601.4" stroke="#333" stroke-width="0.6" />
<text x="336.1" y="610.9" font-size="7" text-anchor="middle" fill="#333">2</text>
<line x1="363.2" y1="599.6" x2="363.2" y2="601.4" stroke="#333" stroke-width="0.6" />
<text x="363.2" y="610.9" font-size="7" text-anchor="middle" fill="#333">4</text>
<text x="336.2" y="619.8" font-size="6.3" font-weight="bold" text-anchor="middle" fill="#111">|log2(fold change)|</text>
<text x="2.4" y="646.1" font-size="16.5" font-weight="bold">G</text>
<line x1="59.5" y1="663.9" x2="177.6" y2="663.9" stroke="#dcdcdc" stroke-width="0.7" />
<line x1="59.5" y1="701.1" x2="177.6" y2="701.1" stroke="#dcdcdc" stroke-width="0.7" />
<line x1="59.5" y1="663.9" x2="59.5" y2="701.1" stroke="#dcdcdc" stroke-width="0.7" />
<line x1="98.3" y1="663.9" x2="98.3" y2="701.1" stroke="#dcdcdc" stroke-width="0.7" />
<line x1="137.8" y1="663.9" x2="137.8" y2="701.1" stroke="#dcdcdc" stroke-width="0.7" />
<line x1="177.6" y1="663.9" x2="177.6" y2="701.1" stroke="#dcdcdc" stroke-width="0.7" />
<line x1="98.3" y1="701.1" x2="177.6" y2="701.1" stroke="#dcdcdc" stroke-width="0.7" />
<line x1="98.3" y1="738.9" x2="177.6" y2="738.9" stroke="#dcdcdc" stroke-width="0.7" />
<line x1="98.3" y1="701.1" x2="98.3" y2="738.9" stroke="#dcdcdc" stroke-width="0.7" />
<line x1="137.8" y1="701.1" x2="137.8" y2="738.9" stroke="#dcdcdc" stroke-width="0.7" />
<line x1="177.6" y1="701.1" x2="177.6" y2="738.9" stroke="#dcdcdc" stroke-width="0.7" />
<line x1="137.8" y1="738.9" x2="177.6" y2="738.9" stroke="#dcdcdc" stroke-width="0.7" />
<line x1="137.8" y1="775.7" x2="177.6" y2="775.7" stroke="#dcdcdc" stroke-width="0.7" />
<line x1="137.8" y1="738.9" x2="137.8" y2="775.7" stroke="#dcdcdc" stroke-width="0.7" />
<line x1="177.6" y1="738.9" x2="177.6" y2="775.7" stroke="#dcdcdc" stroke-width="0.7" />
<circle cx="78.9" cy="682.4" r="9.9" fill="#7ee88a" />
<text x="78.9" y="684" font-size="4.6" font-weight="bold" text-anchor="middle" fill="#000">-0.50</text>
<circle cx="118.2" cy="682.4" r="10.8" fill="#66e674" />
<text x="118.2" y="684" font-size="4.6" font-weight="bold" text-anchor="middle" fill="#000">-0.61</text>
<circle cx="157.6" cy="682.4" r="11.3" fill="#5ae66a" />
<text x="157.6" y="684" font-size="4.6" font-weight="bold" text-anchor="middle" fill="#000">-0.68</text>
<circle cx="118.2" cy="719.9" r="11.6" fill="#f2596f" />
<text x="118.2" y="721.5" font-size="4.6" font-weight="bold" text-anchor="middle" fill="#000">0.79</text>
<circle cx="157.6" cy="719.9" r="12.8" fill="#f03a55" />
<text x="157.6" y="721.5" font-size="4.6" font-weight="bold" text-anchor="middle" fill="#000">0.85</text>
<circle cx="157.6" cy="757.7" r="13.4" fill="#ee2c49" />
<text x="157.6" y="759.3" font-size="4.6" font-weight="bold" text-anchor="middle" fill="#000">0.89</text>
<text x="78.9" y="661.2" font-size="5.75" font-weight="bold" text-anchor="middle" fill="#000" font-style="italic">L6452_29839</text>
<text x="118.2" y="661.2" font-size="5.75" font-weight="bold" text-anchor="middle" fill="#000" font-style="italic">L6452_06931</text>
<text x="157.6" y="661.2" font-size="5.75" font-weight="bold" text-anchor="middle" fill="#000" font-style="italic">L6452_11144</text>
<text x="56.4" y="684.5" font-size="5.75" font-weight="bold" text-anchor="end" fill="#000" font-style="italic">L6452_36719</text>
<text x="94.9" y="722" font-size="5.75" font-weight="bold" text-anchor="end" fill="#000" font-style="italic">L6452_29839</text>
<text x="133.7" y="759.8" font-size="5.75" font-weight="bold" text-anchor="end" fill="#000" font-style="italic">L6452_06931</text>
<defs><linearGradient id="cg" x1="0" y1="0" x2="0" y2="1"><stop offset="0" stop-color="#e8173a"/><stop offset="0.5" stop-color="#ffffff"/><stop offset="1" stop-color="#11cc22"/></linearGradient></defs>
<rect x="178.6" y="663.4" width="3.6" height="113.3" fill="url(#cg)"/>
<text x="184.6" y="665.8" font-size="5.4" fill="#333">1</text>
<text x="184.6" y="676.98" font-size="5.4" fill="#333">0.8</text>
<text x="184.6" y="688.16" font-size="5.4" fill="#333">0.6</text>
<text x="184.6" y="699.34" font-size="5.4" fill="#333">0.4</text>
<text x="184.6" y="710.52" font-size="5.4" fill="#333">0.2</text>
<text x="184.6" y="721.7" font-size="5.4" fill="#333">0</text>
<text x="184.6" y="732.88" font-size="5.4" fill="#333">-0.2</text>
<text x="184.6" y="744.06" font-size="5.4" fill="#333">-0.4</text>
<text x="184.6" y="755.24" font-size="5.4" fill="#333">-0.6</text>
<text x="184.6" y="766.42" font-size="5.4" fill="#333">-0.8</text>
<text x="184.6" y="777.6" font-size="5.4" fill="#333">-1</text>
<text x="199.7" y="646.1" font-size="16.5" font-weight="bold">H</text>
<rect x="486.1" y="667.2" width="113.1" height="79.1" fill="#fff"/>
<line x1="509.6" y1="667.2" x2="509.6" y2="746.3" stroke="#f2f2f2" stroke-width="0.5" />
<line x1="546" y1="667.2" x2="546" y2="746.3" stroke="#f2f2f2" stroke-width="0.5" />
<line x1="582.4" y1="667.2" x2="582.4" y2="746.3" stroke="#f2f2f2" stroke-width="0.5" />
<line x1="491.4" y1="667.2" x2="491.4" y2="746.3" stroke="#e6e6e6" stroke-width="0.8" />
<line x1="527.8" y1="667.2" x2="527.8" y2="746.3" stroke="#e6e6e6" stroke-width="0.8" />
<line x1="564.2" y1="667.2" x2="564.2" y2="746.3" stroke="#e6e6e6" stroke-width="0.8" />
<line x1="486.1" y1="674.8" x2="599.2" y2="674.8" stroke="#e6e6e6" stroke-width="0.8" />
<line x1="486.1" y1="687.7" x2="599.2" y2="687.7" stroke="#e6e6e6" stroke-width="0.8" />
<line x1="486.1" y1="700.4" x2="599.2" y2="700.4" stroke="#e6e6e6" stroke-width="0.8" />
<line x1="486.1" y1="713.1" x2="599.2" y2="713.1" stroke="#e6e6e6" stroke-width="0.8" />
<line x1="486.1" y1="726" x2="599.2" y2="726" stroke="#e6e6e6" stroke-width="0.8" />
<line x1="486.1" y1="738.7" x2="599.2" y2="738.7" stroke="#e6e6e6" stroke-width="0.8" />
<rect x="486.1" y="667.2" width="113.1" height="79.1" fill="none" stroke="#8c8c8c" stroke-width="0.8"/>
<circle cx="570.02" cy="674.8" r="3.7" fill="#18257a" />
<circle cx="577.67" cy="687.7" r="2.4" fill="#253a8a" />
<circle cx="570.02" cy="700.4" r="3.3" fill="#274395" />
<circle cx="562.74" cy="713.1" r="2.9" fill="#3b73a6" />
<circle cx="546" cy="726" r="1.1" fill="#2ef0dc" />
<circle cx="546" cy="738.7" r="1.1" fill="#2ef0dc" />
<line x1="483.8" y1="674.8" x2="486.1" y2="674.8" stroke="#555" stroke-width="0.7" />
<text x="480.2" y="678.5" font-size="10.45" text-anchor="end" fill="#222" stroke="#222" stroke-width="0.1">Carboxylic acid metabolic process</text>
<line x1="483.8" y1="687.7" x2="486.1" y2="687.7" stroke="#555" stroke-width="0.7" />
<text x="480.2" y="690.94" font-size="10.45" text-anchor="end" fill="#222" stroke="#222" stroke-width="0.1">Nucleobase-containing small molecule metabolic process</text>
<line x1="483.8" y1="700.4" x2="486.1" y2="700.4" stroke="#555" stroke-width="0.7" />
<text x="480.2" y="703.38" font-size="10.45" text-anchor="end" fill="#222" stroke="#222" stroke-width="0.1">Carbohydrate derivative metabolic process</text>
<line x1="483.8" y1="713.1" x2="486.1" y2="713.1" stroke="#555" stroke-width="0.7" />
<text x="480.2" y="715.82" font-size="10.45" text-anchor="end" fill="#222" stroke="#222" stroke-width="0.1">Small molecule biosynthetic process</text>
<line x1="483.8" y1="726" x2="486.1" y2="726" stroke="#555" stroke-width="0.7" />
<text x="480.2" y="728.26" font-size="10.45" text-anchor="end" fill="#222" stroke="#222" stroke-width="0.1">Organic acid biosynthetic process</text>
<line x1="483.8" y1="738.7" x2="486.1" y2="738.7" stroke="#555" stroke-width="0.7" />
<text x="480.2" y="740.7" font-size="10.45" text-anchor="end" fill="#222" stroke="#222" stroke-width="0.1">Carboxylic acid biosynthetic process</text>
<line x1="491.4" y1="746.3" x2="491.4" y2="748.8" stroke="#333" stroke-width="0.7" />
<text x="491.4" y="761" font-size="10" text-anchor="middle" fill="#222" stroke="#222" stroke-width="0.1">0</text>
<line x1="527.8" y1="746.3" x2="527.8" y2="748.8" stroke="#333" stroke-width="0.7" />
<text x="527.8" y="761" font-size="10" text-anchor="middle" fill="#222" stroke="#222" stroke-width="0.1">2</text>
<line x1="564.2" y1="746.3" x2="564.2" y2="748.8" stroke="#333" stroke-width="0.7" />
<text x="564.2" y="761" font-size="10" text-anchor="middle" fill="#222" stroke="#222" stroke-width="0.1">4</text>
<text x="542.6" y="775.9" font-size="11.9" font-weight="bold" text-anchor="middle" fill="#111">Z-score</text>
<text x="605" y="678.9" font-size="5.9" font-weight="bold" fill="#111">-log10(pvalue)</text>
<defs><linearGradient id="hg" x1="0" y1="0" x2="0" y2="1"><stop offset="0" stop-color="#1a2878"/><stop offset="0.45" stop-color="#2c6a9c"/><stop offset="1" stop-color="#2cf2de"/></linearGradient></defs>
<rect x="617.2" y="685.8" width="9.5" height="52.9" fill="url(#hg)"/>
<line x1="617.2" y1="686.4" x2="618.8" y2="686.4" stroke="#fff" stroke-width="0.5" />
<line x1="625.1" y1="686.4" x2="626.7" y2="686.4" stroke="#fff" stroke-width="0.5" />
<text x="630" y="688.3" font-size="5.5" fill="#333">3.2</text>
<line x1="617.2" y1="702.4" x2="618.8" y2="702.4" stroke="#fff" stroke-width="0.5" />
<line x1="625.1" y1="702.4" x2="626.7" y2="702.4" stroke="#fff" stroke-width="0.5" />
<text x="630" y="704.3" font-size="5.5" fill="#333">2.8</text>
<line x1="617.2" y1="718.4" x2="618.8" y2="718.4" stroke="#fff" stroke-width="0.5" />
<line x1="625.1" y1="718.4" x2="626.7" y2="718.4" stroke="#fff" stroke-width="0.5" />
<text x="630" y="720.3" font-size="5.5" fill="#333">2.4</text>
<line x1="617.2" y1="734.4" x2="618.8" y2="734.4" stroke="#fff" stroke-width="0.5" />
<line x1="625.1" y1="734.4" x2="626.7" y2="734.4" stroke="#fff" stroke-width="0.5" />
<text x="630" y="736.3" font-size="5.5" fill="#333">2.0</text>
<text x="657" y="678.9" font-size="5.9" font-weight="bold" fill="#111">count</text>
<circle cx="661.8" cy="686.6" r="1.2" fill="#000" />
<text x="669" y="688.9" font-size="6.5" fill="#222">5</text>
<circle cx="661.8" cy="698.4" r="2.6" fill="#000" />
<text x="669" y="700.7" font-size="6.5" fill="#222">6</text>
<circle cx="661.8" cy="710.1" r="3.1" fill="#000" />
<text x="669" y="712.4" font-size="6.5" fill="#222">7</text>
<circle cx="661.8" cy="722" r="3.6" fill="#000" />
<text x="669" y="724.3" font-size="6.5" fill="#222">8</text>
<circle cx="661.8" cy="734" r="4.1" fill="#000" />
<text x="669" y="736.3" font-size="6.5" fill="#222">9</text>
<text x="6.6" y="798.5" font-size="16.5" font-weight="bold">I</text>
<line x1="240.7" y1="820.1" x2="256.22" y2="820.1" stroke="#8a8a8a" stroke-width="0.9" />
<line x1="256.22" y1="818.1" x2="256.22" y2="822.1" stroke="#8a8a8a" stroke-width="0.9" />
<rect x="58.6" y="815.9" width="182.1" height="8.4" fill="#efefef" stroke="#2a2a2a" stroke-width="0.9"/>
<line x1="56.3" y1="820.1" x2="58.6" y2="820.1" stroke="#333" stroke-width="0.8" />
<text x="51.2" y="823.4" font-size="9.2" text-anchor="end" fill="#1a1a1a" stroke="#1a1a1a" stroke-width="0.12">CT</text>
<line x1="177.01" y1="832" x2="208.45" y2="832" stroke="#8a8a8a" stroke-width="0.9" />
<line x1="208.45" y1="830" x2="208.45" y2="834" stroke="#8a8a8a" stroke-width="0.9" />
<rect x="58.6" y="827.5" width="118.41" height="9" fill="#efefef" stroke="#2a2a2a" stroke-width="0.9"/>
<line x1="56.3" y1="832" x2="58.6" y2="832" stroke="#333" stroke-width="0.8" />
<text x="51.2" y="835.3" font-size="9.2" text-anchor="end" fill="#1a1a1a" stroke="#1a1a1a" stroke-width="0.12">PRR</text>
<line x1="121.89" y1="844.05" x2="137.4" y2="844.05" stroke="#8a8a8a" stroke-width="0.9" />
<line x1="137.4" y1="842.05" x2="137.4" y2="846.05" stroke="#8a8a8a" stroke-width="0.9" />
<rect x="58.6" y="839.5" width="63.29" height="9.1" fill="#efefef" stroke="#2a2a2a" stroke-width="0.9"/>
<line x1="56.3" y1="844.05" x2="58.6" y2="844.05" stroke="#333" stroke-width="0.8" />
<text x="51.2" y="847.35" font-size="9.2" text-anchor="end" fill="#1a1a1a" stroke="#1a1a1a" stroke-width="0.12">ARR</text>
<line x1="58.6" y1="814.7" x2="58.6" y2="849.4" stroke="#333" stroke-width="1" />
<line x1="56.3" y1="815" x2="58.6" y2="815" stroke="#333" stroke-width="0.8" />
<line x1="58.6" y1="849.4" x2="303.58" y2="849.4" stroke="#333" stroke-width="1" />
<line x1="58.6" y1="849.4" x2="58.6" y2="852.9" stroke="#333" stroke-width="0.9" />
<text x="58.6" y="864.7" font-size="8.9" text-anchor="middle" fill="#1a1a1a" stroke="#1a1a1a" stroke-width="0.12">0</text>
<line x1="99.43" y1="849.4" x2="99.43" y2="852.9" stroke="#333" stroke-width="0.9" />
<text x="99.43" y="864.7" font-size="8.9" text-anchor="middle" fill="#1a1a1a" stroke="#1a1a1a" stroke-width="0.12">10</text>
<line x1="140.26" y1="849.4" x2="140.26" y2="852.9" stroke="#333" stroke-width="0.9" />
<text x="140.26" y="864.7" font-size="8.9" text-anchor="middle" fill="#1a1a1a" stroke="#1a1a1a" stroke-width="0.12">20</text>
<line x1="181.09" y1="849.4" x2="181.09" y2="852.9" stroke="#333" stroke-width="0.9" />
<text x="181.09" y="864.7" font-size="8.9" text-anchor="middle" fill="#1a1a1a" stroke="#1a1a1a" stroke-width="0.12">30</text>
<line x1="221.92" y1="849.4" x2="221.92" y2="852.9" stroke="#333" stroke-width="0.9" />
<text x="221.92" y="864.7" font-size="8.9" text-anchor="middle" fill="#1a1a1a" stroke="#1a1a1a" stroke-width="0.12">40</text>
<line x1="262.75" y1="849.4" x2="262.75" y2="852.9" stroke="#333" stroke-width="0.9" />
<text x="262.75" y="864.7" font-size="8.9" text-anchor="middle" fill="#1a1a1a" stroke="#1a1a1a" stroke-width="0.12">50</text>
<line x1="303.58" y1="849.4" x2="303.58" y2="852.9" stroke="#333" stroke-width="0.9" />
<text x="303.58" y="864.7" font-size="8.9" text-anchor="middle" fill="#1a1a1a" stroke="#1a1a1a" stroke-width="0.12">60</text>
<text x="181.4" y="881.2" font-size="10.4" font-weight="bold" text-anchor="middle" fill="#111">Average content of amylose (mg/g)</text>

<line x1="121.9" y1="843.8" x2="240.5" y2="820" stroke="#8ca03c" stroke-width="0.9" stroke-dasharray="1.2 1.2"/>
<line x1="262.1" y1="819.3" x2="262.1" y2="831.8" stroke="#8a8a8a" stroke-width="1.3" />
<text x="263" y="832.6" font-size="12.5" fill="#000">*</text>
<line x1="278.8" y1="819.3" x2="278.8" y2="842.2" stroke="#8a8a8a" stroke-width="1.3" />
<text x="275.8" y="823" font-size="12.5" fill="#000" transform="rotate(90 275.8 823)" letter-spacing="0.55">***</text>
<line x1="458.67" y1="820.1" x2="534.73" y2="820.1" stroke="#8a8a8a" stroke-width="0.9" />
<line x1="534.73" y1="818.1" x2="534.73" y2="822.1" stroke="#8a8a8a" stroke-width="0.9" />
<rect x="368" y="815.9" width="90.67" height="8.4" fill="#efefef" stroke="#2a2a2a" stroke-width="0.9"/>
<line x1="365.7" y1="820.1" x2="368" y2="820.1" stroke="#333" stroke-width="0.8" />
<text x="360.6" y="823.4" font-size="9.2" text-anchor="end" fill="#1a1a1a" stroke="#1a1a1a" stroke-width="0.12">CT</text>
<line x1="590.3" y1="832" x2="619.55" y2="832" stroke="#8a8a8a" stroke-width="0.9" />
<line x1="619.55" y1="830" x2="619.55" y2="834" stroke="#8a8a8a" stroke-width="0.9" />
<rect x="368" y="827.5" width="222.3" height="9" fill="#efefef" stroke="#2a2a2a" stroke-width="0.9"/>
<line x1="365.7" y1="832" x2="368" y2="832" stroke="#333" stroke-width="0.8" />
<text x="360.6" y="835.3" font-size="9.2" text-anchor="end" fill="#1a1a1a" stroke="#1a1a1a" stroke-width="0.12">PRR</text>
<line x1="574.7" y1="844.05" x2="624.42" y2="844.05" stroke="#8a8a8a" stroke-width="0.9" />
<line x1="624.42" y1="842.05" x2="624.42" y2="846.05" stroke="#8a8a8a" stroke-width="0.9" />
<rect x="368" y="839.5" width="206.7" height="9.1" fill="#efefef" stroke="#2a2a2a" stroke-width="0.9"/>
<line x1="365.7" y1="844.05" x2="368" y2="844.05" stroke="#333" stroke-width="0.8" />
<text x="360.6" y="847.35" font-size="9.2" text-anchor="end" fill="#1a1a1a" stroke="#1a1a1a" stroke-width="0.12">ARR</text>
<line x1="368" y1="814.7" x2="368" y2="849.4" stroke="#333" stroke-width="1" />
<line x1="365.7" y1="815" x2="368" y2="815" stroke="#333" stroke-width="0.8" />
<line x1="368" y1="849.4" x2="660.5" y2="849.4" stroke="#333" stroke-width="1" />
<line x1="368" y1="849.4" x2="368" y2="852.9" stroke="#333" stroke-width="0.9" />
<text x="368" y="864.7" font-size="8.9" text-anchor="middle" fill="#1a1a1a" stroke="#1a1a1a" stroke-width="0.12">720</text>
<line x1="416.75" y1="849.4" x2="416.75" y2="852.9" stroke="#333" stroke-width="0.9" />
<text x="416.75" y="864.7" font-size="8.9" text-anchor="middle" fill="#1a1a1a" stroke="#1a1a1a" stroke-width="0.12">725</text>
<line x1="465.5" y1="849.4" x2="465.5" y2="852.9" stroke="#333" stroke-width="0.9" />
<text x="465.5" y="864.7" font-size="8.9" text-anchor="middle" fill="#1a1a1a" stroke="#1a1a1a" stroke-width="0.12">730</text>
<line x1="514.25" y1="849.4" x2="514.25" y2="852.9" stroke="#333" stroke-width="0.9" />
<text x="514.25" y="864.7" font-size="8.9" text-anchor="middle" fill="#1a1a1a" stroke="#1a1a1a" stroke-width="0.12">735</text>
<line x1="563" y1="849.4" x2="563" y2="852.9" stroke="#333" stroke-width="0.9" />
<text x="563" y="864.7" font-size="8.9" text-anchor="middle" fill="#1a1a1a" stroke="#1a1a1a" stroke-width="0.12">740</text>
<line x1="611.75" y1="849.4" x2="611.75" y2="852.9" stroke="#333" stroke-width="0.9" />
<text x="611.75" y="864.7" font-size="8.9" text-anchor="middle" fill="#1a1a1a" stroke="#1a1a1a" stroke-width="0.12">745</text>
<line x1="660.5" y1="849.4" x2="660.5" y2="852.9" stroke="#333" stroke-width="0.9" />
<text x="660.5" y="864.7" font-size="8.9" text-anchor="middle" fill="#1a1a1a" stroke="#1a1a1a" stroke-width="0.12">750</text>
<text x="514.5" y="881.2" font-size="10.4" font-weight="bold" text-anchor="middle" fill="#111">Average content of amylopectin (mg/g)</text>

<line x1="483" y1="820.3" x2="598" y2="844" stroke="#8ca03c" stroke-width="0.9" stroke-dasharray="1.2 1.2"/>
<line x1="624.4" y1="820.3" x2="624.4" y2="831.8" stroke="#8a8a8a" stroke-width="1.3" />
<text x="625.4" y="833.6" font-size="12.5" fill="#000">*</text>
</svg>
</body></html>
